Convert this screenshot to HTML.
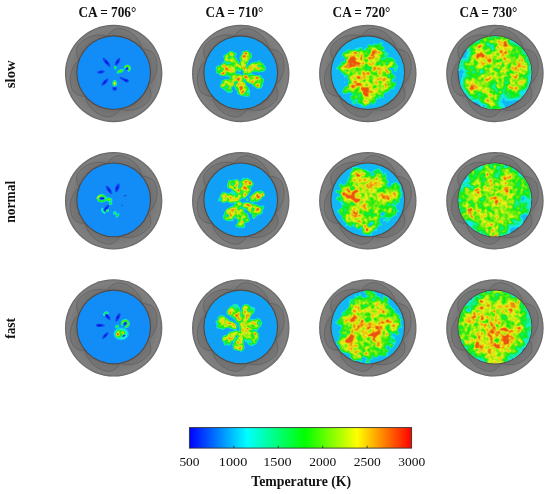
<!DOCTYPE html>
<html lang="en"><head><meta charset="utf-8"><title>Temperature contours</title>
<style>html,body{margin:0;padding:0;background:#fff}svg{display:block}text{font-family:"Liberation Serif","DejaVu Serif",serif;fill:#111}</style></head><body>
<svg width="550" height="494" viewBox="0 0 550 494">
<defs>
<radialGradient id="rg" gradientUnits="objectBoundingBox" cx="0.5" cy="0.5" r="0.5"><stop offset="0.76" stop-color="#747474"/><stop offset="0.86" stop-color="#7b7b7b"/><stop offset="0.955" stop-color="#808080"/><stop offset="0.985" stop-color="#6e6e6e"/><stop offset="1" stop-color="#5e5e5e"/></radialGradient>
<linearGradient id="cb" x1="0" x2="1" y1="0" y2="0"><stop offset="0" stop-color="#0000ff"/><stop offset="0.26" stop-color="#00ffff"/><stop offset="0.52" stop-color="#00ff00"/><stop offset="0.755" stop-color="#ffff00"/><stop offset="1" stop-color="#ff0000"/></linearGradient>
<filter id="soft" x="-5%" y="-5%" width="110%" height="110%" color-interpolation-filters="sRGB"><feGaussianBlur stdDeviation="0.45"/></filter>
<clipPath id="c00"><circle cx="113.65" cy="72.7" r="36.6"/></clipPath>
<clipPath id="c01"><circle cx="240.75" cy="72.7" r="36.6"/></clipPath>
<clipPath id="c02"><circle cx="367.8" cy="72.7" r="36.6"/></clipPath>
<clipPath id="c03"><circle cx="494.9" cy="72.7" r="36.6"/></clipPath>
<clipPath id="c10"><circle cx="113.65" cy="199.9" r="36.6"/></clipPath>
<clipPath id="c11"><circle cx="240.75" cy="199.9" r="36.6"/></clipPath>
<clipPath id="c12"><circle cx="367.8" cy="199.9" r="36.6"/></clipPath>
<clipPath id="c13"><circle cx="494.9" cy="199.9" r="36.6"/></clipPath>
<clipPath id="c20"><circle cx="113.65" cy="327" r="36.6"/></clipPath>
<clipPath id="c21"><circle cx="240.75" cy="327" r="36.6"/></clipPath>
<clipPath id="c22"><circle cx="367.8" cy="327" r="36.6"/></clipPath>
<clipPath id="c23"><circle cx="494.9" cy="327" r="36.6"/></clipPath>
</defs>
<rect width="550" height="494" fill="#ffffff"/>
<text x="78.5" y="17.1" font-size="14" font-weight="bold" textLength="57.8" lengthAdjust="spacingAndGlyphs">CA = 706°</text>
<text x="205.6" y="17.1" font-size="14" font-weight="bold" textLength="57.8" lengthAdjust="spacingAndGlyphs">CA = 710°</text>
<text x="332.6" y="17.1" font-size="14" font-weight="bold" textLength="57.8" lengthAdjust="spacingAndGlyphs">CA = 720°</text>
<text x="459.6" y="17.1" font-size="14" font-weight="bold" textLength="57.8" lengthAdjust="spacingAndGlyphs">CA = 730°</text>
<text transform="translate(15.4 88.2) rotate(-90)" font-size="15" font-weight="bold" textLength="27.9" lengthAdjust="spacingAndGlyphs">slow</text>
<text transform="translate(15.4 222.7) rotate(-90)" font-size="15" font-weight="bold" textLength="41.9" lengthAdjust="spacingAndGlyphs">normal</text>
<text transform="translate(15.4 338.8) rotate(-90)" font-size="15" font-weight="bold" textLength="20.8" lengthAdjust="spacingAndGlyphs">fast</text>
<g>
<circle cx="113.65" cy="73.5" r="48.7" fill="url(#rg)"/>
<path d="M107.2 36.4L108.3 34.8L109.5 33.3L110.8 32.0L112.2 30.8L113.7 29.8L115.2 29.1L116.7 28.6L118.3 28.4L119.9 28.4L121.5 28.7L123.1 29.1L124.6 29.6L126.2 30.1L127.7 30.8L129.1 31.6L130.5 32.4L131.8 33.4L133.1 34.4L134.3 35.4L135.4 36.6L136.5 37.8L137.5 39.0L138.4 40.3L139.2 41.7L139.9 43.1L140.6 44.5L141.2 46.0L141.6 47.4L141.9 49.0Z" fill="#646464" fill-opacity="0.24" stroke="#464646" stroke-opacity="0.55" stroke-width="0.7" stroke-linejoin="round"/>
<path d="M141.9 49.0L143.8 49.1L145.7 49.4L147.5 49.9L149.2 50.5L150.8 51.3L152.2 52.2L153.4 53.3L154.4 54.6L155.1 56.0L155.7 57.5L156.1 59.1L156.5 60.7L156.8 62.3L156.9 63.9L157.0 65.5L157.0 67.2L156.8 68.8L156.6 70.4L156.3 72.0L155.8 73.5L155.3 75.0L154.7 76.5L154.0 77.9L153.3 79.3L152.5 80.7L151.5 81.9L150.6 83.1L149.5 84.3L148.3 85.3Z" fill="#646464" fill-opacity="0.24" stroke="#464646" stroke-opacity="0.55" stroke-width="0.7" stroke-linejoin="round"/>
<path d="M148.3 85.3L149.1 87.0L149.8 88.8L150.3 90.6L150.7 92.4L150.8 94.1L150.7 95.8L150.3 97.4L149.7 98.9L148.9 100.2L147.8 101.5L146.7 102.7L145.5 103.8L144.2 104.8L142.9 105.8L141.5 106.6L140.1 107.4L138.6 108.1L137.1 108.7L135.6 109.2L134.0 109.6L132.5 110.0L130.9 110.2L129.3 110.3L127.7 110.3L126.2 110.3L124.6 110.1L123.1 109.9L121.6 109.6L120.1 109.0Z" fill="#646464" fill-opacity="0.24" stroke="#464646" stroke-opacity="0.55" stroke-width="0.7" stroke-linejoin="round"/>
<path d="M120.1 109.0L119.0 110.6L117.8 112.1L116.5 113.4L115.1 114.6L113.7 115.6L112.1 116.3L110.6 116.8L109.0 117.0L107.4 117.0L105.8 116.7L104.2 116.3L102.7 115.8L101.1 115.3L99.6 114.6L98.2 113.8L96.8 113.0L95.5 112.0L94.2 111.0L93.0 110.0L91.9 108.8L90.8 107.6L89.8 106.4L88.9 105.1L88.1 103.7L87.4 102.3L86.7 100.9L86.1 99.4L85.7 98.0L85.4 96.4Z" fill="#646464" fill-opacity="0.24" stroke="#464646" stroke-opacity="0.55" stroke-width="0.7" stroke-linejoin="round"/>
<path d="M85.4 96.4L83.5 96.3L81.6 96.0L79.8 95.5L78.1 94.9L76.5 94.1L75.1 93.2L73.9 92.1L72.9 90.8L72.2 89.4L71.6 87.9L71.2 86.3L70.8 84.7L70.5 83.1L70.4 81.5L70.3 79.9L70.3 78.2L70.5 76.6L70.7 75.0L71.0 73.4L71.5 71.9L72.0 70.4L72.6 68.9L73.3 67.5L74.0 66.1L74.8 64.7L75.8 63.5L76.7 62.3L77.8 61.1L79.0 60.1Z" fill="#646464" fill-opacity="0.24" stroke="#464646" stroke-opacity="0.55" stroke-width="0.7" stroke-linejoin="round"/>
<path d="M79.0 60.1L78.2 58.4L77.5 56.6L77.0 54.8L76.6 53.0L76.5 51.3L76.6 49.6L77.0 48.0L77.6 46.5L78.4 45.2L79.5 43.9L80.6 42.7L81.8 41.6L83.1 40.6L84.4 39.6L85.8 38.8L87.2 38.0L88.7 37.3L90.2 36.7L91.7 36.2L93.3 35.8L94.8 35.4L96.4 35.2L98.0 35.1L99.6 35.1L101.1 35.1L102.7 35.3L104.2 35.5L105.7 35.8L107.2 36.4Z" fill="#646464" fill-opacity="0.24" stroke="#464646" stroke-opacity="0.55" stroke-width="0.7" stroke-linejoin="round"/>
<circle cx="113.65" cy="72.7" r="37.4" fill="#544840"/>
<circle cx="113.65" cy="72.7" r="36.3" fill="#128cf6"/>
<g clip-path="url(#c00)"><g filter="url(#soft)">
<g transform="translate(114 72.9) scale(0.1)"><path fill="#13b8ef" d="M128 -83l4-1 6 1 10 2 4 3 0 1 6 3 9 12 2 4 2 6 0 14-2 6-2 4-4 6-1 0-4 6-6 3 0 1-4 2-6 0-4-2 0-1-5-5 0-4 1-6 4-3 0-1 5-6 1-4 0-6-2-4-4-4-7-2-9 5 0 1-4 4 0 1-10 7-6-1-5-7-2-4 0-6 3-4 2-6 8-7 4-3 6-3 7-1zM8 -71l4-1 6 1 3 3 1 3 3 3 2 10-2 10-7 9-8 1-2-1-5-5-1 0-3-4-1-6 0-10 1-4 4-6zM68 -40l10-2 10 0 10 2 2 2 2 6 0 4-2 6-2 3-2 1-4 4-4 5-6 3-6 4-8 4-3 0-7 4-6 1-4 0-6 1-6 0-4-1-4-2-3-3-2-4 1-6 4-5 4-6 11-9 15-8 6-2zM-2 71l4-2 6-1 4 1 6 4 4 5 4 4 1 6 1 0 2 4 1 6 0 14-1 6-2 4-1 0-2 6-7 7-9 3-5 0-6-2-6-3 0-1-4-4 0-2-3-4-2-10 0-14 2-10 5-10 2-3 4-3z"/>
<path fill="#15f0f0" d="M118 -78l4-2 6-1 10 0 9 3 5 3 3 3 3 1 4 7 2 2 2 4 2 10 0 7-2 9-2 4-2 2-2 4-8 7-4 1-6 0-5-4-2-4 2-6 7-10 2-4-2-10-6-6-6-1-6 1-4 3-4 6-3 1-3 3-4 1-6-2-3-6 0-6 1-4 4-6 5-4 3-4 5-2zM8 -69l4-1 6 3 4 5 0 2 2 2 0 10-2 3 0 3-4 4-6 3-6-3-4-5-2-5 0-10 2-4 1 0 3-5zM78 -38l10 0 4 2 4 4 1 4-2 6-3 2-4 6-2 2-7 4-1 2-6 2-4 3-10 3-10 2-10 0-6-3-2-3 0-6 2-5 4-5 6-5 10-7 7-2 3-3 14-3zM-2 77l4-3 6-1 4 2 4 3 2 0 3 4 5 10 1 6 0 14-1 6-2 4-2 2-1 4-3 3-6 3-4 1-6 0-10-8-3-5-1-6-2-4 0-14 2-4 1-6 3-6 5-4z"/>
<path fill="#13efb8" d="M122 -78l10-2 11 2 5 2 4 4 5 4 1 0 4 6 2 4 2 6 0 14-2 6-2 4-4 6-10 7-6-1-2-2-2-4 0-6 4-4 0-2 3-4 2-4 0-6-2-4-5-6-2-1-6-1-8 2-6 7-6 4-4 1-6-3-2-9 2-4 1 0 3-6 2-1 3-4 10-4zM12 -68l6 3 4 7 0 10-2 6-2 2-6 2-4-1-3-3-3-6 0-10 2-4 4-4 4-2zM68 -34l10-2 4 0 6 1 3 3 2 4-1 1-1 5-3 5-6 4 0 1-4 3-6 3-4 3-5 2-15 3-6 0-8-4-1-6 2-4 4-6 3-3 3-1 3-3 5-3 9-4 2 0zM2 77l6 0 4 1 6 4 4 9 1 1 2 6 0 14-2 6-5 9-6 4-4 1-6 0-6-4-4-5-2-5-2-10 0-6 2-10 5-10 7-4z"/>
<path fill="#12ed80" d="M128 -78l10 0 4 2 6 2 8 6 2 2 4 8 1 1 2 9 0 6-2 10-1 0-4 8-6 5-4 1-6-1-2-3 0-6 2-4 1 0 5-9 0-8-6-9-4-2-6-1-10 3-5 6-5 3-4 0-5-3-1-2 0-5 6-8 0-1 4-4 2 0 4-3 4-2 4-1zM8 -64l4-2 6 3 2 5 1 6-3 10-6 3-6-3-3-10 1-6 2-5zM72 -33l6-1 10 3 2 3-1 6-7 7-2 3-8 4-4 3-10 4-6 1-4 0-9-2-3-6 2-4 4-6 5-5 15-8 7-1zM2 80l6-1 7 3 3 3 3 7 1 5 1 1 0 14-1 1-1 5-3 6-4 4-6 2-6 0-4-3-6-8-2-7 0-14 2-7 6-8 0-1z"/>
<path fill="#10ec47" d="M118 -73l4-2 10-2 10 2 6 2 4 4 2 1 4 4 3 6 3 10 0 6-3 10-3 6-4 4-6 3-6-3-1-6 3-4 3-6 1 0 1-4 0-6-1-4-1 0-3-6-6-3-6-1-10 3-2 1-5 6-3 1-4 0-2-1-2-6 1-4 7-8 4-2zM12 -64l6 4 1 2 1 6-2 7-3 3-3 1-4-3-3-4 0-10 3-4zM62 -29l10-3 6 0 4 1 4 3 0 6-4 5-5 5-5 3-4 2-6 2-4 2-6 1-7 0-3-2-3-4 1-4 4-6 4-2 4-4 7-4zM2 82l6-1 4 2 5 5 1 0 2 4 2 10 0 6-2 10-2 4-1 0-5 5-4 1-6 0-6-6-3-4-2-10 0-6 1-7 1-3 5-6 4-4z"/>
<path fill="#0fea0f" d="M122 -74l6-1 10 0 4 1 6 3 5 3 4 6 1 0 2 4 2 10 1 0-3 16-2 4-1 0-4 6-5 1-3-1-2-6 5-7 2-7 0-6-2-6-3-4-7-4-6-1-10 2-4 5-5 4-5-1-3-5 6-10 7-4 1 0zM8 -59l4-3 6 4 0 10-1 0-5 4-4-2-2-6 1-5zM62 -28l10-2 6 0 5 2 1 6-2 1-4 6-3 3-3 1-4 3-2 0-3 2-11 2-10-3 1-5 3-6 2 0 4-4 0-1 6-2 4-3zM2 84l6-1 4 2 6 7 2 6 0 14-2 6-6 6-4 2-6 0-4-4-3-4-2-6 0-14 2-6 3-4z"/>
<path fill="#47ec10" d="M122 -73l6-1 10 0 12 6 8 9 3 11 0 6-3 9 0 2-6 6-4 2-3-5 3-5 3-9 0-6-1-4-3-6-7-4-2-2-6-1-4 1-4 2-2 0-4 4-6 3-5-2 2-5 3-5 10-5zM12 -59l2 1 1 6-1 4-3 0-3-4 2-6zM72 -28l6 0 2 6-2 5-6 4 0 1-4 2-10 3-6 1-5-2-1-4 3-6 13-7 6-2 0-1zM2 86l6 0 4 2 4 4 2 3 1 7 0 6-1 7-2 3-4 4-4 2-6-1-5-5-3-10 0-6 3-10 4-4z"/>
<path fill="#80ed12" d="M118 -68l4-2 6-2 4 0 10 2 6 2 8 10 2 3 1 7 0 6-1 6-3 4-3 5-4 0 4-11 0-4 1 0 0-6-1 0 0-4-4-7-10-7-10 0-6 2-1 2-3 1-6 4-1-1 0-4 1-2 5-4zM62 -23l10-2 4 3-2 4-6 6-6 1-4 2-6-1-2-2 2-6 8-4zM2 89l6-1 6 4 2 6 2 4 0 6-2 4-2 6-6 4-6-1-3-3-3-6 0-14 3-6z"/>
<path fill="#b8ef13" d="M2 92l6-1 3 1 5 10 0 6-5 10-3 1-6-1-4-9-1-1 0-6 5-10z"/>
<path fill="#f0f015" d="M2 96l6-2 4 4 1 4 0 6-1 4-4 4-6-2 0-2-2-4 0-6 2-4z"/>
<path fill="#1047ec" d="M-108 -151l6 1 4 2 2 0 8 6 6 4 6 6 5 4 5 6 4 4 4 6 4 4 4 6 2 4 1 0 5 9 3 7 1 4 1 0 1 6 0 4-3 6-3 1-6-1-10-5 0-1-4-3-3-1-7-7-6-5-4-5-4-3-6-9-2-1-3-6-1 0-3-4-1-4-2-2-4-7-3-7-2-10 1-6zM48 -148l4-1 6 0 4 7 0 10-2 10-3 5-1 5-4 6-1 4-3 4-1 0-3 6-2 1-4 6-6 6-2 1-2 3-6 1-4-2-6-1-2-1-2-4 0-6 2-10 4-10 4-6 1-4 3-4 1 0 3-6 2-1 4-6 6-6 2-1 2-3 5-3zM127 -54l5-1 6 1 4 6 1 0 0 6-3 4-2 4-6 5-3 1-1 3-6-2 0-1-4-4-1 0-2-6 7-12 3-2zM-138 -24l6-1 4 0 6-1 4 0 6 1 4 0 6 2 7 5 1 6-4 5-4 4-10 5-2 0-4 2-14 3-20 0-6-1-7-4-3-4 1-6 4-5 10-6 5-2 7-1zM58 41l4-1 6 0 8 2 12 4 4 2 6 2 4 2 0 1 6 2 6 3 4 0 14 3 6 3 8 8 2 5 1 5-1 5-6 6-4 2-10 0-6-1-4-2-6-2-4-2 0-1-6-3-1-2-3-1-6-4-4-2-4-3-2 0-4-3-6-3-4-4-6-5-7-9 0-6zM-68 56l6 0 5 6 0 6-3 10-2 4-1 0-3 6-7 10-5 4-4 6-6 4-4 5-9 5-7 4-6 2-6 0-5-6 0-4 1-6 2-4 2-6 3-4 3-6 2-1 6-9 5-4 3-4 9-6 1-2 6-3 0-1 4-2 6-2zM-8 142l6-1 4 1 10 0 6-1 5 1 4 6 1 0 2 4 0 6-2 8-1 2-4 4 0 1-9 5-6 1-9-1-7-4-6-6-3-10 2-10 5-6z"/>
<path fill="#0f0fea" d="M42 -128l2 0 3 6 0 4-2 6-3 4-4 8-10 8-2 0-3-6 0-4 2-6 3-4 4-8 10-8zM-88 -126l6 2 1 2 6 4 9 10 4 5 4 10 1 1 0 4-1 1-5 1-2-2-3-1-4-3 0-1-5-5-1 0-4-4 0-2-6-7-3-7-1-4zM127 -49l5-2 6 3 1 6-1 3-6 4-4-1-2-2-2-4 2-6zM-138 -14l10-2 10 2 2 2-2 4-4 3-10 3-8 0-2-1-4-5 5-4zM92 60l6 2 2 0 2 2 10 3 16 3 4 2 3 6-2 6-5 1-6 0-12-7-2-3-6-3-4-3-3-1-7-6zM-82 76l5 0 1 2 0 4-2 4 0 2-4 6-4 4-5 4-1 2-8 4-4 0-2-6 4-7 1-3 3-4 1 0 5-5 0-1 4-3 3-1zM-2 152l4-3 6-1 8 4 1 6-2 4-3 3-4 2-6-1-4-4-2-4 1-6z"/></g>
</g></g>
</g>
<g>
<circle cx="240.75" cy="73.5" r="48.7" fill="url(#rg)"/>
<path d="M234.3 36.4L235.4 34.8L236.6 33.3L237.9 32.0L239.3 30.8L240.8 29.8L242.3 29.1L243.8 28.6L245.4 28.4L247.0 28.4L248.6 28.7L250.2 29.1L251.7 29.6L253.3 30.1L254.8 30.8L256.2 31.6L257.6 32.4L258.9 33.4L260.2 34.4L261.4 35.4L262.5 36.6L263.6 37.8L264.6 39.0L265.5 40.3L266.3 41.7L267.0 43.1L267.7 44.5L268.3 46.0L268.7 47.4L269.0 49.0Z" fill="#646464" fill-opacity="0.24" stroke="#464646" stroke-opacity="0.55" stroke-width="0.7" stroke-linejoin="round"/>
<path d="M269.0 49.0L270.9 49.1L272.8 49.4L274.6 49.9L276.3 50.5L277.9 51.3L279.3 52.2L280.5 53.3L281.5 54.6L282.2 56.0L282.8 57.5L283.2 59.1L283.6 60.7L283.9 62.3L284.0 63.9L284.1 65.5L284.1 67.2L283.9 68.8L283.7 70.4L283.4 72.0L282.9 73.5L282.4 75.0L281.8 76.5L281.1 77.9L280.4 79.3L279.6 80.7L278.6 81.9L277.7 83.1L276.6 84.3L275.4 85.3Z" fill="#646464" fill-opacity="0.24" stroke="#464646" stroke-opacity="0.55" stroke-width="0.7" stroke-linejoin="round"/>
<path d="M275.4 85.3L276.2 87.0L276.9 88.8L277.4 90.6L277.8 92.4L277.9 94.1L277.8 95.8L277.4 97.4L276.8 98.9L276.0 100.2L274.9 101.5L273.8 102.7L272.6 103.8L271.3 104.8L270.0 105.8L268.6 106.6L267.2 107.4L265.7 108.1L264.2 108.7L262.7 109.2L261.1 109.6L259.6 110.0L258.0 110.2L256.4 110.3L254.8 110.3L253.3 110.3L251.7 110.1L250.2 109.9L248.7 109.6L247.2 109.0Z" fill="#646464" fill-opacity="0.24" stroke="#464646" stroke-opacity="0.55" stroke-width="0.7" stroke-linejoin="round"/>
<path d="M247.2 109.0L246.1 110.6L244.9 112.1L243.6 113.4L242.2 114.6L240.8 115.6L239.2 116.3L237.7 116.8L236.1 117.0L234.5 117.0L232.9 116.7L231.3 116.3L229.8 115.8L228.2 115.3L226.7 114.6L225.3 113.8L223.9 113.0L222.6 112.0L221.3 111.0L220.1 110.0L219.0 108.8L217.9 107.6L216.9 106.4L216.0 105.1L215.2 103.7L214.5 102.3L213.8 100.9L213.2 99.4L212.8 98.0L212.5 96.4Z" fill="#646464" fill-opacity="0.24" stroke="#464646" stroke-opacity="0.55" stroke-width="0.7" stroke-linejoin="round"/>
<path d="M212.5 96.4L210.6 96.3L208.7 96.0L206.9 95.5L205.2 94.9L203.6 94.1L202.2 93.2L201.0 92.1L200.0 90.8L199.3 89.4L198.7 87.9L198.3 86.3L197.9 84.7L197.6 83.1L197.5 81.5L197.4 79.9L197.4 78.2L197.6 76.6L197.8 75.0L198.1 73.4L198.6 71.9L199.1 70.4L199.7 68.9L200.4 67.5L201.1 66.1L201.9 64.7L202.9 63.5L203.8 62.3L204.9 61.1L206.1 60.1Z" fill="#646464" fill-opacity="0.24" stroke="#464646" stroke-opacity="0.55" stroke-width="0.7" stroke-linejoin="round"/>
<path d="M206.1 60.1L205.3 58.4L204.6 56.6L204.1 54.8L203.7 53.0L203.6 51.3L203.7 49.6L204.1 48.0L204.7 46.5L205.5 45.2L206.6 43.9L207.7 42.7L208.9 41.6L210.2 40.6L211.5 39.6L212.9 38.8L214.3 38.0L215.8 37.3L217.3 36.7L218.8 36.2L220.4 35.8L221.9 35.4L223.5 35.2L225.1 35.1L226.7 35.1L228.2 35.1L229.8 35.3L231.3 35.5L232.8 35.8L234.3 36.4Z" fill="#646464" fill-opacity="0.24" stroke="#464646" stroke-opacity="0.55" stroke-width="0.7" stroke-linejoin="round"/>
<circle cx="240.75" cy="72.7" r="37.4" fill="#544840"/>
<circle cx="240.75" cy="72.7" r="36.3" fill="#10a0f6"/>
<g clip-path="url(#c01)"><g filter="url(#soft)">
<g transform="translate(241 72.9) scale(0.1)"><path fill="#14d4ef" d="M48 -225l4-1 10 0 6 1 10 8 4 5 6 5 4 2 3 3 3 1 4 3 0 1 4 5 1 4 0 6 3 14 1 6-1 4-3 6-4 5-1 0-1 5-9 9 0 1-4 4-1 0-5 5-5 11-3 10-3 4-1 6-3 4-2 6-3 2 0 2-2 6-3 4 1 1 5-2 5-3 4-4 6-4 6-8 7-4 1-2 6-3 0-1 4-3 6-1 4-4 10-2 6-3 4-1 9 0 1-1 6-1 4 0 6 1 4-1 6-3 0-1 4-4 1 0 5-4 4-1 6 1 7 8 1 6 6 6 6 2 1 2 9 1 4 5 4 4 3 4 3 9 2 1 3 6 1 0 3 4 1 3 3 3 4 10 2 4 0 10-3 6-6 8-4 5-2 1-4 4-4 1-16 0-4 2-6 2-4 0-8 1-2 2-10 3-6 0-10-3-4-2-9 0-1 1-6 2-4-1-3-2-7-1-6 0-5 1-3 6-2 1-2 3-2 5-6 0 0 2 6-1 4 0 6 1 10 4 6 5 4 0 4 1 10 4 16 0 4-3 6-1 4 0 6 1 4 2 0 1 6 3 2 2 2 4 1 0 3 6 2 6 3 4 9 4 7 6 1 0 3 4 1 6 0 10-5 10-2 10-3 4 0 10-2 10-2 6-2 4-2 6-2 2 0 2-2 6-2 3-6 4-4 2-16 0-10 2-10 0-4-2-6-4 0-1-4-4 0-1-9-5-7 0-7-4-5-6-2-4 0-2-3-4-7-5-6-2-2-3-8-1-14-4-6-1-3-4-7-3-7-7-5-4-8-10-3-6-7-2-1 2 1 3 5 5 3 2 2 6 0 2 3 2 2 6 3 4 2 6 0 2 3 2 1 6 3 4 3 6 4 4 4 6 2 5 7 9 3 11 8 9 1 6 0 14-1 6-2 5-1 5 0 14-1 6-8 8-10 4-6 1-10 0-9-3-5-2-6-1-14 0-10-2-2-1-4 0-4-1-6-4-4-5-6-2-4-3-10 0-5-5-1 0-2-4 0-6 4-14-1-6-1 0-4-4 0-1-6-3-1-2-6-4-7-10 0-2-2-4-2-10 0-4-1-6 0-4-7 4-8 8-6 5-1 3-3 4-1 0 0 6 1 0 3 4 1 4 2 2 2 4 1 6 0 4-2 6-3 2-4 6-6 4-4 2-5 0-1 1-10-2-4 0-6-1-10-4-4-5-10-7-2-2-4 0-4-4-1 0-4-6-11-6-4-5-6-4-10-3-9-6-4-6-1-4 0-16 6-10 5-4 4-6 1-4-1-6 1-4 0-6 4-4 4-5 6-3 10-2 4-4 6-1 0-1 4-2 6-1 4 1 6 3 10 0 5-2 5-3 5-6 5-4 2-6-2-2-6 1-4 0-6-1-4-2-6-1-10 0-4-1-6 0-10-2-14 0-6-2-4 0-16-3-4-3-8-8-2-4-2-2-4-1-4-2-10-3-5-4-1 0-3-4-1-6 0-4 1-6 0-10-1-6-2-4-1-4 0-6 3-6 0-4 4-5 6-5 4-4 1 0 5-4 4-1 16 0 4-3 6-2 4-5 2-1 4-4 2-6 2-3 2-1 4-5 0-1 4-3 8-1 2-1 2-5-1-4 0-6-1 0-3-4-1-6 0-16-3-4-2-4 0-6 1-4 3-6 1 0 4-4 4 0 2-2 10-5 5-3 9-9 5-1 12-10 3-5 6-4 4-1 10 0 10 2 10 5 3 3 3 1 4 3 0 1 6 1 7 4 3 0 7 4 3 6 1 4-2 6-2 4-4 6-3 2-5 2 0 6 5 2 7 8 7 14 0 3 3 3 7 12 3 2 4 10 2 6 3 0 4-5 0-5 2-6 2-4-2-6-2-4-1 0-3-6-1-4 2-10 3-6 1-4 4-6 2-4 3-4 0-2 5-10 1-4 0-6 2-10 5-10 1-1 6-1 4 1 6 0 4-2 6-1 7 0zM-136 -102l8 0 6 1 4 0 4-1-4-1-14 0zM177 -72l0 4 1 1 4 0 0-2-4-3 0-1zM10 -32l-4 4-8 10-1 0-1 6-4 4-4 2-6-2-4-4-1 0-5-5 0-1-4-1-8 1-4 6-4 3 0 12 6 2 4 2 10-3 6 0 4 1 6 4 4 4 6 1 7 4 16 0 3-6-5-4-1-6 0-21-4-3-1-6 0-4-1-5zM-48 88l-4 4-1 0-2 6-2 4-1 6 6-2 10-8 0-6-6-5zM-148 142l-1 6 1 1 6 0 1-1 0-6-7 0z"/>
<path fill="#14efd4" d="M58 -223l4 0 2 1 4 0 10 7 4 6 6 4 2 3 8 4 0 1 5 5 2 4 1 6 0 10 1 4 0 10-3 6-2 1-1 3-7 10-6 6-6 5-2 5-3 4-2 6-3 6-1 4-3 4-1 0-3 6 0 4-2 2-2 8-5 10 3 4 7-4 3-1 4-3 0-1 6-3 4-5 2-1 4-5 0-1 10-7 4-4 11-3 5-3 10-2 4-2 10-2 20 0 5-1 5-7 6-4 4-1 6 2 3 4 5 10 2 2 4 2 2 2 8 2 6 3 6 5 7 14 3 6 4 4 4 9 2 1 3 10 0 10-2 6-3 2-5 8-5 4-4 3-10 0-6 1-4 0-6 1 0 1-19 4-5 2-6 0-5-2-9-2-6 0-4 1-10 0-6-1-4-2-4 0-6 1-6 5-2 4-2 2-4 2-2 2-4 2-7 6 1 2 6 0 10-3 4 0 7 1 3 2 6 2 4 3 6 1 4 2 0 1 6 1 24 0 6-1 4 0 10 2 8 7 2 11 4 5 16 8 6 6 2 6 0 4-1 6-3 4-1 6-3 5-1 5 0 4-3 17-2 3-2 6-2 4-1 6-2 4-2 6-9 6-10 2-26 0-4-1-8-7-2-3-6-4-10-2-3-1-1-2-4-4-2-1-2-3-2-6-4-4-6-3-4-3-2 0-4-2-9-2-1-1-10-2-14-7-6-7-6-4-4-5 0-1-4-3-3-6-3-3-10-3-1 2 1 4 4 7 6 5 2 4 2 6 3 4 5 10 2 7 4 7 2 2 4 7 2 1 2 6 2 1 4 7 2 2 4 8 0 2 4 9 3 5 2 6 0 14-2 10 0 20-2 6-1 0-4 4-10 5-10 2-6-1-4-2-6-2-4-2-6-1-4 1-6 0-4-1-10 0-6-1-4-3-6-3-4-4-4-2-2-2-4-2-6-1-4-1-4-4 0-10 2-10-1-6-7-7-6-4-3-3-1-3-3-3-3-5-3-9-1-6-2-4-1-6 0-4-3-4-4 5-6 4-5 5-5 4-1 0-4 6-1 4 0 6 4 10 2 4 1 0 1 6 0 4-3 6-3 4-1 0-7 6-2 1-8-1-2-2-6-1-4 1-6 0-4-1-6-3-4-4-1 0-6-6-3-2-6-2-5-6-6-4-7-6-2 0-5-5-11-5-4-1-4-3 0-1-6-6-2-3 0-10 1-6 3-4 3-6 1 0 4-4 3-6 1-4 0-10 2-4 0-2 4-6 10-5 9-3 7-4 4-1 6 0 10 2 10 0 4-1 9-6 1-2 4-4 2-1 4-7 2-2 1-4-3-2-4 0-6 1-10 0-4-2-6-2-4-3-6 2-14 0-6-1-20 0-10-2-4-2-6-2-4-4-4-3-3-6-3-3-16-5-4-2-6-5-1-5 0-4 1-7 1-3-3-16-1-4 0-6 3-10 6-7 2-3 8-4 4-3 16 0 10-5 3-2 1-2 4-4 2-1 4-7 6-6 4-5 10-3 6-1 2-1-5-10-1-6-2-4-2-6 0-14-1-6-3-4-1-6 3-6 4-4 6-2 4-2 0-1 6-3 4-4 6-3 4-4 10-5 0-1 6-4 0-1 4-4 0-1 6-4 0-1 4-2 6 0 11 2 9 3 4 4 6 3 8 6 6 1 8 3 5 6 0 4-1 6-2 1-4 6-6 2 0 1-4 4 1 6 9 7 4 6 2 1 2 6 6 12 6 6 4 8 3 4 1 4 3 6 3 5 4 5 3 0-1-6 0-4 1-6 2-4 3-10 0-6-3-4-3-6-1-4 3-16 2-5 6-9 2-6 4-4 1-6 3-6 0-4 2-10 2-4 1 0 5-4 4 0 6-1 4 0 6-3 10-2 6 0zM-113 -158l0 6 5 0-4-6zM-144 -102l6 2 10 0 6 2 4 1 6-1 1-4-1-2-6-1-10 0-4 1-10 0zM176 -72l-1 4 3 4 4-1 3-3-1-4-6-2zM11 -38l-7 10-7 6-2 4-1 6-6 3-8-3-2-4-6-5-4-1-6 1-6 3-4 5-2 11-2 4 4 4 6 3 10 0 4-2 6-1 4 2 10 7 6 2 14 3 6 0 4-2 2 0 4-5 4-1-4 0-6-5-2-5 0-20-2-4-1 0-3-10-1-6-1-1zM52 12l0 1 6 0 0-1-6 0zM-50 88l-5 4-3 4-1 6 0 6 1 5 7-5 9-8 1-2 0-6-1-3-6-4zM-152 142l-1 6 1 0 4 4 0 1 6 0 0-1 4-4 0-6-4-3-6 0zM66 188l2 1 3-1-3-1z"/>
<path fill="#13ee9c" d="M38 -218l10-2 4 0 6-1 4 0 6 1 4 3 5 5 1 0 4 4 0 1 5 5 5 3 3 1 7 8 1 2 1 6 0 4 1 6 0 10-1 4-6 12-13 14-3 2-4 8-3 4-1 6-3 4-3 7-6 2-1 1-1 6 1 4-3 11-3 5-1 4-3 6 1 2 9-2 7-4 0-2 10-6 4-5 6-5 4-5 10-7 2-2 4-1 4-2 5-1 1-1 14-3 4-2 6-1 20 0 6-1 2-2 2-4 2-2 4-2 4-1 6 2 1 1 2 6 3 4 4 4 4 2 6 2 4 2 2 0 8 7 2 3 2 6 5 10 4 4 4 6 2 4 3 10 1 6-1 4-2 4 0 2-4 6-4 4-6 4-10 2-10 0-6 1-6 3-4 0-10 2-4 2-6 0-4-2-10-2-6 0-4 1-10 0-6-1-4-2-6-1-6 3-5 4-3 6-10 6-5 4-1 0-4 4 4 5 5 0 11-2 4-2 6 1 8 4 2 0 4 3 5 1 5 2 6 1 4 0 6 1 10 0 4-1 10 0 6 1 4 2 4 4 2 3 0 2 4 10 6 5 4 2 6 2 7 6 3 6 0 5-4 9-1 6-2 4-3 16-3 10-5 10-1 4 0 6-5 10-6 4-2 0-4 2-10 0-4 1-10 0-6-1-4-2-6-5-5-5-4-3-5-1-4 0-6-4-6-6-2-6-2-3-6-4-5-3-13-4-6-3-6-1-4 0-2-2-4-1-6-3-8-8-6-5-4-6-2-1-2-6-6-5-6-2-4-2-3 5 1 4 3 6 5 4 4 5 4 10 6 9 0 2 2 4 2 6 6 8 0 2 3 4 3 6 4 4 6 10 2 6 2 4 1 6 2 4 0 6-3 1-6-1-4 3-3 1-6 6 0 4 3 2 6 1 4-1 10-4 1 2 0 30-3 6-2 2-5 3-5 2-6 1-4 0-10-2-10-5-10 0-6 1-4 0-6-1-4 0-6-1-9-6-1 0-4-4-1 0-7-6-2-1-6-1-4-2-2-6 2-10 0-7-1-3-5-6-10-8-4-8-2-2-2-6-3-4-1-6-2-4-1-6 0-4 2-10-1-3-2 3-4 4-5 6-6 4-3 4-6 4-6 8-2 4 0 6 1 4 5 10 2 6-3 10-7 5-4 2-6-1-4-5-6 1-10 4-10-4-7-8-7-4 0-1-6-3-4-5-3-1-3-3-12-7-2-3-6-1-4-3-6-2-4-4-6-8 0-11 1-4 9-13 2-1 4-7 1-3-1-6 2-10 2-3 10-5 2-2 4-1 7-3 3-2 4-1 10 0 10 2 6 0 4-1 10-7 2-1 4-4 4-6 0-1 4-5 1-4-5-4-4 0-6 1-4 0-6-1-4-2-5-4 0-6-5-2-6 6-1 2-8 2-25 0-10-2-3 0-3-2-10-3 0-1-4-4-1 0-3-6-6-6-13-4-3 0-6-4-3-10 3-10-2-10-2-4 0-15 1-1 2-6 4-4 4-6 9-4 6-1 10 0 4-2 10-7 1 0 5-5 0-1 4-4 0-1 4-5 5-4 1-2 6-2 4-2 6-1 4 1 0 1 6 2 4 4 6 4 4 1 6-2 10 2 4 2 6 0 3-4 0-4-3-3-6-1-30 0 0-2-10-3-4-9-2-2-2-10-3-6 0-20-2-4-1-5 2-5 2-3 4-3 2 0 8-4 7-6 7-4 2-2 6-3 0-1 7-4 7-8 6-5 4-2 10 0 6 1 9 4 5 3 3 1 7 6 14 4 2 1 3 5 1 4-2 6-2 3-6 3-7 8 1 6 4 4 2 3 6 4 5 8 2 5 3 6 4 6 4 4 2 1 6 13 2 6 2 1 1 3 5 6 4 4 2-4-1-6 3-14 1 0 3-10 0-6-1-4-4-6-1-4 0-6 2-10 3-4 2-6 3-4 3-6 3-4 2-6 2-4 1-6 0-4 1-5 6-6 4-2 6 0 9-3zM-115 -158l0 6 3 2 4 0 3-2-1-6-6-2zM-9 -82l3 0-2-4zM174 -72l-2 5 5 5 6 0 4-6-1-5-4-2-4-1zM9 -38l-1 3-6 7-8 6 0 4-5 6-4 0-3-2-4-6-6-5-4 0-6 1-1 2-3 1-4 3-5 10-1 6-3 4 7 7 6 2 4 0 10-2 6 0 4 1 6 5 5 3 9 2 6 0 10 2 4-3 3-1 3-3 9-3-9-2-3-2-3-4-1-6 0-6 1-4-1-6-3-7-2-3-2-10-2-3zM-199 -18l1 3 6-1 0-3-6-2zM39 12l9 2 10 0 4-2-10-2-10 2zM-53 88l-5 5-2 5 0 4-1 6 1 4 2 3 3-3 3-1 4-4 6-4 3-5 0-6-3-5-6-3-4 3zM-149 138l-6 4 0 6 3 5 4 2 6 0 6-7 0-6-6-6-6 1z"/>
<path fill="#11ec63" d="M42 -218l6 0 4-1 10 0 6 1 6 6 5 4 3 5 1 0 7 5 2 2 6 3 3 5 1 6 0 5 1 5 0 10-1 4-4 8-2 2-3 6-1 0-4 4 0 1-5 5-1 0-3 4-3 6-3 4-1 6-3 4-1 3-6 3-6 4 2 10 0 5-4 11-2 4-2 6 2 4 6-1 4 0 6-4 4-5 6-4 1 0 5-6 4-3 0-1 5-6 9-6 5-4 5-1 10-3 16-3 4-1 20 0 6-1 0-1 4-4 1 0 5-5 0-1 7 0 3 3 1 3 3 5 6 4 0 1 4 3 7 1 9 5 4 5 1 0 2 10 3 5 4 5 0 1 6 8 3 11 1 6-3 10-4 4-5 6-8 3-4 1-10 0 0 1-6 0-14 4-2 1-4 0-4 1-6 0-6-1-4-2-4-1-6 0-4 2-10 0-10-3-6 0-4 1-6 3-4 5 0 1-4 4-2 0-4 4-6 3-4 5-4 2-2 2-10 2-3 2 9 4 10 0 4-1 6 0 4-2 5-1 0-1 5-1 10 2 6 3 4 1 0 1 6 1 4 2 6 0 4 1 26 0 0 1 4 0 6 2 3 2 2 5 3 5 2 2 4 7 6 4 7 3 3 0 4 4 1 0 2 6 0 4-1 6-2 4-3 10-1 7-2 3-2 10-2 4 0 2-4 4 0 2-2 4 0 4-2 10-3 6-13 4-6 1-14 0-6-1-6-4-8-8-6-2-4-2-6-2-7-6-3-6-4-5-7-5-9-4-14-4-6-1-4-1-9-4-7-5 0-1-4-4-1 0-5-6-4-4 0-2-2-4-4-5-4-2-6-2-4-2-3 1-2 6 3 10 5 4 7 10 4 9 4 7 2 2 0 2 2 6 2 4 1 0 3 6 3 4 3 6 6 8 4 6 2 10 0 6-9 10-7 6-3 4-2 4 3 6 16 0 6 2 1 2 2 10 0 6-3 9-6 3-4 3-6 0-4 1-6-1-4-3-4-2-1-6 2-10-3-3-6 3-2 6-2 4-4 4-6 1-4 1-4 0-2-1-4 0-6-2-10-5-3-2-1-2-4-4-6-4 0-1-6-4-2-11 0-4-2-9-5-6-7-5-4-5 0-5-2-6-8-8 0-2-2-4-1-6 0-4 1-6 2-5 5-5 7-4 4-3 4-7 0-6-4-7-6-3-4 4-6 4-4 8 0 12-6 10-7 8-7 6-4 4-2 0-4 4 0 1-4 5-2 4 0 8 1 2 1 6 3 4 1 6 0 5-4 5-6 2-3-2-4-6-3-1-6 2-5 5-5 2-8-2-2-1-4-5 0-1-4-3-2-3-11-7-3-3-6-3-4-3-6-3-6-4-4-1-4-2-4-1-6-6-3-4-1-6 0-4 1-6 7-9 0-1 5-4 5-10-1-6 0-4 1-5 6-5 10-5 0-1 4-1 10-4 6-1 8 2 2 0 4 2 6 0 5-2 5-3 4-4 6-4 4-5 6-9 4-10 0-1-4-2-10 2-6 1-4 0-6-2-4-3 0-12-6-3-4 2-7 7-3 4-6 2-30 0-4-2-6-1-5-3-5-2-2-2-3-6-5-6-4-4-10-2-7-2-4-6-1-4 1-6 1 0 0-11-2-9 0-10 2-5 1-5 3-4 1 0 4-6 5-2 10 0 6-1 4-2 6-4 0-1 7-4 6-6 1-2 3-2 5-6 8-4 4-2 6-1 4 1 6 3 3 3 1 5 4 5 2 1 4-2 6-4 4-1 5 1 5 3 6 2 4-4 1 0 5-5 0-1-6-6-4-3-6-1-20 0-4-1-6 0-6-3-4-3-1-3-3-4-1-6-2-4-2-6 0-10 1-4-1-6-1 0-1-4 0-6 1-5 6-2 10-6 4-4 6-3 4-3 6-3 4-4 6-4 5-6 5-4 4-2 10 0 10 2 6 2 10 7 0 1 4 2 7 2 9 5 0 8-2 3-4 2-4 4-3 4-2 4 0 6 5 6 4 4 6 5 4 9 2 6 4 4 5 6 5 5 4 9 1 6 5 5 4 5 6 6 2 4 2 2 3-2-1-6-2-4-1-6 0-4 1-6 1 0 2-4 3-8 1-8-1-5-5-9 0-6 2-10 3-6 1-4 3-4 0-2 3-4 3-5 4-9 2-10 2-6 6-4 0-1 16-3 4-2zM-114 -162l-4 4 0 5 6 5 4 0 5-5-1-5-4-4-4-1zM172 -72l-1 4 1 4 2 2 4 2 8-2 3-6-1-5-6-4-4 0-6 3zM-29 -38l-2 6-11 8-6 6-3 6-1 4-1 0-1 6-3 4 5 5 0 1 4 4 2 0 4 2 8-2 6-1 6 0 4 1 0 1 5 5 21 4 4 0 0 1 6 2 1-3 3-1 5-4 5-2 6-1 4 0 10 2 10 0 5-4-9-3-6-1-4 0-10 2-11-2-5-9 0-8 1-3 0-6-1 0-2-4-2-6-2-4-1-6-3-4-4 4 0 1-6 7-4 2 0 1-6 0-4 9-2 0-4-4 0-6 2-4-6-6-6 0zM-200 -22l-2 4 4 5 6-1 2-4-2-5-6-1zM-153 138l-5 5 0 7 6 6 5 1 5 0 5-5 3-4 0-6-2-4-6-5-6 1-4 3z"/>
<path fill="#10eb2b" d="M32 -213l10-3 6-1 10 0 10 2 4 4 6 5 4 7 10 7 5 4 3 16 1 4-1 6-2 4 0 2-5 9-1 0-4 6-6 5-2 4-4 4-5 10-3 9-6 4-5 3-4 4 0 6 2 4 0 6-1 4-2 4 0 2-2 4-2 6-1 4 1 2 4 0 6 1 4 2 6-2 4-9 4-4 6-4 1 0 5-5 0-1 4-4 0-1 5-5 1 0 4-4 12-6 4 0 4-2 6 0 10-2 4 1 16 0 6-1 4-2 10-8 4-1 6 4 0 1 4 5 10 5 0 1 10 3 2 2 4 2 2 2 2 10 0 7 6 5 4 6 2 2 3 10 1 2 0 9-3 5-4 4-3 4-4 2-6 1-16 0-14 4-10 2-6 0-10-2 0-1-4 0-10 2-10 0-6-1-4-1-11 0-5 3-4 5-6 5-2 3-8 4-4 5-10 5-10-2-6-2-4-1-6 0-4-1-6 0-10 2-4-3-4-7 0-6 1-4 0-6-3-2-4-11-1-1-1-6-4-7-4 4-7 9-3 2-6-1-7-7-5-4-2-3-6-3-4 0-6-1-5-3-5-1-4 2-2 3 3 6 3 3 3 1 3 3 1 3-7 9-3 5-2 6-2 4-1 6-6 7-6 5-4 2 4 2 6-4 4-1 10 7 6 1 4 0 10-3 6 0 5 4 9 3 6 0 7 1 7 3 6 2 3-5 9-4 2-2 6-1 10 2 4 0 2 1 4 0 13 4 1 3 6 6 4 3 7-6 3-2 6-1 10-4 4-2 6 0 4 2 6 2 4 2 11 2 5 1 10 0 4 1 10 0 9 3 1 2 9 8 1 2 4 4 5 4 1 3 6 4 10 3 4 6 0 4-1 6-2 4-1 7-2 3-3 10-5 10 0 1-5 5-1 0-2 10 0 4 1 6-1 4-2 4-2 2-8 2-10 2-6 0-10-2-4-3-5-5-1 0-4-4-6-3-4-1-6-3-4-3 0-2-2-4-4-5-5-3-1-2-4-1-10-4-4-2-8-3-8-1-10-3-7-6-6-4-4-6-3-2-4-10-6-6-4-2-6-1-4-3-3 0-2-6-1 0 0 10-1 6 0 4 1 5 10 12 6 7 0 2 4 4 0 2 4 8 2 3 0 3 3 4 2 6 3 4 2 4 0 2 3 4 1 3 6 7 1 6-1 6-2 4-4 5-2 5-8 7-4 7 0 3-2 3-4 4-11 10-3 8-6 4-4 1-6 0-10-2-10-5-5-6-5-5-4-5-3-4-2-6 0-4-1-1 0-5-4-9-6-5-2-6 2-10-4-4-6-1-6-5-4-4-1-6 0-4 1-6 10-11 6-4 4-5 0-2 2-2 0-6-2-4-5-6-5-2-4 4-5 4-1 0-4 4 0 3-2 3 0 10-1 4-3 6-4 4 0 1-5 5-1 0-4 4 0 1-6 4 0 1-4 3-3 1-5 10 0 10-2 11-6 2-4 0-6 2 0 1-10 7-4 0-6-4-2-3-2-6-4-4 0-6 4 0 8-10 2-4 1-6 0-4-4-6-7-2-6 1-4 3-6 3 0 1-4 4 0 2-2 4 1 4-5 3-4-1-3-2-3 0-4-2-6-1-4-3-6-3 0-1-4-4 0-2-2-4 0-4 1-6 1 0 4-8 6-5 2-1 2-4 2-2 2-4-1-6 0-4 2-6 11-6 5-4 9-3 6-1 10 2 4 2 6 0 4-1 13-9 3-1 7-9 4-4 4-10 3-6 5-4 1-3 6-1 1-2-1-3-8 3-2 2-13 4-7 0-6 1-4 0-3-1-2-6 1-4-1-6-1 0-4-4-5 0-5 2-6 5-1 3-3 3-6 3-10 2-4 0-6 1-4 0-10-2-6-2 0-1-4-1-6-4-3-5-5-10-2-2-4-2 0-1-10-2-6-2-1-5 1-7 1-3-3-16 0-4 2-10 1 0 2-6 7-9 6-1 10 0 10-6 3-4 1 0 5-5 1 0 5-5 7-4 2-2 10-3 1-1 5-1 4 0 2 1 4 5 4 9 6 3 4-2 6-4 0-1 4-1 6 1 4 3 6 2 4-1 6-5 4-1 6 5 4 5 6 3 3-5-1-6-2-2-7-2-8-6-1 0-4-4 0-1-6-3-1-2-9-2-4 0-6-1-14 0-8-1-8-7-2-3-2-6-3-10 0-4 1-6 0-10-2-4 0-6 8-7 5-3 5-4 6-3 5-3 9-4 1 0 4-6 1 0 4-4 0-1 5-5 5-3 16 0 4 2 6 2 5 5 5 3 3 1 1 2 9 4 2 4-4 6-2 1-5 7 0 2-2 4-1 6 3 6 4 4 6 4 0 1 6 7 3 8 1 4 1 0 5 5 0 1 6 4 3 6 1 0 4 14 1 0 5 4 1 2 5 4 4 4 0 2 4 3 6 3 0-4-3-8-2-10 0-4 1-6 4-6 1-4 2-4 1-6-4-14-1-6 0-4 2-10 3-7 5-9 3-4 3-6 3-4 2-10 2-6 2-2 6-2zM-115 -168l-3 1-1 5-2 4 1 6 2 4 6 3 4-1 4-2 3-4 0-6-1-2-10-8zM174 -78l-2 1-3 5 0 4 2 6 1 1 6 2 4 0 8-3 2-6-4-8-6-3-4 0zM-204 -22l-1 4 3 6 4 1 6 0 4-6-1-5-3-4-6-1-4 2zM-80 18l5 0-3-2zM62 202l10 0 0 1 6 6 1 3 0 6-1 5-5 5-5 2-6 1-4 0-8-3-2-6 2-10 2-4 1 0 5-5 2-1z"/>
<path fill="#2beb10" d="M38 -213l10-2 4 0 6 1 4 0 6 2 4 4 1 0 7 10 2 4 9 6 2 5 1 5 3 10-2 11-7 11-4 4-2 1-4 7-5 6-2 6-2 4-2 6-9 7-6 3-4 4 1 6 2 4 1 6 0 4-2 6-2 4 0 2-2 4-1 4 3 4 7 2 3 0 4 4 6 0 4-9 3-5 5-6 6-4 2-2 2-4 8-7 4-5 10-5 16-3 8 0 6 2 16 0 4-2 6-2 4-4 6-3 4 0 6 3 1 2 3 2 6 3 4 3 6 2 7 4 3 7-5 9-1 0-2 4 2 6 6 2 4 0 6 2 3 6 1 4 1 0 1 6 0 4-3 6-5 4-4 2-4 1-6 0-10-4-4-2-6 2-5 7-9 3-6 0-10-3-5 0-9 2-16 0-4-1-6 0-10 3-5 6-5 4-6 6-7 4-1 2-7 4-9 0-4-2-6-1-30 0-4-4-2-3 0-16-4-4-2-6-2-4-1-6-5-9-4 1-2 4-4 5-4 3-6-1-4-5-3-2-4-6-3-2-6-2-4-2-6-2-4-2-6 1-4 2-6 1 0 3 2 3 2 6 3 4 2 6 0 4-3 9-1 1-2 6-3 6-1 4-3 4-6 3-4 3-6 2-4 2 0 1-6 1-4 4-6 2-4 2-10 0-5-4-1-6-4-6-6-2-4-2-6-2-4 2-3 6-3 2-5 8-5 3-4 1 0 1-6 0-10 2-4 0-10-2-1-1-5-1-6-3-4-4 0-2-3-4-1-8-2-2-4-7-4-2-5-1-5-10 0-2-2-4-2-10 0-4 1-6 3-5 2-5 2-3 6-2 4 0 6 2 2-1 3-6 5-4 6-6 6-4 7-6 11-4 7 0 3-1 4 1 4 4 3 6 3 3 6 1 4-1 6-4 4-2 6 1 4 3 6 2 4 0 9-3 7 1 9 9 6 3 2-9 3-4 1-6-1-4-6-3-10-2-4-1-6-4-4-4-10-5-9-1-1-1-20 0-6-1-4-2-6-6-2-6-2-4 0-4-1-2 0-4 2-10 0-6-1-4 1-6 9-7 2-3 8-5 4-2 6-1 4 0 6-7 4-6 6-6 5-3 5-1 4 0 7 1 9 5 0 1 4 4 2 0 8 6 3 4-2 6-1 0-3 10-3 4-1 6 6 10 7 6 7 8 2 6 1 0 3 10 1 1 8 3 7 10 0 6 1 0 1 4 3 4 6 3 4 3 0 1 5 5 1 0 4 4 0 1 6 4 2-5-2-4-1-6-2-4 0-10 4-10 3-7 2-3 1-6-2-10-2-4-1-6 0-4 2-10 0-2 4-8 3-6 3-5 6-7 1-2 0-6 3-9 10-5 2 0zM-120 -172l-2 4-2 10 0 6 6 8 6 1 4 0 6-3 3-6 0-6-3-6-4-4-6-4 0-1-6-2zM170 -78l-3 6 0 4 2 6 3 3 5 1 1 1 4 0 6-1 6-4 1-6-1-4-6-7-6-2-4 0-6 2zM7 -58l0 4 1-4zM-207 -28l-1 2 0 4-2 4 3 6 9 3 6-1 4-2 0-2 3-4-1-4-4-6-2-2-10-2zM-68 15l6-2 4 0 5 5 5 2 6 1 14-3 6 3 4 1 14 0 6 2 6 1 6 3 4 3 1-3 3-5 10-5 6-1 4 0 16 3 7 2 3 2 4 6 6 7 0 1 4 3 6-2 4-7 6-3 4-1 0-1 6-2 4-2 6 0 10 3 4 2 6 0 4 1 6 0 4 1 10 0 10 2 3 0 3 2 14 14 6 5 4 7 6 4 4 1 6 4 0 7-3 6-1 6-2 4-4 5-6 1-3 4-1 5-1 1 0 10-2 10 2 10-1 4-4 4-4 2-10 2-6 0-9-2-11-9-4-3-7-4-3-1-6-4-4-11-7-4-12-4-1-1-6-2-6-3-8-2-10-2 0-1-6-2-10-7-5-6-4-4-2-6-3-7-4-3-2 0-4-2-6-1-2-1-8-10-3 4 0 10-1 6 0 5 1 5 3 7 10 7 0 1 6 7 6 12 2 6 2 3 0 2 3 5 1 4 1 0 2 10 7 10 0 6-2 10-2 4 0 2-2 4-5 4-9 13-1 3-5 4-4 4-4 6-3 6-7 4-10 0-6-1-6-3-4-3-6-7-3-6-1 0-3-4-2-6-2-4 0-6-3-14 0-6-2-4-2-7-6-6-4-2-6-1-4-2-2-2-3-6 0-4 2-6 3-4 6-6 4-2 2-2 2-4 2-2 2-4 0-6-2-4-2-2-2-4-8-4-4 4-1 0-5 4-4 5-2 1-3 10 1 6-1 5-5 8-2 1-4 4 0 2-10 7-4 4-6 4-3 5-1 5 0 4-4 11-2 0-4 2-7 2-8 6-6 0-3-10 0-6 4-6 1-4 2-4 1-7 2-3-1-6-1 0-4-4-2 0-8-4-6 3 0 1-10 5-4 4-7 5-3 4-6 2-10-2-4-2-2-2-4-2-4-8 0-4 1-6 3-5 5-5 1 0 4-4 2 0 4-4 3-6 0-10 3-6 8-6 6-3 0-1 4-1 10 0 5 1 5 2 6 1 4-1 2-2 4-1 4-3 0-1 6-2 4-3 6-3 2-7 4-10 4-6 2-4 8-6 5-5 6-3zM151 88l-3 4-1 0-1 6 3 0 9-5 2-5-2-2-6 0zM62 206l6-1 4 1 2 2 2 4 0 6-1 4-3 3-4 2-9 1-6-6 0-4 2-6 4-4z"/>
<path fill="#63ec11" d="M42 -213l10 0 10 2 8 3 4 6 4 8 0 2 4 4 0 2 3 4 1 4 2 4 0 2 3 4 0 6-3 10-6 5-4 7-2 2-6 10-2 7-2 3-2 6-6 4-2 0-4 2-4 3-3 1-3 5 2 5 4 3 2 7 0 4-2 7-2 3-2 10 1 6 13 4 0 1 4 3 6 1 4-5 2-4 1-6 8-10 6-4 4-6 5-4 5-6 9-5 10-2 6 0 14 4 10 0 9-1 7-5 0-1 10-5 4 0 10 5 0 1 7 5 3 4 2 0 4 5-2 5-4 5-4-1-3-4-3-1-4-3-4 0-2-1-4 0-2 1-4 0-4 4-1 0-2 6 0 4 2 6 5 4 0 1 6 2 4 0 6-1 10-5 4 0 6 4 5 5 9 2 4 2 3 6 0 4-4 6-7 3-8-3-2-2-6-2-4 0-6 1-4 5-6 5-4 2-6 0-14-4-6 0-4 1-10 0-16 3-4 0-1 1-5 1-4 4-4 5-2 1-4 5-6 3 0 1-4 3-6 3-4 1-6-2-4-3-9 2-1 1-20 0-6-2-2-3-2-6 0-11-6-6 0-3-2-4-2-6-2-4-2-6-4-4-2-9-3 3 1 6 0 4-2 6-2 2-4 2-6-2-7-8-7-5-9-5-7-3-4-1-6 0-4 3-5 1-6 0 1 1 1 5 2 4 2 6 2 4 2 10-1 6-4 9-4 11-6 4-4 0-6-2-4 0-6 2-4 4-6 3-4 1-6-2-4-6-6-2-4-2-4 0-11-6-6 0-5 10-2 6-2 4-1 0-5 5 0 1-4 2-10 2-6 1-4 0-10-2-9-3-1-2-4-4-2-4-1-6 0-4 1-4 6-1 4 0 6-1 6-4 3-6 0-4-2-6-5-4-2-4-2-1 2-3 6 2 4 2 4 1 6-2 0-7-7-4-9 0-4-1-6-4-3-5-2-10 1 0 4-6 4-4 2 0 4-4 2 0 4-3 4-2 6-1 11 0 3 2 8 8 2 3 6 1 7-4 7-3 6 1 4 2 0 1 6 2 4 0 6-1 5-2 5 2 14 11 5 1 2-4 0-4 3-8 3-2 3-6 0-6-4-4-6-3-5-1-15 0 0-1-6-2-2-3-8-4-4-2-10-2-6 0-4 1-10 0-6-1-7-6-3-4 0-2-2-4-1-6 0-4 1-6 2-4 0-13 2-3 10-10 8-4 6 0 7 4 0 10-1 6-2 4 0 7 2 3 4 4 1 2 3 2 6 1 9-3 0-1 5-5 2-4 1-6-7-10-6-5-5-5-5-4-2-6 2-7 2-3 8-7 6-1 4 0 6 1 5 3 5 4 5 6 5 4 0 10-1 0-2 6-3 5-2 5 2 5 6 7 7 8 3 1 3 3 3 6 2 10 3 4 3 2 6 1 6 7 0 10 5 6 9 4 6 6 6 4 2 3 6 4 4 7 2-4-2-4-1 0 0-6-3-14-1 0 0-10 2-6 3-7 3-3 3-7 0-8-3-9-2-10 1-6 0-4 2-6 6-12 6-5 4-7 0-9 4-7 2 0 4-2 6-2 3 0zM-222 -58l4 1 6 3 4 4 4 2 0 6-4 2 0 2-4 9-6 8-4 0-6-4-1-3-3-4 0-4-1-2 2-10 3-4 0-2 5-4zM-68 17l6-1 4 2 6 5 10 2 4 0 6 4 5-1 5-3 4 0 6-1 4 0 16 3 7 5 2 6 0 10-1 4 0 10-1 6 0 4-1 6 1 4 3 4 0 2 9 4 11 11 4 9 2 6 4 9 1 5-1 8-2 2 2 1 4 6 3 3 1 6 0 4-2 10-2 4 0 2-4 4-1 0-3 6-7 10-5 4-4 5 0 2-6 6-2 3-2 1-6 0-4 1-9-2-7-5-3-5-3-6-4-5-4-9-1-6 0-10 1 0 0-10-6-9-4-9-2-2-8-2-6-1-2-1-4-6 0-4 1-6 1 0 4-4 0-1 6-4 0-1 4-4 0-1 4-5 2-4 0-7-6-8 0-1-4-3-3-1-3-4-2 4-8 6-4 4-5 4-3 6 0 4 1 6-3 10-6 6-2 4-8 5-13 9-2 6-2 4-1 6-2 4-4 3-10 3-2 0-4-2-1-4 0-4 1-5 3-5 2-6 1 0 3-4 0-5-3-4-6-3-10-8-4-6-6-1-2 1-2 6 0 4-1 0-3 6-6 4-6 3-4 4-6 4-4 1-6-1-9-5-3-6 0-4 1-6 1-2 10-9 6-2 6-7 4-9 0-5 2-6 2-3 10-5 6-1 10 2 8 3 4 0 8-3 4-3 6-2 8 2 2 3 4 1 3-4 5-4 2-6-5-10-1-4 1-6 1 0 1-4 3-6 6-4 6-6 8-4zM-38 32l0 2 2-2-2-1zM28 22l4-3 6-1 14 3 7 1 8 6 1 0 3 4 3 6 5 4 3 4 6 4 2-2 2-7 2-3 6-6 2 0 6-2 5-2 5-1 14 3 6 1 20 0 4 1 6 0 10 5 0 1 4 4 1 0 5 5 0 1 6 4 3 6 1 0 1 4 0 6-1 4-1 0-3 6-1 4 2 6 0 4-2 11 0 15-1 0 0 17 1 3-1 4-4 3-6 2-4 1-10 0 0-1-6-2-4-4-6-4-4-4-10-5 0-2-2-4 2-4 5-6 5-4 4-5 10-5 1 0 5-5 2-5 1-6-3-3-6-1-13 4-1 2-4 4-2 1-4 9-6 8-1 2-3 2-6 0-8-2-6-3-6-2-4-2-11-3-15-5-10-7-4-6-2-2-2-6-2-4-4-6-6-3-6-1-4-2-8-8-2-4-3-2-1-4 1-6 3-6 4-4zM103 52l-1 1-1 5 1 1 6 1 6-2 4-5 0-1-6-2-4 1zM173 78l5 0 0-1zM62 209l6-1 5 4 1 6-3 4-3 2-6 0-4-2-1-4 2-6z"/>
<path fill="#9cee13" d="M32 -209l16-3 18 4 5 6 1 4 1 0 1 6 4 9 3 15-3 3-2-3-4-1-4-2-6 1-1 2-1 6 2 4 0 2 10 3 4 5-1 6-3 5-2 5-2 3-2 1-3 10-5 7-10 3-6-1-4-5-6-3-4 5 4 9 3 5 3 3 1 3 5 4 3 6 0 4-1 6-2 4-2 10 0 11 9-1 7 5 0 1 4 4 5 0 1 0 4-4 1 0 2-6 2-4 1-6 4-6 5-4 1 0 4-4 0-1 4-5 5-4 1-2 4-4 6-3 6-1 4 0 6 1 4 2 5 1 1 1 10 0 4-1 10 0 6-3 0-1 4-5 6-2 4 0 6 2 5 5 2 4-3 3-4 0-6-1-4 0-6 1-5 3-3 4-1 6 0 5 1 5 8 7 10 2 6 0 10-3 4 2 2 2 2 4-3 6-5 2-6 1-7 7-7 5-6 1-4-2-6-2-4-2-2 0-4-3-1-3-3-5-6-4-4 0-6 3-3 6 0 6-1 3-16 5-1 2-6 4-7 8-9 8-7 3-4-1-4-2-5-6-1-4-6-1 0 5-2 6-2 1-6 1-10 0-4-2-2 0-1-6-3-5-1-5-3-4-1 0-4-6-1 0-2-10-2-4-1 0-2-6-3-5-1-5-3-4 0-2-6-12-1-6 0-6-2-10 0-4 3-8 6-7 3-5 1-6 0-4-3-10-1-5-2-5 0-6 2-8 0-2 5-10 5-4 1 0 5-6 1-4 0-10 5-6zM-102 -204l4 0 6 1 0 1 6 4 3 6 1 0 4 4 0 2 2 4 0 4-3 6-3 4-1 0-5 4-4 1-6-4 0-1-6-4-4-5 0-1-4-4-1 0-3-6 3-10 1 0 4-4 2 0zM-138 -179l6 1 4 6 0 4-2 6-2 3-2 1-3 6 1 4 5 10 3 9 4 1 2 2 4-3 2-3 4-2 5-4 5-1 4-3 0-2 4-4 6-8 6 3 4 5 2 6 2 4 2 2 4 0 6 2 1 1 1 5 0 6-1 4 0 6-1 1-6-1-4 0-9 4-1 1-6 1-10-3-5-3-5-4-4-2-10-3-16 3-4 0-6-1-5-3-4-9-1-1-1-6 1-4 0-4 3-6 1-6 0-4 2-3 0-3 4-4 0-1 7-5zM-52 -108l4-2 6 1 1 1-1 5 0 5 4 6 6 2 10 4 3 4 1 0 6 5 4 4 7 5 3 8 2 2 0 10-2 4-5 2-5-3-4-5-6-3-7-5-3-1-5-3-5-4-4-2-6 1-6 5-4 1-6-1-3-6 0-4 4-6 6-4 2-6 3-6 1-4-1-4-1 0-2-6zM-178 -84l6 0 4-1 6 1 4 2 10 10 6 2 6-2 4-2 4-3 6 2 10 5 4 1 6-1 4-2 6 1 5 3 7 6 2 1 6 1 4 2 0 1 6 6 3 13 1 8 1 2 0 6-2 4-3 11-6 3-9-2-5 1-10 4-6 2-10-3-4-2-10-3-2-1-4 0-10-5-4-1-6 4-1 2-1 6-2 4 0 3-6 8-4 4-6 1-4 2-6 1-10 0-4-2-6-1-6-6-2-4-1-6 2-4 3-2 10-2 4-2 4-4 3-6 3-10 6-2 2-2 3-6 0-4-2-6-3-2-6-2-10-2-10-8-1-6 3-4 4-4 1-2 3-2 7-2zM-120 -58l0 6 2 2 6-1 2-1 3-6-1 0-4-4-6 2zM-222 -51l4 1 4 2 2 6-2 4-2 6-2 2-4 2-6-4-1-6 0-4 1-4 2-2zM-72 22l4-2 6 0 3 2 1 3 6 4 4 1 3 2-2 6-3 4-2 6 0 2-2 2 1 6 1 1 4-2 2-5 3-5 1 0 4-6 6-5 4-5 10-3 0-1 16 0 4 2 9 3 3 10 0 6-1 4 0 6-3 10-2 4 0 5-1 1 0 4 3 6 2 2 6 3 10 3 1 2 6 4 3 4 0 2 2 4 2 9 1 1 1 6-2 5-10 7-2 2-2 10 4 4 6-2 4-2 6 1 3 9 0 6-3 10-6 6-1 4-3 4-1 0-3 6-2 1-4 6-10 10-6 2-10 0-7-5-4-4-3-9-6-8-2-9 0-4 1-6 0-10-3-7-7-12-3-4-5-1-5-2-6-1-2-3-1-4 3-6 6-5 2-5 4-4 4-5 3-5 0-6-3-6-3-4-3-1-4-3 0-1-6-8-4 9-6 4-4 4-9 6-3 6 0 4 2 3 0 8-2 5-4 4-5 6-7 4-2 2-6 2-4 2-4 4-1 6 0 5-1 0-4 5-5 1-3-1-1-6 3-7 8-7-2-6-14-10-2 0-4-4 0-2-6-8-4-3-6 0-4 1-3 2-2 4-2 10-4 6-5 2-4 4-5 4-5 3-6-1-5-2-4-6-1 0 0-7 1-3 5-5 4-3 12-6 4-4 4-6 3-16 7-5 6-1 4 0 4 2 2 0 4 2 10 2 5-1 5-3 5 4-3 10 2 6 2 0 4 2 6 0 4-2 0-1 6-4 2-5 0-6 2-7 6-11 0-7-4-5-2-1-1-3 0-6 1-5 3-5 8-6 4-4zM32 21l6-1 4 0 6 2 10 2 4 2 6 5 3 7 4 4 7 10 0 1 6 6 10 6 4 1 6-1 14-7 1 0 4-6-5-6-5-3-5 0-4 1-6 0-2-2 2-5 6-1 4-2 6-1 44 0 6 1 10 6 2 2 2 4 2 2 4 2 6 8 1 4-4 6-3 2-6 0-4-1-6 0-4 2-6 1-4 3-6 2-10 5-4 9-1 1-2 6-4 4-3 4-6 1-4 0-6-2-6-3-4-1-4-2-6-2-4-3-10-2-6-2-5-2-5-5 0-1-4-4 0-2-2-4-1-4-3-5-4-4-16-5-4-5-2-1-2-6-3-4 0-6 1-4 1 0 6-6zM183 97l0 1 5 3 1 7 0 24 1 6-2 4-6 3-4 1-6 0-4-1-6-3-5-4-1 0-3-4-10-6-1-1-1-5 2-4 5-5 0-1 10-7 4-2 6 0 10-3 4-2zM68 212l2 6-2 2-6-1-1-1 1-3 4-3z"/>
<path fill="#d4ef14" d="M38 -209l4-1 6 0 10 2 4 1 6 4 4 21-4 5-6 1-5 4-1 4 0 6 4 10 2 2 6 3 1 5-1 6-3 4-6 5-4 5 0 4-3 3-4-1-6-6-1 0-3-4-6-2-10 0-4-4-2-6-4-6 0-4-2-4-1-6 0-4 1-6 2-5 4-5 6-4 1 0 5-4 0-10-1-2 1-4 4-5 2-1zM-108 -199l6-2 4 0 6 1 2 2 3 6 4 4 2 6 0 4-1 4-6 3-4 1-6-1-11-11-3-6 0-4 3-6zM-143 -173l5-2 5 3 1 5-5 5-5 1-3-1-1-6 3-4zM-148 -155l2 3 4 3 4 10 1 1 3 10-1 6-3 1-4 0-7-1-4-6-2-4-1-6 0-4 4-9 3-1zM-88 -143l3 5 1 6 2 4 2 6-2 7-3 3-3 1-4 0-6-3-5-4-5-5 0-6 2-3 7-6 1 0 6-4 2 0zM18 -118l3 10 4 6 4 4 4 6 6 4 5 6 1 4-5 16 1 4 0 10 1 5 6-1 4 3 2 3 1 6-1 4-2 4 0 2-4 2-6 2-4 0-6-5-4-2-3-3-3-5-1-5-2-4-2-6-5-9-4-10-2-5-2-10 0-6-2-5 0-11 2-4 4-4 4-5 4-1zM178 -93l4 0 2 1-2 1-6-1zM-42 -89l4 1 0 1 10 2 6 2 0 1 10 7 4 4 6 4 3 9 1 6-4 4-1 1-8-5-1-2-10-6-6-3-4-4-6-4-3-1-1-2-6-5-1-3 1-4 2-2zM112 -89l10 0 4 1 7 6 7 0 2-1 6-1 10 0 2 2 1 4-1 6 0 4 1 6 4 4 11 6 12 2 4 0 6 2 0 1-6 4 0 1-6 4-4 4-1 2-3 2-6 1-4-2-6-2-6-5-4-4-2-6-2-4 0-2-6-2-8 4-7 0-4-6-1 0-4-4-2 4-1 6 0 4 5 10 0 6-8 5-5 5-6 4-4 6-5 4-9 6-5-3-3-3-1-4 0-10-1-6 0-4 1-6 4-9 1-5 3-8 6-5 4-5 6-5 6-7 6-6zM-182 -79l4-2 16 0 5 3 4 6 1 0 4 4 0 1 6 2 4-1 10-4 4 2-2 10 0 6 2 4 2 2 4 2 6-1 5-3 5-4 1 0 3-4 6-3 4 0 6 1 5 0 5 2 5 4 2 4 2 6-1 4 1 6 2 4 1 6-2 6-2 4-4 3-4 0-6-1-9 2-11 4-10-2-4-3-6-2-4 0-5-1-10-6-5-1-6 3-3 4-1 5-6 14 0 1-4 4 0 1-6 2-5 3-5 1-10 0-5-1-5-2-4-4-2-4 0-6 4-4 2-1 6-1 4-2 7-6 4-6 5-4 7-10 2-10-1-6-4-4-4-2-6-1-10-4-5-3-3-6 4-5 5-5zM-222 -43l1 5-1 2-1-2 0-4zM38 22l6 0 4 1 4 2 6 1 7 6 3 4 0 2 4 4 0 1 7 9 1 6 4 10-2 4-3 10-1 2-6 2-4-2-6-5-2-7-4-10-6-4-2-2-10-2-6-3-4-5-4-8-1-6 2-4 9-6zM-72 25l4-2 6 3 0 2 2 4 1 6 0 4-2 6-7 4-4 0-6 0-4-2-2-2-2-6 1-4 3-6 4-4 2 0zM-28 36l6-3 20 0 4 2 6 4 3 9-2 10-1 3-3 1-7 6-1 4 0 6 1 0 2 10 2 4 10 5 5 0 11 2 4 3 0 1 4 5 1 4 1 0 2 10 0 6-2 3-4 1-7 6-2 4-1 6 0 10 4 4 4 0 10-3 3 3 1 6-3 10-1 0-4 9-6 8-1 3-5 4-4 5 0 1-4 3-6 2-4 2-6-1-4-2-4-4-6-15-4-5-1-6 0-4 2-10-1-6-5-10-1-4-1 0-2-6-3-5-4-2-10-4-3-3 8-16 5-6 4-7 2-1 1-6-7-10-6-3-1-2-3-2-4-7-1-6 2-4 2-6 4-4 1-2 4-4 5-4zM-10 118l-2 4 4 3 6-1 2-2 2-4-4-4-6 0zM132 37l10-2 20 0 6 1 4 2 6 5 4 6 6 5 2 4-2 6-6 1-4 0-10 2-6 1-4 3-5 1-5 3-6 2 0 1-4 4-1 0-3 10-2 4 0 2-4 5-6 2-4 0-6-2-4-2-8-3-2-2-7-4-3-4 4-6 6-5 4-5 6-2 5-3 5-2 4-3 6-1 6-3 2-6-4-6-4-4 2-4zM-72 60l4-2 6 0 7 4 3 3 1 3 0 4-3 6-8 5-9 5-7 2-3-2-2-6 2-10 3-7 3-3zM-158 81l6-2 10 3 2 0 2 2 6 2 3 2 3 4 1 6 3 1 5 3 9 4 10-2 6-3 4-1 6 1 5 7 1 4-1 7-8 9-3 1-4 3-5 0-5 0-10-6-6-2-1-2-3-1-6-5-2-8-1-6-7-2-10 0-4-1-6 0-2-1-1-6 0-4 1-6zM-168 107l3 1 2 4 0 6-2 4-7 8-4 2-6 5-6 1-7-6-1-4 1-6 7-6 6-2 10-4 4-2zM158 110l4-2 6 0 4 1 6 0 4 1 2 2 2 10 0 16-4 4-4 2-6 0-5-2-7-4-7-6-1 0-4-4-1 0-2-6 3-5 5-5z"/>
<path fill="#efd414" d="M42 -208l10 0 0 1 6 1 5 4 3 4 1 6-1 4-3 6-10 4-1 8 1 2 0 6 2 10 7 10 0 4-4 5-6 3-4 0-3-2-7-14-3-2-7 0-6 3-4-3-6-8-1-6 1-7 2-3 6-6 10-4 4-6-2-2 0-3-2-5 2-6 7-4zM-102 -198l4-1 3 1 5 6 2 4 0 2 2 4-2 5-4 2-6-1-4-4-3-2-3-6 0-6 4-4zM-148 -145l6 5 3 8 0 4-3 3-6-1-2-2-2-4-1 0 0-6 1-4zM-98 -130l6 0 1 2 1 6-2 2-6-1-1-1-1-6zM32 -84l6 0 3 6-3 10 0 6 1 4 0 10 1 6 2 4 0 2 4 4-1 4-3 4-4 1-6-3-5-1-2-5-1-6-2-2 0-2-4-9-1-1-2-6-3-4-1-6-3-4-1-5 1-2 4 0 2 1 3 6 1 0 4 4 6 0 3-4 0-10zM112 -85l6-1 5 4-2 4-3 3-6 3-2 10 0 4-1 6 0 4 1 6 2 4 0 6-4 4-1 0-9 9-2 1-4 5 0 1-4 3-6 2-2-5 3-6 4-4-2-6-5-4-1-6 3-15 3-5 3-4 6-6 15-14zM-178 -78l14 0 6 4 6 6 0 1 5 5 15 3 2 7 2 4 0 2 3 4 7 3 6-1 4-3 10-5 1 0 4 6-1 4 0 6 1 4 5 3 6 1 5-4 5-3 5 3 3 6-4 7-4 1-6-1-4 1-2 2-8 2-6 1-10-3-2 0-2-2-6-2-4 0-6-1-10-5-4 0-6 1-5 4-3 5-2 7 0 3-2 4-2 6-10 7-11 3-9-2-6-2-4-6 1-6 3-3 7-1 3-1 5-5 1 0 4-4 6-3 4-3 3-4 2-6 3-14 0-6-2-5-6-3-5-2-5-1-4-2-5-1-5-6 4-6 6-2 4-2zM-32 -82l4 1 7 3 3 4 6 3 4 3 2 0 4 5 0 9-6-1-4-3-9-4-1-2-6-3 0-1-4-4-1 0-4-6zM142 -79l10-2 5 3 0 6-1 4 0 6 2 1 4 5 6 2 4 3 6 1 4 2 2 0 2 6-8 8-6 1-4-1-7-4-5-4-3-10 1-6-6-4-6-1-10 3-3-2 0-6 3-5 6-2 2-3zM-72 -49l1 1-1 4-4-4zM32 26l6-2 4 0 6 1 10 4 5 3 5 9 0 1 7 10 0 6-7 6-6-1 0-1-4-3-10-5-6-1 0-1-10-3-4-7-2-4 0-6 2-4zM-78 31l6-3 4 1 2 3 0 6-2 5-4 4-6 0-5-5 1-4 3-6zM148 37l4-1 5 0 9 2 2 0 6 4 4 5 3 5 3 6-6 3-6 1-4 2-10 2-4 2-2 0-4 2-9 2-6 6-1 0-2 4 1 6 0 4-3 7-6 3-4 0-6-1-7-3-8-6-1-4 4-6 2-2 4-2 2-2 7-4 3-1 4-3 0-1 6-1 4 0 6-1 4-7 0-6-2-4-1-6 3-3 3-1zM-22 41l4 2 6 1 4 0 6-1 4 0 4 5 0 4-3 6-5 1-4 3-2 3-1 7 1 6 0 6 2 8 4 5 0 1 4 4 5 0 1 1 4 0 1-1 13 0 2 1 5 5 2 10 0 4-3 5-5 1-5-2-4-4-6-4-4-5-1 0-5-5-4-3-6 2 0 1-4 4-1 0-2 6-3 5-4 9-6-1-7-3-2-6 3-10 6-8 6-4 2-2 1-6-3-4-1 0-5-5 0-1-8-4-6-6-3-4 0-6 5-10 2-2 4-2 1-2 7-4zM-72 67l4-3 6 0 4 1 3 3 1 4-3 6-11 4-4 1-4-5 0-6 3-4zM-152 86l4 0 6 1 1 5-1 1-6 0-6-5zM-88 107l6 2 2 3 0 6-2 4-1 0-7 6-2 1-7-1-3-4-4-2-2 0-4-2-7-2-4-6 5-3 6 1 4 2 6 0 4-2 6-2zM-182 117l11 0 0 5-1 2-4 4-2 1-3 4-7 1-4-3-2-3 1-6 5-3 3-1zM152 116l10-3 10 0 6 2 3 3 2 5 0 5 1 4-2 6-4 3-6 0-4-1-6-3-5-5-6-4-3-6 3-4zM2 127l6-1 2 2 2 0 7 4 2 6 0 10-1 4 0 6 2 8 6 1 0 1 4 0 5 4 1 0 0 6-1 4-5 9-4 7-6 5-5 5-9 3-6 0-5-3-2-6 0-4-3-6-4-4 0-2-2-4 0-4 1-6 0-10-5-9-2-5 0-10 2-4 4-2 2 0 4-2 6-2 2 0z"/>
<path fill="#ee9c13" d="M38 -204l4-2 6 0 10 3 0 1 4 4 0 4 0 2-2 4-2 2-14 4 3 10 1 0 1 4 0 10-1 4-6 1-4-2-10 0-6 1-4-2-3-6 0-6 3-5 4-3 4-2 6-1 6-2 4-2-2-5-4-4-3-6 2-4zM-102 -193l4-1 5 6-1 6-5 0-4-6 0-4zM-178 -73l6 0 4-1 6 1 5 5 2 6 3 5 4 0 10 2 6 7 2 6 2 3 3 1 7 6 2 4-4 6-9 0-3-2-6-2-4 0-10 2-6-1 0-11 2-6 1-6 0-4-5-6-2 0-6-2-4-2-3 0-9-6 3-4zM148 -74l4 2-4 2-3-2zM98 -65l4-2 3 5-1 4-6 7-6 2-1 1 2 6 9 3 1 1 1 6-6 3-4-3-4-6-3-4 0-10 3-6 4-4zM22 -58l10-3 4 3 2 4 0 12-2 4-1 6-3 3-5-3 0-6-2-4-2-6-1 0-1-4 1-6zM162 -52l6 2 4 2 4 0 2 1 2 5-2 5-6 1-5-1-7-5-2-6zM-98 -19l5 1-5 2-2-2zM-178 -9l6-1 4 0 4 2 1 6-1 4-3 6-1 0-4 4-10 3-6 0-4-1-6-3-1-3 1-6 10-2 4-2 5-6zM38 27l10 0 4 2 6 2 5 7 5 9 2 5-2 4-6 0-4-2-6-1-10-3-5-1-5-5 0-2-2-4-1-6 3-3 4-1zM-78 36l6-2 1 4-1 2-6 0 0-2zM148 41l4-2 10 0 8 3 7 10-1 6-8 2-10 2-6-1-3-3-3-10 0-6zM-32 50l4-2 6 0 4 1 6 3 3 0-1 6-2 4-2 10-2 6-6 2-6-1-10-5-4-6-1 0 0-6 1 0 4-8 2-2zM-68 70l6-1 4 3-4 5-6 1-1-6zM112 82l10 2 4 4 1 4-3 6-2 1-4 0-7-1-3-3-5-3-1-5 8-5zM-22 106l4 2 1 4-1 1-1 5-3 4-6 2-2-2-2-4 1-6 3-4 1 0zM22 107l6 2 1 3 0 6-1 1-5-1-6-6 1 0 3-4zM-92 115l4-1 3 4-2 5-5 0-2-1-1-4zM158 117l4-1 6 0 10 4 1 2 1 6 0 4-2 5-7 1-9-5-7-5-3-4 1-3 4-3zM-188 122l6-1 2 1-2 6-6 2-2-2 1-6zM-2 131l4-1 9 2 6 6 1 4 0 11-2 5 0 4-1 6-6 4-1 2-9 8-1 2-6-1-2-5 0-6 1-4-1-6-3-5-4-9 1-6 4-5 7-5zM18 176l4-2 6 0 3 4 1 4-1 6-3 4 0 2-4 4-2 1-4 4-10 5-6-1-2-5 0-4 2-7 10-10 4-3z"/>
<path fill="#ec6311" d="M42 -203l6-1 4 2 5 4-1 6-4 2-4 1-6-2-4-7 2-4zM22 -173l10-2 6 0 5 7 0 6-5 2-16 0-3-2-1-6 4-4zM32 -55l2 3 1 4-2 10-1 3-4-13 0-4zM-148 -50l6-1 4 3 3 6 3 4 1 6-1 1-6 0-4 1-6 0-4-1-1-2 0-9 3-6zM168 -43l4 0 0 1-5 0zM-172 -5l3 3 0 4-2 6-1 1-6 1-4 2 0 1-6 0-7-5 3-2 4-1 6-3 4-4 1 0zM38 32l4-2 6 1 4 0 3 1 3 3 2 7-1 6-1 1-6 1-10-2-6-6-1-4 2-6zM158 42l6 0 4 2 4 8-4 5-8 1-2-1-6-6 1-6 2-3zM-28 52l6 0 5 4 1 6-1 6-5 7-6 0-5-1-5-4-1-2 0-6 1-4 1 0 8-6zM112 91l6-1 4 2-4 3-6-2 0-1zM162 121l6 0 5 1 3 6-4 5-4-1-6-4-1 0-3-6zM-2 135l4-1 6 1 5 3 2 4 0 6-2 10-5 9-10 5-3-4-2-6-1 0-1-4-4-6 0-5 1-5 4-4 1 0zM22 181l3 1 3 4 0 2-10 11-6 0-2-1 1-6 3-4 6-6z"/></g>
</g></g>
</g>
<g>
<circle cx="367.8" cy="73.5" r="48.7" fill="url(#rg)"/>
<path d="M361.4 36.4L362.5 34.8L363.7 33.3L365.0 32.0L366.3 30.8L367.8 29.8L369.3 29.1L370.9 28.6L372.5 28.4L374.0 28.4L375.6 28.7L377.2 29.1L378.8 29.6L380.3 30.1L381.8 30.8L383.3 31.6L384.6 32.4L386.0 33.4L387.3 34.4L388.5 35.4L389.6 36.6L390.7 37.8L391.6 39.0L392.5 40.3L393.4 41.7L394.1 43.1L394.7 44.5L395.3 46.0L395.8 47.4L396.1 49.0Z" fill="#646464" fill-opacity="0.24" stroke="#464646" stroke-opacity="0.55" stroke-width="0.7" stroke-linejoin="round"/>
<path d="M396.1 49.0L397.9 49.1L399.8 49.4L401.6 49.9L403.3 50.5L404.9 51.3L406.3 52.2L407.6 53.3L408.5 54.6L409.2 56.0L409.8 57.5L410.3 59.1L410.6 60.7L410.9 62.3L411.1 63.9L411.1 65.5L411.1 67.2L411.0 68.8L410.7 70.4L410.4 72.0L410.0 73.5L409.5 75.0L408.9 76.5L408.2 77.9L407.4 79.3L406.6 80.7L405.7 81.9L404.7 83.1L403.7 84.3L402.5 85.3Z" fill="#646464" fill-opacity="0.24" stroke="#464646" stroke-opacity="0.55" stroke-width="0.7" stroke-linejoin="round"/>
<path d="M402.5 85.3L403.3 87.0L403.9 88.8L404.5 90.6L404.8 92.4L404.9 94.1L404.8 95.8L404.5 97.4L403.9 98.9L403.0 100.2L402.0 101.5L400.8 102.7L399.7 103.8L398.4 104.8L397.1 105.8L395.7 106.6L394.3 107.4L392.8 108.1L391.3 108.7L389.7 109.2L388.2 109.6L386.6 110.0L385.0 110.2L383.5 110.3L381.9 110.3L380.3 110.3L378.7 110.1L377.2 109.9L375.7 109.6L374.2 109.0Z" fill="#646464" fill-opacity="0.24" stroke="#464646" stroke-opacity="0.55" stroke-width="0.7" stroke-linejoin="round"/>
<path d="M374.2 109.0L373.1 110.6L371.9 112.1L370.6 113.4L369.3 114.6L367.8 115.6L366.3 116.3L364.7 116.8L363.1 117.0L361.6 117.0L360.0 116.7L358.4 116.3L356.8 115.8L355.3 115.3L353.8 114.6L352.3 113.8L351.0 113.0L349.6 112.0L348.3 111.0L347.1 110.0L346.0 108.8L344.9 107.6L344.0 106.4L343.1 105.1L342.2 103.7L341.5 102.3L340.9 100.9L340.3 99.4L339.8 98.0L339.5 96.4Z" fill="#646464" fill-opacity="0.24" stroke="#464646" stroke-opacity="0.55" stroke-width="0.7" stroke-linejoin="round"/>
<path d="M339.5 96.4L337.7 96.3L335.8 96.0L334.0 95.5L332.3 94.9L330.7 94.1L329.3 93.2L328.0 92.1L327.1 90.8L326.4 89.4L325.8 87.9L325.3 86.3L325.0 84.7L324.7 83.1L324.5 81.5L324.5 79.9L324.5 78.2L324.6 76.6L324.9 75.0L325.2 73.4L325.6 71.9L326.1 70.4L326.7 68.9L327.4 67.5L328.2 66.1L329.0 64.7L329.9 63.5L330.9 62.3L331.9 61.1L333.1 60.1Z" fill="#646464" fill-opacity="0.24" stroke="#464646" stroke-opacity="0.55" stroke-width="0.7" stroke-linejoin="round"/>
<path d="M333.1 60.1L332.3 58.4L331.7 56.6L331.1 54.8L330.8 53.0L330.7 51.3L330.8 49.6L331.1 48.0L331.7 46.5L332.6 45.2L333.6 43.9L334.8 42.7L335.9 41.6L337.2 40.6L338.5 39.6L339.9 38.8L341.3 38.0L342.8 37.3L344.3 36.7L345.9 36.2L347.4 35.8L349.0 35.4L350.6 35.2L352.1 35.1L353.7 35.1L355.3 35.1L356.9 35.3L358.4 35.5L359.9 35.8L361.4 36.4Z" fill="#646464" fill-opacity="0.24" stroke="#464646" stroke-opacity="0.55" stroke-width="0.7" stroke-linejoin="round"/>
<circle cx="367.8" cy="72.7" r="37.4" fill="#544840"/>
<circle cx="367.8" cy="72.7" r="36.3" fill="#12b8f6"/>
<g clip-path="url(#c02)"><g filter="url(#soft)">
<g transform="translate(368.6 72.9) scale(0.1)"><path fill="#15e5f0" d="M112 -304l10-3 6 0 10 3 8 6 1 6-5 4-4 4-6 3-2 3-1 6 9 2 4 3 6 2 4 5 4 2 1 6 0 20-1 4 2 6 10 2 8 8 7 10 5 0 10 3 4 7 0 4-2 6-8 8 0 2-2 4-1 6 3 5 6 1 4 0 6-4 4-2 6 0 4 1 6 4 4 4 10 3 4 2 6 6 0 1 6 5 4 4 7 4 2 6 0 4-3 10 2 6 3 4 5 3 5 7 3 6 5 4 4 6 2 4 0 6-2 10-5 4-3 6-1 4 0 6-2 4-2 2-1 4-5 4-4 5 0 1-4 4-6 0-2-4-2-6-4-4-2-4 0-2-2-4 1-6 3-4-2-5-4 1-6 0-4-2-21 0-5 4-1 6 1 4 3 2 7 0 6 1 5 3 3 6-3 10-1 0 0 7 10 13 0 1 4 3 3 6 11 4 5 6 2 4 0 4 2 2 2 10-3 10-6 6-4 2-6-1-4-2-6 0-2 5 0 4 2 10 1 0 5 5 0 1 10 0 4 1 6 5 4 8 0 2 3 4 1 4 0 6-2 4-2 2-2 4-3 4-2 6-3 2-1 8-4 10-5 6-4 3-6 0-9-5-9 0-2 1-5 5-5 4-2 6-8 7-4 5-6 3-4 4-6 1-4 2-6 1-4 0-4 1-6 7-5 9-1 5 3 5 0 4-1 6-2 1-1 3-4 6-5 3-4 1-4 0-12 0-8 6-6 3-6 1-4 3-6 1-4-1-6 0-3 8-2 5 0 4-1 6-4 5-1 5-4 4-3 6-2 1-4 6-10 4-6-2-3-5-1-4-1 0-4-6-5-1-7 1-4 6-5 4-4 5-6 4-3 1-1 2-6 3-10 3-4 2-2 0-4 4-4 2-6 2-4 0-6-1-4-2-6-2-7-3-3 0-5-4-3-6-2 0-4-4 0-1-10-2-10 0-6-1-4-6 1-6-1-6-5-4-2 0-4 6-3 10-2 1-4 5-6 3-10 0-4-2-3-3-3-1-4-3 0-1-6-3-1-2 1-4 6-3 5-7-1-6-4-4 0-1-6-1-9-4-1 0-4-4 0-6 1-4-1-8-2-2-2-10-3-10 1-2 6 0 4-2 6-1 0-1 6-4 0-6-6-5-5-5-1 0-4-4-10-3-6 1-2 2-2 9-2 1-4 0-14 4-6 0-4-1-6-3-10-2-4 1-6 0-4-7-2-2-3-10 0-6 1-4 4-5 0-1 4-4 1 0 4-6 1 0 2-10 2-4 1 0 2-6 7-4 2 0 4-4 4-2 6-4 6 0 4-2 2-4 3-4 0-30 1-6 4-7 0-4-3-3-2-6-1 0-4-4 0-1-7-9 2-10 0-6-1-3-4-2-6 3-1 2-1 6-2 5-4 5-6 4-2 0-4 2-2-6 1-6 2-4 1-6 0-4-1-6-4-4-1-2-6-4-7-4-7-7-4-3-4-6-2-5-4-5-2-5-4-5-6-2-4-3-10-2-10 0-7-7-1-6 2-6 10-3 6-3 2-2 3-6 9-11 6-3 3 0 1-2 4-4 3-14 5-6 4-3 6-1 4-3 10-2 4 0 6 1 4-2-4-4 2-6 3-4 0-6-5-10-6-5-4-5 0-1-6-5-4-4-5-4 0-6-1-4 0-5 2-5 4-5 0-1 4-4 2 0 4-4 4-5 5-1 5-3 6-1 10 0 0-2 3-4 2-6 9-9 10 0 6 1 3 4 7 0 14 3 6 0 15-3 5-5 0-1 4-4 1 0 5-4 5-2 9-2 10-5 6-1 10 2 10-2 4-3 6-2 4 1 3 2 1 6 0 10 2 7 2 3 8 0 4-4 7-6 3-6 6-3 4 0 9-1 8-6 3-4-1-6-2-4 1-6 2-3 6-4 10-2 4 0 7-1 3 2 4 4 2 4 4 2 6-1 3-5 1-6 4-4 6-3 6-1 4 1 6 3 14 4 6 0 4-2 6-1 2-1 5-6 6-4zM-119 -232l1 1 6 2 6-3-2-3-4-1-6 1zM142 -148l-1 6 7 1 4 0 6-1 4-6-4-4-6 1-4 2-6 1zM-118 262l-6 6-1 4 3 4 4-2 6-5 0-5-3-2-3 0zM-268 -158l1 0 2 6 0 4-2 6-2 0-3-2-3-4-1-4 4-5 0-1zM-248 92l6-3 4 1 3 2 2 6-1 4-4 3-4-3-4-4-2-6z"/>
<path fill="#14efc3" d="M118 -303l4-1 6 0 10 5 1 1 1 6-4 4-4 3-4 6-2 1 0 6 2 2 5 2 5 1 4 2 4 3 2 0 4 4 3 6 1 4 0 10-1 6-3 10 6 2 4 2 2 0 4 2 5 4 3 4 1 6 5 4 8 0 2 1 5 5 0 4-2 6-3 4-6 10-1 6 3 4 9 6 5 0 0-1 6-3 4-3 6-1 4 2 0 1 8 4 2 2 8 3 2 2 6 3 0 1 4 4 0 2 4 4 6 4 2 0 3 6 0 4-1 6 0 10 2 1 4 6 8 7 2 7 6 6 4 7 1 0 0 6-1 0-3 10-4 4-2 6 0 4-1 2 0 4-5 10-5 4-4 5-6-1-4-8-1 0-3-6 0-4 2-6 4-4 2-4 2-2 1-4-3-2-10 3-4 2-16 0-4-1-6 0-8 2-2 2-4 8 4 7 6 0 10 2 2 1 2 6 0 4-1 6 0 10 1 2 6 5 4 7 0 1 4 5 6 4 2 0 4 2 7 8 2 10 0 6-3 10-6 3-6 0-10-2-4 5-2 8 2 10 4 6 10 3 6-1 5 2 4 6 1 0 2 4 2 7 2 3 0 6-7 10-2 4-4 6-3 10-2 4-2 6-6 5-6 1-4-3-10-2-6 1-4 4-3 4-3 2-5 8-5 4-6 6-6 4-2 3-10 2-6 0-4 2-6 2-6 7-4 4-1 6 0 10 1 4-1 6-3 5-5 5-5 2-6 0-10-2-10 7-4 4-10 3-10 0-6-2-4 2-1 2 0 4-1 4 0 6-2 10-12 17-1 3-9 7-4 1-6-2-4-9-6-5-4-1-6 1-4 2-3 6-5 4-2 3-6 3-10 7-10 2-4 3-6 2-4 4-6 1-4 0-6-2-5-3-5-2-3-2-2-6-3-4-2-1-5 1-5-1-4-3-4-2-6-1-10 0-5-3 0-6-1 0-1-4-3-6-5-4-3-6 2-5 6-4 2-5 0-6-2-1-6 0-4 1 0 1-4 5-5 4-1 5 4 7 4 4-1 4 0 6-3 5-2 5-2 2-6 3-4 1-7-2-7-4-3-6 5-9 2-6-2-5-8-7-10-5-5-2-1-6 0-4-1-6-2-4 0-6-1-4 0-6 10-7 5-3 5-4 0-6-10-8-2-2-7-4-1-2-6-2-2-2-8 0-10 10-9 6-5 2-6 0-6-2-8-4-6-1-4 0-6-1-3-4-2-4 0-2-2-4 0-6 1-4 2-2 2-4 8-7 4-10 2-3 2-5 2-2 1-3 8-5 9-5 1-1 11-2 2-1 3-6 2-10 0-10-1-4 1-6 0-4 2-6 1 0 2-10-2-4 0-2-3-4-5-4-2-4-2-2-2-4 2-10 0-6-2-4-2-2-4-2-6 2-4 6-2 6-4 5-4 4-3-5 1-4 0-10-2-10-6-6-6-2-8-8-6-4 0-1-4-5-2-1-2-3-3-6-7-10-2-2-10-5-6-3-4-1-6 0-6-3-1-6 7-5 6-2 4-6 2-1 2-6 6-8 10-5 5-1 3-6 0-10 2-5 6-4 0-1 4-2 6-1 4-2 6-1 4 0 4 2 8 0 1-6-3-5 3-15-1-4-6-7-4-3-6-10 0-1-6-4 0-1-4-4-1 0-3-10 1-6 6-10 12-10 5-3 4-1 6 0 4 1 6 0 5-7 3-10 5-4 1-2 6-2 10 3 0 1 10 2 4 2 10 2 6 0 10-3 4-2 4-1 6-6 6-4 4-1 4 1 0 4-1 6 7 6 10 0 6-2 2-4 0-6-2-4 0-2-6-1-2-3 2-1 6-1 4 2 6-1 4-2 6-2 4-3 6-1 5 5 0 4 3 16 6 2 10-2 0-1 10-5 3-4 8-6 5-1 7-3 6-6 3-4 0-6-1-4 0-6 5-4 4-2 10-2 6 0 4 4 6 7 4 2 6 0 7-5 1-4 0-6 6-4 10 0 6 2 4 2 2 0 4 2 10 0 10-3 6-3 4-4 1-2 7-4zM-35 -232l3 1 2-1-2-4zM163 -188l-1 1-1 5 1 2 6 0 1-2 0-6-1-1zM149 -152l-7 2-4 2-2 0-1 6 7 5 6 0 10-3 5-2 3-6-2-4-2-2-10 0zM185 -92l3 2 1-2-1-3zM-93 222l-1 6 0 4 2 3 6-7 0-6-2-1-4 1zM109 238l3 3 4-3-4-5zM-238 96l0 3-2-1z"/>
<path fill="#12ed8b" d="M112 -298l10-3 6 1 5 2 2 6-7 10-4 4-1 6 5 4 4 2 10 2 2 2 4 2 2 2 3 6 1 4 0 10-1 6-5 4-10-2-4 2 2 6 6 3 10 0 6 1 4 2 6 2 5 6 1 6-2 4-4 4-6 3-3 3-2 6 1 0 4 7 6 0 6-7 2-6 2-3 4-2 6-1 4 3 1 3-1 6-3 4-1 3-3 3-2 4-1 7 2 4 8 4 6 3 4 1 10-8 6 0 9 5 5 3 10 5 6 5 4 7 6 4 6 6 1 4-1 6 0 4 1 6 8 10 4 4 2 6 3 6 4 4 2 1 1 3 0 5-1 4-2 1-4 5-3 5 0 6 1 4-2 10-1 0-4 7-4 3-1 2-6-1-5-11-1-4 3-6 5-4 6-6 2-4-4-8-6-1-4 5-6 2-4 3-30 0-6 3-4 6-2 4 1 5 5 3 6 1 4 0 6 2 2 5 0 10-1 4 0 6 3 4 1 0 5 5 3 5 1 3 6 6 4 3 7 4 3 5 3 9 0 6-1 4-6 7-6 0-4-2-6-1-6 6-2 10 0 6 3 10 1 0 4 4 2 0 4 2 4-1 6 0 4 2 7 7 1 6 2 4 0 6-4 7-3 3-3 5-4 9-8 16-2 2-6 0-4-2-4 0-2-1-4 0-2 1-4 0-5 4-4 6-1 0-3 4-1 3-8 7-2 3-6 4-4 4-10 2-6 0-4 1-2 2-4 1-4 3 0 1-4 5-2 1-2 3-1 6 0 4 1 6 0 4-1 6-7 7-5 3-5 0-4-2-6-2-2-2 0-4-2-4-2-2-4-1-6 1-1 6 5 4 2 3 5 3-4 4 0 1-8 5-7 2-6 0-7-2-4-6-3-3-4 3 0 6 1 4 0 10-1 6 0 4-2 4 0 2-3 4-1 3-7 7-2 6-7 5-4 1-6-3-1-3-4-6-5-3-4-1-6 0-6 4-3 6-1 0-4 4 0 1-6 3-1 2-3 2-10 5-6 0-4 3-6 2-4 4-6 1-4 0-6-2-7-5-3-4 0-2-4-7-6-2-4 1-6 0-2-2-2 0-10-3-6 0-4-1-3-6-1-4-2-2-4-7-2-1-2-6 1-4 5-6 2-4 0-5 0-1-4-3-6 0-7 3-4 6-3 3-3 1-2 6 3 4 2 1 3 5 1 4 0 6-4 9-6 3-4 1-8-3-3-6 4-14-1-6-13-10-9-4-1 0-3-10 0-6-2-4-1-6 0-4 1-6 14-10 2 0 4-4-1-6-13-10-6-4-1 0-3-4-6-3-4-1-6 0-4 2 0 1-6 4 0 1-4 4 0 1-9 5-9 0-2-2-6-2-4-2-6-1-4 0-6-3-3-6-1-4-1 0 0-6 5-9 6-5 4-8 2-2 2-6 2-4 5-6 7-4 2-2 6-2 5-2 5-1 5-3 3-10 0-26 2-4 2-6 2-4 0-6-4-8-6-6-4-8-2-2 1-6 1-4 0-7-2-3-4-4-4-2-6 1-4 5-4 4-2 4-2-4-2-10-1-4-3-6-2 0-4-3-6-2-5-5-6-4-4-4-5-6-4-8-6-7-4-4-6-4-10-6-4-1-5 0-1-1-1-5 7-4 8-10 3-6 3-5 7-5 13-3 3-1 0-6-3-2 0-9 6-6 4-2 0-1 6-1 4-2 6-1 10 2 4 0 6-2 0-5-3-5 0-6 2-10-1-4-4-4-6-7-3-5-1 0-4-7-8-7-3-6-1-4 1-6 2-4 5-6 8-7 4-3 2 0 4-2 6 0 10 2 5-4 3-10 2-4 0-2 4-4 2 0 4-2 4 0 10 5 6 1 4 2 6 1 14 0 6-2 4-2 6-2 4-4 6-2 4 5 6 6 10 2 4 0 6-1 3-3 2-4 2-10 7-7 9-3 1-1 6-1 3 6 1 8 3 8 7 4 10-2 6-2 6 4 4 2 4-2 2-4 0-6-1-4 5-5 0-1 4-1 6-4 5-5 2-4 0-16 7-4 6-2 10 0 1 2 4 4 4 6 5 1 6 0 4-1 0-1 6-2 2-3 0-10 2-1 6-1 4 0 7 2 3 2 10 2 6 0 10-2 10-7 4-5zM143 -152l-5 1-6 4-1 5 1 4 6 3 14 0 6-2 0-1 7-4 4-6 0-4-1-2-10-3-10 3zM186 -98l-4 4 0 4 6 3 4-5 1 0 0-6-5-1zM202 22l-3 6 1 4 2 3 7-7 0-6-1-1-6 1zM-88 218l-4 1-3 3-2 6 0 4 3 6 3 0 5-6 2-4 1-6-5-5z"/>
<path fill="#11ec52" d="M118 -298l7 0 3 2 1 4-1 5-7 9-1 6 4 4 4 3 10 2 10 5 2 6 2 4 1 0 0 10-5 7-6-1-4 0-6 0-3 4 4 6 5 4 2 0 2 2 6 1 4 0 14 3 2 0 1 4 0 6-1 2-6 4-7 8-1 6 1 4 7 7 6 1 4-2 0-1 5-5 1 0 4-9 6 0 0 5-1 0-5 7-3 3-1 4 0 5-6 6-4-2-6-2-9 3-5 2-10 2-6 3-3 3-1 6 1 4 3 6 6 1 10-2 4 0 6-1 4-4 7-4 3-7 4-3 2-3 9 2 5 4 5 1 5 4 4-4 5-4 1-2 6 0 5 2 5 3 3 1 1 2 10 6 6 6 0 2 5 5 6 5 2 4 0 10 2 6 2 4 4 6 4 4 3 10 3 6 5 4-1 6-5 2-6-5-1-3-3-2-6 0-2 2-2 7-6 5-9 4-13 0-2-1-6 0 0 1-4 0-6 2-7 8-1 4 1 6 7 4 10 0 0 1 6 3 0 21 1 5 6 6 3 2 5 7 0 1 5 4 4 5 6 3 5 8 0 10-5 7-6 0-10-2-4 2-4 7-3 16 0 4 1 7 10 8 6 0 4-1 6 0 5 2 5 6 0 4 2 10-2 5-6 6-2 3-2 7-4 3-1 6-1 0-4 6-6 1-10-2-10 2-4 3-4 4-4 6-2 5-5 5-1 0-4 4 0 1-6 4 0 1-10 5-4 0-6 1-4 0-13 8-5 6-2 4 0 22-2 4-4 4-4 2-6 0-5-2-5-4-2-6-2-2-6-1-4 0-7 3-1 6 8 7 2 3-2 5-6 3-2 2-10 0-4-6-4-7-4 0-5 3-3 4 0 6 2 4 1 0 0 16-1 4-3 6-1 4-1 0-4 6-1 0-3 4-1 3-6 5-4 1-6-3-2-6-2-2-4-2-2-2-4-1-6 1-8 6-3 6-5 4-4 2-4 4-6 2-4 3-6 1-7 4-3 1-4 3-6 1-4 0-9-5-5-10-2-2-2-4-2-1-6-1-10 0-9-2-11-4-4-4-5-8-1 0-3-4-3-6 2-5 4-7 2-2 2-6-4-4-4-2-6 1 0 1-4 1-6 4-4 5-6 2-3 3-1 3-2 2-4 1-4-3-7-3-3-4-6-1-5-6 0-4-3-16 0-4 2-6 6-4 0-1 6-2 9-7-1-6-4-2-4-4-6-3 0-1-4-3-6-3-5-4-5-3-4-1-10 2-4 2-6 7-6 4-4 2-6 1-9-4-5-3-6-1-5 0-5-4 0-2-2-4 0-6 2-4 0-2 4-4 5-4 1-5 4-5 2-6 3-4 1-3 3-3 3-1 4-3 0-1 16-3 7-6 2-6 0-4 1-6-1-4 0-6 2-10 2-4 2-6 2-4 0-6-3-4-4-7-6-6-3-7 2-10 0-6-3-5-5-5-5-2-6 0-4 3-6 3 0-4-1-4-3-6-6-4-10-5-4-4-3-1-13-13-1-3-3-4-1 0-2-6-6-4-1-2-7-4-3-3-4-1-5-6 3-5 7-9 3-5 0-2 6-5 13-4 7-1 4-3 0-6-4-2-2-2-1-6 3-4 4-2 5-4 5 0 6-1 4 0 6 1 10 0 2-4 0-6-3-5 0-9 1-1 1-5-2-5-5-4 0-1-4-4-1 0-2-6-8-10-5-4-3-10 1-6 2-5 4-5 6-4 0-1 6-2 4-2 6 0 4 2 6 0 5-3 3-4 1-6 1-4 4-7 6-3 4 0 6 3 6 1 8 4 20 0 6-1 4-3 6-1 4-3 6 0 4 4 1 0 5 4 10 3 4 0 7-1 5-6 2-4 1-6 5-7 4-3 2 0 4-2 6 0 1 8 4 8 0 2 5 4 4 2 6-2 11 0 3 3 6 2 4-1 4-4 1-5 0-9 5-6 6-2 4-4 3-4 2-4 0-6-1-4 1-6 11-4 4-1 6 2 4 7 2 2 4 2 4 1 6 0 10-2 2-1 4-6 0-4 2-6 7 0 5 3 10 2 4 1 4 0 2-1 4 0 6-1 7-4 3-1 4-5 5-4zM101 -98l1 2 6 1 2-3-2-2-6 1zM183 -98l-4 6 1 4 2 3 6 1 7-8 1-6-4-4-4 0zM-14 -48l-1 6 7 2 11 2 6 6 3 2 4-2 0-6-6-4-6-6-6-3-6 0-4 2zM198 22l0 2-2 4 0 4 2 6 4 2 4-2 2-2 4-8 1-6-5-4-6 1zM-94 218l-4 5-2 5 0 4 1 6 1 2 6 2 4-4 0-1 6-7 1-2 1-6-2-6-6-2-4 2zM268 -40l4-2 3 5 0 5-1 4-2 2-2 4-2 2-6-2-2-6 0-4 3-6zM-142 283l9 5 1 0 1 5 0 5-2 5-5 4-4 0-6-4 0-8 3-7z"/>
<path fill="#0feb1a" d="M108 -283l4-1 4 2 0 10 2 2 0 2 4 4 4 2 12 2 4 2 0 1 4 5 2 7 0 3-6 3-4 1-6 0-4 2-5 4 0 4 4 6 1 0 4 4 6 3 4 3 6 3 4 1 3 6-1 4-2 4 0 2-2 4 0 6 5 14-3 6-4 2-6 2-4 0-6-1-4 4-3 7-2 10 0 6 2 4 3 3 4 2 10-2 10-3 6-1 7-3 3-2 10-10 4-3 6 0 6 5 3 4 1 0 4 8 2 2 0 6-1 4 5 2 4-1 6 0 0-1 6-4 1-6-7-6-3-4-2-4 2-6 3-1 4 1 0 1 6 4 4 5 2 0 8 10 0 1 6 4 0 1 4 4 1 0 3 6 2 5 1 5 3 7 5 7-1 6-8 4-1 0-5 8 0 8-4 4-6 2-4 0-6 1-4-1-10 2-4 2-2 0-4 4-1 0-5 8 0 6 1 2 4 4 5 2 6 1 5 3 3 4-3 16 0 4 7 6 6 4 2 2 4 8 1 0 5 5 0 1 6 4 4 5 1 5-2 6-5 2-10-2-4 1-4 3-2 3 0 3-2 4-2 10 0 4-2 6 0 6 2 5 4 5 10 7 6-1 4-3 6-1 4 2 5 10 0 6-2 4-7 9-2 1-4 4-4 1-6-3-4 0-2 4-4 4-5 6-9 4-1 0-5 5-3 5-2 6-4 4-1 2-4 4-6 4-8 6-12 2-4 0-6 2-5 3-8 7-1 3-3 3-2 10 1 4 0 6-2 6-3 4-8 0-7-6-6-5-6-1-4 0-6 1-4 0-6-3-4-3-3 1-2 6-1 4-4 7-6 4-5 5-1 4 1 6 2 10 0 10-1 6-3 4-6 4-6 11-5 2-3-3-3-1-4-6-6-2-10 0-4 2-2 3-4 4-4 6-10 7-10 5-7 2-9 5-5 2-5 1-7-2-5-6-2-4 0-2-6-7-4-3-16-3-14-3-6-3-4-5-6-6-1-4 0-4 3-6 4-5 4-9 0-2 4-4 2 0 4-6 2-4 4-5 3-5 1-3 2-1 1-6-3-10-4-4 0-1-6 0-4 2-4 3-4 6-2 5-1 5 0 14-2 6-7 4 0 1-6 1-10 5-5 3-15 5-7 1-3-1-10-7-1-2-2-10 0-10 4-6 5-2 5 0 5 4 4 2 3-4 3-2 5-8 5-4 8-10 1-6 0-4-1-6-4-3-4 4-6 3-1 2-7 4-2 2-4 1-6-2-4-2-8-3-2-2-6-3 0-1-4-3-5-1-5-2-10 0-6 3-5 3-4 6-1 0-4 4-6 0-4-1-6-3-4-3-6-2 0-1-6-4-1-6 7-12 6-7 3-5 1-6 6-7 2-3 8-3 4-1 6 0 4-2 3-4 2-5 1 0 2-9 0-10 2-11 6-4 0-1 4-4 0-6-2-4-1-6-3-4-3-6-1 0-7-10-1-4 0-16-2-2 0-3-4-5-9-4-1-1-6-1-4-2-10-9-16-8-4-4-6-3-10-10-4-8-6-6-5-3-5-5-3-6-1-4 4-7 4-3 2-3 4-3 13-4 7-4 7-6 1-6-2-4-1 0-3-6 4-4 4-2 6-2 4 0 6 1 4 2 6-1 4-4 1-4-1-6-2-4-1-6 2-4 3-10-6-6-7-4-3-5-1 0-2-5-3-6-4-4 0-1-5-5 0-10 9-11 10-3 6 0 4 1 10 0 4-1 2-2 2-4 0-4 2-11 3-5 7-1 5 1 5 3 6 2 10 0 4 1 8 0 3-1 5 0 4-2 10-3 6 1 4 2 4 3 2 0 4 2 6 2 5 0 5 1 9-5 3-6 2-10 6-5 4-1 3 2 3 4 1 6 3 5 6 3 4 1 6-1 4 0 6 4 4 5 6 0 2-3 8-6 3-4 1-4 0-8 5-8 7-4 3-6 1 0 1-4 0-10 4-6 5-1 4 0 3 1 3 3 1 3 3 3 10 3 6 0 4-1 10 0 6-2 4-3 0-3 3-3 3-1 4 1 0 1 10 6 6-5 1-2 18-4zM101 -242l1 5 6 1 4-2-2-4-2-2-6 0zM7 -212l-6 4-4 6 0 4 1 2 4 1 6-7 1-6-1-5zM197 -112l-5 2-10 7 0 1-4 4-1 6 0 4 3 6 2 1 6 0 10-10 2-7 0-4 1-6 0-4-3-1zM95 -102l-3 2-4 8-1 4 5 2 10-3 10-2 6 0 4-1-4-6 0-1-6-5-4-2-6 0-4 1zM122 -88l0 1 4 5 2 1 4 0 0-3-4-5-6 0zM-30 -78l-1 6 3 3 8 1 3 0 3-4-2-6-2 0-4-2-6 1zM-11 -58l-6 6-5 4-1 0-4 6 1 4 4 3 4 0 6-1 4 0 6 1 9 7 5 3 6-1 4-6 0-6-2-4-2-2-6-3-4-4-3-1-3-3-5-3-5-1zM209 12l-1 1-6 2-4 4-4 3-2 6 0 7 2 7 4 3 4 1 6-1 4-3 6-9 2-5 0-6-2-9-2-1-4 0zM21 78l-3 4 2 6 2 2 6 1 2-3-2-10-6-1zM-75 258l-1 4 3 6 2 0 3-2 3-4 0-4-3-3-4 1z"/>
<path fill="#3ceb10" d="M8 -274l5 2 5 6 4 2 10 2 6 0 4-1 10 0 1 1 9 0 6 1 10 6 9 7 2 6 3 4 1 0 7 6 2 0 14 4 2 1 4 5 6 4 4 4 9 6 1 2 4 4 1 4-3 16-1 4 1 6 0 4-2 2-5-6-5-3-4 3-2 4-3 10-1 1 0 5-4 14-1 6 1 4 4 8 6 3 4 1 6-1 10 0 10 2 4-1 10 0 6-1 3-5 0-11 2-5 6 0 4 6 1 4-2 6-4 4-2 0-4 3-1 3-6 10-2 4 0 6 2 10 4 4 3 2 6-1 0-1 6-4 4-4 4-6 0-2 7-14 3-2 6-2 8-6 6-4 6 0 8 4 5 6 2 4 2 6 3 7 0 9-6 3 0 1-5 4-1 6 1 4-1 6-4 1-4 2-6 0-4 1-10 0 0 1-6 2-4 4-6 4-3 5 0 4 1 6 2 5 6 3 10 3 3 3 1 6-4 14-1 0-7 6-8 4-8 6-2 1-2 3-2 6 0 6-1 4 0 4 3 6 2 1 10 2 16-3 4-1 2 1 4 4-3 16-2 10-1 0-1 4 0 6 1 6 3 4 5 4 2 3 4 3 2 4 4 0 6-1 4-3 6-1 4 5 1 0 1 6-2 1-4 6-6 3-7-6-3-6-4-2-6 6-1 8-3 10-5 4 0 1-5 3-6 2-4 4-1 0-5 9-4 7-6 3-4 1-4 0-6 4-6 3-10 6-4 3-7 4-5 6-4 4-3 6-1 4-1 0 1 6 0 10-6 1-4-1 0-1-6-2-4-2-16 0-9-5-4-6-7-1-2 1-3 6 0 4 1 6-5 10-7 4-5 6-1 4 3 6 1 4 0 10-2 6-4 2-10 0-6 3-4 4-5 0-1 1-10 0-7 4-3 3 0 3-3 4-1 3-3 3-3 1-10 6-5 3-5 1-7 3-7 4-6 0-4-2-6-6-2-6-2-3-2-1-8-8-4-2-1-6 2-4 1-6 0-4 1-6 1 0 3-10 0-4-1-6-2-3-6-2-4 1-7 0 0-6 1-3 2-1 4-4 3-6-3-17-6-8 0-1-10-2-6 2-4 4-4 5-4 1-2 2-4-2-3-4-1-6 0-4 1-6 3-4 2-6 2-4 2-10 0-10-2-2-4 2-6 4-4 4-6 3-4 3 0 4-1 2 0 4-3 6-6 5-6 3-4 1-6 0-10-3-14-10-6-2-16 0-4 1-10 8-2 1-2 3-6 2-9-5-1 0-4-4 0-1-4-5 3-10 1 0 3-4 1-3 3-3 3-7 0-3 4-6 10-3 10 0 0-1 6-3 2-11 2-6 0-4 1 0 0-6 2-10 7-4 0-1 6-3 1-2 0-4-1-6-3-5-7-15-4-4-3-6-1-4 0-6-2-11-5-9-1 0-4-4-11-5-5-3-4-5-4-3-2 0-4-3-5-1-7-6-9-4-11-10-3-6-1 0-4-6-6-6-3-2-3-6-1-4 6-6 9-4 2-2 6-4 4-4 1 0 9-8 3-2 2-6-2-10 7-3 10 2 6 0 5-3 3-10-3-16 2-4 7-10 1 0 3-6-4-3-4 1-11-2-5-4 0-2-3-4-1-6-6-6-3-4-1-4 1-6 3-5 6-3 4-1 6 0 4 1 10 0 6-1 7-5 1-6-1-4 0-6 3-5 4-2 6 1 4 3 6 1 24 0 11-2 9-3 6 1 2 2 2 0 9 4 1 1 10 3 6 1 4 0 6-3 4-5 2-1 4-7 4-2 2 3 4 2 4 4 10 3 5 1 7 6 9 4 5 0 6-4 4-4 4-6 1 0 4-6 1-5-1-5 1-4 5-6 5-4 3-6 2-10 3-4zM5 -228l-3 2-4 4-2 4-2 6-2 4-3 10 1 6 2 4 0 3 6 1 10-8 4-8 2-2 3-10 0-6 2-10-1-4-6 0-4 3zM-37 -178l-3 6 2 6 6 2 10 0 4-1 6-5 1-2 1-6-2-2-6 0-4 1-10 0zM-34 -128l2 6 4 3 6 0 5-3 0-6-5-3-6 0-4 1zM91 -108l-5 6-4 4-2 6 0 4 1 6 7 4 4-1 7-3 3-3 6-1 4 0 6 2 4 5 2 1 4 4 5 2 5-4 2-6-1-6-7-5-5-5-5-4-5-6-9-3-10 0-6 2zM-31 -82l-1 0-3 4-3 8 0 4 4 4 2 0 8 4-4 5 0 1-8 4-1 5 4 10 5 5 0 1 6 0 10-4 4 0 6 1 3 2 1 2 6 3 0 1 4 2 6 0 3-2 5-11 1-5 0-4-1-6-4-5-4 0-6-1-5-4-7-4-5-6-3-5-2-5-8-6-4-1-6 0zM-120 -42l-1 4 1 6 8 6 6-2 4-6 1-4-3-4-4-3-4-2-6 2zM27 -2l4 4 1 2 6 0 1-2-1-5-5-4-5 0zM-178 2l-6 6-1 4 0 6 3 4 4 1 1-1 5-1 4-3 0-2 2-4-2-4-4-6-6 0zM57 2l-8 6 3 6 9 4 18 0 1-6-2-9-6-4-4 0-6 1-4 2zM166 8l-4 6-1 4 0 4 1 1 6 1 5-2 1-4-1-6-1 0-4-4 0-1zM22 68l-6 4-3 6-1 5 2 5 4 4 4 3 6 2 4-1 2-4 1-4-1-6-5-10-1-3-5-1-1-1zM63 132l-11 8-1 2 1 4 6 2 5 0 7-6 2-4 0-2-2-4-2 0zM102 -274l6 1 0 1 4 4 0 1 4 5 6 4 4 0 11 6 0 4-9 5-6 0-4-1-6-7-4-1 0-1-6 0-4-2-3-3 2-10 1 0 1-4zM228 13l4 2 6 6 4 10 2 1 4 5 0 1-6 1-4 0-4-1-2-2-4-8 0-2-2-4-1-4zM-128 222l6-3 4-1 6 0 4 14 1 6-5 9-10 5-2 0-8 4-6 1-5-5 0-4 1-1 1-5 2-4 1-5 6-7 4-4zM-162 240l5 2 3 10-4 4-5-4-1-4 0-6zM-92 262l4 0 0 1 6 8 1 7 0 10-1 3-6 3-6-2-4-2-6-8 0-4 6-11 0-1 5-4z"/>
<path fill="#74ed12" d="M22 -258l6-1 4 1 6 0 4-1 6 0 4 1 6 0 0 1 10 3 10 7 10 10 4 5 6 2 4 2 2 0 4 2 4 1 4 3 2 0 4 4 1 0 5 4 4 5 3 1 2 4 2 2 2 4-3 9-6 3-5 4-6 4-2 10 0 10-1 9-1 1-2 6-2 4 0 2-2 4 0 4 1 6-4 5-6 0-10 2-10 7-4 8-2 2-2 10 1 6 3 4 4 4 6 1 4 0 10-7 6-3 4 0 6 3 2 2 2 4 2 1 4 4 4 1 6-2 3-2 1-3 3-2 2-5 0-6-2-4-7-6-6-4-1-6 7-1 5 1 5 5 0 1 4 2 6-1 4 0 6 4 3 15 2 4 5 5 6 1 4-1 5-5 5-4 8-10 2-6 3-4 1-3 6-3 4-3 6-3 4-3 6 0 4 2 6 5 3 8 1 4 0 6-4 4-1 0-5 4 0 2-2 5 0 5 1 4-3 4-6 2-9 0-5 1-6 2-4 4-10 7-2 6 0 4 1 6 2 4 3 4 10 5 4 1 2 5-1 5-2 6-3 5-4 2-4 3-2 0-4 4-2 0-8 7-6 0-4-9-2-2-2-6-5-4-1-2-6-2-15 0-3 4 3 10 1 0 0 6-2 4 0 4 3 6 9 3 4-1 6 0 4-1 6 0 3 3 2 10 2 6 3 3 4 2 10 2 16 0 3 3 0 10-3 10-2 10 2 6 0 11-3 3-9 0-8-4-6-1 0 5-1 4 0 6 1 4 1 0 5 4 4 0 6-3 0-1 4-3 4-1 2-3 4 3 2 4 0 10-4 6-8 3-4 1 0 1-6 2-6 7-3 6-1 0-4 4-10 5-10 5-1 0-5 4-1 2-9 6-4 4-6 5-4 5-6 4-1 0-3 10 0 2-3 4-3 1-4-1-10 2-9-2-4-6-7-6-6 0-4 2-5 4-1 2 0 7 1 1 0 6-1 4-5 6-5 3-5 1-5 4-1 2 0 4 3 6 4 4 0 7-6 1-3-2-1-3-3-3-3-1-4 0-2 1-3 6 1 4-2 4 0 2-4 3-7 1-9 4 0 2-2 4-1 6-3 4-4 4-1 2-3 2-7 2-3 2-6 2-10 5-4 1 0 1-6 0 0-1-6-4-2-6-6-8-7-6-2-6 1-4 0-6 2-10 2-4 2-6 0-4-3-16-1 0-4-14-2-6-4-9-1-5-2-6-2-3-9-3-6-1-4 0-6 1-5 2-2-6 2-10 4-14 3-16 0-4-2-2-4-1-6 2 0 1-10 6-4 5-6 3-9 6-1 0-1 4 0 10-4 6-9 3-6 0-7-3-9-6-8-4-6-1-4 0-6-1-4 0-6-1-4 0-4 3-2 5-4 4-6 2-5-1-3-10 6-6 8 0 4-4-1-6-2-4-1-6 4-1 6 0 4 1 6-2 2-2 2-6 1-4 0-10 2-10 3-10 5-6 5-1 5-3 2-6-3-10-2-4-2-6-5-10-1 0-4-9-2-5 0-10 1-6 15-3 6-3 10-8 4-6-2-4-2-6-5-10-3-4-2-5-6 4-3 5-2 6-5 7-4 13 0 2-6 2-10-5-6-5-4-1-4-3 0-1-5-5-1 0-4-4 0-1-6-2-14-7 0-1-6-2-5-3-5-4-4-6-4-4-6-9-2-1-2-6 0-4 4-3 10-6 5-7 5-4 4-4 9-6 1-3 6-6 4-1 0-1 6-1 4-2 1-2 4-4 1-2 0-4 1-4-1-6 0-4-1 0 0-6 2-4 5-6 6-4 2-4 2-2 0-4-1-6-5-1-7 1-3 2-6 1-5-3-3-4-1-6-1 0-1-4-5-6-1-4 1-6 6-3 6-1 21 0 9-3 4-5 3-2 0-6-2-4 5-4 4 2 6 0 14-3 6 0 14-3 10-2 6 1 4 2 6 2 4 2 6 2 0 1 14 4 6-1 4-5 4-4 6-3 6 1 5 2 9 6 6 5 5 5 3 4 1 6 0 4-2 10 0 6-1 4 3 6 5 2 16 0 8-2 2-1 4-5 0-1 4-3 3-6 5-4 4-4 0-2 4-4 0-1 7-9 3-16 4-14-1-6-6-4-1-2-5-4 0-4 5-5 0-1zM-43 -132l2 4 2 6 10 10 7 1 5-1 5-5 3-5 1-6-4-6-10-3-16 0-4 3zM-31 -88l-5 6-2 1-4 11-3 2-7 9-2 1-2 6-5 10-1 4 0 1 4 5 8 0 2-1 6 1 5 4 5 7 4 3 6-2 4-2 0-1 6-3 4-1 6 2 4 4 7 3 3 2 6 2 2 6 2 10 1 0 4 6 5 3 10 5 6 3 4 3 4 0 2 1 14 0 6 3 4 5 3 1 3 3 4-3 0-4-2-6-2-4 0-2-2-4-3-10-2-4-3-8-10 2 0 1-6 2-7 3-7 0 0-1-6-4 0-1-10-7-5-3 0-4 3-16 2-4 0-5 1-1 0-4-5-9-6-2-4 0-2 1-5 0-3-1-6-4 0-1-4-4-1 0-3-6-4-4-2-4-6-3-10 0zM-122 -48l0 1-4 5-2 4 1 6 2 4 2 6 5 3 5 1 11 5 4-2 1-3 4-4 1-2 4-2 6-1 4-2 4-3-4-4 0-2-10-3-4-3-7-4-13-4-6 2zM-220 -28l-2 6 0 4 4 3 6 0 4-1 2-2 2-4-2-6-2-2-4-2-6 2zM-98 -2l-1 4 1 7 6 0 2-1 1-6-3-5-6-3zM13 32l-1 2 0 28-6 16 0 4 3 6 3 4 1 0 6 6 9 4 2 0 2 2 6 2 2-4-2-10 0-7-2-7-2-10 0-6-2-10 0-5 1-5-1-4-4-6-6-3-4 0zM-54 72l-2 6 4 5 4 2 6 1 4-2 6-7 0-5-10-2-6 0-4 1zM107 82l-4 6 8 10 1 2 4 2 2 2 5-2 4-4 0-6-5-5-7-5-3-1-4 1zM187 92l1 2 4 4 1 0 0-6-1-2-4 1zM-22 122l4 3 2-3-2-3zM61 128l-9 4-4 3-4 7 1 6 7 5 6 0 4-1 8-4 8-8 1-2-1-6-6-4-4-2-6 1zM111 182l-5 6 2 5 5 5 9 2 4-2 1-6-1-4-6-6-8-1zM-2 -246l4-1 4 5-2 4-6 6-1 0-4-6 1-4zM-23 -203l5 5 1 6-1 4-4 3-6-1-3-2-1-3-2-1 2-6 4-3 5-1zM252 115l6 0 1 3-1 1-6 0-1-1zM-122 227l4 1 4 4 1 6-4 6-5 3-10 3-3-2 0-6 1-4 3-6 3-3 5-1zM-92 276l0 7-3-5z"/>
<path fill="#adee13" d="M33 -253l5 0 4-1 10 0 6 1 10 5 4 2 5 4 1 0 4 4 0 1 5 5 1 0 4 4 2 0 4 2 10 3 10 5 6 6 5 4 3 6 0 4-4 6-10 7-6 2-10 0 0 6 5 5 6 4 2 6 0 10-1 4-3 6-3 5-6 6-4 7-12 6-4 3-6 7-4 7-4 17-1 2-5 4 0 1 6 1 4 2 2 2 4 1 4 3 5 0 5 0 7-4 3-4 6-3 4 0 3 1 5 6 2 4 1 0 5 5 4 0 6-2 4-4 7-3 8-10 1-2 4-3 2 5 4 5 4 6 7 3 3 2 3-2 3 0 4-5 5-5 1 0 4-4 1 0 5-7 4-9 0-1 11-9 9-4 6 0 6 4 2 6 0 4-4 5 0 1-4 4-3 6-1 4 0 6-2 4-4 2-6 0-10 3 0 1-10 7-5 3-5 1-2 3 2 11 7 15 3 2 7 2 5 6-3 10-3 4-2 0-8 7-6 3-2 0-2 2-6-3-2-3-2-6-4-4-6-7-6-3-4-1-10 0-6 1-4 4-1 6 0 4 1 6-3 14 1 6 12 7 4 1 6 0 10-2 4 1 6 4 2 9 3 4 9 5 16 3 4 2 2 5 0 5-2 10 0 6-1 4-3 4-6-3-4-10-6-3-8 2-2 2-2 4 0 4 2 6 3 4 2 10 0 6 2 4 3 9 2 1 1 6-1 4-2 3 0 3-3 4-3 6-8 4 0 1-6 1-4 2-6 0-4 2-6 5-4 6-10 5-6-3-4-3 0-1-6-3-3-6 0-10 4-10 2-10 0-6-4-14 1-6 6-7 4-6 2-1 1-6-12-10-5-3-6-2-10 3-2 2-2 6 4 7 6 6 2 7-2 6-5 4-1 0-3 4 0 6 3 9 3 5 3 11-2 5-4 5-2 5-3 4-2 6-4 4 3 6 4 3 0 1 4 6 6 4 4 4 3 2-2 5-5 2-6-1-4-6-1 0-4-6-5-2-11 2-5 2-4 3-3 1-5 4 5 6 3 2 1 8-2 4-5 4-7 2-3 0-4 3-3 1-7 8-6 5-1 3-5 4-6 6-8 1-4 1-2 2-2 6 0 4 2 6 0 10-4 5-4 4-10 3-6 1-4 3-6 3 0 1-4 1-6 0-5-7-2-4-4-6-5-4-2-6 0-10 3-10 2-4 1-6 0-10-2-10 0-5-2-5-4-6-1-4-3-4 0-2-2-4-3-14-3-6-2-1-10 0-10-2-2-1-2-6 3-10 2-4 1-6 0-10 1-4 0-6-1-4-2-1-6 0 0 1-4 1-7 3-7 6-6 4 0 1-6 4 0 1-4 2-7 2-6 6-1 4 0 6-2 4-4 2-10-5-6-1-4-4-6-5-3-1-1-3-4 3-6 1-6 0-3-1-2-6 1 0 4-4 0-1 5-5 0-4-1-6 0-4 1-5 0-11 1 0 2-10 2-3 6-3 5 2 5 1 5-1 3-6-1-4-3-6-3-4-2-6-2-4-2-6-1 0-1-4-3-6-3-4-2-6-1 0 0-10 4-4 9-6 3-1 4-4 6-3 4-3 6-2 4-2 6-2 5-3 5-6 1-4 3-4 1 0 5-5 0-1 4-2 6 1 2 1 3 6 1 4 0 10 4 4 4 2 16 0 4-9 1-1 2-6 3-4 1-6-1-4 0-6 4-4 2 0 4-2 10-2 4 0 6 2 5 6 5 4 4 1 6-1 5-4 9-3 6 1 4 3 6 3 4 4 3 2 2 6 5 10 6 8 4 4 6 2 4 4 4 2 6 1 6 0 10-2 0 1 4 1 6 5 1 4 2 4 1 4 6-1 10-5 2-2 1-6-3-7-6-8-1-5-2-4-1-5-2-5 0-16-4-5-4 1-6 4-4 5-10 5-6 1-9-5-6-6-6-4 1-9 1-1 1-6 2-4 1-6 0-4-2-6-3-5-4-4-6-2-4 0-6 1-4-1-6-3 0-1-4-5-4-4-6-9-4-1-2-2-10 0-4 2-6 5-4 9 0 1-6 6-4 3-6-1-4-3 0-1-6-4-4 0-3 5 1 4 3 5 4 5 0 6-5 2-10 0-6 1-10-3-14-4-6 1-5 3-5 4-1 0-3 4-6 0-4-4-6-2-4 0-6 1-4 7 0 2-6 3-4 0-6 2-4 2 0 1-4 4-5 6-1 4 3 10 0 6-4 10-4 4-1 2-4 0-4-2-2 0-4-3-3-1-5-6 0-4 2-4 3-2 3 0 4-2 7-2 3-6 0-3 2-1-2-1-1-5-13-10-16 3-4 1-6 3-4 7-2 2-4 1-4 0-8-1-10-10-2-4-6-7-1-5 1-3 6-4 7-7 3-6 4-4 1 0 9-7 8-3 2-3 6-3 5-4 5-5 2-5 1-6 0-10-1-4 0-6 3-4 9-9 3-1 3-4 1-6 0-6-1-5-6-4-4 2-6 2-4 2-6 0-2-1-3-6-3-10 1-4 3-3 7-3 17 0 6-1 4-3 2 0 8-4 6 0 4-2 2-4 0-6 5-4 9-2 4 0 10-3 0-1 10-2 6 1 4 3 6 2 4 2 6 2 5 2 7 6 2 4 2 0 4 3 4-10 6-8 4-2 6 0 10 7 2 6 2 4 1 0 3 6 2 2 0 2 2 6 0 10-1 4 0 6 1 4 2 4 6 0 4-1 16 0 4-1 6-3 4-3 0-1 5-5 1 0 4-4 0-1 6-7 5-8 7-10 2-4 1 0 3-16 1-5 3-5 2-5 0-4-1-5-4-6 1-3 3-1zM-104 -182l-4 4-1 6 0 4 1 3 4 3 3 0 3-2 2-4 0-10-2-9-4 3zM72 -148l-1 6 1 1 10 3 0 1 6 1 2-2-2-5-5-5-5-2-6 2zM-51 -142l-1 4 1 6 3 5 6 7 4 8 10 8 6 1 4 0 6-3 0-2 3-4 5-10 0-6-1-4-7-8-6-2-14 0-2-1-4 0-4-2-6-2zM16 22l-4 2-7 8-3 7 4 13 0 6-3 10-1 0-2 4-1 6 3 9 6 5 5 6 7 4 7 6 1 0 4 4 0 1 10 3 6-2 1-6-1-6-4-4-2-4-2-12 0-4 2-10 1 0 1-6 0-4-1-6 1-4 0-6-5-10-14-10-7 0zM-140 58l0 4 2 3 6 1 2-4-2-5-6-3zM-54 68l-4 2-2 2-2 6 1 4 7 6 2 0 4 2 6 2 4-1 6-5 4-7 2-1 3-6-1-4-4-4-4 0-10 2-6 0-4 1zM-78 88l0 5 6 0 0-6-6 0zM-23 112l-5 7-1 3 0 6 1 4 6 2 6-2 4-2 2-2 2-6-3-10-1-1-6-2-4 3zM57 122l-5 1-4 2-2 3-4 3-2 7 0 10 2 7 6 5 4 0 6-3 4-1 10-6 4-2 6-6 3-4-1-6-6-7-8-3-12 0zM140 128l-2 3-2 1 1 6 1 0 4 5 6 1 5-6 1-6-2-4-4-3-6 1zM31 218l4 4 3 2 4 1 6-1 4-6 0-1-4-3-10 0-6 2zM-22 253l-1 5 7 0 1-6-3 0zM-158 -32l6 1 4 2 5 1 0 6-5 4-4 4-6-2 0-2-2-4-1-6z"/>
<path fill="#e5f015" d="M48 -248l4-1 6 1 10 5 9 5 5 6 6 6 4 2 6 1 0 1 10 2 5 2 5 4 1 2 5 4 2 6-1 4-5 6-8 3-4 0-6-1-7 2-2 6 2 4 2 6 1 0 4 4 1 0 5 4 4 6-2 10-2 4-6 0-4-2-2-2-7-4-1-2-6-3 0-1-4-2-6 0-5 8-3 4-2 4-1 6 0 6 1 5 7 5 3 4 1 6-1 0-2 4-2 7-2 3-2 6-4 4-2 3-6 5-1 2 1 6 5 3 6 1 4 0 1 1 4 0 10 5 6 1 6-1 4-2 7-8 3-2 4 0 7 6 3 9 6 4 5-3 9-4 0-1 6-1 4 2 6 1 4-4 6-1 4 1 6 4 2 3 2 11 3 5 3 3 0 2 4 9 3 6 6 4 1 2 6 3 1 6-2 5-6 4-3 3-6 3-4 1-3-1-3-3-1-3-3-5-4-5-5-4-1-2-5-4-5-3-6-1-10 2-4 2-2 0-3 6-1 0 0 20-1 4-3 7-6 3-4 5-3 1-2 4 9 4 3 2 7 0 10 2 6 2 4 0 16-3 5 3 5 9 0 1 6 6 4 1 4 2 5 1 8 6 2 4-3 6-2 0-4-2-6-1-4 0-6 2-4 3-4 2-3 6 2 4 7 10 2 6 2 4 0 6 3 14 1 2 0 9-4 9-6 6-6 2-4 0-9-2-1-2-5-4 2-4 2-6 1-4 0-9-3-7-3-4-4-1-1 1-5 1-4 2-6 0-2-3-1-6 3-4 0-2 5-4 5-3 7-1 3-6-10-3-4-3-10-6-6-3-4-3-6-1-10 3-4 4-4 2-1 6 1 4 7 10-1 6-8 4-4 6-6 2-4 0-5-2-4 0-1-1-6-2-5-7-3-6-2-1-1-3-5-6-2-4 0-6 1-4 3-4 9-6-1-6-2-4-1-6-1 0 0-5 6-4 4-7 6-1 2 3-2 5-5 5 2 10 3 6 4 2 6-3 0-1 5-4 5-5 0-1 4-3 4-1 12-10 4-5-4-6-6-4 0-1-4-4-5-10-2-10 0-6 1-4 0-6-1-4-4-6-5-1-6 1-4 3-4 5-10 8-7 0-8-6-1 0-5-4-1-6 2-7 0-3 2-4 1-6 0-4-1-6-2-4-1 0-3-6-6-4-6-2-4 1-6 0-4-1-6-3 0-1-4-4 0-1-6-7-1-2 0-6 2-4 3-10 5-10 0-6-3-7-2-3-5-4-4-5 1-1 0-4 4-6 6-5 5-5 5-4 4-9 4-7 2-1 4-7 5-6 1-6 0-4 1-6 3-7 6-8 4-9 0-1 4-5zM27 -128l-5 2-5 4-2 4-1 5 1 5 3 4 4 1 6-2 2-3 7-4 4-6 0-4-3-3-10-3zM-148 -214l10-3 6 1 8 4 2 0 9 4 7 6 2 4 0 6-4 5-4 7-2 2-3 10 1 6 4 4 4 3 6 1 4 0 6-3 3-5 1-6-1-4 0-10 1-4 5-6 3-6 0-4 2-6 4 0 2 2 1 4 3 5 5 5 1 0 3 4 3 6 1 4 0 6-2 10 0 4 1 6 0 4-1 6 0 4 1 6 2 4 2 2 4 7 2 1 4 7 4 13-1 6-2 4-2 6-5 6-4 2-6-1-4-4-6-3-4-1-6 2-2 3 0 6 1 4 0 6-3 5-6 2-4 0-10-2-10-3-6 0-5 2-7 6-2 1-6 1-10-4-4-1-6 1-4 2-6 4-4 4-4 2-2 0-4 3-3 1-7 6-6-1-6-5-8-4-19 0-1-1-6-1-4 0-6 2-3 10-7 2-4-2 0-1-5-5-1 0-3-4-1-5-1-1 9-4 2-4 1-6 3-6 6-5 4-2 11-4 5-3 6-6 4-3 4-10 1-1 1-6 0-4-1-6 0-4 1-6 4-5 5-5 6-4 3-6 1-4 0-16-5-10 1-4 9-5 0-1 15 0 9 2 6-1 1-5-1-5-3-5 1-6 2 0 4-2 6-2zM-223 -183l5 0 6 1 4 4-3 6-1 0-6 4-4 2-6-3-3-9 3-3 3-1zM222 -103l6-3 4-1 6 1 2 4-2 6-6 8-4 9-6 6-4 1-7 4-5 6-4 3-4 1-7-4 1-6 5-5 1 0 4-4 6-3 2-2 2-7 2-3 2-6 5-4zM-58 -20l6-1 9 3 5 6 6 4 4 0 6-2 5-3 9-3 6 1 5 3 5 2 2 2 3 6 3 4 3 10-1 3-3 3-3 1-4 3 0 1-10 6-6 0-10 2-2 1-3 6 0 4 2 6 3 2 4-2 2-2 4-1 6 2 3 5 0 6-3 9-3 5-1 6 0 4 3 6 1 0 4 4 0 1 5 5 1 0 4 4 0 1 6 6 4 6 8 7 5 6 0 10-3 15 2 5 4 4 4 6 4 4 2 4 2 2 3 0 3-6 2-2 0-2 2-6 8-5 7-5 3-1 5-3 5-4 4-1 6 2 2 7-1 6-3 4-3 6-1 0-4 6-5 4-1 0-2 4-1 6 0 4-1 2-5 4-11 2-4 2 0 1-9 5-7 1-10 0-4-1-6 0-8 4 0 5 4 7 4 3 6 1 9 4 1 0 0 6-6 4-7 10-4 6-3 2-10 0-4-2 1-6 0-4-3-2-14 0-6-1-4 0-6 1-2 2-2 4 0 2-4 4 4 1 4 5 6 2 4 0 10-2 6 2 0 16 2 6 2 4 0 4 0 2-4 5-6 2-4 0-6-1-4-3-3 1-2 6-1 0-4 5-6-2-1-3-4-6-5-3-4-7-1-4 1-2 0-4 2-4 2-7 3-3 2-6 1 0 3-4-3-3-5-17-2-6-3-4 0-2-3-4-2-4-1 0-3-6-1-4 0-4-1-2 0-10-5-6-10-6-2-2-2-10 0-2-2-4 0-14 2-6 0-5-4-5-10 0-6 3-6 2 0 1-4 2-3 3-3 1-4 4-7 4-3 3-6 2 0 1-4 2-6 2-4 4-6 0-4 1-6-1-4-7-2-1-4-5 0-1-8-4-3-6-1-5 0-5 2-10 0-2 6-6 4 1 6 0 4-1 6-3 3-3 3-6 0-4-2-6-4-4 0-1-6-6 0-3-2-6-2-5-4-5-2-1-2-3-2-5-1 0 0-5 1-6 4-3 6-3 3-4 1 0 6-4 4-2 10-2 4-2 2 0 4-2 6-2 4-4 3-2 4-10 3-3 5 3-1 6-2 4 0 6 4 3 4 1 0 1 16 0 14 3 6-1 2-3 0-14 2-7 2-3 2-10 3-6zM-139 42l-3 2-4 4-2 1-2 3-2 6 0 4 4 6 6 2 4 2 6 1 4 0 10-2 6 2 4 0 5-1 0-4-15-5 0-1-6-4-2-6-2-4-4-6-6 0zM-43 62l-5 1-4 0-6 2-4 3-3 4-2 6-11 0-7 4-3 6 2 4 6 6 2 1 6 1 5-2 3-6 2-1 7 1 8 6 4 4 1 3 1-3 3 0 6-6 4-8 0-1 4-5 5-4 2-6 0-4-1-1-1-5-3-4-6 0-4 2-10 2zM-23 102l-5 4-4 6-1 0-3 6 0 4-1 6 1 4 4 4 1 2 3 1 6-1 4 0 0-1 6-2 10-6 1-1 1-6-2-5-6-9-5-6-5-1-4 1zM-208 -3l6-1 3 2 1 4-4 5-6-1-3-4 2-4zM132 154l6-1 4 2 4 3-4 9 0 1-4 3-6-1-3-2-1-6 2-4z"/>
<path fill="#efc314" d="M58 -239l4 0 7 1 8 6 1 0 3 4 1 4 2 2 8 4 11 0 9 4 7 6 2 6-3 5-6 3-4 0-6-1-4-2-6 0-5 5-5 7-10-2-4 0-6 4 0 7 4 8 0 6-1 4-3 6-3 4-3 6-4 4-4 3-6 0-4 1-6 0-8 2-2 0-9 4 0 1-5 0-6-7-4-7-2-1-3-6 0-4 4-6 1 0 4-4 6-2 5-4 2-10 3-5 2-5 5-4 3-4 0-2 2-4 2-10 0-5 6-9 4-4 6-2 4-5 2-1zM-142 -213l4-1 6 0 4 3 9 3 8 6 3 4-1 6-3 5-5 5-1 0-3 4-1 5-6 6-3 5 1 4 2 4 3 2 7 1 10 3 0 1 7 5-3 4-7 6-7 2-2 2-2 6 4 5 10 3 16 3 10 6 4 5 4 2 2 3 4-1 1-2 5-4 2-6 0-4-3-6-5-1-4 0-8-3-8-10-3-10 1-6 3-4 5-10 0-7-2-9 2-4 4-5 6-1 5 0 5 5 2 5 0 10-1 6 0 10 1 4-1 6 0 10 2 10 1 2 6 5 1 3 3 4 1 0 3 10 1 6-2 4-2 6-5 4-6-2-3-2-1-2-6-6-5-1-9 9-3 4 0 6 1 4-1 6-3 2-4 1-6 0-4-2-5-1-5-3-6 0-4 1-2 2-7 4-1 2-6 1-4-1-4-2-13 0-3 2-6 2-4 3-6 2-4 4-4 3-2 0-4 3-6 1-4-3-10-5-10 0-10-3-17-3-3-2-4-4 0-4 2-6 6-3 16-5 1-2 6-4 7-10 3-6 2-10 0-4-1-6 2-7 0-3 4-4 0-1 7-5 5-4 3-10 1-1 0-5 3-14 1-3 4-3 6-1 6 0 10 2 4 0 6-4 0-7-3-10 0-4 3-6 4-3 3-1zM-222 -178l3 0-3 2-1-2zM88 -173l0 1 4 4 1 0 5 5 0 1 4 4-4 2-9-6-3-6 0-4zM48 -109l4-1 6 1 2 1 3 6-1 0-4 9-9 5-4 6-2 4 0 6-1 4-4-4-1 0-7-5-2-2-6 0-4 1-6 0-4-1-6-3-4-8-2-2 5-10 1-4 6 3 0 1 4 4 10 3 6-2 4-3 6-3 7-5zM222 -98l7 0-1 6-5 4-3 0 0-4 2-6zM48 -66l10 2 4 0 6 1 9 5 2 0 3 3 6 1 4 0 6-2 8-6 2-3 4 0 2 3 3 10 1 0 4 7 6 1 10-3 3 5 1 4-1 6-3 3-5 1-5 4-3 6 0 6 2 10 0 4-1 6-4 5-7 5-3 1-6-1-4-3-1-3-3-4-1-6 0-4 3-16-2-5-3-5-3-1-4-3-2 0-4-3-5 3-5 2-3 2-1 2-4 4-6 4-6 1-9-5-3-6 2-9 2-5 1-6 0-14zM168 -59l5 1 2 6 3 5 1 5 3 4 1 0 3 6 2 1 3 9 10 10 3 4-1 6-11 6-4 1-6-6 0-1-4-6-6-6-4-8-1 0-3-10-5-10 0-6 3-6 4-4zM-58 -13l6-3 4 1 6 4 3 3 1 3 6 5 5-2 5-3 4-4 10-3 6 1 6 3 4 3 1 3 3 4 0 2 2 4-2 5-4 5-6 3-4 1 0 1-6 0-10-2-4 0-6-1-1 2 0 6 1 4 0 16-2 4-9 6-9 1-10 0-7 3-8 11-15-3-4-3-9-5-11-2-6-3-3-5-1-4-1 0-2-10-3-4-4-2-6 0 0-4 1-1 5-1 5 1 5 2 10 0 4-1 5 0 1-1 4 0 10 2 8 3 2 2 6 2 10 0 5-4-1 0 0-4-2-6-2-4 0-2-2-4 0-4 2-10 2-6 2-4zM-158 31l6 0 4-1 10 2-4 2-5 5-4 3-1 2-4 4-5 4-1 2-6 3-4-1-4-4-1-4 2-6 3-1 4-3 0-1 6-3 2-2zM108 47l4-3 6-1 10 2 10 4 4 3 6-1 10-5 4-1 6 1 9 12 1 0 4 4 2 0 5 6-7 2-4 2-2 0-4 2-14 11-10 0-6-2 0-1-9-4-8-6-7-3-6-1-4 1-6 3-9 6-7 4 0 6 5 10 0 4-3 6-6 4-4 2-6-1 0-1-4-2-2-2-3-6-1 0-3-4-3-6-4-2-2-2 0-6 2-1 6 1 4 4 6 0 10-6 1-2 0-6 3-6 3-4 5-4 2-3 14-7zM-8 51l2 1 2 6-1 4-3 5-4-3-2-6 3-6zM-148 76l10 0 6 1 5 0 1 1 4 0 8 4 3 10 3 2 6 1 4 0 6 1 4 2 6 2 4 2 0 1 6 2 6 3 4 4 2 6 2 4 1 0 2 10 7 5 6 1 4 2 6 2 4 0 6 0 10-2 4-2 5 0 1-1 4 0 6-2 4-3 6-1 5 1 3 6 1 4-2 6-4 4-4 6-2 4-1 6 4 4 4 0 6-1 5 1 4 6 1 0 3 4 1 3 7 7 1 6-2 4-10 3-14-3-8 0-4 1-6 5-2 4 0 6 2 10-1 4-4 6-3 2-6 1-14 0-6-1-4 0-6 1-9-13-5-8-2-2-3-6-1 0-2-10 0-10-2-7-8-7-7-10-3-10 0-6 2-9 0-4-1-7-3-2-6-2-4 0-6 2-4 2-4 0-6 4-6 3-4 3-2 0-8 7-6 3-9 6-6 1-9 0-6-3-4-5-6-5-4-4-3-4 0-6 1-4 2-4 4-3 6-1 4-2 2 0 4-2 5-4 5-2 3-2 1-6-4-14-1 0-1-6 2-4zM-2 97l7 5-2 6-1 0-4-5-1 0-1-5zM162 101l6-3 7 4 3 3 3 7 1 6 0 24-1 6-3 5-6 2-4-1-4-2-2-2 0-7 2-5-1-6-1 0-3-14 0-10 3-6zM88 152l4 6-5 10-7 4-2 3-5 3-5 1-1-1-2-6 2-10 5-3 10-5 5-2zM-38 272l6-1 6 1 4 3 7 3 8 10 2 4 0 6-2 1-3-1-3-6-1-4-4-5-4 1-6 4-4 4 0 1-6 4-4-1-6-6 0-6 6-9 4-3z"/>
<path fill="#ed8b12" d="M62 -231l6-1 6 4 3 10 1 1 1 5 2 4 1 6-4 7-10 2-1 1-5 1-3 3-3 10 2 6 2 4 1 6-3 9-6 6-4 2-10 2-1 1-5 1-4 2-16 3-5-1 0-1-6-4-3-6 0-4 5-6 5-1 4 1 5 0 1 1 4 0 6 1 4 0 6-3 0-5-9-4-7-2-2-2 0-6 2-4 0-2 4-4 5-4 3-10 0-6 3-10 4-4 1-2 6-1 4 0 6-2 0-1zM102 -213l1 1 5 1 5 3 1 6-2 2-4 1-6-2-4-6 0-2 3-3zM-142 -210l4-1 6 0 4 3 3 0 8 6 3 4-1 6-7 4 0 1-6 1 0-2-4-4-6-1-4 0-6-4-1-5 3-6zM-72 -180l4 0 2 2 1 6 0 20 1 4-1 6 0 4-1 6-3 4-3 2-6-2-3-4-1-5-1-1 0-4 2-10 3-6 0-2 2-2 0-16zM-162 -168l5-1 9 0 6 2 6 10 2 5 5 4 1 2 4 4 1 4-5 9 0 7 6 7 2 3 8 3 4 0 9 1 1 1 6 2 5 3 5 4 1 6-2 4-5 5-3 5 1 6 0 4-2 4-6-1-7-3-7-4-6 0-4 1-6 3-5 6-5 2-10-2-10 0-13 4-1 1-6 2-5 3-5 2-3 2-1 2-6 1-10-5-4-1-10 0-5-1-5-3-10-2-6-2-2-3 2-4 3-2 7 0 6-1 4-3 2 0 4-5 0-1 4-4 0-2 6-8 3-10 0-10-1-6 2-8 2-2 7-4 1-2 4-4 5-10 1-4 1 0 2-6 7-6 6 0 4-1 5-3zM-205 -72l-2 4 5 2 0-8zM-52 -99l4 7-4 8-6-2-1-2 0-4 1-4 2-2zM8 -91l9 3-5 3-4 0-4-3zM52 -58l6-2 4 0 7 2 5 6 2 4-2 6-2 1-3 8-2 2-9 6-6 1-7-4 4-10 1-4 0-10 2-6zM102 -48l6 0 1 6-1 5-5 5-6 0-5-5-1-5 1-2 8-4zM178 -33l0 1 5 4 3 6 2 1 4 7 5 6-1 6-4 2-6-2-4-5-3-5-5-10 0-6 3-4zM-52 -9l4 0 2 1 4 5 5 14-1 3 0 4-2 4-2 7-6-2-4-6-3-3-2-6-1 0-1-4 1-9 4-7zM-18 -3l6-3 4-1 6 1 4 2 6 6 1 6-2 4-9 5-6-1-10-8-2-6 2-4zM112 -3l3 1 1 4-4 6-5 0-1-6 2-3 3-1zM-102 32l10 0 7 6 3 4 0 9-1 1-2 6-3 3-4 0-16-3-8-6-3-4 0-6 2-4 11-6zM-38 35l4 7-1 6-2 2-5 1-4-3 2-6 3-4zM122 52l1 0 3 6-4 3-10-2-2-1 2-2 6-3 4-1zM162 52l2 0 4 2 2 4 1 4-4 6-5 5-4 6-6 1-9-2-4-6 1-4 2-2 6-3 0-1 10-7 3-3zM92 61l10-3 6 2 0 3-6 3-1 2-3 2-6 2-4-4 3-6zM-142 82l4-2 6 0 5 2 5 5 2 11 2 2 26 0 8 2 12 8 2 2 3 10-2 6-3 1-6-2-4-2-6 0-10 2-14 3-10 2-6 0-4 3-1 3-5 6-2 4-2 2-6 3-4 1-6 0-5-2-6-4-4-6-4-4-1-6 3-4 8-6 9-4 6-1 9 5 5 6 6 3 2-3 1-6-1-4 0-6-2-3-2-1-4-5 0-1-4-4-3-6-1-4 2-6zM72 96l6-3 5 5-1 4-4 3-6-3 0-4zM168 106l5 2 5 5 1 5 0 4-1 7-6 7-2-4-2-1-2-3-3-10 1-6 2-4zM-68 138l6 2 5 2 9 2 6 0 4 1 6 0 4 1 6 0 10-2 4 0 6 2 2 2 2 4 1 0 1 6 0 10 1 4 3 6 4 2 6 1 10 0 4 1 0 1 5 5 1 0 3 4 0 6-3 1-6 0-7-1-7-2-6 1-10 3-2 2-2 6 0 10 2 10-2 5-6 3-4 1-6 0-10-2-6-3-4-1-4-3 0-1-4-5-2-1-6-9-2-4-1-6 0-10 1-4-3-6-6-4-5-6-2-4-1 0-3-10 0-6 5-10z"/>
<path fill="#ec5211" d="M42 -218l6-1 6 1 4 2 4 4 2 4 0 6-5 4-1 2-4 4-5 4-1 6 0 4-6 3-10 0-4-3 4-6 6-2 2-6-2-10 0-6 1-4 3-6zM-138 -207l6 1 6 4-2 2-10 0-3-2zM-152 -163l4 1 6 3 3 7 4 4 3 5 2 5-2 6 0 2-2 2 1 6 5 7 8 7 2 3 10 2 6 0 10 3 3 2 1 5-4 7-6 2-10-2-4 0-6-1-14 3-6 1 0 10-4 6-6 1-10 0-10 2-2 2-8 1-10 2-5-3 0-10 1-1 0-5 1-4 7-10-4-3-4-5-3-2-3-4 0-2-2-4 0-6 2-3 2-1 4-4 0-2 2-4 2-10 1 0 3-6 2-2 4-2 0-1 10-2 6-2 0-1 8-4zM-170 -92l6 4 6 5 2 1 8 0 3-6-3-2-4-5-6-2-4 0-6 1zM-72 -156l2 4 1 4 0 6-3 6-6-3 0-7 3-6zM8 -152l14 4 0 1-4 2-6 1-4-1-3-3zM58 -53l4-1 3 2 1 4-3 6-2 0-3-2-2-4 1-5zM-8 1l6 0 2 1 1 6-3 1-4-1-2-2-1-4zM-48 5l2 3-2 4-3-4zM-102 36l4 0 4 2 2 0 3 4 1 6-4 7-6 1-10-2-6-6 1-6 1 0 4-4 1 0zM-138 87l6-1 2 2 0 4-2 4-5-4-1-4zM-112 106l10-2 10 0 10 3 4 4 2 1 1 6-3 2-14 3-10 2-6 0-4-1-5-6-1-6 3-4zM172 114l2 4 0 4-2 3-2-3-1-4zM-162 126l4-2 6 0 4 6 2 2 0 6-2 4-4 5-7 1-6-6-3-4 0-6 3-4zM-68 149l6-1 14 3 10-2 26 0 5 3 5 10 0 22-3 4-6 4-2 6 2 4 3 10 2 10 0 6-6 5-6 0-10-3-4-2 0-1-10-6-6-5-2-4-4-4 0-16 2-4 2-6-2-3-6-2-4-2-6-5-3-8-1-4 2-6z"/></g>
</g></g>
</g>
<g>
<circle cx="494.9" cy="73.5" r="48.7" fill="url(#rg)"/>
<path d="M488.5 36.4L489.6 34.8L490.8 33.3L492.1 32.0L493.4 30.8L494.9 29.8L496.4 29.1L498.0 28.6L499.6 28.4L501.1 28.4L502.7 28.7L504.3 29.1L505.9 29.6L507.4 30.1L508.9 30.8L510.4 31.6L511.7 32.4L513.1 33.4L514.4 34.4L515.6 35.4L516.7 36.6L517.8 37.8L518.7 39.0L519.6 40.3L520.5 41.7L521.2 43.1L521.8 44.5L522.4 46.0L522.9 47.4L523.2 49.0Z" fill="#646464" fill-opacity="0.24" stroke="#464646" stroke-opacity="0.55" stroke-width="0.7" stroke-linejoin="round"/>
<path d="M523.2 49.0L525.0 49.1L526.9 49.4L528.7 49.9L530.4 50.5L532.0 51.3L533.4 52.2L534.7 53.3L535.6 54.6L536.3 56.0L536.9 57.5L537.4 59.1L537.7 60.7L538.0 62.3L538.2 63.9L538.2 65.5L538.2 67.2L538.1 68.8L537.8 70.4L537.5 72.0L537.1 73.5L536.6 75.0L536.0 76.5L535.3 77.9L534.5 79.3L533.7 80.7L532.8 81.9L531.8 83.1L530.8 84.3L529.6 85.3Z" fill="#646464" fill-opacity="0.24" stroke="#464646" stroke-opacity="0.55" stroke-width="0.7" stroke-linejoin="round"/>
<path d="M529.6 85.3L530.4 87.0L531.0 88.8L531.6 90.6L531.9 92.4L532.0 94.1L531.9 95.8L531.6 97.4L531.0 98.9L530.1 100.2L529.1 101.5L527.9 102.7L526.8 103.8L525.5 104.8L524.2 105.8L522.8 106.6L521.4 107.4L519.9 108.1L518.4 108.7L516.8 109.2L515.3 109.6L513.7 110.0L512.1 110.2L510.6 110.3L509.0 110.3L507.4 110.3L505.8 110.1L504.3 109.9L502.8 109.6L501.3 109.0Z" fill="#646464" fill-opacity="0.24" stroke="#464646" stroke-opacity="0.55" stroke-width="0.7" stroke-linejoin="round"/>
<path d="M501.3 109.0L500.2 110.6L499.0 112.1L497.7 113.4L496.4 114.6L494.9 115.6L493.4 116.3L491.8 116.8L490.2 117.0L488.7 117.0L487.1 116.7L485.5 116.3L483.9 115.8L482.4 115.3L480.9 114.6L479.4 113.8L478.1 113.0L476.7 112.0L475.4 111.0L474.2 110.0L473.1 108.8L472.0 107.6L471.1 106.4L470.2 105.1L469.3 103.7L468.6 102.3L468.0 100.9L467.4 99.4L466.9 98.0L466.6 96.4Z" fill="#646464" fill-opacity="0.24" stroke="#464646" stroke-opacity="0.55" stroke-width="0.7" stroke-linejoin="round"/>
<path d="M466.6 96.4L464.8 96.3L462.9 96.0L461.1 95.5L459.4 94.9L457.8 94.1L456.4 93.2L455.1 92.1L454.2 90.8L453.5 89.4L452.9 87.9L452.4 86.3L452.1 84.7L451.8 83.1L451.6 81.5L451.6 79.9L451.6 78.2L451.7 76.6L452.0 75.0L452.3 73.4L452.7 71.9L453.2 70.4L453.8 68.9L454.5 67.5L455.3 66.1L456.1 64.7L457.0 63.5L458.0 62.3L459.0 61.1L460.2 60.1Z" fill="#646464" fill-opacity="0.24" stroke="#464646" stroke-opacity="0.55" stroke-width="0.7" stroke-linejoin="round"/>
<path d="M460.2 60.1L459.4 58.4L458.8 56.6L458.2 54.8L457.9 53.0L457.8 51.3L457.9 49.6L458.2 48.0L458.8 46.5L459.7 45.2L460.7 43.9L461.9 42.7L463.0 41.6L464.3 40.6L465.6 39.6L467.0 38.8L468.4 38.0L469.9 37.3L471.4 36.7L473.0 36.2L474.5 35.8L476.1 35.4L477.7 35.2L479.2 35.1L480.8 35.1L482.4 35.1L484.0 35.3L485.5 35.5L487.0 35.8L488.5 36.4Z" fill="#646464" fill-opacity="0.24" stroke="#464646" stroke-opacity="0.55" stroke-width="0.7" stroke-linejoin="round"/>
<circle cx="494.9" cy="72.7" r="37.4" fill="#544840"/>
<circle cx="494.9" cy="72.7" r="36.3" fill="#12b8f6"/>
<g clip-path="url(#c03)"><g filter="url(#soft)">
<g transform="translate(495 72.9) scale(0.1)"><path fill="#15e5f0" d="M-162 -388l159 0 0 10 6 6 5 2 4 3 6 2 5-3 2-10 3-4 1-6 154 0 0 6 3 10 5 10 1 4 1 0 5 10 2 10 2 6 0 2 2 2 1 6-2 4 5 5 4-2 6 2 0 1 4 4 0 1 10 5 16 0 10 2 5 2 11 6 4 1 3 3 2 6 2 4 4 10 4 6 5 5 4 6 6 4 4 5 4 4 3 6 3 5 6 4 9 5 4 6 1 4 0 13 2 3 4 2 10 11 3 7 1 4 0 4 2 6 1 6 0 20 3 10 4 6 6 3 0 1 10 2 0 166-6 0-8 2-2 0-9 4-1 9 1 1 2 6 3 6 1 4 2 4 0 6-3 4 0 2-2 4-3 10-5 9-2 5 3 16 0 4 1 6 0 4-1 6 0 10 1 4-2 6-6 1-24 0-6 3-2 6 2 8 5 6-1 6-8 4-6 2-8 4-2 0-4 3-3 1-7 7-6 5-4 8-2 6-8 11-6 4-4 2-6 1-4 0-10-2-6 1-14 0-6-1-4-3-6-1-10 3-4 2-10 3-10 2-6 2-9 2-6-1-9-2-6 0-4 1-4 0-2 1-4 0-10-2-8-3-5-6-2-4 0-10-1-2-4-4-1 0-5 5-3 5-2 2-1 4-4 5-2 5-3 4-2 6 0 4 2 6 10 4 7 6 4 5 4 9 5 10 1 0 3 6 1 4 1 0 3 10 1 6-2 10-2 5-3 5-5 4-3 4 0 2-119 0-2-6-3-4 0-2-6-6-5 2-1 6 0 10-49 0 0-10-2-6-3-1-4-3-10-2-6-2-4-3-6-3-6-6-5-4-3-6-2-10-2-4-2-2-2-4-4-4-4-5-4-7-6-3-4-3-4-2-5-6-11-3-6 0-11 3-3 2-16 3-10 2-6-1-4-2-10-8 0-1-5-5-5-4-3-6-1-5-2-4-1-5 0-6-1-4 0-6-6-12-6-7 0-1-4-4 0-1-5-5-1 0-4-4-1 0-5-4-1-2-3-2-6-2 0-1-10-3-12-6-5-10-1-6 0-4-1-6 0-4-1-7 1-3 0-10-1-2 0-4-2-4-2-10 0-6 2-10 4-10 2-4 1-6 1 0 0-20 3-10 7-6 4-9 1-5-1-4 0-13 1-3 5-6 5-4 4-4 0-6-3-10-4-4-2-3-10-7 0-2-6-8-3 4-3 10-4 5 0 1-4 2-6 2-7 0-7 2-10-3-6-1 0-101 5-1 11-8 4-2 0-1 6-3 5-2 5-1 4 0 6-1 4 0 10-2 3 0 11-6 2 0 4-2 10 2 0 1 6 0 2-5 2-10 0-9 1-1 0-6 3-10 2-2 0-2 2-6 2-4 1-6 0-4-1-6-4-6-4-4-2-1-2-3-3-6-2-10 1-4 0-6-2-4-1-6-2-4 0-16 5-10 6-4 1 0 5-4 4-6 0-2 4-8 3-6 5-4 4-8 1-8 3-6 6-3 0-1 10-2 20 0 10-2 5 0 19-4 6-2 4-2 6-2 6-6 2-4 1-6zM-33 -258l0 6 3 4 2 5 3-5 0-4-3-5-4-1zM264 182l0 6 4 3 10-3 4-6-4-4-6 0-4 2zM-114 318l-7 4-3 6 0 4 5 6 7 1 4-3 3-4 3-5 1-5-1-2-6-3-4 0z"/>
<path fill="#14efc3" d="M-148 -388l140 0-3 10 3 6 6 1 7 3 10 6 8 0 3-6 2-5 3-15 143 0-1 6-1 0-4 6-8 4-3 4 5 2 6-1 4 1 5 4 1 0 2 4 2 10 0 16-4 3-10-3-6 3-2 7 0 10 2 2 6 1 4-2 4-1 6-5 6 3 0 2 4 4 1 0 9 8 10 5 10 3 6 1 4 3 3 10 5 6 8 0 4-2 6 0 7 2 3 0 8 4 5 6 1 0 6 5 4 6 4 3 6 9 2 1 3 6 1 0 2 4 2 7 9 9 1 0 6 5 1 5 0 4 1 6 2 4 0 2 4 4 2 0 10 7 1 3 3 4 0 2 2 4 1 4 0 16 1 4 0 6 2 4 1 6 2 4 1 6 0 5 5 5 10 4 5 5 6 2 0 89-3 4 0 6 1 4 0 6-5 4-3 4-10 5-6 1-4-1-6 0-5 1-4 6 2 10-4 14 0 6-1 4 1 6 1 2 6 4 4 4 3 4 1 6-1 4-4 6-7 4-2 2-2 8 2 10 0 4 2 6-1 6-1 1-14 0-6 3-2 6-2 4 0 4-4 6-7 6-5 2-4 0-10-5-6-1-10 0-10 3 0 1-4 4-1 0-1 6 1 4-2 6-3 4-1 6 3 4 8 6 6 4 0 8-1 2-1 6 0 4-2 11-2 1-2 4-2 2-6 1-4 0-6-1-4-2-10-2-6-2-4 0-6-1-5 0-5 1-10 5-10 6-10 2-4-1-16 0-4 1-6 0-4 1-6 0-4 1-10 0-6-1-4-4-3-6-2-10-2-6-5-4-4-7-2-9-2-5-6-2-5 3-5 2-2 2-3 6 0 4 1 1 0 4 1 5-1 7-6 8-3 5-1 5-2 5-2 10 0 6-2 7 0 7-2 10 0 6 2 1 6 1 10 0 5 2 4 6 1 0 4 14 1 0 2 6 3 4 1 6-1 6-9 4-7 1-4 11-2 2-3 6-85 0-5-10-5-10 0-1-6-4-5-1-5 4-2 12-1 4 0 6-21 0-3-16-4-10-3-2-6-2-4 0 0-1-6 0-10-2-6-3 2-5 4-3 1-2 5-5 4-9 0-2 2-4 0-4-6-4-6-1-5 0-9 4-10 5-7-4-4-6-2-4-1-6-2-2 0-2-4-6-6-5-6-10-4-4 0-1-6 0-8 4-6 0-4-1-10 0-6 2-4 3-6 3-4 1-6 0-4 1-10-2-6-2-7-9-3-4-2-6 0-10 2-4 0-6-4-8-7-6-4-6-5-5-4-6-6-4-4-5 0-1-4-3-6-9-6-3-8-8-1-6-1 0-1-4-3-6-4-4-2-10 0-6-4-8-2-2-4-9-1-6 0-4 1-5 5-10 1-6 0-4 3-16 0-10 2-4 5-6 4-4 3-6 0-10 1-4 2-4 0-2 4-4 1 0 5-5 2-5-1-6 0-4-1-6 0-4-1 0 0-6-1-4-7-6-1 0-6-4-4-9-1-1-2-6-4-4-9-2-4 2-6 4-3 6-1 4-1 0-3 5-6 4-6 1-6-4-8-9-5-1-1-1 0-20 3-5 0-4-3-3 0-36 6 1 10 0 6-2 4-5 4-11 6-2 4-2 10-2 6 0 4-1 6 0 4-1 10 0 16 3 10-2 4-4 2-3 1-6 0-10 1-4 0-6 1-4 0-6 1 0 0-4 3-16 0-14-2-10-2-6-5-9-2-11 0-10-1-4 0-16 2-10 4-4 2-6 4-9 1-5 1 0 3-6 4-4 8-10 4-7 6-2 10 2 4 0 8-3 6-6 2 0 4-3 5-1 1-1 4 0 6-1 4 1 5 0 5 1 7 0 9-2 10 0 4-1 6-3 2-4-2-9-4-7-2-10zM-38 -262l-1 4 1 8 2 2 2 6 4 4 2 3 6 0 3-7 1-6-3-10-1-2-6-5-4-1-6 3zM-329 -92l-5 4 1 6 5 1 2-1 2-6-2-4-2-1zM355 -68l-3 3 0 8 6-4 0-8zM-139 -22l-3 1-3 3 0 6 3 5 4 3 6-1 2-3 1-4 0-6-3-4-6-1z"/>
<path fill="#12ed8b" d="M-138 -388l78 0 2 5 10 5 6-2 1-2 0-6 27 0-4 7-1 3 0 6 1 1 10 3 6 0 9 4 11 6 4 0 6-4 3-16 1-5 2-5 113 0-3 10 0 6 4 8 0 2 4 4 1 0 9 7 5 3-5 3-1 3-3 4-2 10 0 6-2 4-1 6 1 4 8 4 6 0 14-3 6 2 10 8 5 5 5 3 10 2 4 2 6 4 3 9 7 4 4 1 10 0 10 2 6 2 9 5 2 0 6 6 3 2 5 8 5 6 4 8 3 10-1 6-2 4 0 7 6 4 10 3 3 6 3 10 4 5 4 0 1 1 5 1 5 3 3 6 1 4 0 10 3 16 2 4 2 10 0 6-2 6 0 7 8 7 2 1 6 1 4 2 6 1 4 2 6 1 0 74-6 0-5 2-2 10-2 6-5 3-6 0-4-2-6-1-4 2-2 2-2 6-6 8-7 6 0 6 5 10 0 10-1 4 0 6-2 10 2 10 3 4 3 6-4 4-3 6-1 4 0 10-2 10-3 6-6 4-8 10-2 4 0 2-4 8-10 5-6-1-14 0-6 1-4 0-6 2-7 5-4 4-3 15-3 5-1 6 2 4 6 6 6 5 2 9-2 10 0 2-2 4-4 3-4 0-6-1-5-2-15-3-4 1-6 0-6 2-4 0-4 2-6 2-9 6-5 2-6 0-10-2-10 0-10 2-10 0-10-2-2 0-6-6-2-4-2-6-3-4-5-5-3-5-1-7-2-3-2-6-6-4 0-1-6-1-1 2-3 1-16 11-1 2-1 6 0 4 1 6 0 4-3 8-4 2-6 6-3 4 0 6 2 10 0 10-5 9 0 1-4 4-1 6 0 14 1 6 4 4 0 1 6 1 5 4 7 4 2 2 6 2 5 6-5 3-2 3-4 3-2 7 0 4-1 6-2 4-2 6-74 0-3-9-2-1-2-6-5-10-1-1-10-3-6 0-6 4-2 6-2 4-4 0-2-4-2-6-2-1-1-3-7-6-2 0-4-2-11-2-5-5 1-5 2-6 7-10 0-4-4-4-4-2-2 0-4-2-6 0-4-1-10 2-6 0-5-3-3-6-2-1-4-7-2-2-4-2-10-11-3-11-1-8-6-3-4 2-9 9-7 1-4-1-4 0-6-2-10 0-6 2-4 4-2 0-4 2-10 0-4-2-6-4-2-6 2-8 6-3 4 1 6 0 4-1 2-3-3-6-3-2-10 0-6-1-11-11-5-6-4-4-4-8-6-4-4-5-4-3-2-6 0-10-2-4-2-6-6-5-4-1-6 0-5-8-1-6 1-4-1-6-4-5-9-9-1-7 2-3 4-4 1-2 5-4 2-6 0-4-6-10-2-6 0-10 2-10 2-3 6-3 3-4 2-4 1-6 0-4 4-7 4-2 6 0 10 2 2-3-2-6-4-4-3-6-3-4 0-2-2-4-1-4 0-10 3-8 0-5-1-3-6-4-7-6-2-1-2-3-2-11-5-5-1 0-4-4-6-3-4 1-3 2-3 0-8 4-6 6 0 1-4 3-2 4-4 4-4-2-2-2-1-4-3-4-1 0-4-6 0-4 2-10 3-6 9-4 5-3 10-3 1 0 4 6 1 0 4 6 5 4 5 1 2-1 4-4 0-2 2-4 2-6 1-4 0-6 1-4 4-6 0-9-6-5-4 6-2 4-1 4-3 6-9 4-5 4-6-1-1-7 0-11 1-6 2-3 6-6 8-1 7 1 7 5 6-2 4-2 20 0 2-1 4 0 8-4 2-2 1-4 2-4 2-10 2-6 3-4 4-4 7-6-1-9-1-1-1-6 2-5 5-5 2-4-2-6-5-3-6 2-2-9 0-4 2-4 4-2 2 0 2-4-2-6-7 0-3 3-3-3-3-1-4-13 0-6 1-4 0-6 1-4 0-6 2-8 3-6 2-10 2-6 3-6 4-4 5-4 1-2 5-4 11-2 4 0 7-2 3-2 4-4 6-4 0-1 10-3 6 0 8 4 6 8 4-4 2 0 4-2 6-2 10-2 8-4 2 0 4-4 2 0 3-6 0-4-2-6-3-6-2-8-1-6zM-185 -328l-3 4-1 6 0 6 7 4 8 0 2 1 4 0 6-4 0-3-4-4-6-4-1 0-4-6-1-3-4-1zM-79 -292l0 4 1 3 10 8 10 3 6-3-1-5-3-6-6-4 0-1-6-2-4-2-6 1zM-37 -272l-1 0-4 4-1 0-1 6 0 4 2 6 2 4 2 6 7 10 3 2 6 0 4-2 3-10 1-6-3-10-3-4-3-6-5-6-4 0zM353 -78l-7 10-4 7-3 9 0 10 3 14 2 0 4 3 4-1 2-2 0-4 2-10 3-10 4-10 1-6 0-4-1-6-5-2zM-233 -58l-2 6 3 3 4-1 3-2-5-6-2 0zM-139 -28l-9 5-2 5 0 6 2 8 1 2 5 4 4 0 6-1 7-3 2-6 0-10 1-7-2-3-4-1-4 1-6 0zM-220 -12l-2 4 0 1 4 4 6-1 3-4 0-4-3-4-6 1zM101 98l1 1 3-1-3-2zM-7 118l-1 0-4 4-1 0-3 10-2 4 0 2-2 4-1 6 3 1 6-1 2-10 4-6 4-2 3-8 0-4-3-2zM5 162l2 10 5 7 2-1 1-6 0-4-2-6-5-4zM-387 -102l4 4-3 6-2 0 0-11z"/>
<path fill="#11ec52" d="M-132 -388l66 0 1 6 7 4 0 1 6 2 14 7 2 0 4 2 10 2 10 0 4-1 6 0 6 3 4 1 10 6 4 2 6-2 3-7 0-6 1-7 3-7 2-6 92 0 1 6 2 5 4 5 2 1 1 3 7 10 5 6 1 4 1 0 0 10-1 6 0 4-1 6-3 5-6 2-2 3-1 4 3 4 10 3 6 1 4 2 3 0 3 2 4-2 10-3 8 3 5 6 6 10 7 1 4 0 6 1 5 2 3 6 2 1 4 5 10 3 1 1 5 0 14 3 6 1 0 1 4 2 6 2 0 1 4 4 1 0 3 6 3 4 2 6 4 4 2 6 0 4-2 6-4 4-3 6 0 4 1 6 0 4 13 4 6 1 5 4 3 11 1 6 1 0 0 6-3 4-3 1-4 3-3 6-1 4 1 6 3 7 0 3 4 6 5 4 5 2 6 5 4 7 1 0 3 6 5 4 2 6 0 4-2 10-3 7-2 3-2 10 1 6 0 4 3 16 2 4-1 6 1 4 0 6-2 4 0 2-2 4-3 10-1 0-4 6-10 6-5 2 5 4 1 2 3 1 6 5 2 4 1 4 0 10-3 15-1 5 0 6-1 4 0 6 1 4-1 6 1 4 0 6-3 10-3 4-3 6-6 8-4 6-3 6-7 6-6 1-4 0-10 2-6 0 0 1-4 0-6 2-4 2-2 0-13 10-1 6 0 4-3 10-1 5 4 9 7 6 2 6 0 4-4 6-5 1-24 0-6 1-4 2-4 0-6 3-6 2 0 1-9 4-5 2-6 1-14-4-6-1-9 2-5 0-7-4 1-6 14-4 2-2 1-4-1-3-11-5-3 4-2 1-1 3-3 5-6 0-4-1-5-4-1 0-5-5-4-9-5-10-1 0-5-5 0-1-4-3-5-1 2-6 3-5 1-5 2-4 1-6-4-2-6-1-10 0-9 3 5 3 1 3 5 4 2 6 4 4 2 6-6 4-4 4-4 5-6 3-4 4-3 4-1 6 1 4 0 6-1 4-4 6-8 3-4 0-3 1-2 6 2 4 2 6 2 4 1 6 0 4-3 6-5 1-6-1-8-4-6 1-1 3 1 5 5 3 2 2 3 1 6 5 2 4 2 10 0 14 1 0 4 6 11 4 6 6 2 4 0 6-3 10-3 14-1 6-26 0-38 0-2-6-1 0-2-4-3-10-3-6-6-4-6-2-4-2-6-1-4 0-6 1-10-4-4-3-9-5-1 0-6-4 0-6 5-4 3-6-2-6-5-4-5-2-10-2 0-1-16-3-10-4-7-8-3-1-10-6-6-7-3-10 0-10-1-1-1-5-3-4-6 1-5 3-5 4-4 5-5 1-1 1-4 0-1-1-9-2-6-2-7-6-3-5-2-5-2-3-6-4-4-2-10 0-6-1-4-4 0-1-6-6-2-3-2-6 0-2-6-6-1-2-3-1-6-4-3-5 0-10-1-4-1 0-2-6-3-2-4-6-2-2-4-1-4-3-3-6-2-10-1-4-4-7-4-3-2-6 2-4 2-6 2-1 3-9 0-4-3-10-1 0-2-6 0-4 1-6 2-1 10-13 2-10 3-6 5-3 20 0 2-1 1-6-6-10-4-4-3-7-3-3-3-6-1-4 0-6 1-4 6-3 10 0 4-1 2-2 0-4-2-2-5-3 0-1-5 0-10-3-4-3-6-3 0-1-4-4-1 0-1-6 0-4-3-6-1 0-5-5-3-5-1-4 0-6 2-4 2-10 1-1 1-5 3-7 8-13 8-2 4 0 6 2 9 6 2 0 3-2 3-4 1-4-1-6 0-10 2-10 1 0 1-4 3-6 7-4 6-6 2-4 1-6 0-4 1-6 2-4 1-5 1-1 0-4-1-1-1-5-3-4 0-2-3-4 0-4 1-6 2-4 0-7-6-6-4-3-6-1-4-3-1-6 1-4 4-7 6-1 5-2 3-6-2-4-7-6-2-5 0-5 3-10 4-4 0-1 5-5 5-3 7-1 3-1 6 0 4 2 2 3 2 6 6 4 6 2 4 5 6 3 4 0 10-3 6-1 7 0 3-1 4-3 2-6-1-6-3-4-2-6 4-4 0-1 12-5 4-1 6-3 4-3 1-3 3-4 1 0 0-6-3-10-4-10-2-10zM-38 -358l-4 7-1 3 1 3 4 0 6-2 1-5-1-6-6-1zM-84 -302l-3 4 0 6 1 4 4 7 4 5 6 2 4 2 6 2 4 2 0 1 6 3 0 2 4 6 2 4 4 6 1 4 3 4 0 2 2 4 4 4 4 2 6 0 6-2 4-3 1-7 0-4 1-6-2-10-3-4-3-11 2-5 0-4-3-6-7 0-2 1-4 4-6 2-4 0-6-3-2-4-8-6-4-4-11-4-5-2-4 0zM171 -282l7 0 0-1-6-3zM272 -232l-6 4 0 6 3 4 1 6 0 4-1 6 0 4 3 8 6 3 4 0 4-1 0-4 1-6-1-4-4-2-4-8 0-6 2-4 2-6-4-5-6 0zM-234 -62l-4 1-2 3-1 6 3 6 10 3 6 0 4-5 0-4-4-7-10-4zM-133 -32l-9 2-6 2-5 6-1 4 1 6 0 10-1 4 0 6 2 3 11-3 3-2 10-2 6-2 2-4 1-6 0-4 1-6 2-4 1-6-3-4-4-2-6 0-4 1zM10 -32l2 3 6 3 4 3 6-3 0-2-4-4-6-2-6-1zM-219 -22l-5 4-4 5-2 5 2 6 6 3 4 1 5 0 5-1 8-3 2-6-3-10-1-2-6-5-4-2-6 3zM126 2l1 6 5 1 2-1 1-6-3-2-4 1zM102 88l-4 2-2 2-1 6 1 4 2 3 4 2 6-1 8-4 5-4-5-6-4-1-4-3-5 0-1-1zM2 102l-4 6-10 7-6 2 0 1-4 4-1 0-3 6-2 5-2 9-2 5 0 5 4 6 10 0 1-1 5-1 5 1 5 5 4 14 6 11 0 1 4 3 6 2 4 2 2-3 0-10-1-4 0-6-1 0-2-10-2-4-1 0-4-6-9-4-2-2-2-4 0-4 2-6 2-4 3-16 1-6-4-4-2 0zM100 142l-3 6 5 9 3-5 1-4-2-6-2 0zM124 198l-2 1-1 3 1 7 6 5 4 0 3-6 1-6-1-4-3-2-4 0zM-169 208l-2 4 0 6 3 4 0 2 7 8 3 5 6-1 4-4 2-4 0-6-3-10-3-5-6-2-4 0-6 2zM-32 -388l11 0-1 2-4 4-2 1-5 0-2-7zM-202 -334l3 2-3 4-6 1 3-5zM328 -145l4-1 4 4 2 0 7 14 2 6 1 1 0 5-2 4-4 3-4 0-8-3-8-10-1-6 1-5 4-9zM-338 -119l6 1 0 2-3 4-3 0 0-6zM372 -79l6-1 4 0 6 1 0 63-6-2-6-4-4-2-5-4-5-5-1-5 0-4 1-6 2-4 2-10 5-16z"/>
<path fill="#0feb1a" d="M-128 -388l52 0-2 2-4-1-6 3 0 2-4 4-1 0-4 6-1 0-1 4 1 3 6 2 4-1 6 0 4-2 6-5 5-3 5 0 10 3 4 3 3 6-1 4-2 4 0 2-3 4-1 5-3 5 3 2 4 1 10-2 2-1 14 0 4-4-1-6 0-4 3-6 4-1 4-2 6-1 4 1 6 3 4 4 10 5 6 1 4-4 1 0 1-6 0-14 2-6 6-8 10-2 68 0 1 6 3 4 6 10 3 6 7 4 5 6 3 6 0 14-1 4-5 5 0 1-7 4-2 5 0 5 3 6 6 3 5 1 5 3 3 3 3 5 2 5 2 2 4 2 6 5 6 1 8 0 2-1 4 0 10 2 6-1 4-2 6 1 0 1 4 2 10 9 7 3 3 4 5 2-5 1-4 3-2 6 6 7 5 2 5 0 4 1 0 4 1 6 4 14 0 6 1 7 1 3 3 4 3 6 3 2 10 3 6 1 10 0 4 1 6 3 2 4 0 6-1 5-5 5-2 1-4 4-1 5 1 0 2 10 2 4 0 4 2 6 4 4 1 2 9 5 4 5 5 4 5 10 5 10 0 6-3 10-2 4-1 6 0 10 1 4 0 9 1 1 0 10-1 6 0 10-4 12-6 6-1 2-13 5-6 2-10 4-3 3 1 6 3 4 5 5 5 0 9-3 6 0 4 2 2 2 2 4 1 6-1 4 0 6-2 4-1 6-3 14 0 10-2 10 0 6-1 0-2 10-4 10-10 10-3 2-6 2-8 6-6 5-16 3-4 2-6 2-4 3-6 3-6 6-2 10 0 6-2 4-1 6 0 4 3 6 3 4-1 6-8 2-6 1-4 0-10 3-6 1-4 3-8 4-2 2-6 3 0 1-4 1-6 0-6-1-4-3-4-7 0-6 2-10 2-3 2-1 4-4 2-6-2-3-6 1-1 6-2 6-7 1-5-2-4-5 0-4 2-6 3-4 2-6 2-4 1 0 5-9 0-3-3-4-5 0-3 6 0 4-1 6-8 2-10 0-9 2-5 10 0 6-2 7-1-3-3-1-6-6-1-3-5-4-1-6 1-4 5-6 7-3 1-1 2-6 0-10 1-7 1-3 0-10-1-4-4-5-2-1-5 0-8 6-1 0-2 4 0 6 1 4-1 6-2 3-10 3-6 0-4-1-6 0-10 3-1 2 1 5 9 5 1 0 6 4 3 6 1 4 1 0 0 5-5 8-3 3-3 1-5 3-5 4-3 6 0 16-1 2-6 3-4 0-6 1-4 4-1 4 1 2 0 4 1 4 0 6 1 4 0 6-18 0-6 4-2 6 1 4 3 6 4 3 6 2 5 5 3 4 1 6 0 4-2 10 0 6 3 1 4 3 6 1 9 5 1 0 2 4 0 6-2 8-3 6-2 10-1 1-1 5-5 0-1-6-4-4-3-2-6-2-4-2-10 0-6-2-3-8-7-6-4-1-6 0-4 2-6-1-4-2-6-1-4-3-7-2-3-2-10-3-9-5 0-6 3-1 5-3-5-3-1-3-9-7-2-3-12-5-6-1-4-2-6-1-10-5-5-6-7-4-2-2-6-1-10-5-2-2-3-6-1-4 0-6 2-7 1-7 3-6 6-8 0-2 2-4 2-10 2-10-1-6-5-5-6-1-4 1-16 0-4 1-5 4-3 10 2 7 6 7 4 6 0 4-1 6-5 6-4 2-4 4-6 3-4 0-6-1-4-2-2-2-4-2-2-2-3-6-9-11-10-3-12 0-4-2-5-8-3-10-1-6-1 0-4-4 0-1-6-1-4-2-2-2-1-4 0-6-1-4-3-6-3-4-1 0-5-5 0-1-4-3-3-1-3-3-3-7-1-7-3-9-3-6-2-8 2-11 2-5 0-10-2-7 0-6 1-1 2-6 3-4 4-9 6-10 5-3 5-1 14 4 7-1 3-6 3-4 7-4 6-6 0-2-2-4-3-4-5 2-6 5-4 2-6-2-4-6-2-1-4-7-3-9 0-4 3-4 6-1 4-2 6-2 5-7 0-4-5-7-10-5-16-3-9-5-1-1 0-9 1 0 1-6-2-3-4-3-6-2-3-6-1-6 4-18 6-9 1-3 3-3 6-1 4 0 6 2 4 3 6 1 6-2 4-2 4-8 0-2 2-2 1-6-1-4-2-3-1-7 1-6 6-8 8-6 2-2 4-8 0-4 3-6 3-8 1-8-1-5-2-5-4-6-2-8 2-7 3-3 2-6-9-11-6-4-3-5 3-5 6-4 0-1 4-4 1 0 4-6 1 0 4-4-5-4-1-2-7-4-3-6 0-4 4-6 2-2 6-2 4 1 7 3 3 3 7 2 9 6 4 5 6 2 7-2 7-4 6-2 4 0 6-1 7-3 3-6 1-4 0-10 4-6 5-1 4 1 5 0 1 0 4-4 1-2 0-4 5-9 2-5 0-6-2-4-1 0-5-9-3-11-1-6zM-88 -308l-4 6-1 4 0 6 3 14 1 6-3 9-7 11-2 4 1 6 2 1 6 1 6-2 4-4 0-2 2-4 0-10 2-5 2-1 6 0 8 4 1 2 6 4 3 3 1 3 4 4 3 6 3 4 3 10 1 0 5 5 4 1 4 0 2-1 5 0 5-1 4-2 2-2 0-4-1-6 0-10 1-4-1-6-2-4-2-6 0-4 1-6 0-4-2-7-6-4-4-1-6 1 0 1-4 2-6 2-4 0-6-3-1-2-6-5-3-1-4-3-2 0-4-2-5-3-5-4-4 0-6 3zM187 -232l-4 4 1 6 4 2 7-2 0-6-3-4-4-1zM205 -192l-3 0-4 4 0 2-2 4 4 4 2 1 6 1 4 2 5 1 4-9-2-6-7-5-4 0zM171 -182l-3 1-3 3-1 6 4 2 6-2 2-6-4-5zM24 -118l4 2 6-2-6-2zM-195 -98l-2 6 5 5 0-1 4-4-2-6-2-2zM147 -82l-5 2-4 8-1 4 2 6 3 1 4-1 2-2 2-4 1-4 0-6-3-5zM-68 -68l-1 6 1 2 6-2 0-6-6-1zM-243 -62l-2 4 0 6 3 6 3 4 7 2 4 2 2 0 4 4 1 2-1 4-1 0-2 6-5 4-2 4-2 2-2 4 0 6 4 4 4 2 16 3 10 0 0 1 4 1 10 4 6-1 4-4-2-6-6-4-2-2-4-8 0-2-4-8-3-6-3-5-6-7-3-8-1-4-1 0-2-6-7-6-10-3-6 1-4 3zM7 -42l-5 1-4 3 2 6 8 6 4 4 6 2 4 2 0 1 10 2 3-3 1-4-1-6-3-4-4-4-3-2-3 0-4-2-6-2-4 0 0-1zM-127 -38l-5 2-10 2-4 2-2 0-4 4-1 0-3 6-1 4 0 10-1 2 0 4-3 4-2 6 0 4 2 6 3 2 6 0 5-2 5-4 1-2 13-4 4 0 6-4 2-2 1-4 0-6 3-10 2-4 1-6-3-6-5-4-5 0zM156 -12l3 4 3 2 6 1 4-3-4-7-6-1-4 1zM124 -2l-3 4 1 6 6 5 4 1 4-2 2 0 2-4 1-6-3-5-6-2-4 0zM-193 42l-3 6 4 3 4 0 5-3-2-6-3-1-4 1zM113 48l-5 2-9 2-2 6 1 0 4 6 6 1 4 0 2 3 4 4 1 6-1 4-6 1-4-1-6 0-4 2-6 7-1 7 0 4 3 6 4 3 4 1 6 0 4-1 9 1 1 1 6 0 0-1 10-5 3-5 1-4-1-6-2-4-1-9-1-1-2-10-3-10-2-10-2-4-6-1-4 2zM-42 92l0 1-6 3-1 6 1 3 3 3 3 1 4 0 2-1 3-6 0-4-4-6-1 0zM-7 92l2 6-1 4-3 6-3 2-6 2-10 3-4 5-4 2-7 6-1 4 5 10 0 6 1 6 2 4 8 4 0 1 6 0 4-1 7 0 3 2 3 4 3 7 2 13 2 4 10 5 8 5 2 4 2 2 4 2 4 0 3-2 0-6-1-4 0-6-2-4-3-16-2-4-2-6-3-4-4-7-6-5-4-4-2-4 0-6 2-4 3-16 1-4 1 0 0-6-5-10-6-3-4-1zM305 112l-2 6 5 4 3-4-2-6-1 0zM-103 228l-3 4-2 6 0 2 6 0 4-2 2 0 4-5 0-1-6-3-4-1 0-1zM-119 248l-6 4 2 6 5 2 3-2 3-4 1-6-1-3-6 1zM252 -253l6-1 7 2 3 0 4 4 2 0 1 6-3 1-4 3-4 0-2 1-4 4-1-5-5-5-4-9zM378 -75l4-1 6 1 0 53-10-5-9-5-3-6-1-4 2-10 1-2 0-4 4-13 2-1zM-18 365l6 3 4 3 3 1 2 6 0 4-2 6-4 0-3-3-3-7-3-6-1-4z"/>
<path fill="#3ceb10" d="M-128 -388l35 0-2 6-5 4-2 4-6 5-2 1-2 3-6-1-6-6-2-6-2-4 0-6zM58 -385l1-3 52 0-3 14-2 6-4 5-4 7-6 2-4 5-2 1 1 6 5 3 6-1 4-2 0-1 6-1 4-2 6 0 7-2 3 0 4-2 6 0 3 2 2 6 0 4-2 6-3 4-2 0-4 3-2 7-1 6 2 10 11 8 4 2 3 4 3 6 14 10 6 4 3 0 3 2 10 0 10 3 0 1 4 3 6-3 4-3 6-1 10 8 2 6-2 10 4 8 6 6 1 0 3 4 6 4 1 2 1 6 4 10 3 10 5 10 6 6 5 4 9 2 6 0 10 2 2 0 2 6-4 4-6 2-5 4 1 0 0 4 4 8 2 2 2 6 2 3 2 11 3 6 7 4 7 6 1 0 4 4 0 2 3 4 3 5 1 5 3 4 1 6-2 10-2 4-1 6 0 10 1 4 0 6 1 4 0 6-2 4 0 4-1 2 0 4-1 6-2 4-7 6-5 2-6 8-8 4-6 1-10 0-10-2-4-2-6 0-7 3-7 4-2 6 1 6 5 2 6-2 4-4 6-1 4 0 6 1 8 8 3 6 3 3 6 3 14-4 6 0 2 2 2 6 0 4-2 10-3 10-1 6 0 4-2 6-3 4-3 2-6 2-5 6 0 6 1 4 3 6 1 4 0 6-4 5-10 3-6 0-4-2-6-1-1 5 0 4-1 6-12 5-6 3-4 3-7 3-7 6-2 1-2 3-2 10 0 4-3 6-4 6-3 3-6 1-4-1-7-3-6-6-3-5-4-3-10 0-10-2-4-4 0-10-2-6-4-3-5-1-5 0-6 4-2 6-2 5-6 2-14 0-2-3 1-4 0-16 2-10 0-4-1-6 0-10 1-4 5-6 4-2 4-4 6-3 0-1 6-4 4-5 0-6-6-13-2-12-2-11-1-3 0-6 1-4 4-5 6 1 4-2 1-4-2-6-3-3-5-1-5 1-5 9-11 0-4 2-9 2-1 1-6 1-4 2-6 5 0 8 5 9 1 0 2 4-1 6-1 0-4 4-5 10-1 6 0 4 1 6 3 5 4 5 1 4-2 6-3 1-4 6-3 3-1 4 0 6 1 4-3 6-10 2-4-1-10 0-6 1-4 2-3 0-3 2-4 1-6-1 0-2-5-4-4-6-1 0-4-6-6-6-1-2-1-6 0-4 2-10 1 0 2-6 2-4 1-6-5-10-1 0-4-6-5-4-5-1-11-3-5-2-6 2-8 5-6 2-10 5-3 2-4 6 0 4 2 10 0 6-5 6-2 4-1 4 5 6 7 4 5 10 3 6 3 4 10 5 10 0 6 1 4 4 1 6 0 10-5 4 0 1-6 4 0 10 6 5 7-4 7-8 6 0 4 2 0 1 5 5 1 0 4 6 9 4 7 0 4 4 1 6-1 4-4 4-6 1 0 1-4 1-4 3-1 6 1 4 0 10-1 6-5 4 0 1-10 3-6 2-4 4 0 6 2 4 2 7 11 9 6 4 2 6-3 7-4 3-2 0-4 2-6 2-10 0-10 5-5 11-5 3-4 0-9-3-1-2-6-5-2-3-2-6 0-2-2-2-3-6-15-8-2-2-4-1-4-3 0-1-10-3-6-1 0-1-10-3-4-3-6-8-2-6 2-6 3-4 3-2 4-11 1-1 2-6 5-4 2-3 8-3 2 0 7-4 1-6-2-3-10-7-7-4-3-4-4-2-7 0-3 10 0 6-5 10-7 4-4 3-6-1 0-5 1-1 2-6 3-6 1-4 2-4 2-6 0-4-1-1-1-5-3-4-1 0-5-5 0-1-4-2-10 2-6 0-10-2-10 0-10 2-4-1-6-4-4 0 4 7 6 1 3 7 0 6-3 7-4 3-2 0-8 4-2 2-4 2-6 0-4-2-6-1-4-1-4 0-6 0-6-4-3-10-1-6-2-4-4-5 0-1-4-2-6-2-2-10-2-7-9-9-7-3-7-7-3-7-1-7 0-5-1-5-5-10 0-10 3-8 0-22 4-11 6-7 4-6 3-2 8 0 13 6 2 0 4 4 0 2 4 4 6 2 4-2 2-2 1-4 0-14 4-6 9-3 20 0 2 3 2 6 2 1 4 6 6 2 5 0 5-2 6-7 2-6-1-4-7-4-6-1-14 4-5-5-1 0-4-7-6-4-4-1-6 0-3-2 2-6 7-1 4 0 5 1 11 4 4 2 6 2 4 2 6 0 10-5 0 1 4 4 0 1 4 5 2 1 4 0 6-2 5-5 6-4 3-3 6-3 4-1 6 0 4-2 4-1 5-10 0-6 1-6 8-8-1-6-7-7-1-3-3-3-5-1-5 0-6 1-4 2-8 1-8 3-5 3-5 4-2 6 0 10-2 7-6 5-4-2-2 0-4-2-5-4-5-7 0-3-2-4-1-6 0-4-2-6-5-5-4-6-3-3-3-6-4-6-6-2-2-2-2 0-6-2-10 0-5 2-5 4-3 6 1 6 2 5 3 5 3 3 4 1 0 1 6 1 3 4 1 4-4 7-6 5-4 4 0 1-4 3-2 6-5 4-3 6-2 6-2 4-2 1-6-1-5-10 0-6 5-3 5-1 5-2 4-4 2-1 2-3 0-6-2-7-2-3-8-7-11-6-15 0-2-1-3-6 1 0 4-8 6-3 7 1 3 0 5-4-4-6-17 0-4-2-6-1-4-3-3-4-1-4 1-6 0-4 2-6 5-7 6-2 4 0 9 5 7 1 4 0 6-3 4-4 2-4 2-6 5-10 1-4-2-6-3-4 1-2 0-4 4-6 5-4 1 0 3-4 5-10 2-6 4-6 10-7 6-1 4-2 4-4-4-2-4 2-6 0-4-1-6-7 0-2-4-4 0-2-2-4 0-4 6-5 10 0 6 1 2-2 0-4-7-6-1 0-4-4 0-1-5-5-9-4-5-6 9-9 0-1 4-3 6-2 4-4 2-1 3-4 0-6-3-4 4-1 4 1 6 4 4 5 7 1 3-1 6-4 0-1 4-3 10-3 6-1 10-5 2-2 2-6 5-10 5-1 6 3 4 6 6 5 4 1 4-4 2-5-1-5-5-7-3-7 0-6 3-7 6-5 4-2 5 0 11-4 4 0 6-1 7-5 7-7 6-1 8 2 2 2 2 4 0 4-2 6-6 6-4 1-6 0-4-1-6 2-1 6 1 6 6 4 4 0 6-1 7 1 3 1 4-1 6-3 4-1 0-1 6-1 6 2 4 0 4 1 6-1 2-6 0-4-2-6 1-4 3-5 2-1 9 0 9 8 4 2 2 2 7 4 7 0 10 3 6 1 6-4 2-6-4-4-4-1-6 0-4-5-1-4 0-10 2-6 3-2 6-2 5 0zM-82 -318l0 1-6 3-4 5-2 1-4 8 0 20 1 2 0 10-5 9-5 1-9 6 1 4 3 3 1 3 5 4 4 2 4 1 6 0 10-5 3-2 5-10 3-6 3-1 6 3 4 4 6 4 5 6 2 4 3 8 0 7-6 5-4 6-1 4 3 6 9 0 13-16 6-1 14 0 6-2 1-1 2-6-2-4-1-5-1-1 0-10 1 0 2-10 8-6 8-8 2-4 0-8-6-2-4 1-4 3-6 1-2-1-2-6-2-1-4-6-7-3-8 0-5 3-10 2-6-3-1-2-7-4-2-2-13-8-1-3-3-3-3-1zM196 -242l-4 0-9 4-6 10-1 6 2 5 4 3 6 1 4 0 6-1 4-4 2-10 0-4-1-6-5-4 0-1zM-79 -198l1 4 2 2 4 1 6-1 1-6-7-3-6 2zM202 -198l-6 6-5 4-3 4-6 0-4-4-6-2-7 2-8 10 0 6 1 0 4 7 6 2 4 0 6-3 4-6 6-3 4 1 3 2 3 0 4 2 6 2 3 10 1 7 6 2 6-3 4-5 1-5 0-6-1-4 0-6 1-4 0-6-2-4-11-6-8-2-6 2zM-12 -132l4 4 1 0 0-4-1-1zM49 -132l-7 3-14 3-6 0-10 3-2 1 2 6 6 4 10 2 9-2 5-4 6-1 0-1 10-3 5-7-1-4-4-3-6 1zM-201 -122l-1 0-3 4-1 6 2 10 0 20 2 3 4 1 6-2 4-2 0-1 6-6 2-9-2-4 0-2-3-4-3-2-4-8-6-5zM149 -92l-1 0-6 5-7 9-3 6-1 4 0 16 7 4 5-1 5-6 1-3 3-4 1 0 3-16 0-14-4-2zM75 -88l-2 10-1 1 0 5 1 4 5 3 4-1 6-5 0-8-5-9-6-3zM-68 -78l-4 2-4 4-2 4 1 6 2 4 2 6 5 2 6-2 8-10 1-6-2-4-7-5-6-1zM-8 -42l-3 4 2 6 1 0 10 8 6 3 10 6 6 3 4 1 4 3 0 1 5 4 4-5 2-10 0-4-1-6-4-5-6-4 0-1-4-2-7-2-3-2-10-2-6 0-10 3zM151 -22l-3 4-1 0-2 10-3 2-4-2-6-1-4 0-6 2-3 5-1 4 0 6 4 5 10 6 6 1 6-12 2-6 0-4 2-3 4 1 3 2 13 2 4 0 6-1 1-1 0-6-7-9-4-3-10-3-6-1zM47 22l1 2 4 1 3-3-3-1-4 1zM-126 63l1 5 3 2 5-2-1-6-5-3zM46 68l2 5 4 5 1 0 3-6-1-4-3-3-4 0zM-44 182l-4 3 0 9 4 4 8 0 4-2 2-4 0-4-2-4-6-3-4 0zM-21 262l1 6 2 5 6 3 3-4-2-4-1-5-6-4zM378 -70l4-2 6 0 0 42-11-2-5-3-3-7 0-6 3-15 3-5zM-18 97l5 5-5 3-4-3 4-4zM43 177l5 0 10 3 5 2 4 6 1 0 1 4 0 6-7 7-5 3-9 4-6-3-1-7-2-4 0-6-1-4 1-6 3-4zM108 191l0 3-3-2zM178 222l2 0 5 6 2 4-1 6-8 5-6 0-6-5-1-6 7-9 4-1zM-188 225l6 0 4 3 3 4 1 6-2 4-5 6-7 2-4 0-7-2-4-6 2-4 6-6 5-4zM-142 252l4 1 8 9 3 6 1 4-2 2-2 4-2 0-6 2-7-2-3-3-2-7 0-6 2-4 1 0 4-6zM28 349l4-1 6 1 6 3 1 6-1 4-3 6-3 3-6-1-4-2-2 0-4-3-2-3 0-4 4-6z"/>
<path fill="#74ed12" d="M-122 -388l24 0-2 6-8 7-4 2-6 0-4-5-2-4 0-6zM68 -388l15 0 5 4 4 5 2 1 2 6 0 4-1 6-3 3-3 1-1 2-6 3-2 5 1 6 3 4 4 3 4 1 6-1 6-3 4-1 14 0 6-1 4-2 4 4-4 5 0 1-6 4-1 6 1 4 0 6 2 8 0 2 4 6 5 4 1 0 5 5 2 5 4 4 9 5 9 5 5 5 10 5 1 0 4 6-1 4-4 4 0 2-4 4-1 0-5 9-4 15-2 6-3 6-1 0-4 8-6 7-4 9-1 0-2 6 3 4 9 6 1 0 4 4 10 3 6-2 4-4 6-4 4-1 6 2 3 2 2 4 0 6 3 10 2 2 4 1 6-2 4-3 4-4 2-1 5-9 1-4 0-16 2-4 6-7 6-1 4 4 7 8 4 6 5 4 8 6 2 4 2 6 2 5 4 5 2 1 5 8 2 11 0 4 2 6 11 6 4 4 6 5 3 5 1 7 3 7 3 6 0 9-2 5-1 6 0 10 1 4 0 6 1 4-1 6-4 8 0 2-3 4-1 3-10 0-2 3 0 4-1 6-3 5-4 5-6 1-4 0-7-1-3-2-6-2-4-2-10-2-6-2-4-1-2 1-3 4 0 6-1 0-2 10 2 10 0 10-1 4-3 6 0 4 0 1 4 0 7-5 2-6 4-4 3-2 4-4 6-2 4 0 6 3 4 6 6 5 4 4 6 1 7-1 7-2 3 2 2 4-1 6-2 4-1 6-1 0 0 10-3 10-7 4-7 6-3 7 1 7 3 10-3 6-5 1-4-1-6-7-6-3-4 0-7 4-3 9-1 1-2 6 2 10-5 2-10 7 0 1-8 4-6 6-2 4-3 11-5 6-6 1-5-2-5-4-4-5-6-3-4-1-6 1-4 0-6-1-3-7-1-5-6-5-4-2-6-1-4 0-6 1-3 2-5 10-6 2-5-2 0-6 5-9 1-1-1-5-4-9-1-6 0-4 1-6 3-4 0-2 5-5 5-3 0-1 11-7 2-2 2-6 0-4-2-6-2-4-1 0-2-6 0-4-2-10-1-1 0-12 3-3 7-2 5-2 2-6-1-6-2-4-4-4-4-6-2-4 0-6 2-4 4-6 8 0 2 1 16 3 4-1 2-3 1-4-1-6-2-1-1-3-4-6-9-6-10-5-9-3-1-2-4-4 4-6 1-4 7-14 2-6 0-4 3-16 1-4 1 0 1-6-2-5-10 2-5 3-5 5 0 1-4 4-1 0-4 6-1 0-3 4-1 5-2 5-3 16 1 4 4 4 1 2 9 4 4 5 0 5-2 10-2 5-10 0-1 1-5 1-4 3-3 6-1 4 0 6 2 4 6 6 6 4 1 0 0 6-1 3-10 5-16 3-6 3-4 3-4 7-1 0 0 6 1 0 1 4 3 7 2 3-1 6-1 0-2 4-2 7-2 3-2 10 1 6 3 5 2 9-3 6-5 4-1 0-5 6-1 4 2 6-1 4-4 2-4 0-6-1-4 0-6 1-8 4-10 0-2-1-9-9-3-6-4-4-3-10 1-6 4-8 0-2 4-4 0-6-4-9-10-14-3-1-7-6-6-9-10 3-1 2-13 4 0 1-6 4 0 1-14 10-7 4-2 6 0 10-1 5-3 5-3 4-4 8-2 2-1 6 3 3 4 2 6 0 9 5 1 0 4 9 6 6 4 5 6 3 4 1 7 0 3 1 4 5 1 4-5 4-4-2-6-5-2-1-2-3-6 0-4 1-6 3-3 3-2 6 0 4 3 6 2 2 6 2 4 1 6-1 4 2 6 7 0 1 4 6 6 2 5-2 5-4 4-5 6-1 7 4 7 9 3 1 4 6-2 4-5 3-3 7 0 6 2 10 0 4-3 6-6 3-4 1-5 0-5-2-3-2-2-6-1 0-2-4-2-6-6-3-4 0-9 3-3 6 2 4 8 10 2 2 2 4 8 7 5 7 3 6 7 10 4 4 1 6-4 4-6 3-6 2-4 2-8 3-8 10-4 4-6-1-6-7-6-10-2-6-6-6-4-3-6-1-10-5-4-3-4-2-2 0-4-2-11-2-5-4-4-6 0-6 4-9 3-5 1-6 5-10 7-4 10-2 5-4 3-4 0-6-1-4-6-6-7-3-7-7-3-1-4-3 0-1-10-3-6 0-4-2-6-4-4-6-10-8-6 1-4 2-10 0-6-2-10-4-4-2-20 0-6 1-3 2 0 6 3 7 2 3 4 4 1 6-4 4-7 5-6 1-10-2-14 0-3-4-3-6 0-4-2-4-2-6-6-6-5-3-2-5-1-6-3-4-3-6-9-4-1-1-6-2-3-3-2-4-1-6 2-6 4-3 6 0 10-3 3-2-3-6-6-4-4 0-6 3-4 1-6-3-3-11 3-16 0-14 1 0 1-6 4-5 4-6 6-3 4 0 6 2 5 2 4 6 1 0 4 6 6 2 4 0 6-2 4-6 1 0 2-6 3-6 1-4 3-5 10-3 6 1 10 12 0 1 4 3 6 2 9 5 1 0 2 4 2 2 10 2 3 2 3 0 4 4 1 0 4 5 5 2 6-3 4-8 1 0 5-4 7 4 3 1 4 0 2-1 3-5 1-8-3-7-5-6-8 0-4 8-2 2-3 6-5 0-10 2-6 2-4-1-10-7-4-2 3-10 1 0 4-8 6-5 10-5 4-5 2-1 4-4 0-2 4-3 6-3 10-2 4 0 4-2 2 0 4-3 3-1 3-3 10-2 1-5 3-6 4-4 4-6 2-2 6 2 4 3 6 0 2-3-2-7-6-5-4-1-5 3-1 2-4 1-6-2-10-5 0-1-9-9-1-7 1-3 19-10 6 3 4 9 2 2 3 6 5-1 6-4 0-1 6-4 8-8 6-3 5-5-1-4-4-3-6-2-10-3-4-2-10 0-8 4-5 6-3 2-4 0-6-2-4 0-6 2-4 11-1 1-2 6-7 5-6 3-5 2-5 0-13 4-7 5-4 1-1-1-5 0-4-2-4-3-2 0-9-4-6-6-5-7-1-3 0-4 1-6 4-4 2-1 4-4 7-5 3-7 2-3 2-6 0-4-3-6-1 0-4-4 0-1-4-5-2-1-4-7-6-5-4-1-6 8 0 2-2 4-1 6 0 4 3 10 0 6-3 10-1 5-1 0-5 4-4 0-10-2-6 0-5 3-9 4-6 0-4-3-6-3-4-1-10 0-6-1-10-5-1-1-1-6 0-4 1-6 2-1 4-4 1 1 4 0 8 4 2 2 6 1 4-1 4-2 2 0 4-2 2-2 4-7 0-3 2-6 2-4 1 0 6-10 0-6-2-4-1-6 2-2 0-2 7-10 7-14 2-2 8-4 0-1 16-8 3-1 3-6-2-5-4-5-14-4 4-2 4-4 1 0 4-4 3-10-2-4-2-2-4-1-4-3 0-1-6-7-4-8 1-4 4-6 7-4 2-3 6 0 4 3 6 2 4 2 6-3 2-7 2-4 1 0 5-5 0-1 4-2 10-2 0-1 6-1 8-8 3-6 3-2 4 2 3 6 3 4 2 0 4 2 4 0 4-2 2 0 4-2 2 2 2 6 0 14 1 6-2 4-7 4-2 2-4 1-3 3-2 6 0 4 5 8 10 9 6 1 4 0 6-1 4-2 6-2 4-4 6-4 4-4 6 0 4 1 5 4 1 0 3 4 1 5 1 1 0 4-5 7-6 4-4 5-10 3-6 1-4 2-5 4-1 0-1 4 3 6 8 4 0 1 6 2 4 0 6-1 1-2 9-5 10-2 10-8 2-5 2-3 6-3 4-1 10 0 6-1 4-2 5-4 0-6-1-4-4-8 0-9 5-9 1 0 4-6 8-8 3-6 1-4-2-4 0-2-4-3-6-1-4 0-6 2-5-2-5-5 0-1-4-2-6-2-10 0-4 2-6 2-4 0-7-4-3-4-6-5-3-1-3-6 2-2 10 0 5-2 7-6 2-1 6-1 9 2 5 3 6 0 6-3 3-4 0-6-2-10 1-4 2-1 4 0 7 5 4 6 5 4 4 1 10 0 16 3 4-1 6-4 2-3 3-6 9-11 2-3 0-6-2-6-4-4-2-4 1-6zM137 -218l-4 6 2 4 3 2 4 0 1-2 0-4-5-6zM18 -192l0 4 4 8 6 1 7-3 3-6-3-4-3-2-4-1-6 0zM-4 -162l-2 4 4 5 4-2 3-3-3-4-4-1zM-14 -142l-4 1-2 3-1 6 2 4 1 5 6 6 3 5-6 10 0 4 1 6 6 4 7-4 3-10 1 0 5-4 4-1 6 0 4 1 6 0 5-2 5-1 4-3 3 0 3-2 14-3 7-5 1-6-2-10-6-4-4 0-8 4-2 2-7 4-9 2-20 0-7-2-3-2-4-4 0-1-5-3-1-2-4 1zM191 -112l-3 10 0 4 1 6 3 5 6 2 4-1 2-2-3-10-2-4-1-6 0-9-5 0zM73 -98l-1 1-1 5-2 4-1 9-1 1-1 6-4 9 0 1-6 4-4 5-2 11-2 5-6 1-4-2-6-2-4-2 0-1-6-2-7-3-3 0-4-2-6 0-10 2-4 1-6 3-1 2 0 4 1 5 10 7 6 3 0 1 9 4 5 4 4 2 2 0 4 3 3 1 5 6 2 4 1 6 0 14 1 6 8 5 6 1 7-2 3 0 6-4 2-6-1-4-3-4-10-5-1-1-3-10 0-5-1-1 0-4 2-10 4-6 7-4 2-6 3-4 1-6 2-4 5-6 5-1 7-3 3-2 3-4 2-4 0-6-5-10-5-10-5-2zM-20 -2l-2 0-5 4-2 6 1 4 6 3 4 0 6-3 2-10-2-3-6-2zM40 58l-3 4 0 6 1 0 1 4 3 7 3 3 3 6 4 4 0 2 3 4 3 6 0-2 5-4 0-10 1-6 0-14-2-6-4-4-10-3-6 1zM-189 92l-3 3-1 3 1 2 4 1 3-3-2-6-1 0zM207 92l-1 6 0 4 1 6 1 0 4 4 2 0 4-2 1-2 0-10-1-5-6-4-4 2zM46 118l-1 4 3 5 5 1 1-6 0-4-2-5-4 2zM-116 122l-2 2-2 4 0 4 3 6 5 4 4 0 2-4 1-6 0-4-2-6-5-1zM48 -378l4 0 6-1 4 0 5 1-3 6-2 2 0 2-4 7-10 3-6-1-2-9 2-7 5-3zM-68 -363l6-3 7 4 0 4-3 6-4 2-6-1-2-1-1-6 3-4zM-112 -343l4-2 6-1 10 0 4 4 3 10 2 4-1 6-8 7-6 4-4 2-3-3-5-10-4-6-2-4 0-6 3-4zM218 -253l0 7-1-2 0-4zM218 -241l0 3 10 10 2 10 2 4 5 6-5 4-4 2-6 0-4-1-6-3-2-2-2-4 3-16 1-5 4-5zM182 -208l11 0 4 6-5 7-4 3-7 0-5-6-1-4 7-6zM382 -68l6 0 0 29-8 1-3 1-4-5-1-6 2-10 4-7 3-3zM-258 -51l3 3 1 6-4 1-4-7zM-242 -30l4 0 2 2-2 3-4 0-2-3zM-178 -27l6 0 4 3 4 6 0 6-4 4-4 0-6-2-2-2-2-6 0-4zM52 182l6 1 4 3 4 6-2 6-6 6-6 1-4-1-2-2-2-4-1-6 1-4 4-5 0-1zM-142 264l4 1 2 3-1 5-5 0-3-5zM32 357l6 0 0 1-6 1 0-1z"/>
<path fill="#adee13" d="M-118 -388l16 0 0 2-3 4-7 4-6-2-1-2-1-6zM52 -373l1 1 0 4-5 4-3-4 3-4 1 0zM88 -371l1 3-1 3-4-3zM68 -344l4-1 2 3 4 4 2 6 2 3 6 0 14-3 6-1 4 1 6 5 4 9 3 16 3 6 4 6 4 2 3 6 3 4 1 0 7 6 11 4 1 2 5 4 1 0 4 4 0 1 5 5 1 6-5 9-1 0-4 9-1 0-4 6-1 0-4 4-6 0-8-10-6-4-6 1-2 9-2 4-1 0 0 6 1 4 4 8 4 2 5 6 1 4-4 6-8 4-2 4-2 2-2 4-1 6-1 0-1 4 0 6 1 2 6 3 4-1 9 0 1 1 6 1 4 4 6 5 2 5 0 14-1 6-3 4-8 6-6 4-5 6-5 4-4 5-2 1-4 4-3 10-1 9-1 1-2 6-5 10 2 4 6 1 4 0 6 2 6 7 0 6-2 4-4 1-6 0-4 2-3 3-3 5-1 5-2 4-1 7-6 3-4 0-6-2-3-2-2-6-2-4-2-6-5-2-6 3-4 6-6 3-4-1-4-3-2-4 0-12 14-14 2-4 0-2 2-4 2-7 13-9 3-1 4-3 0-1 6-7 1-2 0-6-3-4-4-7-3-13-1-3-6-4-2-3-2-6-2-4-3-16-1 0-4-7-6-2-4 0-6 3-4 4-6 3-4 3-10 0-6-1-4 0-10-2-4-5 3-6 1 0 4-4 0-1 4-5 2-5-6-3-6-2-4 0-4-1-6 0-2 1-4 6-2 10-5 4-4 6-1 4 0 6 1 4 0 20 3 16 2 10 2 4 10 5 6-1 4-8 2-6 4-7 1-3 3-3 6-1 12 0 8-3 4-3 6-2 4-2 10 0 6 1 4 3-2 6-2 4-1 0-2 10-2 6-3 4-2 5-6 2 0-1-7-6-7-3-6 0-7 3-2 6 0 4 5 4 4 1 6 0 4 1 4 4 0 6-3 10-8 0-7-4-6-1 0-1-4-3-9-1-1-2-10 0-11 2-5 0-4 1-3 3-1 6 2 10 2 1 4 5 6 3 0 1 4 2 7 2 9 5 4 3 6 2 6 6 2 4-2 6-2 1-2 3-3 6-1 4 1 6 1 0 4 4 0 1 6 2 5 3 9 3 6 0 4-2 10-4 6-3 4-6 5-4 5-3 6 0 9 3 5 3 6-7 4 0 6 2 2 2 1 6-3 3-9 1-2 1-5 0-6 5-7 4-1 2-4 4-2 5 2 9 4 5 1 5 0 6-2 4-2 6-3 7-2 3-1 4 1 6 2 4 1 6 0 4-5 6-6 2-4 0-6-2 0-11 2-5 4-4 4-6 0-4-2-10 0-10 2-10 0-6-4-5-10-7-6-2-4 0-6 0-7 4-3 3-2 7 1 6 3 4 2 6 2 4 2 10 2 6-4 3-6-4-4-2-6-2 0-1-4-4-1 0-2-6-2-4-1 0-2-6-2-4-1-5-5-8-4-4-6 0-5 1-5 4-4 5-6 3-6 4-7 4-1 2-4 4-6 4 0 1-6 2-10 5-2 2-1 6 0 4-1 3-6 1-4-2-6-1-4-2-6-2-3 3 0 6-7 4-10 3-4 4-6 3-4 3-5-3 3-10 2-4 0-6-4-4 2-6 2-2 4-2 6 1 4 0 6-4 2-7 1-6 0-10-3-11-6-4-4-1-6 0-4 2-4 4-2 4 0 2-4 3-11 4-5 1-5-4-4-4 1-6 4-5 4-4 10-5 1 0 3-6 7-10 9-4 4 0 2-1 10 0 4-1 6 0 10 5 14 0 6 2 4 3 6 2 4 0 0-1 6-1 6-4 4-2 4-1 10 2 6 0 4-1 6 0 3-2 3-6 1-4 0-6-1-4-6-6-9 0-7 4-4 6-2 0-4 2-4 1-10 0-6-1-2-2 0-4 7-10 1-6 0-4-1 0-3-6-4-4-3-6 1 0 1-4 3-4 6-4 4-2 0-1 10-3 6-1 4-2 2-3 1-6 0-4-3-6-4-3-7-1-3-1-10 0-10-3-6-1-4 0-6 1-4 4-6 4-4 2-10 0-6 1-4 6-2 1-2 6-4 4-3 6-7 4-2 2-6 1-4 0-6 1-4 2-6 2-4-2 0-1-6-2-4 0-11-2 0-1-6-4-2-6 0-4 2-6 7-5 6-9 4-7 3-3 1-3 3-3 0-4-3-3-1-3-9-6-10-11-1-3-3-4-1 0-3-6-6-5-6-2-4 0-5 3 5 6 1 4 0 5-2 5-3 4-2 6 4 14 0 6-4 9 0 1-4 3-6 0-4-3-2 0-4-4-4 0-2 4-8 6-6-1-4-2-10-3-16 0-6-6-1-4 3-4 4 0 10 8 6 0 14-4 10-2 2-4 0-4-1-6 0-4 2-6 8-10 4-4 0-1 4-5-1-4-4-6 0-4 2-4 0-2 2-4 2-6 10-10 10-6 10-5 6-4 2-5 0-4-4-6-5-4-1-6 2-4 1 0 3-10-2-6-6-4 0-1-6-4-2-5 0-6 2-3 6-1 14 3 6-2 5-7 2-4 2-6 1 0 4-6 7-4 3 0 14-4 6-5 6 2 4 3 10 3 5 1 1 1 1 5-1 7-1 3-4 5-1 0-4 6-3 3-3 6-1 4 3 6 4 4 4 6 6 9 2 1 2 4 2-4 4-1 4-2 6-1 4-2 6-2 3-2 1-2 7-4 9-2 5 2 4 6-2 4-6 6-9 4-2 2-6 1-6 3-4 0-4 2-6 2-4-1-3-3-2-5-5 0-2 5 2 5 7 5 3 1 4 6 3 3 3 1 5 3 5 2 6 4 8 2 6-1 4-3 8-4 8-1 7-3 5-6 2-4 1 0 4-6 11-2 4 0 6-2 4-1 9-5 5-4 1-6-1-4-3-6-1 0-3-4-1-6 3-10 4-4 7-10 1 0 5-5 1-5-1-6-12-10-4-4-1 0-3-10 1-6 3-4 1 0 4-6 5-3 6-2 10 0 0 1 4 0 6 1 4 0 5-1 5-6 5-4zM14 -198l-2 4 1 6 2 6 7 12 7-2 3-2 6-2 4-6 1 0 1-6-2-4-5-6-9-3-6 0-4 1zM115 -118l-3 6 7 0 4-6-5-1zM-103 32l-2 6 0 4 3 2 4 1 6-1 2-2 1-4-3-8-6-1-4 3zM-108 -339l6 0 4 2 6 4 3 5-2 6-7 4-7-4-3-4 0-2-3-4 2-6zM-38 -325l6-1 10 3 0 1 4 2 6 2 2 0 7 6-5 5-14 0-10 2-6 2-4-1-6-5-1-3 3-6 6-4zM248 -178l4 3 2 3 4 2 8 8 5 4 6 10 1 0 4 6 6 6 2 4 1 4 0 6-1 4 0 6 2 2 10 5 6 3 4 4 1 0 2 6 0 10 3 5 4 9 1 0 0 10-1 1 0 5-1 4 1 9 1 1 0 5 1 5-2 6-4 4 0 1-6 2-10-6-3-1-1-2-6 0-4 1-6 0-4-2-6-1-1 4 1 6 3 4 3 1 10 0 6 3 4 5 2 5 0 6-2 5-6 2-4 0-6-1-4-4-6-2-4-2-10-2-4-2-2 0-4-2-6-2-4 0-4 4 3 16-1 4 0 6 1 4 0 6 1 0 0 5-1 5-5 7-1 3-3 4 0 4-1 2-5 4-4-1-7-4-19 0-10-2-4 0-1 3-3 4-1 6 0 4 3 6 6 1 7-1 3-3 6-1 2 4 1 4 0 16 1 7 1 3 5 3 14 3 5 4 1 0 2 4 2 11 6 9 6 6-2 1-4 6-3 3-3 1-4 3 0 1-6 6-4 9 0 1-6 2-6-3-4-3-2-3-8-3-4-1-6 1-5-1-3-6-2 0-4-4 0-1-6-2-4-2-6-1-4 0-6-2-4-3-5-5-1 0-3-4-1-5-1-1 0-4 1-1 1-5 3-6 4-4 1 0 5-4 2 0 4-2 8-8 0-6-3-10-2-4-3-10-1-6 0-10 5-4 0-1 6-1 5-4 1-4 0-6-2-4-2-6-2-3-2-1-3-6-1 0-2-4 2-9 6-3 4 0 6 1 4 2 9 3 1 1 6-1 3-4 1-4 6-5 10 2 9-3 3-6-8-6-4 0-4 2-2 0-4 4 0 1-6 2-1-3-9-7-1-3-9-7-4-3-9-4-1-2-4-4-1-4 1-6 4-9 4-21 1-4 3-6 6-3 6-1 3 4 3 6 6 4 2 2 10 3 6 0 4-2 3-3 2-4-1-6-4-3 0-1-4-6-2-4 0-6 3-10 3-7 10-13 6-4 5-6 4-9 2-5 3-14 4-2zM241 -128l-1 6 2 5 6 4 4-2 2-3 1-4-1-6-6-4-6 1zM251 -38l1 3 4 3 9 0-2-6-5-3-6 1zM169 118l-3 4 1 6 11 4 4 0 1 0 3-4-1-6-4-4-3-2-6 1zM388 -63l0 12-6 2-2-3 2-9 3-1zM-92 -53l4 0 6 4 2 7 2 4-4 4-6 1-9-5-1 0-3-4 0-6 3-4 2 0zM-222 50l4-1 6 3 4 6 4 4 5 6 1 2 3 2 2 6-1 4-4 7-1 3 0 10 1 3 3 3 3 1 4 0 6-1 5-6 2-4-3-11 6-3 10 3 4 5 1 0 1 6 0 4 3 6 1 0 7 10 2 4 1 0 1 6 5 4 4 1 5 5 5 3 0 1 4 6 6 7 4 0 6-4 3-3 1-3 3-3 3-9 2 5 4 4 4 2 5 4 15 3 3 1 5 10 7 10-7 6-2 4-1 6 0 4 2 6 4 4 3 2 6 2 4 0 6 2 4 4 1 0 5 9 5 6 5 0 4-2 9-7 1-2 6-1 5 3 4 4 2 6-1 4-1 0-2 6-2 4 1 6 4 9-1 5-5 5 0 1-4 1-7-1-4-6-2-4-2-10-3-6-2-2-6-1-4 2-6 2-4 2-10 2-2 1-4 4 0 7 3 3 2 6 6 3 5 1 0 1 6 5 4 4 4 9 6 6 0 1 4 4 1 0 5 7 1 3 0 6-1 0-10 7-6 2 0 1-9 4-5 4-6 1-5-5-5-7-1-3-3-4 0-2-4-4-6-3-6-1-10-5 0-1-9-4-5-2-6-1-5-3-3-4 0-6 2-4 1-6 1 0 2-10 2-4 0-2 5-4 11-2 4 0 4-2 2-2 2-4 2-10-4-9-7-5-5-6-8-6-6-2-4-2-10-3-6 0-4-2-5-5-1 0-3-4-5-10-1-4-5 0-4 4-2 0-4 3-6 1-4-1-6-3-5-5 0-1-5-2-4 0-10 2 0 1-6 1-10 0-4 2-5 6 2 10 3 5 1 5-1 5-6 3-4-1-6 0-4 1-6 0-5-2-1-6-2-4-1-6-1 0-4-8-7-6-9-18-4-5-11-2-5-5 0-5 10-5 5 0 1-1 10 0 4-1 4-4-1-4-7-7-6-4-4-5-6-5-4 0-10 2-2-1-1-6 1-4 0-16 4-10 2-3 6-4 4-1 6 2 4 6 1 0 3 6 6 3 10 0 6-2 7-7 3-4 2-6 2-4 0-2 3-4zM258 65l4 0 10 2 6-2 4-2 6 0 4 2 6 1 4 0 4 2 0 4 1 6 0 4 1 6-1 4-5 5 0 1-4 3-6 3-4 8 0 10-1 0-5 4-7-4-10 0-7 3-10 2-6-2-4-3-7-4-5-10 0-6-1-4 0-6-3-6-1-4 1-5 1 1 5 0 4 1 6-1 5-6 9-4 1 0zM28 109l6 3 4 8 0 2 2 6 2 3 2 1 4 5 3 5 0 6-9 5-4 1-4-2-2 0-4-4 0-1-8-9-3-6 0-10 2-4 5-6zM52 186l6 1 0 1 4 4-4 7-6 1-3-2-2-6 3-4z"/>
<path fill="#e5f015" d="M-112 -388l5 0-1 2-4 1-3-3zM28 -329l4-1 10 2 4 0 6 2 6-1 4-1 6 0 0 6 4 7 6 2 4-2 8-7 2-3 10-3 6 1 4 2 2 3 4 3 3 11 1 8 4 8 4 4 2 4 6 7 3 5 9 4 2 2 6 2 4 4 6 4 5 8-2 6-3 4 0 2-3 4-7 4-6-2-2-2-2-4-2-2-3-10-11-2-4 0-3 2-2 10-1 1 0 5 2 10-1 5 0 5 3 10 2 4 2 6-2 6-4 4-6 4-6 0-4-2-6-1-5 3-5 9 0 3 4 4 6 1 6 0 4 3 3 6 1 4 6 9 6 0 4-2 6 0 9 3 5 6 2 5 1 5 0 4-1 6-2 1-4 5-5 4-1 0-4 4-1 0-6 6-3 2-6 2-10 3-4 5-6-6-4-6 1-6 3-1 6 1 10-6 4-5 4-3 3-6 1-4-2-6-6-2-10 7 0 1-4 4-2 0-4 4-4 2-6-1-5-5-5-6-1-4-2-4-1-5-5-11-5-3-6-1-4 0-8 4-5 6-3 1-4 3-6 1-10-2-4-2-4-1 2-6 5-4 1-2 5-4 1 0 4-4 0-1 7-5 9-4 3-6 1-4-1-6-3-5-4-5-6-4 0-1-6-4 0-1-4-2-6 0-6 2-4 3-4 6-2 1-1 6 3 4 3 10-3 5-6 0-4-2-6-2 0-7 4-8-4-5 0-1-4-4 9-6 11-2 4 0 10-5 6-1 10-7 2-5 8-7 14-10 6-1 1-2 6-4-3-4-4-1-6 1-10 8-4-2-6 2-4 4-6 3-4 1-6 0-4-2 0-1-4-5-1-4 2-6 7-9 0-1 6-4 7-6 1-4-2-6-6-8-7-6-3-10 1-6 3-6 3-4zM-38 -319l6-2 6 3-1 6-5 2-6 0-3-2 2-6zM-138 -288l7 0 8 6 1 0 2 4 0 6-2 5-8 9-5 6-2 4 2 6 3 1 3 3 5 10 0 16 2 5 4 6 6 5 4 4 9 4 1 1 10 3 10 5 5 1 5 2 6-1 4-2 10-3 6 1 4-2 6 3 4 0 6 2 2 6-2 7-6 0-4-5-6 1-3 7-1 4 0 6 4 4 0 1 6 6 3 13 0 6-2 4-1 8-1 2 0 6 1 0 0 7-1 3-9 3-6 1-4 0-14-4-2-1-4-5-5-10-1 0-4-4-2 0-4-4-2-12-2-7-4-3-6-1-10 0-6-1-4 0-6 1-4 0-3 1 3 2 2 4 8 4 8 6 5 4 1 2 5 4 11 5 4 6 3 3 2 6-2 4-5 6-2 1-6 1-4 0-6 1-2 1-8 10-4 6-4 4-6 7-6 1-4 0-6-1-4 1-6-1-4-3-6-1-4 0-6-1-2-2 2-5 5-9 1-6 4-8 6-3 5-3 2-6-2-8-5-5-10-5-2-2-4-2-7-8-3-4-4-9-2-1-3-6-1 0-4-4-2 0-8-4-6-2-4-4 2-6 8-8 1-2 13-7 6-2 0-1 4-5 3-5 1-4-3-6-1 0-4-4-2-6 2-4 4-6 0-1 5-3-3-6-2 0-3-4-1-3-3-3 7-5 6-2 1-3 5-4 6-10 3-6 5-4 4-2 16-3 3-1zM-175 -238l-7 6 4 2 10 8 6 2 6-2 4-5 2-5-2-6-6-2-4 0-10 2zM-159 -132l1 5 6 1 3-6-3-5-6 0zM-149 -78l1 5 1 1 5 1 1-1 1-6-2-2-6-1zM248 -165l4-1 6 3 0 1 7 4 3 3 1 3 9 9 0 1 4 4 1 0 5 9 0 7-2 4-2 6-5 4-7 14 0 10 1 2 5 2 4 0 6-1 4 0 7 3 6 6 3 1 4 3 0 1 6 7 0 18 2 10-2 7-6 2-4-2-6-4-3-3-1-3-6-2-4 0-1-1-5-1-6-3-4-3-5-3-5-1-10 0-5 2-4 5 3 10 4 4 2 3 6 3 4 4 1 0 2 6 3 4 3 6-9 2-9-2-8-6-7 0-10-2-6-3-4-3-4-2-6-1-6 2-4 2-6 1-4-2-2-2-4-2-7-8-3-1-10-6-4-7 0-6 4-14 1-6 2-4 1-6 2-3 4 1 6 5 4 5 6 3 10 2 4 0 6-2 10-5 3-6 1-4 0-6-4-6-4-4-2-4 0-7 2-3 1-6 7-10 6-5 4 0 2 5 1 6 3 4 2 6 2 2 6 2 4-1 5-3 3-10-1-6-1-2-6-5-5-3-5-1-4-3 0-6 2-4 2-7 3-3zM-222 -129l1 1 0 6-1 2-3 2-3 6-4 2-6 0-1-2 1-6 10-8 3-2zM52 -108l6-1 4 1 2 6-2 7 0 3-4 8-3 2-8 0-9-4-6-1-10 3-4 3-6-1 0-9 6-5 4-1 6 0 10-3 4-4 7-4zM298 -103l4 3 5 2-1 6-4 3-4 2-1-1-5-1-2-3 0-6 2-3 3-1zM102 -66l5 4 0 4-2 6-4 4-5 6 2 5 4 5 6 2 4 2 3 0-2 6-1 0-3 4-3 10-1 6-3 3-4 0-6-5-1-4-3-4-6-3-4-1-6 2-4 6-3 0-3 2-4-4-1-2 1-6 4-3 3-1 5-6 2-4 1-6 5-9 0-1 4-3 6-2 5-5 6-4zM-92 -48l4 3 2 3-2 2-6-2 1-6zM-42 -48l4 0 0 1 4 5 2 1 2 9 3 4 5 5 0 1 4 4 2 0-6 6-6 2-4 3-6 1-4 0-2-2-1-4 0-6-1-4-2-3 0-3-3-4-3-6 2-5 7-5zM2 -9l4 1 2 2 2 4 3 4 0 6-4 14 1 6 2 4 1 0 5 5 3 5-1 6-2 2-6-1-4-4-6-3-4-3-3-1-5-6-1-4 3-3 6-3 2-4 1-6 0-4 1-6 0-4-1-6zM288 -3l0 1 4 2 2 2 0 6-2 2-4 1-6-3-5-6 5-3 5-1zM212 6l10-3 6 2 1 3 3 4 0 4 1 2 0 14 1 6-2 7 0 3-4 4 0 2-4 4-6 4-26 0-8-4-6-6-6-4-4-6-4-10-2-1-2-3-5-10 1-6 2-2 4-1 6 1 4 2 0 1 6 4 0 1 4 4 0 1 6 2 5-3 1-4 3-6 5-3 6-1zM-128 21l6 0 4 1 4 0 2 2 2 4-2 8-1 2-5 3-4 0-10-2-2-1-3-6 1-4 6-6zM82 27l6 0 5 5-5 6-6 4-4 5 0 1-6 1-4-1 0-1-6-4 0-1 6-2 4-4 3-4 3-1 4-3zM-58 32l6-1 4-2 6-1 4 0 6 1 4 3 3 6 1 4 0 6-1 4-3 4 0 2-7 4-2 2-6 4-5 5-4 5-6 2-4 2-7 0-9 8-4 2-6 0-13-4-3-6-1-4 0-6-1-4 0-10 2-6 12-2 7-2 4-6 4-7 5-1 4 1 9-3zM-158 50l6-2 6 4-2 2-2 4-2 1-6 0-1-1 0-6zM-222 57l4-1 6 4 1 2 1 6-2 6-6 3 0 6 6 1 4 0 2 4 1 4 0 6 3 10 4 4 10 3 6 0 4 1 2 2-1 4 1 6 4 6 10 10 4-3 6-1 4 0 6 1 4 0 5 1 7 6 1 4-2 6-5 3-6 0-5 1-5 2-4 4 0 1-6 2-4-9-6-2-4 2-16 3-7 3-13 2-4 2-2 0-6 6-2 4 0 6 2 10-2 3-5 1-1 1-10 0-3-5-1-5-1 0-2-5-3-4 0-2-4-4-1 0-5-5-3-5-1-5-4-11-2-2-4-2-6 0 0-1 6 0 4-3 6 0 10-4 3-8 0-4-3-6-8-4-8-9-4-9-10-5-4-3 0-4 4-7 4-2 6 4 4 4 7 1 3-1 6 0 10-2 4-4 6-4 3-5 1-5 5-9zM22 65l2 3 4 4 3 10-3 4-6 0-3-4-2-4 0-6 2-4zM158 65l4 0 5 3 1 4 0 6-1 4 0 6 3 4 8 3 4 0 6-1 4 1 3 3 1 4-1 6-3 6-10-4-4 0-10 2-6-2-1-2 0-6 1-4-1-6-3-1-3-3-3-6 0-13 1-1zM252 77l10-2 6 1 9 0 5-2 6-1 4 0 6 3 4 6 1 6-2 4-3 4-6 3-4 3-5 11-5 3-26 0-10-2-8-6-3-6 0-4 1-6 10-8 6-3 3-3zM-158 117l3 5-2 6-1 0-2-6 0-4zM72 114l2 4-3 0zM22 121l6-3 5 4 2 6 3 5 4 9-3 6-3 0-4-2-2-4-4-4-3-6-1 0-1-4 1-6zM148 121l4-1 6 2 2 6 2 4 6 2 8 4 2 0 4 3 6 3 5-2 5-4 4-7 10-3 6 1 4 3 5 10 1 6 3 4 1 5 2 5-5 6-1 0-6 4-4 4-6 4-6-2-4-2-5-4-9-2-6 0-10-4-7-4-13-2-6-2-11-10-3-6 0-8 4-6 7-6zM-92 152l4-1 7 1 3 3 5 3-1 4-4 3-2 3-6 4-1 6 5 7 10-7 4-2 6 1 1 5-1 6 0 4 1 6 3 5 6 3 2 2 8 1 9 3 4 6 2 4 1 6-2 5-4 5-6 1-10 0-6 3-4 7-1 3 1 6 2 4 2 6 2 1 2 3 2 10 0 8 1 2 5 4 10-2 4 5 6 4 10 3 4 6-1 6-13 7-6 2-4 1-6 0-4-3-2-3-4-4-2-6-2-4-1 0-5-4-4 0-6-1-10-5-4-4-6-3-10-3-2-6 2-10 0-4 1 0 1-6 4-5 4-2 6 0 10-2 4-2 4-3 1-6 0-10-1-4-4-5 0-1-4-4 0-2-3-4-1-4 2-6-1-4-3-5-5-1-7 6-8 1-5-1-9-3-6-1-6-6-1-6 3-4 4-4 6-3 4-5 6-3 0-1 4-4 0-1 5-5zM2 225l6-1 2 4 0 4-2 4-2 2-4 2-2-2-2-6 2-4zM2 249l6 0 3 3 2 6-2 4-3 3-6-1-2-6 0-6z"/>
<path fill="#efc314" d="M28 -324l4-2 6 0 14 7 6 1 4 2 4 4 6 4 0 1 6 1 1-2 3-1 6-4 4-5 6-4 4-1 6 0 0 1 6 4 3 6 1 0 0 4 1 6 0 4 2 6 4 4 7 10 0 2 7 8 5 6 0 5-2-1-4 0-6-2-4-2-6 0-4 3-3 1-2 6 1 4 0 6 3 14 1 2 0 4 2 4 0 6 2 10 0 10-4 5-6 2-10-2-4 2-7 7-3 6-3 4-2 6 0 4 5 2 4-1 6 0 10 3 4 9 2 2 2 5-1 6-4 4-3 4-10 3-6-1-10-14-2-12-2-6-6-2-12-6 0-6 2-4 0-2 3-4 2-4 1-6-6-1-4-3 0-1-6-3-4-4-6-5-3-7 3-8 3-2 7-8 6-2 14-3 6 1 2 12 2 11 6 3 6-4 4-5 1-5 0-6-1-6-4-8 0-6-2-5-4-3-1-2-5-3-4-2-6-2-7-3-7-1-11-3-3-6-3-10-3-7-2-3-4-3-6-7-2-4 0-6 3-4zM70 -298l-3 6 1 0 4 8 6 0 2-4-2-8-6-4zM-158 -279l16-3 10 0 5 4 1 6-1 5-3 5-2 2-4 2-6 7-6 4-4 2-6 0-4 1-10 0-6-1-2-3 2-6 2-4 4-5 4-7 8-8zM32 -268l4 0 2 2 2 4 0 4-3 6-5 4-4 2-6 0-4-6 1-6 3-5 7-5zM158 -254l5 2 5 4-3 6-3 3-4 1-1 0-1-4 0-6-2-4zM-148 -213l6-4 10 0 1 5 3 4 0 2 7 8 5 6 8 7 6 2 10 2 4 2 5 1 5 5 2 1 1 4 0 6 3 5 4 4 4-5 1-4 0-6 1 0 4-5 6-1 5 2 0 4-2 10 0 6 3 4 4 4 1 2 5 4 3 10 0 6-5 9-4 11 0 2-6 5-4 0-6-1-8-6-2-2-2-4-8-7-4-7-1 0-1-6 0-4-3-6-1 0-4-4-6-3-10-2-22 0-8-3-10-2-8 4-6 5-2 1-3 4-2 10-3 4-6-3 0-1-4-4-1 0-3-6-3-4-3-9-7-7-3-1-5-3-3-6 2-7 3-3 7-3 6-1 4-4 1-2 4-4 5-7 6-1 4 0 6 1 7-3 7-10zM252 -159l5 1 7 6 3 4 1 0 5 6 5 4 5 6 1 4-1 6-3 4-2 4-6 3-3 3-2 6-2 4-1 6 0 10 4 5 4 4 2 1 9 0 5-1 10 3 11 12 2 10 1 1 2 9-2 5-4-5-2-10-4-2-4 0-10 2-6 0-4-4-2 0-4-4-4-1-6 0-14 3-6 1-4 0-5 5 1 6 4 5 4 9 1 0 2 6 0 4-7 3-6 1-8-4-2 0-4-4-6-3-4 1-2 2-4 0-4 2-6 1-6-3-4-3-4-6-6-2-6-5-4-4 0-9 1-1 1-6 2-4 1-6 1-1 5 1 5 4 1 2 3 2 6 2 4 0 10-2 7-2 3-2 6-2 5-6 3-10 1-6-1-4-4-5-3-5-1-6 2-4 1-6 1-1 6-2 5 3 2 6 4 4 3 4 6 1 4 0 6-2 4-4 2-3 0-10-1-6-2-4-5-6-7-4-4-6 0-4 4-6zM33 -154l9-3 6 3 0 2-4 5-6 4 0 1-6 1-4-1-3-6 5-4zM137 -133l5 0 6 4 2 7 0 4-1 6-7 5-4 4-6 4-4 2-6 0 0-6 4-5 5-4 5-10-1-6 2-4zM-138 -125l6 1 4 6 1 0 0 6 1 4 4 2 4 0 10 2 6 0 4 2 6 5 2 5-2 5-10 3-6 1-4 2-6 5-3 4-1 3-5 1-1 0-3-4-1-7-6-7-4-6 0-2-2-4 1-4-3-10 1-6 3-4zM52 -103l5 1 1 5-2 5-4 3-4 1-7-4 1-5 6-5 1 0zM82 -40l6 4 4 5 6 3 1 6-1 2-6 2-4-2-6-2-4-6 2-4 1-6zM212 12l6-3 4 0 6 5 1 4 0 20-1 6-2 4-8 8-6 1 0 1-4 0-6 1-4-1-4 0-6-4-6-6-5-6-5-2-4-8-6-8-2-6 2-4 6 0 4 4 6 9 0 1 4 4 2 0 4 2 4-2 6-2 3-2 5-10 6-6zM-122 28l0 5-2-1zM-52 36l10-2 5 2 3 6 1 6-1 4-4 5 0 1-6 4-4 4-4 6-1 0-5 4-4 0-6 1-5 2-9 7-6 0-10-5-2-3-2-6 0-8 0-2 2-4 2-2 6-1 4 0 10-2 6 0 0-1 4-1 6-3 2-6 5-4zM292 82l1 0 3 6-4 5-4 1-4 4-2 1-2 3-3 6-5 1-4 0-3-1-7-8-6 2-4 2-6 0-2-2-1-4 4-6 9-2 6-4 4-1 6 0 4 1 4 2 7 0 6-6zM-262 97l4-3 6-1 4 2 2 3 2 10 6 3 6-1 2-2 0-6 2-8 2 4 8 4 0 1 6 4 0 1 5 4 9 6 6 1 6 3 3 6 1 0 4 8 5 6 0 6-1 4-4 5 0 1-14 3-7 1-9 3-4 3-7 4-7 6-2 3-3 1 0 6-1 3-3-3-3-6-10-6-3-4-1 0-6-5-2-9 0-6 8-6 5-8 2-6 0-4-1-6-6-6-6-3 0-1-4-4 0-2-2-4 1-4zM142 127l6-1 5 2 5 7 4 3 14 4 2 1 4 4 10 3 6-3 4-7 6-5 4-2 6 2 4 7 5 16 0 4-5 5 0 1-4 2-6 1-10-3-4-3-6-2-10 0-14-3-10-2-5 0-11-8-2-2-3-6-1-4 1-6 1 0 4-4zM-108 181l6-3 4 0 3 4 2 6-5 5-4 0-10-5 3-6zM-62 211l4-1 6 2 5 0 5 1 4 2 6 6 0 7-1 0-5 4-4 0-6 0-10-3 0-1-5-6-1-4 0-6zM-88 260l6-1 10 0 4 1 4 2 2 2 1 4 3 7 2 3 2 10-2 4-6 5-6 0-4-1-4-4-5-4-1-3-8-7-3-10 1-1 1-5zM-22 312l2 0 0 6-8 1-6-1 2-2 8-4z"/>
<path fill="#ed8b12" d="M32 -319l6-1 2 2 2 6-4 1-5-1-1-1-1-5zM102 -319l7 1 5 6 1 4 0 6 2 10 3 4 2 4 2 2 4 8 0 3-6 4-4 2-10 3-12 0-4-2-10-8 2-6 2-4 1-6-2-10 0-4 3-4 0-2 4-4 1 0 5-5 0-1zM-158 -274l6-1 4-2 10 0 6 3 0 7-4 5-6 4 0 1-6 3-4 3-10 3-6 0-5-4 1-6 3-4 1-3 9-7zM28 -261l4 3-3 6-4 0-2-6zM52 -223l6-3 4-1 6 0 4 3 3 6 1 6 0 4-3 6-5 2-6 1-4 0-6-2-6-7-2-4 3-6 1 0 4-4zM108 -220l6 2 4 14 0 4-4 8-6 1-6-1-10 3-4 7-4 4-5 6-1 2-4-2 2-10 2-6 4-4 6-2 9-14 4-4 1-3 4-3zM-142 -206l4-1 6 1 4 7 2 1 4 5 0 1 4 4 1 0 5 5 0 1 4 3 5 1 1 2 5 4-3 10-4 4-8 4-6 1-4 0-2 1-4 0-10-5 0-1-4-3-6-1-10 6-2 4-2 2-4 2-6 6-6 4-4-4-1 0-2-6-3-6-2-8 2-6 2-4 2-10 2-6 4-4 0-1 6-2 4 0 6 1 4 0 6-2 4-5 2-1zM-198 -173l3 1-3 4-2-4zM-87 -158l5 5 3 5-3 4-6-3-4-5 0-3 3-3zM98 -153l0 1 4 1 4 3 2 3 0 3 2 4-1 6-7 4-4 0-6-3-4-10-1-1 1-6 9-5zM258 -148l0 2-2-2zM-78 -144l1 1-1 5-1-4zM-52 -143l0 1 4 1 6 3 5 6 1 4-1 6-1 0-1 4-4 6-9 7-6 0-10-6-8-11-1-6 0-10 5-1 4 1 5-1 5-3 4 0zM268 -139l4 2 6 4 2 5-2 6-6 2-4-8-3-10zM233 -104l-1 4-1-2zM237 -98l2 0 3 3 8 3-1 4 1 6 2 5 5 5 1 0 3 4-7 6-12 2-9-2-5-6 0-4 1-6 2-4 1-5 3-5 0-6zM-128 -96l6-1 4 0 10 3 6 0 0 2-6 1-5 3-7 6-2 1-6-2-3-9zM282 -64l6-3 6 5-1 5-5 2-6-2-1-5zM212 -59l6 0 4 1 1 6 0 5-5 6-6 3-9 6-5 1-2-1 0-6-1-4 1-6 6-6 6-2 2-2zM168 -55l4 1 2 2 2 4 0 6-4 3-5-3-1-6 1-4zM228 -32l4 1 3 3-1 6-4 0-2-2-2-4zM218 16l4 0 2 2 1 4-1 6-2 4-2 6 0 4-2 7-6 4-10 2-4-1-4-2-3-4-1-6 2-2 6-3 7-5 3-1 2-3 2-6 4-4zM-52 45l4-1 4 4-1 4-3 4 0 2-7 10-3 2-4-1-6 1-11 8-3 1-6 0-4-2-4-5-2-5 2-5 4-1 4 0 6 1 4 0 6-1 10 0 4-3 5-11zM-238 121l6-1 4 2 2 0 4 2 4 1 5-3 1-3 10 3 2 6 2 4-4 3-2 3-4 3-1 7 0 4 1 5-2 5-7 6-5 3-6 1-4 0-6-1-4 0-6-2-6-7 0-4 2-4 0-2 4-6 2-4 3-4 5-16zM-188 136l2 2 4 1 2 3 1 6-3 5-6 1-4 0-6-1 3-5 2-6 1 0 1-4zM142 137l6-3 4 6 6 3 4 1 6 0 10 5 5 3-1 2-4 3-7 1-9-2-9-4-5-4 0-1-6-8 0-1zM208 142l4-2 4 2 2 2 2 8 0 6-2 3-6 2-4 0-3-1-4-4 1-5 3-5 2-6zM-78 266l6 0 4 3 2 3 2 6 2 5-2 5-4 1-5-1-5-7-4-9 0-4z"/>
<path fill="#ec5211" d="M102 -314l6 1 3 5 0 6-1 4 1 6 7 9 3 5 0 6-3 2-6 2-4 1-6 0-4-2-4-3-2-5 0-26 3-5 5-4zM-152 -269l4-1 6 0 2 2-5 6-3 1-10 6-4 2-4-5 4-5 6-5zM58 -219l4-1 6 1 1 1 1 6-2 5-6 2-4 0-6-2-2-5 2-4 2-2zM102 -208l6-3 4 3 1 6-1 0-4 5-6 0-2-5 2-6zM-138 -199l6 0 5 7 5 5 4 5 5 4 2 6 0 4-3 6-4 2-4 1-6 0-6-3-4-5 0-1-4-3-6 0-5 3-5 5 0 1-4 4-1 0-5 6-4 2-6 1-3-3-1-6 3-14 0-10 1-5 6-3 4-1 10 2 6 0 4-3 0-1 6-4 0-1zM-58 -133l6-3 4 1 6 3 2 4-1 6-3 4-6 6-2 1-6 0-4-2-5-5-2-4 2-6 5-2 3-2zM238 -79l2 1 4 6-2 2-4 1-3-3 1-6zM202 41l6 0 0 7-6 1-2-1 1-6zM-232 129l4 1 6 3 5 9 2 10-1 6-2 4-4 4-10 0-6-1-6-3-3-4 1-6 4-8 0-2 4-9 1-1z"/></g>
</g></g>
</g>
<g>
<circle cx="113.65" cy="200.8" r="48.7" fill="url(#rg)"/>
<path d="M107.2 163.6L108.3 162.0L109.5 160.5L110.8 159.2L112.2 158.0L113.7 157.0L115.2 156.3L116.7 155.8L118.3 155.6L119.9 155.6L121.5 155.9L123.1 156.3L124.6 156.8L126.2 157.3L127.7 158.0L129.1 158.8L130.5 159.6L131.8 160.6L133.1 161.6L134.3 162.6L135.4 163.8L136.5 165.0L137.5 166.2L138.4 167.5L139.2 168.9L139.9 170.3L140.6 171.7L141.2 173.2L141.6 174.6L141.9 176.2Z" fill="#646464" fill-opacity="0.24" stroke="#464646" stroke-opacity="0.55" stroke-width="0.7" stroke-linejoin="round"/>
<path d="M141.9 176.2L143.8 176.3L145.7 176.6L147.5 177.1L149.2 177.7L150.8 178.5L152.2 179.4L153.4 180.5L154.4 181.8L155.1 183.2L155.7 184.7L156.1 186.3L156.5 187.9L156.8 189.5L156.9 191.1L157.0 192.7L157.0 194.4L156.8 196.0L156.6 197.6L156.3 199.2L155.8 200.7L155.3 202.2L154.7 203.7L154.0 205.1L153.3 206.5L152.5 207.9L151.5 209.1L150.6 210.3L149.5 211.5L148.3 212.5Z" fill="#646464" fill-opacity="0.24" stroke="#464646" stroke-opacity="0.55" stroke-width="0.7" stroke-linejoin="round"/>
<path d="M148.3 212.5L149.1 214.2L149.8 216.0L150.3 217.8L150.7 219.6L150.8 221.3L150.7 223.0L150.3 224.6L149.7 226.1L148.9 227.4L147.8 228.7L146.7 229.9L145.5 231.0L144.2 232.0L142.9 233.0L141.5 233.8L140.1 234.6L138.6 235.3L137.1 235.9L135.6 236.4L134.0 236.8L132.5 237.2L130.9 237.4L129.3 237.5L127.7 237.5L126.2 237.5L124.6 237.3L123.1 237.1L121.6 236.8L120.1 236.2Z" fill="#646464" fill-opacity="0.24" stroke="#464646" stroke-opacity="0.55" stroke-width="0.7" stroke-linejoin="round"/>
<path d="M120.1 236.2L119.0 237.8L117.8 239.3L116.5 240.6L115.1 241.8L113.7 242.8L112.1 243.5L110.6 244.0L109.0 244.2L107.4 244.2L105.8 243.9L104.2 243.5L102.7 243.0L101.1 242.5L99.6 241.8L98.2 241.0L96.8 240.2L95.5 239.2L94.2 238.2L93.0 237.2L91.9 236.0L90.8 234.8L89.8 233.6L88.9 232.3L88.1 230.9L87.4 229.5L86.7 228.1L86.1 226.6L85.7 225.2L85.4 223.6Z" fill="#646464" fill-opacity="0.24" stroke="#464646" stroke-opacity="0.55" stroke-width="0.7" stroke-linejoin="round"/>
<path d="M85.4 223.6L83.5 223.5L81.6 223.2L79.8 222.7L78.1 222.1L76.5 221.3L75.1 220.4L73.9 219.3L72.9 218.0L72.2 216.6L71.6 215.1L71.2 213.5L70.8 211.9L70.5 210.3L70.4 208.7L70.3 207.1L70.3 205.4L70.5 203.8L70.7 202.2L71.0 200.6L71.5 199.1L72.0 197.6L72.6 196.1L73.3 194.7L74.0 193.3L74.8 191.9L75.8 190.7L76.7 189.5L77.8 188.3L79.0 187.3Z" fill="#646464" fill-opacity="0.24" stroke="#464646" stroke-opacity="0.55" stroke-width="0.7" stroke-linejoin="round"/>
<path d="M79.0 187.3L78.2 185.6L77.5 183.8L77.0 182.0L76.6 180.2L76.5 178.5L76.6 176.8L77.0 175.2L77.6 173.7L78.4 172.4L79.5 171.1L80.6 169.9L81.8 168.8L83.1 167.8L84.4 166.8L85.8 166.0L87.2 165.2L88.7 164.5L90.2 163.9L91.7 163.4L93.3 163.0L94.8 162.6L96.4 162.4L98.0 162.3L99.6 162.3L101.1 162.3L102.7 162.5L104.2 162.7L105.7 163.0L107.2 163.6Z" fill="#646464" fill-opacity="0.24" stroke="#464646" stroke-opacity="0.55" stroke-width="0.7" stroke-linejoin="round"/>
<circle cx="113.65" cy="199.9" r="37.4" fill="#544840"/>
<circle cx="113.65" cy="199.9" r="36.3" fill="#128cf6"/>
<g clip-path="url(#c10)"><g filter="url(#soft)">
<g transform="translate(114 200.7) scale(0.1)"><path fill="#13b8ef" d="M-138 -65l6-1 20 0 7 4 7 1 6 4 4 2 8 7 2 4 2 2 4 8 4 0 6-1 14 0 6 1 2 2 2 0 6 2 4 2 0 1 6 3 4 5 2 1 3 10 0 6-8 10 1 4 5 10 1 6-1 4-3 3-1 3-3 3-10 5-6-1-10-8-3-5-1-4 0-6 1-4-1-6-6 0-4-2-6-2-4-2-5-4-10 6-1 0-4 4-3 0-7 4-6 1-4 2-6 1-10 0-8-2-2-1-4 0-6-2-4-3-7-4-6-6-3-2-4-8 0-2-2-2-2-6 0-14 3-6 1 0 1-4 4-6 5-4 4-4 10-6 6 0zM-130 -38l-8 3-5 3-5 5 0 5 1 4 5 5 0 1 14 4 0 1 10 0 1-1 5-1 4-2 5-1 6-6 5-4-3-6-3-1-4-3 0-1-6-2-5-2-5-1-10 0zM-122 70l4-2 6 1 4 3 3 6 0 4-2 10 1 6 6 10 8 3 4 1 0 1 6 4 2 5-3 6-5 4-10 0-10-5-5-5-6-4-3-6-4-4-1-6-1 0-2-10 0-4 2-10 1 0 2-6zM-72 86l4-2 6-1 4 1 5 4 1 0 3 4 1 6 0 4-2 6-2 3-6 4-4 2-6 0-4-1-5-4-1 0-3-4 0-10 2-6 5-4zM-2 107l4-3 6-1 4 0 6 2 4 3 4 4 2 4 1 6 0 6 3 1 6-2 4-3 6 0 4 1 4 7 0 6-1 4-3 3 0 3-7 10-8 6-9 6-6 1-5-3-3-6 0-4 1-6 3-4 1-6-8 0-3 1-1-1-5 0-7-4-4-6-2-4 0-10 3-6 5-4z"/>
<path fill="#15f0f0" d="M-128 -63l5-1 8 2 7 1 9 3 1 1 6 2 2 3 6 4 5 6 1 4 1 0 2 10 7-1 6-2 14 0 6 1 10 4 4 4 6 4 3 6 1 4-1 6-10 10 7 7 4 7 0 6-1 4-4 6-5 3-4 1-6-1-6-3-3-6-1 0-2-4 2-10 1 0 2-6-3-2-9-2-11-4-4-3-6-3-10 7-4 4-9 3-1 1-10 3-6 0-4 1-6-1-4 0-10-2-2-2-4 0-4-3-6-3-4-5-4-3-5-10-1-7-1-3 0-5 2-11 3-4 1 0 3-6 6-4 0-1 9-5 1-1 10-3 6 0zM-137 -38l-12 10-1 6 2 7 3 3 3 1 5 3 5 2 4 0 6 1 4-1 6 0 10-5 4-4 4-2 2-3 3-2-4-6-7-4-2-3-6-3-4-1-6 0-4-1-6 1-4 0zM-122 75l4-2 6 1 3 4 0 14 1 8 2 2 3 6 5 3 6 2 4 4 2 1 1 4-4 6-3 1-6 0-4-3-6-2-1-2-6-4-7-10-3-6-1-4 0-16 2-5zM-68 85l6 0 5 3 4 4 2 6 0 4-3 6-4 3-3 1-1 2-6 0-4-2-6-5-2-5 2-8 1-2 5-4zM8 107l10 3 3 2 3 6 1 4-1 6-2 4-4 4-6 3-4 0-5-1-7-6-2-4-1-6 1-4 3-6 5-3 5-1zM38 130l4-2 6 0 4 4 0 6-3 10-3 4-4 4-4 5-10 5-6 0-3-4-1-4 2-10 2-4 6-6 4-5 2-1z"/>
<path fill="#13efb8" d="M-142 -59l4-2 6 0 4-1 10 0 6 1 4 2 5 1 10 6 7 4 4 4 3 6 0 6-3 6-6 0-1-2-3-1-6-4-4-4-6-2-4-2-16 0-10 2-4 3-4 4-2 1-2 3-1 6 3 9 8 5 2 2 16 3 14-3 2-2 4-1 4-4 6-4 0-1 4-3 10 0 6-2 4-3 4-2 6-1 6 0 4 1 4 0 6 2 6 3 0 1 6 4 4 8 0 4-1 4-5 4-4 4-6 1-10 0-14-3-6-3-4-3 0-1-6-2-4 4-13 9-12 5-11 2-10 0-10-2-4-2-6-1-4-3-6-3-4-5-2-1-3-6-1 0-2-4-2-10 0-6 3-10 7-9 0-1 4-3 3-1 2-3 7-3zM-38 9l6 2 10 8 2 9-2 5-6 5-4 2-6-1-4-3-3-4-2-4 0-6 2-4 6-6zM-118 76l4 2 2 0 1 4 0 10 2 10 3 6 4 3 3 1 1 2 6 2 2 2 0 4-2 3-6 1-4-2-2-2-7-4-1-2-4-4-2-1-2-3-3-10-1-6 0-10 5-4zM-68 87l6 0 7 5 2 6-3 10-6 3-6 1-7-4-3-6 0-5 3-5 7-4zM2 112l6-2 8 2 2 2 4 8-1 6-3 5-10 3-6-2-4-6-1 0-1-6 2-5 4-5zM38 132l4-1 6 1 2 6-2 8-1 2-4 4-5 7-6 3-4 1-6-1-2-4 2-10 1 0 3-6 4-4 2-3 5-3z"/>
<path fill="#12ed80" d="M-138 -59l10-2 6 0 15 3 9 4 2 2 4 1 4 3 0 1 6 6 1 3 0 6-1 1-6 2-4-1-6-4-4-4-6-3-4-1-4 0-2-1-10 0 0 1-10 2-4 2 0 1-6 4-3 5-1 6 3 10 7 5 4 2 8 3 14 0 4-1 9-5 5-4 1 0 5-4 4-2 10 0 6-2 4-4 10-3 6 0 10 2 10 5 3 2 3 6 1 4-2 6-1 0-4 4-6 3-14 0-10-4-7-3-3-4-6-2-6 6-6 4-2 3-6 2 0 1-4 2-10 2-6 1-10 0-14-3-6-2-8-6-2 0-4-4 0-1-6-8-3-11 0-6 3-10 6-7 4-5 6-3 4-3 6-1 0-1zM-38 14l6 0 4 2 5 6 1 6-2 4-4 3-4 2-6 0-5-5-2-4 0-6 3-4zM-118 80l4 2 1 6-1 4 2 4 1 6 3 8 6 5 6 3 0 4-2 0-4-3-4-1-12-12-2-8-1-6 0-4 1-6zM-72 91l4-2 6 0 5 3 2 6 0 4-4 6-3 2-6 0-5-2-3-6 0-4 2-6zM2 116l6-2 4 0 6 5 1 3-1 6-6 4-4 1-6-3-1-2-1-6 1-4zM33 137l5-3 4-1 6 4-1 5-2 6-4 4-5 6-4 2-4 1-5-3 0-6 5-9 0-1 4-4z"/>
<path fill="#10ec47" d="M-138 -58l6-1 4 0 6-1 11 2 3 2 6 2 10 5 7 7 3 5-2 5-4 1-6-1-8-8-7-2-3-2-16 0-5 2-5 1-4 3-2 0-4 4-4 6-1 6 0 4 5 9 3 1 3 3 6 3 8 2 10 0 6-1 10-5 1-2 9-6 4-2 6 1 4 3-2 4-6 6-6 4 0 1-9 5-17 3-10 0-4-1-5 0-5-2-3 0-7-4-2-2-4-2-9-12-2-5 0-5-1-6 3-10 5-5 4-5 6-4 4-2 6-2 3-2zM-62 -24l4-1 10 0 6 1 4 3 6 3 0 1 4 5 0 4-2 6-2 2-10 3-10 0-6-2-7-3-3-2-3-4-1-4-3 0 3-2 1-4 5-4zM-38 17l6-1 7 6 0 6-3 5-4 2-6-1-5-7 0-5 1 0 4-4zM-68 90l6 0 3 2 3 6-2 6-3 4-7 1-4-3-2-4-1-4 3-6zM8 120l5 2-1 2-4 2-2-4zM38 136l4 0 3 2 0 4-2 6-4 4-1 2-5 4-7 0-1-6 1-4 2-2 2-4 2-2 4-2z"/>
<path fill="#0fea0f" d="M-132 -58l17 0 7 4 6 2 9 4 6 6 2 4-3 5-4-1-6-3 0-1-4-4-2 0-4-2-4-1-16 0-4 1-4 2-2 0-7 4-5 6-2 4-1 0-1 6 0 4 1 4 5 6 1 0 7 6 8 3 4 1 10 0 6-1 10-5 3-4 1 0 6-5 4-1 5 2 0 4-5 5 0 1-4 3-10 5-6 2-4 0-6 1-10 0-4-1-7 0-3-2-6-2-4-2-6-4-5-6-2-4-2-6-2-10 1-5 6-9 5-6 5-2 4-3 6-2 4-2 5-1zM-58 -23l11 0 12 5 4 6 0 4-1 4-2 2-4 2-4 1-10 0-10-3 0-1-6-4-2-5 2-6 6-4 2 0zM-38 20l6 0 4 2 1 6-1 0-4 4-6-1-2-3 1-6zM-68 92l6 0 4 6-1 4-3 4-6 1-5-5 0-4 4-6zM32 142l6-3 5 3-5 10-6 3-5-2 5-11z"/>
<path fill="#47ec10" d="M-142 -54l14-3 6 0 14 4 6 4 5 1 7 6 3 4-5 2-6-5-2-1-2-4-26 0-10 3-9 5-5 8-2 2-1 6 0 4 2 6 3 4 2 4 4 2 2 3 5 1-1 1-4 0-6-2-7-3-9-10-1-6-2-4-1-6 1-4 6-10 3-4 6-3 4-3 2 0zM-62 -19l4-2 10 0 9 3 1 2 4 4 0 4-4 5 0 1-4 1-10 0-6-1-5-4-3-6 2-6zM-92 -10l4-1 2 3-6 7-9 3-1 1-6 0 0-1 6-2 0-2 4-3 2-3zM-68 95l6 1 1 2-2 5-5 1-2-6z"/>
<path fill="#80ed12" d="M-142 -53l4-1 6 0 4-1 6 0 10 2 0 1-6 4-4 1-6 0-10 2-10 7-4 6-3 4-2 10 1 6-2 4-6-9-2-5 0-6 4-11 4-5 5-4 10-4zM-58 -18l6-1 7 1 3 2 4 4 0 4-4 4-6 1-10-3-2-2-2-4 3-6z"/>
<path fill="#b8ef13" d="M-132 -53l10 0 3 1-3 1-6 0-5 3-5 1-6 5-4 2-2 2-3 6-3 4-1 6-5 3-2-3-1-6 3-10 5-5 5-3 4-3 6-1 5-2z"/>
<path fill="#f0f015" d="M-152 -44l4-1 0 3-7 10-3 6-4 2-1-4 0-4 5-9 3-1z"/>
<path fill="#efb813" d="M-158 -38l3 0-3 8-2-2 2-5z"/>
<path fill="#1047ec" d="M37 -168l5-3 6 0 4 3 5 10 0 16-3 14-2 4 0 2-2 4-2 7-6 8-4 7-4 4-6 4 0 1-6 2-4-1-6-4-1-2-2-10 0-10 3-17 3-9 3-4 2-6 2-4 1 0 3-6 5-4 1-3 4-3zM-78 -149l6-1 4 2 2 0 7 6 1 0 6 5 4 5 5 4 5 8 2 2 3 6 1 0 3 4 2 6 3 4 2 6 2 4 2 10 0 6-4 6-6 0-9-5-3-1-6-6-5-4-1-2-8-8-2-4-5-6-5-10-5-10-3-6-2-10 0-4 2-6zM112 -58l11 0 3 6-6 4-2 2-10 2-6-1-4-3 4-6 10-3zM-128 -33l6 0 4-1 6 1 5 0 9 5 3 6-7 6-6 3-4 0-6 1-4 0 0-1-10 0-6-2-5-3-3-4 4-7 4-2 6-1zM-62 40l4-2 6 2 4 8-2 10-4 10-4 5-2 5-10 4-7 6-1 0-3 4-2 6-2 4-2 6-7 0-4-2-5-8 0-6 3-10 2-5 3-5 3-2 5-8 5-5 4-5 1 0 5-4 4-5 2-1zM72 40l6 0 5 2 4 6-1 4-4 1-9-5-3-6z"/>
<path fill="#0f0fea" d="M32 -144l6-3 4 2 2 7-2 10-2 6-2 5-4 5-6 3-5-3-1-2 0-9 1-5 2-4 2-6 1 0 3-4zM-62 -127l4 1 6 3 0 1 4 4 0 1 4 5 2 1 4 9 2 4 0 6-2 2-4 0-4-2-12-13-5-13-1-4zM-128 -28l6-1 14 0 5 1 5 6-4 3-5 1-1 1-14 0-6-1-9-4 7-6zM-72 62l4-2 3 2-2 10-5 7-6 4-4 5 0 1-4 3-2 3-4-1-1-2 3-10 2-4 1 0 3-6 5-4 1-2 4-4z"/>
<path fill="#0f0fea" d="M-118 -23l6 0 0 1-9 0z"/></g>
</g></g>
</g>
<g>
<circle cx="240.75" cy="200.8" r="48.7" fill="url(#rg)"/>
<path d="M234.3 163.6L235.4 162.0L236.6 160.5L237.9 159.2L239.3 158.0L240.8 157.0L242.3 156.3L243.8 155.8L245.4 155.6L247.0 155.6L248.6 155.9L250.2 156.3L251.7 156.8L253.3 157.3L254.8 158.0L256.2 158.8L257.6 159.6L258.9 160.6L260.2 161.6L261.4 162.6L262.5 163.8L263.6 165.0L264.6 166.2L265.5 167.5L266.3 168.9L267.0 170.3L267.7 171.7L268.3 173.2L268.7 174.6L269.0 176.2Z" fill="#646464" fill-opacity="0.24" stroke="#464646" stroke-opacity="0.55" stroke-width="0.7" stroke-linejoin="round"/>
<path d="M269.0 176.2L270.9 176.3L272.8 176.6L274.6 177.1L276.3 177.7L277.9 178.5L279.3 179.4L280.5 180.5L281.5 181.8L282.2 183.2L282.8 184.7L283.2 186.3L283.6 187.9L283.9 189.5L284.0 191.1L284.1 192.7L284.1 194.4L283.9 196.0L283.7 197.6L283.4 199.2L282.9 200.7L282.4 202.2L281.8 203.7L281.1 205.1L280.4 206.5L279.6 207.9L278.6 209.1L277.7 210.3L276.6 211.5L275.4 212.5Z" fill="#646464" fill-opacity="0.24" stroke="#464646" stroke-opacity="0.55" stroke-width="0.7" stroke-linejoin="round"/>
<path d="M275.4 212.5L276.2 214.2L276.9 216.0L277.4 217.8L277.8 219.6L277.9 221.3L277.8 223.0L277.4 224.6L276.8 226.1L276.0 227.4L274.9 228.7L273.8 229.9L272.6 231.0L271.3 232.0L270.0 233.0L268.6 233.8L267.2 234.6L265.7 235.3L264.2 235.9L262.7 236.4L261.1 236.8L259.6 237.2L258.0 237.4L256.4 237.5L254.8 237.5L253.3 237.5L251.7 237.3L250.2 237.1L248.7 236.8L247.2 236.2Z" fill="#646464" fill-opacity="0.24" stroke="#464646" stroke-opacity="0.55" stroke-width="0.7" stroke-linejoin="round"/>
<path d="M247.2 236.2L246.1 237.8L244.9 239.3L243.6 240.6L242.2 241.8L240.8 242.8L239.2 243.5L237.7 244.0L236.1 244.2L234.5 244.2L232.9 243.9L231.3 243.5L229.8 243.0L228.2 242.5L226.7 241.8L225.3 241.0L223.9 240.2L222.6 239.2L221.3 238.2L220.1 237.2L219.0 236.0L217.9 234.8L216.9 233.6L216.0 232.3L215.2 230.9L214.5 229.5L213.8 228.1L213.2 226.6L212.8 225.2L212.5 223.6Z" fill="#646464" fill-opacity="0.24" stroke="#464646" stroke-opacity="0.55" stroke-width="0.7" stroke-linejoin="round"/>
<path d="M212.5 223.6L210.6 223.5L208.7 223.2L206.9 222.7L205.2 222.1L203.6 221.3L202.2 220.4L201.0 219.3L200.0 218.0L199.3 216.6L198.7 215.1L198.3 213.5L197.9 211.9L197.6 210.3L197.5 208.7L197.4 207.1L197.4 205.4L197.6 203.8L197.8 202.2L198.1 200.6L198.6 199.1L199.1 197.6L199.7 196.1L200.4 194.7L201.1 193.3L201.9 191.9L202.9 190.7L203.8 189.5L204.9 188.3L206.1 187.3Z" fill="#646464" fill-opacity="0.24" stroke="#464646" stroke-opacity="0.55" stroke-width="0.7" stroke-linejoin="round"/>
<path d="M206.1 187.3L205.3 185.6L204.6 183.8L204.1 182.0L203.7 180.2L203.6 178.5L203.7 176.8L204.1 175.2L204.7 173.7L205.5 172.4L206.6 171.1L207.7 169.9L208.9 168.8L210.2 167.8L211.5 166.8L212.9 166.0L214.3 165.2L215.8 164.5L217.3 163.9L218.8 163.4L220.4 163.0L221.9 162.6L223.5 162.4L225.1 162.3L226.7 162.3L228.2 162.3L229.8 162.5L231.3 162.7L232.8 163.0L234.3 163.6Z" fill="#646464" fill-opacity="0.24" stroke="#464646" stroke-opacity="0.55" stroke-width="0.7" stroke-linejoin="round"/>
<circle cx="240.75" cy="199.9" r="37.4" fill="#544840"/>
<circle cx="240.75" cy="199.9" r="36.3" fill="#10a0f6"/>
<g clip-path="url(#c11)"><g filter="url(#soft)">
<g transform="translate(241 200.7) scale(0.1)"><path fill="#14d4ef" d="M18 -229l4-2 6-1 4 4 3 6 7 2 6-3 2-5 2-2 6-1 9 3 11 7 4 3 0 1 6 2 4 3 10 6 8 8 2 4 7 6 3 7 4 3 0 6 1 4-1 6-2 4-2 2-1 4-3 4-1 0-5 5 0 1-4 4-3 6-3 4 0 6-1 4 0 16-5 10-4 4-2 6-3 4-3 6-7 10-5 4-5 6-5 5-4 5-6 5-4 6-6 3-4 4-6 1-20 0 0 1-4 4-10 5-6 5-2 6-5 4 3 1 6 5 4 0 6 4 4 2 3 4 1 7 2-3 7-4 1-2 6-2 4 0 6 1 4 3 9 0 7-4 10 0 14 3 1 1 5 0 4 1 10 5 6 1 4 0 6-2 10 3 4 3 10 4 6 1 7 4 7 1 8 3 6 6 2 0 4 4 6 2 10 0 6-2 8-4 6-2 4 2 6 2 2 2 2 7 2 3 0 6-2 2 0 2-2 6-2 3-2 1-4 4 0 2-4 4-1 0 0 26-1 4-8 9-3 1-3 4 0 2-4 4 0 1-6 1-4-1-6 0-4 2-10 2-9 5-4 6-5 4-3 6-5 7-1 3-3 3-6 1-4 2-6 0-7-6-2-6 0-10-1 0-3-14 0-6-1-3-6-4-4-3-10-6-5-4-1 0-4-4 0-1-9-9-1-2-4-4-5-4-1-2-4-4-6-4-2 0-4-2-4-1-2 3 1 4 0 6-1 4 0 6 2 7 2 3 8 3 14 3 4 4 5 4 1 5 4 5 0 16 2 5 4 7 3 2 2 10 0 6-1 4 0 10-1 6-5 4-2 3-6 2-10 0 0 1-10 3-4 0-3 1-3 3-1 3-3 4-1 0 0 6 1 0 3 4 1 5 1 1-3 10-2 4-1 0-2 6-3 3-5 2-1-1-4 0-4-1-6 0-4-1-20 0-6 1-4 0-14-3-2-1-4 0-6-1-7-8-1-6 3-10 1 0 1-4 3-4 6-4 3-8 2-4 2-10 3-6 0-5-8-9-2-3-6-5-4 0-6 3 0-1-4-4 0-2-6 0-4 5-2 1-3 6-1 0 0 6 10 2 4 2-4 3-4 2-16 3-50 0-4-1-3-3-3 0-4-3-6-3-4-4-6-2-7-8-6-10 0-4-1-6 0-4 2-10 7-11 1 0 2-9 5-16 3-4 6-10 4-4 0-2 4-4 3-6 7-4 1 0 5-4 7-2 7-4 2 0 4-4 5-2 5-3 5-1 5-4 12-6 2-2 2-4 4-4 2-6 2-3 2-1-2-3-4 1-6 0-4 1-26 0-4-1-5-4-5-2-3-2-4-6-9-2-4 2-3 0-7 4-6 1-4 3-6 2-9 0-5 0-6-2-7-8-7-6-10 0-6 2-4 2-4-2-2-2-2-4-1-4 0-6 4-10 2-4 3-3 1-3 3-4 1 0 3-10 0-6 2-1 0-3 6-10 4-4 0-2 4-4 1 0 4-6 1 0 1-4 4-6 5-3 4-1 6 0 10 2 4 3 6 3 1 2 3 1 6 4 10 2 10-2 10-5 4-6 6-5 5-5 9-4 0-1-4-5-6-5-4-1-4-4-6 0-6-1-4-3-6-1-4-2-6-4-2-3-1-6 0-24 1-6 4-10 1-4 3-4 0-6 1-6 3-7 4-3 2 0 4-2 6 1 4 2 10 2 10-2 6-3 10-2 4 1 6 0 7-1 7-4 6-1 10 2 2 3 6 4 6 7 4 3 2 3 4 1 2-4 5-4 9-13 0-3 4-6 4-4zM-13 -162l0 4 1 0 0-5zM-18 -152l0 7 4-7-4-2zM-48 -58l0 6 6 2 0-5-3-3-3-1zM-205 -28l-2 6 5 6 4 0 2-6-1-6-5 0zM-65 22l3 2 2-2-2 0zM2 62l-5 6 1 3 10-2 2-1-2-6 0-4-6 4zM-8 72l0 1 4-1-4 0zM16 72l2 2 4-2-4 0zM22 78l6 1 0-2-6-4zM-138 142l-2 6 2 6 6 2 5-4 0-4-3-6-8 0zM188 -105l4-2 6 1 5 4 5 1 4 3 0 1 6 0 4 2 3 3 6 10 1 6 4 4 2 8 3 6 0 6-3 6-3 4-7 4-6 0-4 4-6 4-5 8-2 4-3 3 0 3-4 4-1 0-9 7-6 3-2 0-2 3-6 2 0 1-4 3-7 1-3 3-10 0-6-3-7 0-3 1-10 7-4 1-6-1-4-2 0-1-6 0-4-1-4-4-2-4-2-6 0-4-1-6 0-4-1-6 0-4-1 0-3-6-1-4 0-6 2-4 7-8 6-3 4-4 7-5 5-6 5-4 5-6 5-4 5-6 8-4 2 0 4-3 10-2 10 0 0-1 4-2 10-2 3 0zM52 -21l6-1 4 0 6 1 3 3 1 6 0 4-1 6-3 3-6 1-4 0-6-1-3-3-1-6 0-4 1-6z"/>
<path fill="#14efd4" d="M22 -225l6 0 4 5 6 3 4 0 6-3 4-5 6-2 10 2 4 4 6 3 8 6 2 0 10 6 4 4 6 5 4 6 4 3 4 6 2 4 0 2 2 4 0 4-1 6-5 10-4 4-5 6-1 2-4 2-5 10 0 6-1 4 0 13-4 13-2 1-7 13-4 6-3 6-3 4-5 4-2 4-7 6-5 6-5 4-5 6-4 3-4 2-10 3-6-1-4 0-4-3-2 0-4 7-7 3-9 8-4 6-6 5 0 2 6 2 4 4 6 1 3 2 1 2 6 3 3 5 0 6 1 2 6-6 4-5 5-1 1-1 4 0 2 1 4 0 4 1 10 0 7-1 3-1 6 1 4 0 6 1 4 0 6 1 4 2 2 0 8 4 3 2 10 0 3-2 5 2 5 1 5 3 15 5 0 1 10 2 4 2 2 0 4 2 5 4 7 4 2 2 9 4 12 0 5-3 4-3 6-2 4 0 6 5 2 3 1 4 0 6-1 4-2 4-6 6-5 6-2 4-1 6 0 4 1 6 0 4-1 6-2 4-4 4-6 4-2 2-3 6-5 2-4 0-6 1-4 0-6 2-4 2-6 1-4 4-3 2-4 6-5 4-3 6-3 4-2 4-6 3-4 1-6 0-6-8-2-10 0-4-1-6 0-4-1-6-4-7-6-4-7-3-8-6-5-2-6-8-4-4-4-6-6-5-4-5-10-8-10-3-10-7-2-2-8-2-4-2-2-2-2-4-2-8-5 4-1 0-7 10-5 4 2 2 6 0 4-1 10 0 5 5 5 3 6 3 4 6 2 2 0 10-1 6 1 4 3 6 1 0 4 4 2 0 4 2 4 0 6 1 10 8 4 9 0 4 1 2 0 4-1 7 5 9 1 0 3 4 3 6 1 4-1 6 0 14-2 4 0 2-6 4-4 2-10 2-4 0-6 1-4 2-6 2-4 7-1 0-2 4 0 6 1 4 2 4 0 7-4 10-2 2-1 3-3 2-6 0-8-2-2-1-4 0-6-1-4 0-6 1-14 0-6-1-4-2-6-1-4 0-2-1-4 0-3-4-1-6 0-4 2-6 3-4 5-4 4-6 1 0 3-16 3-4 1-6 0-4-2-6-6-5-4-5-6-6-3-4-1-3-2-1-3-6-2 0-3 4-6 4-2 2-2 4-6 6-4 6-6 4-4 4-6 4-4 2-16 0-4-1-6 1-4 0 0 1-6 0-4-2-6-1-4-4-6-2-1-2-7-4-9-10-2-6-2-4 0-10 1-6 2-4 4-5 3-5 1-5 2-5 0-6 1-4 3-4 0-2 4-8 5-6 5-9 2-1 4-5 0-1 4-3 6-2 4-2 6-2 4-3 10-5 6-2 0-1 4-3 6-1 4-3 6-2 6-5 4-5 5-11 5-5 10-7 1-2-1-2-6 1-4 3-9 2-1 1-6 1-10 0-4 1-16 0-4-3-6-1-4-5-4-4-6-4 0-1-6 0 0 1-4 2-9 2-1 2-10 2-2 2-4 2-4 1-6 0-9-3-5-6-5-4-1-2-6-4-14 0-4-1-3-3-2-6 2-10 4-4 3-5 2-1 4-4 2-10 0-6 1-5 7-10 2-5 8-7 4-6 2-1 4-4 4-2 11 0 9 3 3 3 3 1 10 6 4 3 12 0 4-2 4-1 5-3 5-4 1 0 4-6 1 0 4-4 2 0 4-2 7 6 1 6 0 10 2 4 4-2 10-2 6 0 0-2-2-4-4-3-3-7-4-4-2-4-6-7-5-3-1-2-9-6-4-4-10-2-6-2-4-2-6-1-4-4-4-3-1-6 0-14-1-9 1-1 0-6 2-4 2-7 2-3 3-16 6-7 4-1 6 0 10 2 2 2 8 0 4-3 6-2 4-2 16 0 10-2 3-1 1-2 10 0 6 3 4 3 0 1 5 5 1 0 4 4 0 1 6 7 4 0 6-7 0-1 4-4 0-2 4-4 5-4 3-6 4-4zM-89 -168l-2 6 3 3 6-2 1-1-1-6-6-1zM-14 -162l-4 4-2 10 1 6 0 10 1 5 3-5 0-6 1-4 5-10 1-5 1-1 0-4-5-5zM1 -88l1 3 3-3-3-3zM5 -82l3 1 1-1-1-3zM-50 -58l1 6 1 2 6 3 2-5-2-7-6-3zM-210 -28l2 10 1 0 5 4 4 0 4-4 2-5-3-5-3-2-4-1-6 1zM-140 142l-3 6 1 4 4 6 6 1 5-3 2-4 0-4-2-6-5-2-6 1zM25 188l3 2 1-2-1-2zM192 -104l6 1 4 3 6 3 10 2 4 4 4 3 2 4 0 2 3 4 1 6 3 4 1 6 2 4 1 6-3 4-4 4-1 2-3 2-6 1-4 3-6 3 0 1-4 4-1 0-2 6-3 4-4 7-5 4-8 5-9 4-8 7-10 3-6 0-4-1-6 0-4-1-6 0-4 2-2 0-4 3-4 2-16-3-4-2-3-4-2-10 0-6-5-18-2-2-1-4 0-6 4-4 4-6 7-4 2-3 4-3 2 0 4-6 5-4 1 0 4-4 0-1 5-5 1 0 4-4 0-1 6-3 1-2 3-2 6-2 2 0 2-2 6-1 4 0 14-3 2 0 4-2 6-1 2-1zM52 -18l6-3 4 0 6 3 3 6 0 4-3 6-6 3-4 0-6-3-3-6 0-4 3-6z"/>
<path fill="#13ee9c" d="M58 -224l4 0 4 2 2 0 4 3 3 1 7 6 6 2 4 2 0 1 6 3 4 4 6 5 1 3 5 4 4 5 2 5 2 10-1 6-3 7-2 3-10 10-6 4-2 5 0 2-2 3 0 20-2 10-2 4 0 2-7 10-3 5-4 9-1 0-4 6-1 0-4 6-4 4-5 4-1 2-4 4-5 4-1 2-4 4-9 4-3 2-10 0-10-4-2 2-2 4-2 2-8 4 0 1-6 4-4 7-4 4-5 4 3 3 6 2 0 1 4 2 6 2 8 6 3 4 1 6 2 5 6-6 3-5 11-3 10 2 6 0 14-3 6 1 4 0 17 3 3 2 6 2 4 2 10 3 6-1 4 0 6 2 4 2 10 3 1 1 5 1 4 2 6 1 4 2 6 2 17 12 7 2 6 1 10-2 4-4 5-3 1 1 4 0 5 5 1 0 1 4 0 6-5 10-5 4-4 6-3 5 0 12 1 3 0 4-1 6-4 4 0 1-6 2-7 7-5 6-8 1-4 0-9 3-1 1-6 1-4 2-10 12-6 6-4 8-1 0-5 4-4 1-6-1-5-8-1-6 0-4-1-6 0-4-1-6-2-4-4-6-9-4-7-4-10-7-4-5-6-6-4-6-6-5-5-7-5-5 0-1-10-2-5-2-5-3-4-3-6-2-4-2-2 0-4-4-2-6-1-6-1-2-6 5-6 7-3 6-1 0-4 5 4 2 16 0 4 1 6 4 4 4 6 3 3 5 1 6-1 4 0 6 1 5 3 5 6 4 1 2 6 2 4 0 6 1 7 5 3 4 0 2 2 4 0 20 4 6 5 4 3 10 0 20-4 7-10 5-6 0-4 1-6 0-6 3-4 1-3 3-5 10-2 6 3 10 0 4-1 6-6 8-6 2-4-2-6-1-4 0-6-1-10 0-4 1-10 0-6-1-4-3-6-1-4 0-6-1-1-1-1-6 0-4 2-6 6-6 6-8 2-6 0-4 5-10 1-6 0-4-2-6-8-7-6-7-4-4 0-2-3-4-1-5 0-7-3 2-3 0-10 7-1 3-3 4-1 0-3 6-2 1-4 6-3 3-3 1-4 3-2 0-7 6-7 1-20 0-4 1-6 0-9-2-5-4-6-3-4-3-2 0-4-4-5-6-3-10-1-6 0-4 2-6 3-4 4-8 2-2 2-10 0-6 2-4 2-6 2-5 3-5 4-4 2-6 7-7 2-3 10-4 2-2 6-1 4-4 8-3 2-2 6-2 4-3 10-3 0-1 6-1 4-2 5-6 5-11 4-4 2-3 3-2 1-2 6-2 0-2 4-4-4-4-6 1-4 3-10 3-6 1-4-1-6 0-10 2-10 0 0-1-10-3-5-5-1-2-6-4-2-3-6 0-4 2 0 1-6 2-4 2-3 0-3 2-4 1-6 3-10 2-6-2-4-3-4-5-3-2-7-8-6-1-4 1-9-2-3-6 0-4 2-6 4-6 6-1 0 3 4 7 6 4 4 0 2-1 4-5 1-5-2-6-5-3-3-1-1-2-6-5 0-10 2-3 2-6 7-10 5-4 4-6 6-5 4-2 6-1 10 2 12 6 2 2 7 3 3 3 10 0 9-2 1-1 6-2 10-8 4-5 6 0 3 6 0 14 1 6 6 2 4-4 7-4 10 0 3 2 3-2-3-6-1-4-5-4-4-4-4-6 0-1-10-11-4-4-6-4 0-1-6-3-1-2-13-4-16-5 0-1-4-4-1 0-2-6 0-24 2-10 0-2 4-8 1-9 1-1 2-6 3-4 4-2 10 0 6 3 4 1 6 0 4-3 6-2 4-2 16 0 0-1 14-3 6-1 4 0 8 4 5 6 5 4 4 6 4 8 4-1 1-3 9-13 2-1 8-8 6-5 4-5 6 0 4 4 6 2 4-1 6-3 4-4 2 0zM-8 -172l-4 1-2 3-2 6-3 4-2 6 0 4-1 6 3 14 1 3 4-3 3-10 3-7 5-8 1 0 5-5-1 0-2-4-5-6-3-5zM-92 -168l-2 6 6 5 6-2 3-3 0-6-3-3-6 0zM-63 -128l5 2 2-2-2-3-4 2zM-3 -92l1 0 4 9 6 4 4 2-1-5-4-6-5-5-4-2zM-55 -62l3 4 1 6 3 4 2 0 4 2 2-2 1-4-1-6-2-3-3-1-3-3-4-1zM-21 78l3 2 3-2-3-3zM115 78l-1 4 4 3 3-3-3-6zM-25 82l3 2 1-2-1-2zM-142 142l0 2-3 4 1 4 4 6 2 2 6 0 5-2 3-6 1-4-2-6-3-2-4-1-6 0zM22 188l0 1 6 4 4-5 0-1-4-4-6 4zM182 -98l10-3 6 0 4 3 2 0 4 3 10 2 0 1 6 4 2 6 2 1 4 11 2 2 3 16-5 7-4 3-6 2-5 2-5 3-6 7-6 10-2 4-6 5-4 3-7 4-3 1-13 9-7 2-10 0-10-2-6 0-10 3-4 2-10 0-6-2-5-3-3-16 0-4-2-4-1-6-4-10 1-6 4-6 4-4 6-4 1 0 5-4 4-5 2-1 4-4 1-2 6-4 7-8 4-2 6-6 14-4 6-2 6 0 10-2 3-2zM191 -82l1 5 6 0 0-7-6 0zM58 -19l4 0 4 1 2 2 1 4 0 4-1 3-3 3-3 1-4 0-3-1-3-3-1-3 0-4 3-6z"/>
<path fill="#11ec63" d="M52 -219l6-2 4 0 8 3 7 6 11 4 4 3 6 2 0 1 4 4 1 0 4 6 1 0 7 10 3 4 2 10-2 11-6 6-4 3 0 1-9 5-5 4-1 5 0 5 1 6 0 14-2 10-4 9-2 1-4 7-4 9-6 8-4 6-1 0-5 5 0 1-4 4 0 1-5 5-1 0-4 4 0 1-6 4 0 1-10 4-5 1-5-1-4-2-6-2-4 4-1 0-5 5 0 1-8 4-5 6-1 3-2 1-4 5 0 1-4 4 0 1 4 4 6 2 4 3 3 0 9 6 4 5 0 5 4 9 8-9 2-3 4-3 6-1 6 1 10 0 10-2 10 0 10 2 4 0 0 1 6 1 4 2 6 1 0 1 4 2 6 2 4 1 6 0 10 2 4 2 6 1 4 2 10 2 0 1 6 2 4 2 6 1 4 4 2 0 8 7 10 3 0 1 6 1 4 0 5-2 5-3 6-2 4 0 4 5 0 6-4 6-2 4-4 4-4 5-2 5-1 6 1 4 0 10-2 7-7 3-3 2-10 10-6 2-4 2-16 3-4 0-2 1-3 6-1 0-3 4-1 3-6 5-5 8-5 4-4 1-1-1-5-1-4-13-1-6 0-4-1-5 0-5-3-6-5-3-5-1-5-4-6-2-10-7-6-7-4-4-1-2-4-4-4-6-1 0-2-4-2-6-6-5-10 0-4-2-6-2 0-1-4-2-6-2-2 0-8-7-2-9-2-4-7 4-5 6-4 7-1 3-3 3-10 5-6 6 0 3 6 1 9-9 5-1 10 0 10 2 6 5 4 4 6 4 1 7 0 10 3 9 6 5 4 4 6 2 4 0 6 2 4 2 3 6 3 4 0 11-1 5 0 4 3 6 8 7 2 7 0 16-2 8-1 2-9 4-6 1-10 0-10 3-5 6-3 6-3 4-2 6 0 4 2 6 0 4-1 6-2 4-6 2-4-1-6 0-4-1-18 0-2 1-6 0-10-3-5-2-5-1-4 0-5-5 0-4 2-6 4-4 7-10 1-6 1-4 3-6 1-4 1 0 3-6 1-4-4-6-1 0-5-4-5-6-4-4-1 0-5-9-2-7 1-4-1-6-2-1-6 3-4 4-6 4-1 0-7 10-2 4 0 2-4 4-1 0-7 6-8 4-4 2-6 2-14 0-6 1-4 1-10 0 0-1-6-2-12-7-7-6-1 0-3-4-3-10 0-6 3-10 3-4 1 0 2-6 2-4 0-6 3-14 2-7 5-9 1 0 4-9 6-7 4-4 6-2 4-2 2 0 4-2 6-4 4-1 4-3 2 0 4-2 6-4 4-1 4-2 8-1 2-1 5-5 3-4 2-6 6-8 4-3 8-3 2-6 2-4 0-6-4 0-2 1-6 1-9 4-5 1-16 0-10 2-10 0-4-2-6-2-4-5-6-5-4-4-6 0-4 3-10 4-6 2-10 3-4 3-8 0-8-5-4-5-1 0-3-6-4-4-1-6 3 0 6-5 2-5 0-4-2-7-6-5-5-3-2-5 0-6 3-10 4-7 9-7 1-3 6-5 5-2 5-1 4 0 6 1 9 4 8 6 3 1 4 3 10 0 16-3 4-1 0-1 10-5 1 0 2 6 3 6 0 4 4 4 0 1 6 2 4-4 6-4 4-2 6 1 4 2 3 4 2 6 1 0 4 6 6 2 4-4 0-10-4-6-5-4-1 0-4-4-3-6-3-4-6-6-4-2-5-8-5-4-5-6-6-4-3-3-6-3-4-3-6-1-4-2-10-3-6-3-2-2-2-6 0-16-1-4 0-4 2-10 3-10 1 0 1-6 2-4 1-6 1 0 4-4 6 0 14 4 6 0 4-3 6-2 4-2 6 0 4 1 6-1 6-3 4 0 4-2 6 0 10 2 5 6 5 4 4 6 2 4 3 10 0 6-2 4-2 6-1 0-2 4-3 10 0 10 1 2 0 4 4 8 5 2 1 0 0-6 4-9 6-6 8-10 2-2 1-7-1-2-6-3 0-1-4-2-2-2-2-10 1-6 3-5 4-5 10-8 6-3 4-3 2 0 4-2 7 2 7-1 6-2 3-3zM-89 -172l-3 1-3 3-1 6 4 5 4 2 6-1 4-5 2-1 2-6-1-4-7-2-6 0zM-64 -132l-1 4 3 3 4 1 4-4-2-4-2-2-4 0zM-4 -98l0 6 5 10 7 5 4 4 3-5-3-4-2-6-2-3-2-1-6-6-2-1zM112 78l-1 4 1 4 4 2 3 0 5-6-2-4-4-3-6 2zM-135 138l-3 0-6 4-3 6 1 4 3 6 1 0 4 4 6 0 7-4 3-6 0-7-1-3-5-4-4-1zM23 182l-3 6 2 5 6 2 4-1 2-2 2-4-3-6-5-1zM188 -98l4-1 7 1 3 3 16 5 3 2 3 6 4 4 4 10 3 10 0 6-3 5-6 5-4 1-7 3-3 2-8 8-3 6-3 4 0 2-4 4-6 4-10 5-6 3-4 4-7 4-16 0-7-4-6 0-10 3-4 2-6 1-4 0-7-2-4-6-1-4 0-6-2-10-2-4-1-6-2-4 1-6 2-4 1 0 5-5 0-1 8-4 6-7 6-5 4-4 6-5 5-5 6-4 7-6 2 0 4-2 10-2 16-3 9-3zM189 -82l0 4 3 3 6 0 2-3 1-4-4-5-4 0zM-218 -19l6 0 0 1 4 6 0 1 5 3-5 3-4 1-6-1-2-3-1-4 2-6zM58 -18l5 0 5 5 0 6-5 5-6 0-5-5 0-6 5-5z"/>
<path fill="#10eb2b" d="M58 -218l10 3 4 3 9 4 1 1 6 2 6 3 4 1 7 9 4 4 7 10 1 6 1 0 0 9-6 9-4 4-6 2-7 0-3 1-5 5-2 4 2 6 1 0 4 14 0 10-1 6-2 4-1 4-6 7-4 9 0 3-6 8-4 6-6 6-4 6-2 1-4 4-4 5-3 1-7 6-10 3-6-1-4-2-2 0-5-5-2-11-2 0-1 6-2 4 1 6-1 4-7 6-6 4-7 10-5 6-1 2-6 2 0 1 6 3 4 3 6 3 2 0 2 2 6 2 7 6 2 6 0 10-1 4-3 6-7 4-3 6-1 0-1 4-3 6-6 4-4 2-5 4-1 0-2 4 0 6 2 2 6-1 4-3 3-4 7-4 10 0 6 1 5 3 5 4 1 2 6 4 2 6 0 4-1 6 4 10 10 10 8 3 5 1 5 2 4 6 2 2 0 6-2 6 0 9 2 5 8 7 6 9 0 14-2 4-4 5 0 1-4 2-6 1-10 0-10-2-4 5-4 8-3 6-3 4 0 2-2 4-1 4 1 6 0 4-2 5-2 2-4 1-6-1-24 0-6 1-4-2-2 0-8-4-6-1-5-5 2-6 3-4 1 0 3-6 2-2 0-2 4-14 1-2 5-5 3-5 1-4-4-7-6-3-7-6-5-4-3-6-3-4-1-6 0-4 1-6 0-4-2-4-4 2-2 2-7 4-2 2-5 3 0 1-6 4-8 16 0 1-13 9-7 3-6 1-16 0-4 1-4 2-10 0-6-2 0-1-10-5-5-5-5-4-3-10 1-6 2-4 1 0 4-6 1 0 2-10 0-10 2-10 3-10 1-5 2-1 1-4 3-7 2-3 8-8 4-2 2 0 4-2 7-2 9-5 10-5 12-6 8-1 10-2 1-1 3-9 4-7 2-2 4-2 6 0 4 1 5-1 1-1 0-9-1 0-1-6 2-8 0-2-6-2-10 2-4 2-16 3-4-1-6 0-7 2-7 1-6 0-10-5-4-5-2-1-3-4-5-3-6 0-4 3-6 2-4 2-16 5-4 2-6 1-10-6-2-2-5-10 1-6 2-1 4-13-2-6-2-4-1 0-5-4-4-6 0-5 0-5 2-6 2-4 1 0 4-6 1 0 4-4 2 0 6-6 2-1 10-2 6 1 5 2 9 6 8 4 2 2 6 2 4 0 16-3 4-1 7 0 5 6 4 4 5 6 6 0 7-6 6-3 6 0 4 3 5 10 5 4 6 1 0 1 5 0 1-6 0-10-5-10-7-6-5-8-5-5 0-1-7-4-7-8-6-5-2-3-8-5-5-4 0-1-9-4-6-2-4-2-6-1-9-5-2-6 0-4 1-6 0-4-2-6 0-4 2-11 6-17 4-8 6-1 4 0 5 1 5 2 6 0 10-4 4-2 13 0 7-3 6-1 4-2 9 0 1 1 6 2 4 5 6 5 1 3 3 4 3 16-4 10-3 4 0 3-2 3-1 4 0 10 2 6 5 10 4 4 2 3 2-3 0-4 1-6 7-9 0-1 4-4 1 0 5-5 4-11 1-4-3-6-8-4-1 0-4-6 0-4 1-6 4-7 6-5 4-2 0-1 10-2 6-2 0-1 19-4 5-4 5-2zM-86 -178l-6 4-6 6-1 6 2 4 5 4 4 1 6 0 6-5 4-4 4-6 3-4-1-6-6-2-6 0-4 1zM-68 -132l1 4 6 6 4 0 5-5-2-5-4-4-4 0-6 3zM-8 -108l0 6 3 4 0 6 3 6 1 4 3 4 1 0 5 4 1 2 3 2 5-2 0-5-2-5-7-14-6-3-4-3-5 0 0-6-1 0zM-142 138l-5 4-3 6 2 7 2 3 6 4 2 2 6 0 5-2 5-5 2-5 0-4-1-6-7-5-4-2-6 1zM20 182l-2 6 4 7 6 3 4 1 6-2 2-9-2-6-5-3-5-1-6 2zM178 -93l4-1 6 0 7 2-3 0-3 4-2 6 0 4 5 6 6-1 4-5 1-4-1-7 6-2 10 3 8 10 2 4 0 2 3 4 2 10 0 6-5 6-6 3 0 1-4 1-6 3-10 10-4 8-6 6-1 2-3 2-6 2-4 2-5 4-7 4-4 3-4 1-6 0-4-1-6-4-3-3-1-3-10 5-7 2-3 2-10 2-6-2-3-6-2-6 0-4-2-10-3-8 0-5 1-3 5-6 4-4 6-4 6-6 5-4 3-4 6-4 4-2 0-1 6-3 4-5 10-7 16-3 6-1zM58 -15l4 0 3 3 0 4-3 3-4 0-2-3-1-4zM58 21l10 0 10 2 4 2 6 1 4 2 6 2 5 2 9 5 1 1 5 1 10 0 14 3 2 0 8 4 6 2 4 2 6 1 9 7 5 3 10 5 5 1 1 1 10 0 4-2 6-1 2 3-2 5-3 5-3 2-3 8-2 5 0 9 1 1 0 6-1 3-4 6-5 2-6 4-4 6-5 2 0 1-5 2-10 2-6 0-4-2-6-2-3 5 1 4-1 6-3 4-4 4-4 6-1 0-5 4-4 1-6-4-3-15 0-10 1-6-2-2-6-3-10-3-12-6-7-6-1 0-4-4 0-1-5-5-1 0-3-4-1-3-3-3-2-4-1-6-3-4-1-3-6-3-6 0-4 1-10-3-10-4-4-2-5-6-1-2 0-10 1-4 2-4 7-10 6-3 4-1 16 0 5-2zM110 78l-1 4 1 6 2 3 6 1 7-4 2-6-2-4-3-3-4-2-6 1z"/>
<path fill="#2beb10" d="M52 -213l6-1 5 0 2 2 17 8 6 1 0 1 10 3 5 7 4 4 5 9 2 1 2 10-1 6-3 4-4 4-4 2-6 0-10 2-4 2-6 5-6 0 0 1-4 4 4 7 9 3 6 6 1 0 1 4 0 16-7 9 0 1-4 4-5 16-3 4-3 6-5 5-4 6-6 5-4 5-10 7-10 3-7-1-6-6-2-4 2-10 0-6 3-4 1-6 0-10-1-4-1 0-3-10-3-6-3-3-6-2-5-5-3-4-1-6 0-4 1-6 8-10 6-4 4-6 2-4 2-10 0-6-4-3-10-5-2-6 1-6 8-10 18-4 5-3 6-2 4-2 10-3zM-52 -204l4-2 6 0 5 1 5 3 4 4 0 1 6 7 3 8 2 10-3 10-3 4-2 6-2 4 0 6 2 10 3 5 2 5 5 4 2 6 1 0 3 4 0 6 2 4 2 10 3 8 0 2 6 6 4 2 2 2 3 6-1 0-1 4-3 6-1 0-2 4-2 6-2 4 1 6-4 6-6 4-4 4 0 1-7 9-4 6-5 3-3 1 3 4 6 3 5 3 14 6 1 0 4 4 1 0 3 10-2 10-6 6-6 4-1 0-3 11-4 5-6 2-6 3-3 5-1 4 0 4 0 2 4 4 6 1 7-5 4-6 9-2 10 2 4 4 9 6 3 6 0 4-2 6 1 4 3 6 2 0 3 4 1 3 6 6 2 1 2 3 6 2 7 5 1 6-1 4 3 14 1 6 7 6 2 0 5 3 2 7 0 10-3 5-4 4-6 2-4 0-6-1-5-6-2-4-3-16-4-4-6-2-4 0-4 2-2 0-4 4-2 6 2 5 4 5 9 4 3 6 0 4-1 6-1 0-1 4-3 7-3 3-3 6-1 4 0 6-1 4-2 3-26 0-4 1-6 0-8-4-2 0-4-3-5-1 0-6 5-6 1-4 2-4 1-7 5-9 5-4 0-1 5-5 2-4-1-6-5-3-5-1 0-1-6-2-10-7-4-9-1-1-1-6 0-4 1-6 0-4-2-6-3-2-5 2-5 4-1 2-13 9-6 5-3 10-4 6-7 5-10 5-16 0-10 2-4 2-4 0-6 0-6-2-4-2 0-1-6-3-4-5-2-1-2-6 0-4 3-6 1 0 4-4 6-1 0 1 6 4 8 4 6 1 4-2 6-4 3-9 1-5-1-5-3-4-1 0-5-4-4-1-10 2-10 7-3-4-1-6 0-4 2-6 2-4 1-6 0-4 3-9 4-7 6-6 6-2 4-2 6-1 10-6 14-7 6-3 10-2 4 1 6 0 3-2 3-4 1-6 3-5 4-3 6 0 4 2 6 0 4-4 0-10-3-10 2-10 1-3 2-1-2-1-4 0-1 1-5 0-19 4-1 1-4 0-6 1-4-1-6 0-14 4-6 0-4-2-4-3-2 0-4-6-6-6-4-2-6 0-6 4-8 4-6 1 0 1-13 4-1 1-6 1-4-2-6-5-3-5-1-4 1-6 2-4 2-6 0-4-1-6-4-6-6-6-1-2-1-6 0-4 2-7 10-10 7-3 3-3 10-3 10 2 6 3 0 1 8 4 7 6 5 2 4 0 16-3 4-1 6 1 0 1 4 2 6 6 4 5 6 0 4-3 2 0 4-4 4-2 4 0 2 1 4 5 2 4 4 5 0 1 10 2 4 0 3-2 0-6 2-10-3-10-2-1-4-6-7-7-4-6-7-4-6-6-2 0-4-5-5-5-1 0-4-4-2 0-4-3-2-3-8-4-4-2-10-3-1-1-5-1-5-3-3-6 2-10-3-14 0-6 2-4 3-8 0-2 2-6 2-4 6-3 4 0 6 1 4 2 6 1 6-1 8-4 6 0 4-2 6-1 5-3zM-75 -188l-7 3-4 3-2 0-6 4-4 4 0 2-3 4-1 6 1 4 3 4 3 2 3 0 4 2 10-2 0-1 6-4 0-1 4-4 0-1 4-5 2-1 2-9-2-4 0-2-6-5-4-1zM-66 -138l-2 1-2 5 0 4 2 4 2 2 4 1 4 0 4-1 2-2 1-4 0-4-1-2-6-3 0-1-4 0zM-18 152l0 6 4 4 6 7 3-1 3-4 0-3-6-5-8-4-2 0zM162 -88l16-3 4 1 3 2-1 6 1 4 3 6 4 2 6-1 2-1 4-6 1-4 3-5 4 0 6 2 6 7 4 7 4 13-1 6-3 4-6 3-4 3-6 2-3 2-1 2-4 4-2 1-2 3-3 6-10 10-9 4-2 0-4 2-3 4-1 0-6 4-4 1-6 0-4-5-1 0-1-6-4-7-4 1-2 2-4 2-4 5-4 3-2 0-4 2-10 2-6-3-3-11-1-9-1-1-2-10 1-6 4-4 2-3 6-4 3-4 2-1 4-4 1 0 4-5 6-3 10-7 5-5 9-7 9-3zM62 22l16 3 4 2 6 1 4 2 7 2 3 3 6 3 4 3 6 3 4 0 6-2 4 1 6 0 4 2 10 4 10 5 6 1 4 3 8 4 2 2 7 4 9 3 5 1 5 4 0 4-1 2-3 16 0 10-2 5-6 5-4 2-2 2-2 4-6 3-4 3-10 2-6-2-4-2-6-2-4 0-10 2-6-3-14-3-6 0-10-3-7-3-8-6-6-4-5-6-5-4-3-7-2-3-1-6-5-10-2-2-6-2-10 2-4 0-6-2-4-2-6-2-6-6-2-6 2-10 2-4 4-6 6-4 4-2 10 0 16-3 3-1zM111 72l-4 6-1 4 1 6 5 10 6 1 4-3 7-8 1-6-2-5-5-5-5-1-6 1zM128 135l4-2 6 1 5 4 3 4-1 6-8 10-5 3-4 1-4-4-1-6-1 0 0-10 3-4z"/>
<path fill="#63ec11" d="M48 -209l4-2 6-1 4 1 5 3 2 0 3 2 6 2 2 2 8 1 4 2 4 1 9 10 3 6 3 4 3 10-1 6-1 0-4 6-6 1-10 0-10 4-4 2-6 1-4 2-6 2 0 7 3 5 7 7 6 2 4 2 3 3 2 6 0 4-2 6-10 10-5 4-3 6 1 1 0 4 1 4-1 6-3 5-3 2-5 8-5 4-5 6-10 6-9 3-6-2-5-7-1-6 2-6 0-4 2-4 2-11-4-19-2-6-8-7-6-3-4-4-1 0-1-6 0-4 1-6 5-7 10-7 3-6 3-10 2-4 0-6-2-3-10-7-3-4 0-6 3-5 4-3 6-1 4 0 1-1 5-1 10-6 4-1 3-2zM-48 -204l6 0 10 5 4 6 1 0 5 8 2 7 1 6-3 10-3 4-2 6-2 4 0 6 1 7 3 7 3 3 1 3 3 4 1 0 3 6 4 4 0 6 2 4 2 10-1 6-5 6-6 5-1 3 1 1 6 2 4 0 6-3 5 0 5 5-1 5-2 6-3 6-1 4-3 4 0 4-3 2-1 4-2 1-4 6-3 3-3 6-4 6-4 4-9 4-3 2-14 3-2 1-4 0-14 3-6 0-4-1-6 0-8 2-6 3-6 0-10-6-8-11-1-6 4-4 1-6-10-5-2 1-1 4 1 6 0 4-4 2-4 5-11 5-9 2-4 2-2 0-4 2-6 1-6-3-4-5-1-5 1-7 2-3 1-6 0-4-1-6-10-14-2-4 0-7 2-5 8-8 6-2 14-7 6 0 4 1 6 3 5 3 9 9 6 4 4 0 8-3 8-1 4-1 6 1 2 1 5 6 6 4 1 2 6 1 10-8 4-2 6 1 4 6 0 3 6 8 4-1 10 0 4-4 1-6 4-14 1-6-4-4-1 0-5-4-4-5-2-1-4-4 0-2-4-4-6-3-10-7-6-6-4-2-4-4-5-4-5-3-10-5-6-1 0-1-10-3-4-7 0-4 2-6 0-4-2-6-2-4 1-6 3-10 2-4 0-2 3-4 3-2 4-1 9 3 3 6-2 1-7 13-1 6 1 4 5 6 8 3 4 1 6 0 4-1 6-3 4-6 6-6 5-8 1-6-4-10-2-4 2-6 8-4zM-72 -138l-1 6 1 4 4 7 6 2 4 0 6-2 1-1 2-6 0-4-5-6-8-2-6-1zM178 -88l1 0 3 11 3 5 7 4 6-1 5-3 2-6 2-5 5-2 6 2 0 1 4 4 3 6 3 4 2 10-1 6-11 8-4 2-2 0-4 4-2 0-4 4-7 12-5 4-2 3-6 2-4 2-6 1-8 8-2 0-4 2-6-3-3-15-1-2-6-5-10 10-4 5-4 2-2 2-4 2-6 1-4 0-5-5-1 0 0-4-1-6 0-4-3-10 1-6 5-4 4-4 4-5 3-1 5-6 8-5 4-3 6-3 4-3 0-1 5-5 1 0 4-4 0-1 16-3 6-2zM-32 9l4 0 6 4 4 2 16 5 3 2 3 10-1 6-2 4-3 3-6 2 0 1-4 3-4 1-2 9-4-1-2-2-2-6-2 0-2-4-2-6-2-4-2-10-2-6 0-5 2-5zM48 27l4-2 6-1 10 0 12 4 2 1 6 1 4 2 2 0 4 2 5 4 6 4 3 4 6 3 4 0 5-1 5-2 6 0 4 2 6 2 3 2 1 3 4 3 6 1 6 0 7 3 9 6 8 4 6 3 3 3 2 4 0 6-2 10 0 4-1 6-2 4-1 0-5 5 0 1-4 4-1 0-8 6-7 1-4 0-5-1-5-2-10-2-10 0-6-2-4-2-20 0-6-2-4-3-6-2 0-1-8-4-12-12-4-8 0-5-2-5-1-6-7-6-6-1-10 2-4 0-6-1-7-4-3-1-3-3-2-6 3-10 2-4 0-2 4-4 6-3 6-1 6 0zM108 72l-3 6-1 4 1 6 0 10 3 5 4 2 6 0 5-3 5-6 4-8 1 0 1-6-2-4-5-6-9-4-6 1zM-58 50l6 0 10 2 7 0 3 2 3 4-2 4-3 10 0 10-1 6 1 4 2 2 10 2 4-1 6-6 0-1 4-4 6-1 10 2 2 3 8 5 2 5 0 4-3 6-5 4-4 4-4 1-4 5 2 3 6 2 5-5 5-3 4 1 4 2 2 2 2 8 0 6 8 4 1 0 8 10 2 6 2 4 0 6-1 4-2 4-10-2-10 0-6 2-4 4-3 2-1 6 1 4 4 6 7 4 2 2 2 4 0 10-2 4 0 2-2 4-4 4-4 9-1 1-2 6-3 2-10 2-20 0-10-5-4-5 2-4 2-7 2-3 1-6 3-6 4-5 6-4 4-5 2-4 0-10-1-5-5 0-6 2-10-2 0-1-4-3-3-1-3-4 0-2-2-4-1-6 2-10-3-11-6-5-4 3-6 2-6 7-4 3-3 1-1 2-6 3-3 5-1 5-6 10 0 1-14 7-6 0-4-1-6 0-10 3 0 1-10 2-8-2-6-4-7-6-2-6 2-4 7-3 14 4 6 1 6-2 4-3 3-7 3-10-2-6-4-6-5-4-5-1-6 0-5 1-5 2-2-2-1-4 3-10 1 0 0-6-1 0 0-8 3-6 2-6 5-4 10-3 6-1 1-2 19-9 0-1 4-2 6-2 4-2 6 0 8 2 7 0 4-6 1 0 0-4 2-6zM-24 142l-4 5-1 5 1 5 6 5 10 10 4 6 0 4 1-4 5-4 0-2 3-4 2-6 0-4-5-5-6-3-8-8-2-1-4 1zM128 141l4-2 6 0 3 3 0 6-3 5-6 3-4-1-2-3 0-4 1-6zM52 180l11 2 5 2 3 4 1 4 0 6-4 6-6 2-4 0-6-3-2-5-2-10 2-6z"/>
<path fill="#9cee13" d="M53 -208l5-1 4 1 0 1 6 2 6 3 4 1 4 2 9 1 7 4 4 6 1 0 3 6 3 4 3 10-2 6-2 2-6 2-6 0-8 2-6 1-5 3-15 3-3 1-2 6 5 10 6 8 4 4 6 2 4 4 1 2 0 4-3 6-13 10-5 2-9-2-5-2-10 0-5-4-5 0-6-1-5-3-5-4-1-2-9-4-3-6-1-4 2-6 2-4 1 0 7-6 5-4 4-10 1-6 2-4 1 0 2-6-3-5-5-5-5-4-1-6 1-2 6-3 4 0 6-2 2-3 12-6 6-2 3-2zM-52 -200l4-2 10 2 6 5 4 7 1 0 5 9 1 7-1 7-6 9-1 4-2 4 0 10 1 6 7 10 1 0 10 14 1 6 2 4 0 10-3 6-6 3-4 1-6 0-4-1-6-3-6-6-3-4-2-6-9-2-4-2-2 0-4-3-2-3-8-5-4-4-10-5 0-1-6-2-5-3-9-4-2 0-4-4-1-2 1-7 4-7 2-5 5 4 0 1 5 1 4 3 6 1 4 2 6 1 4 2 3 14 3 6 4 3 5 1 1 1 4 0 6-2 4-3 0-3 2-3-2-5-3-5-7-3-4-1 0-1-6-3-1-2 4-10 3-2 4-6 6-7 1-5-3-4-2-6-2-5 2-5zM-112 -178l2 6-1 4 0 6-1 4-6-2-1-2 0-6 1-4 1 0 4-6zM28 -91l4-1 6 1 9 9 1 0 4 4 1 0 5 5 0 1 4 4 0 6-7 10-5 4-2 3-10 7-2 0-4 2-4 0-6-3-2-3 0-10 3-16 1-4 0-10 1-6zM172 -83l6 1 1 4 3 7 6 4 4 1 6-1 7-5 3-6 4-4 6 2 6 8 4 9 0 8-2 3-6 4-2 2-6 2-10 7-4 6-3 3-3 6-4 4-6 3-10 2-4 1-6 5-4-1-2-4-2-6-2-1-4-9-6-6-1 2-5 4-2 6-4 4-2 3-6 3-4 3-6 0-5-3 0-10-2-6-2-4 1-6 8-10 6-4 4-4 10-5 6-3 4-3 0-1 6-6 4-5 10-3 8 0zM-168 -71l6-1 10 3 7 7 5 4 3 6 5 3 11-3 3-2 10-2 6 1 4 4 6 5 4 4 6 1 4-3 4-4 6-4 6 3 2 7-1 4 0 5 3 6 6-1 4-5 6-2 10 0 1-3 0-4 1-6 2-4 0-3 6-4 4 0 6 1 5 0 5 1 3 5-2 10-1 2-6 5-7 3 3 5-2 5-4 4-2 6-3 4-5 4-1 2-9 4-14 3-6 0-10 2-4 1-8 0-2-1-6-1-10 4-4 2-6 1 0-1-8-4-2-2-4-8 2-6 3-4 0-6-1 0-4-6-7-4-9-2-5 2-1 6 2 1 3 9-1 4-4 6-8 4-16 3-5 3-6 0-3-2-3-4-1-4 3-16 0-5-1-5-2-4-2-2-4-7-2-1-1-6 0-4 2-6 5-4 10-2 6-3 0-1zM-167 -28l5 3 2-3-2-1zM-32 15l4-1 7 4 9 1 10 3 3 6 1 4-1 6-3 4-2 0-8 4-6 0-4-1-6-3-3-4-1-5-2-5 0-10zM52 27l6-2 10 0 4 1 4 2 2 0 4 3 5 1 5 3 6 2 7 5 5 6 2 4 6 3 4-1 4-2 6-1 6 0 5 1 5 4 0 2 4 4 6 1 4 0 6-1 4 2 6 2 4 4 6 3 7 5 3 4 1 6-1 4 0 5-4 11-2 4-4 6-6 5-10 2-7-3-7 0-6-1-10 0-9-3-2 0-3-4-3-2 1-4 3-6 3-4 0-2 6-7 1-7 0-4-1-2-6-3 0-1-9-4-5-3-6 1-7 6-3 6 0 14-1 6-3 7-6 3 0-1-10-3-4-5-2-1-3-6-1 0-2-10 0-10-2-4-6-3-4-3-6-1-5 1-9 3-10-4-6-4-1-5 1-6 2-4 1-5 3-2 2-3 2-1 6-1 4 0 6-1 2-1zM-52 57l4 0 6 2 2 3 0 6 2 10 1 4 0 6 1 4 4 4 4 2 6 2 6-2 4-4 4-6 6-1 4 0 1 1 5 1 5 3 3 6 0 4-4 4-1 2-9 5-4 3-4 2-2 4 0 2 2 4 6 4 3 6 0 4-1 2-4 1-6-2 0-1-4-4 0-1-6-3-4 1-6 4-4 4-6 0-4-10-4-5 0-10 1-6 3-4 0-2-6-2-2-2-8 0-2 6 2 7 8 7 0 6-2 5-6 3 0 2-5 4-5 5 0 1-9 4-6 6-2 4-1 6-2 4-5 6-9 4-6 0-4-2-6-1-4 1-6 3-4 3-6 1-4-1-6-3 0-1-4-4 2-6 15 0 3 1 4 0 6-3 4-8 2-4 1-6 0-4-2-9-6-7-9-3-9-1-2-6 0-4-2-10 0-6 1-4 4-6 2-2 6-2 4-1 6 0 4-2 3-3 3-1 4-3 2 0 8-6 10-3 6 0 14 3 6-2 3-2 1-4 5-6zM18 147l4-2 10 2 6 3 2 2 3 5 2 5-1 6-6 3-6 0-5 1-5 2-5 4-4 4-1 7 1 3 4 6 1 0 5 4 4 6 0 10-1 4-3 6-1 0-5 5-5 6-1 3-3 5-6 2-10 0-7-1-3-1-6-5-2-4 4-14 0-2 5-6 4-4 6-4 5-10 2-10 0-6 2-8 3-6 2-6 2-4 1-6 6-5zM132 146l3 2-3 1-1-2zM-32 161l4 3 6 3 0 1 4 4 1 6-5 2-9-2-4-6-2-4 2-6zM58 189l4-1 6 2 0 9-6 4-4-1-4-4 0-6z"/>
<path fill="#d4ef14" d="M48 -204l4-2 6 0 4 2 5 1 5 3 6 2 14 3 6 3 3 4 3 6 4 6 1 4 0 4-1 5-1 1-9 2-6 0-10 2-4 2-6 1-4 2-10 2-6 2-1 1 1 6 4 4 3 6 3 5 10 13 3 2 2 4-3 6-2 0-4 4-6 2-10-4-4-2-6-1-9-4-11 0-4-2-8-3-7-6-1 0-1-5 1-5 5-4 0-1 8-5 4-4 3-14 6-7 2-5 0-4-2-4-6-6 0-5 7-5 6-6 3-1 4-3 2 0zM61 -178l0 6 1 1 6 1 2-2-1-6-1-1-6 0zM-48 -199l6 0 3 1 1 2 6 6 4 8 3 4 2 6-3 10-3 4-3 6 0 2-2 2-2 10 0 6 4 2 4 6 2 2 4 2 4 6 5 6 1 2 0 4 2 10-2 5-6 4-4 1-6 0-11-6-3-4-1-6 0-4-5-5-10 2-4-1-4-2-2-2-4-2 0-2-10-6-10-5-6-2 0-1-4-2-7-2-6-6 1-4 5-6 4 0 7 3 6 1 10 5 1 1 1 6 2 4 0 2 2 4 4 4 4 3 6 1 4 0 6-1 4-4 4-3 1-6 0-4-5-5 0-1-4-3-5-1-7-6 0-4 3-6 3-4 1 0 5-5 0-1 4-4 1 0 1-6-2-1-1-3-4-6-1-4 3-6zM32 -82l6 0 10 5 4 5 5 4 2 6-2 4-4 6-1 0-4 4 0 1-7 5-9 3-4-1-3-2-1-6 0-4 1-6 0-4 3-16zM158 -78l8 0 6 2 5 4 1 0 4 6 10 3 6-1 5-4 4-4 3-6 2-2 6 2 7 10 1 6 0 4-3 6-1 0-4 4-2 0-8 4-2 2-4 2-10 13-4 6-6 3-4 0-1 1-5 0 0-1-10 0-7-4-2-4-2-2-2-4-1-5-6-5-4 4-1 0-4 11-1 0-4 7-6 2-4-2-6-7-3-5-1-6 4-6 4-4 6-4 2 0 8-4 6-1 0-1 5-4 9-13 5-2zM-162 -68l4-1 6 3 8 8 3 6 3 4 0 2 6 3 4-2 6-2 4-2 10-3 6 1 4 3 0 1 5 5 1 0 4 4 6 1 4-1 5-4 1-2 4-4 1 0 2 6-2 4 0 6 7 10 2 2 6-1 5-7 5-3 4-1 6 0 4 1 6 0 4 3 0 6-3 4-2 6-5 6-4 4-16 3-4 0-8 1-2 1-10 2-6-1-4 0-6-1-10 3-1 2-9 2-5-2-4-6 0-4 5-9 0-5-4-6-6-6-6-4-1 0-3-4-6 1-5 3-5 2-4 0-10-5-6 1-4 5-2 1 1 6 5 3 6 0 10-3 7 4 2 6-1 4-4 5 0 1-4 2-6 1-10 0-4 2-6 1-3-2-2-4 2-10 2-6 0-4-1-6-4-4-4-5-3-5-1-5 0-5 4-5 6 1 4 2 6 1 4-5 1-4 3-6zM-22 -52l14 0 5 4-1 6-4 4-4 2-6 1-4 0-6-1 0-11 1-1zM-28 21l10 0 6 1 4 0 0 1 6 2 2 7-2 7-10 3-6 0-4-1-6-4-2-5 0-4 1-6zM58 27l4-1 6 0 4 2 6 2 4 2 0 1 6 3 10 4 3 2 1 2 4 4 2 4 1 6 0 4-9 10-1 6 0 14-2 6-5 4-5 1 0-1-5-2-3-2-4-6-2-4 0-10 5-10 0-1-6-2-5-3-5-1-4-2-6-1-14 4-6-2-4-2-2-6 2-8 0-2 4-7 6-2 0-1 4 0 6-1 7-3zM133 57l5 0 0 1 4 4-1 6-7 0-11-6 5-4zM158 67l10-2 4 1 6 3 5 3 5 4 4 6 1 0 1 6-4 10-2 4-1 6-5 9-4 2-6-1-4-2-6 0-5 2-9 0 0-1-6 0-4-2-4-3-1-4 1-6 3-4 0-2 3-4 2-4 1 0 2-10 0-6 3-3 6-1zM-92 72l4-1 9 1 1 1 6 2 4 0 6-1 4-2 6-2 5 2 3 6 2 1 3 9 0 4-2 6-1 1-6 0-4-1-6 0-4 4-1 0-1 6 0 20-1 4 0 6-3 4-4 4-10 5-4 6-4 11-2 4-1 0-8 6-4 0-3-1-4-4-2-1-2-4 3-16 0-4-1-6-6-10-2-2-10-5-6-2-2-5-2-10-1 0 0-6 1-4 4-6 6-2 5 2 3 6 2 6 3 4 3 0 4-4 0-3-2-3-2-6 1-4 3-2 2-4 8-4 9-6zM-89 128l2 0-1-5zM-2 91l4 0 6 2 3 5-1 4-5 6-7 3-5 1-5 3-7 13-7 4-6 5-6-1-1-4-2-4-1-6 0-4 1-6 2-4 1-6 6-3 7 3 3 2 4 0 6-5 0-1 4-5 2-1zM22 150l6 0 5 2 5 4 0 2 2 4-3 6-15 3-9 7-1 0-4 4-2-4 1-6 1 0 3-10 7-9 0-1zM-28 171l2 1-3 0zM-138 177l2 1-2 4-1-4zM8 188l1 4 5 6 5 4 5 6 1 4-2 10-5 7-7 3-7 10-2 2-4 1-6 0-4-1-6-4-1-2 0-6 1-2 6-3 4-1 4-4 0-5 2-6 0-3 4-14 2-2z"/>
<path fill="#efd414" d="M52 -203l6 0 4 2 6 1 5 2 5 3 4 1 6 0 5 2 6 4 3 7 2 3 2 6 0 4-4 4-4 2-6 0-4 1-6 0-4 1-6 0-4 2 0 1-16 3-10 0-1 2 1 4 1 0 4 6 1 0 4 4 0 1 4 5 2 1 2 3 2 6 2 4 3 10-5 4-10-3-4 0-1-1-5 0-4-3-5-1-5-2-6-1-4 0-6-1-7-6 1-6 6-4 0-1 6-2 2-3 2-5 1-5 5-9 7-5 1-6 0-4-6-10 0-6 3-4 5-4 1-2 12-4zM61 -182l-6 4 0 6 5 4 2 3 6 1 4-2 2-6 0-6-6-6-6 0zM-48 -196l6 1 4 4 2 3 1 6 3 1 4 5 2 4 0 4-3 6-3 4 0 2-6 8-4 7-6 0-4-1 0-1-6-3-2-2 0-4 2-6 1 0 5-5 11-9 1-6-2-3-2-1-4-4-2-6zM-108 -143l10 0 1 1 5 1 5 3 3 6 0 4-4 2-4-2-6-2-4-2-2 0-4-4-1-2 1-4zM-32 -121l4 0 6 3 7 10 2 6 1 0 0 10-6 5-4 1-6-1-4-1-6-5-1-5 1-4 0-14 1-2zM32 -75l6-1 4 1 6 3 4 4 3 6-1 4-3 6-3 3-10 5-6 0-2-4 0-4-1-6 0-10 2-4zM158 -73l4-1 6 2 4 4 1 0 5 9 4 3 10-3 6-1 12-12 2-5 6 2 4 7 1 0 1 6 0 4-6 7-16 6-6 7-4 6-4 8-6 3-4 1-10-2-6-1-4-2-6-7-3-16 0-4-1-6 3-10 5-4zM-158 -65l6 2 0 1 4 4 1 0 2 6 3 5 0 7-2 2-4 2-4 0-6-1 0-1-4-2-6-1-4 5-6 3-4-2-2-3-4-4 0-6 6-2 4 2 4 0 2 1 4 0 3-5 4-10zM122 -48l6-1 6 1 1 6-3 6-1 4-3 4 0 2-6 1-4-3-4-4-1-6 2-4 6-6zM-118 -44l6-2 4 0 6 1 4 4 6 4 4 4 6 2 4 0 5 1 7 8 4 4 4 6 6-1 4-6 6-7 4-2 8 0 8 4 0 3-3 3-2 6-3 4-8 5-4 0-16-3-5 4-9 2-6 0-5-2 1-6 0-7-2-3-4-1-5 1-3 6 2 4 0 6-8 7-6 1-5-4 0-4 5-10-1-6-3-5-4-5-5-4-3-6 3-4zM-172 -13l4 0 6-1 4-2 6-1 4 3 1 2 0 4-5 6-14 0-2-1-4 0-5-5 4-4zM-22 25l10 0 4 1 3 2 3 5-5 5-5 1-6 0-4-2-4-5 0-4zM52 31l10-3 6 0 4 2 6 2 4 4 10 5 6 2 4 5 0 2 2 2 0 6-2 4-4 4-6 0-4-1-6-3-18-4-6-4-6-2-4 2-5 4-9 0-2-2-1-4 1-4 0-5 4-5 12-4 1-2zM158 70l10-2 10 3 4 5 3 2 3 4 0 6-5 10-1 0-4 6-8 4-2 0-6 2-5 3-10 0-5-2-2-3 0-6 2-5 6-9 2-10 3-6zM-92 76l4-1 6 0 5 3 5 1 4 0 5-1 5-2 6 1 0 1 4 2 2 2 3 6 1 0 0 5-6 1-10 0-7 4-2 4-2 10-3 9-6 1-10-7-4-1-4 4-2 4 0 4 4 6 6 5 3 1 2 4-5 9-2 7-2 5-5 5-5 2-6-2-3-6 0-20-2-4-4-6-1 0-3-4-1-3-10-5-3-2-3-4 0-2-2-4-1-6 3-7 6-1 3 4 1 4 1 0 1 6 2 4 2 2 4 0 4-2 2 0 4-4 2 0 1-6-3-5-2-5 2-6 4-4 6-4 2 0zM82 77l1 1 5 0 4 1 2 3 2 6-1 4-3 6-4 1-5-1-5-6-2-4 0-6 2-2 4-2zM-2 96l4 0 3 2 0 4-7 6-6 0-2-6 2-3 2-1zM-32 104l10 7 1 7-1 5-6 6-4 2-6-4-1-5 0-4 1-7 3-3zM22 155l6 0 5 3 2 4-3 3-5 3-5 0-4 2-3-2 1-6 3-4zM8 196l1 2 7 4 2 2 4 8-1 6-2 4-2 2-5 1-4 0-3-3-3-6 0-11 1-3 3-4z"/>
<path fill="#ee9c13" d="M48 -198l4-1 5 0 6 1 11 6 4 1 10 0 4 1 4 2 2 2 1 4 3 4 1 6-1 4-4 3-6 1-4 0-6-1-3-3-1-4 0-4-2-6-4-5 0-1-4-1-6 2-4 2-8 7-1 6 3 4 1 0 4 6-5 2-7-2 0-10-3-2-2-4-4-4-1-6 3-4 4-4 3-2zM-32 -172l1 4-1 4-6 7-4 7-6 4-6-2-2-4 4-5 0-1 9-4 6-6zM32 -149l6 4 2 3 8 4 6 6 4 5 2 9-3 6-5 1-4 0-5-1-11-7-4-2-6-1-7 0-2-6 5-1 3-3 5-10 3-6zM-98 -138l2 0-2 3-2-3zM-92 -134l0 2-2 0zM-28 -117l6 2 6 7 2 6 0 4-2 6-6 2-9-2-3-6 0-10 2-4zM212 -73l5 0 4 5 1 6-4 7-10 2-4-5 6-10 2-4zM38 -71l9 3 3 6 1 4-3 6-6 2-3-2-5-10 0-6zM158 -68l4-1 4 1 2 2 4 8 1 0 3 6 6 3 8 1 3 6-3 10-2 3-2 1-4 4-4 1-16-3-6-6-2-6 0-10-1-4 0-6 1-4 3-6zM-157 -58l5 0 5 10 0 6-5 2-6-2-3-6 2-4 1-6zM122 -44l6 0 1 2 0 4-1 5-6 2-2-1-3-6 1 0 2-4zM-112 -39l4 0 6 1 11 10-1 2-5 4-5 2-6-3-4-7-3-2 0-6zM-73 -19l1 1 2 6-2 2-1-2 0-6zM-38 -19l4 1 1 6-5 3-4-3 3-6zM-158 -11l6 0 0 4-6 1-2-2zM-18 31l6 0 3 1-3 2-6-1-1-1zM58 31l4-1 6 0 4 2 2 0 8 8 10 5 6 4 1 3-1 7-6 2-10-3-14-3-6-3-7-10-2-4 1-6zM162 72l6-1 4 0 6 3 3 4 2 4 0 6-5 9-6 4-4 1 0 1-6 1-4 2-6 1-5-5 1-4 3-6 3-14 6-6zM-98 82l6-2 4 0 6 1 4 3 6 1 4-1 3-2 7-1 5 1 3 6-2 1-10 2-6 0-3 1-1 6 1 4-1 7-6 5-4-2-6-4-5-6-6-4-4-6 0-4 5-6zM82 85l6-1 3 4 0 4-3 3-6-2-1-5zM-132 104l0 4-1 0zM-112 117l4-2 6 5 0 8 4 7 6 5 1 2 0 6-1 6-6 7-4 1-5-4-1-2 0-8-2-10-2-4-5-6-1-6 5-4zM8 204l4 0 4 4 2 4 0 2-4 4-2 0-5-5-1-5z"/>
<path fill="#ec6311" d="M48 -194l4 0 4 2-4 5-4 4-6-1-1-4 1-2 3-2zM88 -188l5 0 5 7 2 9-2 3-6 2-4 0-6-4-1-7 0-4 1-4 3-2zM32 -139l5 0 11 5 6 6 2 6 0 4-4 3-4 0-6-1-1-2-6-4-6-6-1-4 3-6zM-28 -111l6 0 4 5 2 4-2 6-4 1-6-1 0-2-2-4 1-6zM218 -68l0 7-6 0 0-3 4-4zM162 -63l6 4 4 9 4 2 2 2 7 4 2 4-1 6-5 4-3 1-6 0 0-1-10-2-2-2-2-6 0-12-1-2 0-6 3-4zM62 32l8 0 9 10 3 4 6 3 3 3-3 2-6-1-4 0-1-1-5 0-7-4-3-3-3-7 1-6zM162 75l6-1 4 1 6 3 1 4 0 6-3 4-4 4-4 2-8 0-3-6 0-10 2-4zM-102 139l5 3 1 6-2 5-4 1-2-6 0-6z"/></g>
</g></g>
</g>
<g>
<circle cx="367.8" cy="200.8" r="48.7" fill="url(#rg)"/>
<path d="M361.4 163.6L362.5 162.0L363.7 160.5L365.0 159.2L366.3 158.0L367.8 157.0L369.3 156.3L370.9 155.8L372.5 155.6L374.0 155.6L375.6 155.9L377.2 156.3L378.8 156.8L380.3 157.3L381.8 158.0L383.3 158.8L384.6 159.6L386.0 160.6L387.3 161.6L388.5 162.6L389.6 163.8L390.7 165.0L391.6 166.2L392.5 167.5L393.4 168.9L394.1 170.3L394.7 171.7L395.3 173.2L395.8 174.6L396.1 176.2Z" fill="#646464" fill-opacity="0.24" stroke="#464646" stroke-opacity="0.55" stroke-width="0.7" stroke-linejoin="round"/>
<path d="M396.1 176.2L397.9 176.3L399.8 176.6L401.6 177.1L403.3 177.7L404.9 178.5L406.3 179.4L407.6 180.5L408.5 181.8L409.2 183.2L409.8 184.7L410.3 186.3L410.6 187.9L410.9 189.5L411.1 191.1L411.1 192.7L411.1 194.4L411.0 196.0L410.7 197.6L410.4 199.2L410.0 200.7L409.5 202.2L408.9 203.7L408.2 205.1L407.4 206.5L406.6 207.9L405.7 209.1L404.7 210.3L403.7 211.5L402.5 212.5Z" fill="#646464" fill-opacity="0.24" stroke="#464646" stroke-opacity="0.55" stroke-width="0.7" stroke-linejoin="round"/>
<path d="M402.5 212.5L403.3 214.2L403.9 216.0L404.5 217.8L404.8 219.6L404.9 221.3L404.8 223.0L404.5 224.6L403.9 226.1L403.0 227.4L402.0 228.7L400.8 229.9L399.7 231.0L398.4 232.0L397.1 233.0L395.7 233.8L394.3 234.6L392.8 235.3L391.3 235.9L389.7 236.4L388.2 236.8L386.6 237.2L385.0 237.4L383.5 237.5L381.9 237.5L380.3 237.5L378.7 237.3L377.2 237.1L375.7 236.8L374.2 236.2Z" fill="#646464" fill-opacity="0.24" stroke="#464646" stroke-opacity="0.55" stroke-width="0.7" stroke-linejoin="round"/>
<path d="M374.2 236.2L373.1 237.8L371.9 239.3L370.6 240.6L369.3 241.8L367.8 242.8L366.3 243.5L364.7 244.0L363.1 244.2L361.6 244.2L360.0 243.9L358.4 243.5L356.8 243.0L355.3 242.5L353.8 241.8L352.3 241.0L351.0 240.2L349.6 239.2L348.3 238.2L347.1 237.2L346.0 236.0L344.9 234.8L344.0 233.6L343.1 232.3L342.2 230.9L341.5 229.5L340.9 228.1L340.3 226.6L339.8 225.2L339.5 223.6Z" fill="#646464" fill-opacity="0.24" stroke="#464646" stroke-opacity="0.55" stroke-width="0.7" stroke-linejoin="round"/>
<path d="M339.5 223.6L337.7 223.5L335.8 223.2L334.0 222.7L332.3 222.1L330.7 221.3L329.3 220.4L328.0 219.3L327.1 218.0L326.4 216.6L325.8 215.1L325.3 213.5L325.0 211.9L324.7 210.3L324.5 208.7L324.5 207.1L324.5 205.4L324.6 203.8L324.9 202.2L325.2 200.6L325.6 199.1L326.1 197.6L326.7 196.1L327.4 194.7L328.2 193.3L329.0 191.9L329.9 190.7L330.9 189.5L331.9 188.3L333.1 187.3Z" fill="#646464" fill-opacity="0.24" stroke="#464646" stroke-opacity="0.55" stroke-width="0.7" stroke-linejoin="round"/>
<path d="M333.1 187.3L332.3 185.6L331.7 183.8L331.1 182.0L330.8 180.2L330.7 178.5L330.8 176.8L331.1 175.2L331.7 173.7L332.6 172.4L333.6 171.1L334.8 169.9L335.9 168.8L337.2 167.8L338.5 166.8L339.9 166.0L341.3 165.2L342.8 164.5L344.3 163.9L345.9 163.4L347.4 163.0L349.0 162.6L350.6 162.4L352.1 162.3L353.7 162.3L355.3 162.3L356.9 162.5L358.4 162.7L359.9 163.0L361.4 163.6Z" fill="#646464" fill-opacity="0.24" stroke="#464646" stroke-opacity="0.55" stroke-width="0.7" stroke-linejoin="round"/>
<circle cx="367.8" cy="199.9" r="37.4" fill="#544840"/>
<circle cx="367.8" cy="199.9" r="36.3" fill="#12b8f6"/>
<g clip-path="url(#c12)"><g filter="url(#soft)">
<g transform="translate(368.6 200.7) scale(0.1)"><path fill="#15e5f0" d="M-128 -340l6-1 4 1 6 0 5 2 5 1 4 2 3 3 3 1 4 3 0 1 6 1 3 4 7 1 6 3 4 1 10 0 14 3 6 1 10 0 10 3 4 5 11 8 5 2 2 3 8 3 4 3 6 1 4-1 6-5 0-1 4-6 6-6 6-4 4-1 4-2 6-1 4-4 6-1 4-2 6-2 4 0 6-1 4 0 6 1 6 3 6 6 2 4 0 6 4 4 2 1 4 0 6-1 4 0 0 13 3 7 1 6 2 4 4-1 7-3 2-10 1-2 6-3 4 3 1 2 0 4-2 6 0 4 2 6 3 4 3 6 3 4 0 2 5 4-5 4-3 6 0 4 3 16 14 10 5 4 1 3 3 3 1 4-3 6-1 0-4 4-2 0-6 6-3 4 0 6 3 4 2 6 0 5 5 5 5 1 7-1 3-3 6-2 0-1 4-4 1 0 2-6 0-4 1-6 6-8 6-1 0-1 4-1 6 0 4-2 4-1 6-5 16 0 7 5 3 1 3 3 1 3 6 5 4 2 6 1 6 5 4 5 4 13 2 2 2 10-1 4-3 4-1 6-3 10 2 6 2 5 6 6 4 3 0 1 4 5 0 10-1 4-3 4-1 6 0 16-3 10-6 6-6 4-4 2-5 8 0 4 5 10 1 0 1 6-2 4-4 6-6 4-4 4-6 4-3 8-3 4-6 6-10 4-1 6 9 5 3 5 1 7 3 7 2 6 5 4 0 1 10 2 6 2 3 5-3 6-6 4-4 2-6-1-4 1-6 3-1 5 1 6 0 4 1 0 1 6 0 4-6 5-2 1-4 0-14 3-3 1-3 4 0 2-4 4 0 1-6 3-10 4-4 3-4 5-2 1-4 7-6 6-8 10-3 6-3 4-1 0-3 6-5 4-1 2-6-6-2-6-2-4 0-2-5-4-5-1-6 0-3 1-1 2-6 3-5 1-4-6-1 0-1-4 2-6 5-5 4-2 6-1 10 0 10-3 2-3-2-6-16 0-4 2-6 1-5-3-5-1-6-3-4-1-4 0-7 5-4 6-1 4 0 6-1 4-3 3-1 7 0 6 1 4 1 0 3 6 5 4 1 2 4 4 6 4 0 1 4 5-1 4-7 8-10 0-6-2-4 0-6 4-2 6-4 4-4 3-1 3-3 4-1 0-1 6-3 4 0 6 2 4 2 6-2 4-3 3-4 2-6 0-4-1-6-5-1-3-3-5-6 1-2 8 0 6 1 4-3 3-10 2-6 0 0 1-4 4-1 0 0 4 1 2 5 4 1 6-2 6-2 4-8 3-9-3-11-4-4-2-26 0-4-1-6-3-4-1-6-3-1-2-3 0-6-2-2-2-2-4-5-6 0-6-1 0-3-14 0-10 1-6 0-4-2-10 0-2-6 1-1 5-2 6-3 4-4 4-4 1-10 0-6-1-4-4-6-1-4-3 0-1-6-2-2-3-8-5-4-5-6-5-4-2-6 1-1 2-8 5-5 3-6 1-4-1-4-4-2 0-4-6-4-4-6-4 0-1-10 0-10 5-5 1-5-2-4-3 2-6 2 0 6-4 4-5 0-6-4-5-2 0-9-4-5-3-7-7-3-7-3-3-3-6-3-4-1-8-2-2-3-10 0-6-4-4-1-7-10-7-2-2-4-2-5-8-4-4-5-7-6-4-5-4 0-1-4-4-1-7 1-3 5-5 0-1 4-2 6 1 4 0 6-3 1-6 3-7 3-3 7-3 10 2 3-3-2-10-5-10-1 0-3-10-1-9-5-7-6-6-2-4-8-6-3-4-1 0-10-7-3-3-3-1-3-3-1-3-3-3-2-4 0-6 1-4 8-9 5-1 5-2 6-1 10 0 5-3 0-4-4-6-1-4-1 0-3-6-6-6-6-3 0-1-10 0-4-1-6-4-3-5-1-4 2-6 3-4 5-4 4-1 10 0 10 2 4 3 6 1 1-1 0-20 1-6 0-4-1-6-1 0-3-4-1-4-2-2-2-4-1-6 1-4 4-5 0-1 4-3 7-1 3-2 4 2 2 0 10 6 3 4 11 3 6-1 5-2 1-6 5-4 5-6 5-4 4-10 1-6 4-8 2-12 4-4 3-6 1 0 1-4 7-11 2-1 1-4 4-4 0-20 1-6 4-4 4-8 2-2 1-6 3-4 4-3 6-3 1-4-1-6-4-4 0-6 8-8 20 0 6-1 0-1zM36 -278l-4 4-3 17 1 5 2 3 6-1 3-2 1-2 5-4 1 0 1-4 0-6-1-3-2-1-4-5 0-1-4-2zM-266 12l-1 5 3 5 2 2 5-2 1-4-1-6-5-3zM239 32l-3 6 2 5 4 0 6-5 0-6-6-1zM138 118l-8 4-2 3-6 3-1 4 1 9 6 4 2 3 2 1 10 0 8-1 4-6 4-3 3-11-2-6-7-2-4-3-6 0zM15 228l-3 2-5 8-5 5 0 10 6 2 10-2 0-1 4-4 2 0 4-4 4-5 2-1 1-6-2-4-5-3-6 0-4 1zM-149 232l-3 5 2 5 2 2 4-2 2 0 1-4-1-5-1-1-5 0z"/>
<path fill="#14efc3" d="M-158 -333l6 0 4 1 12 0 4-1 4-3 16 0 10 2 4 3 7 3 3 3 6 3 10 3 4 3 10 0 10 2 4 2 12 2 11 2 7 6 6 4 2 0 8 4 6 3 4 3 2 0 4 2 6 4 4 2 2 2 0 6-4 14 1 6 5 6 6-1 0-1 10-7 4-7-1-6-2-4-1-4-6-6-1-6 1-4 1 0 2-6 7-6 10-3 10-5 0-1 10-3 6-1 4-2 6-1 4 0 7 2 3 4 3 2 2 4 0 4 2 6 3 6 6 1 4-1 6 2 0 2 3 10 1 8 1 2 5 4 4-2 6-1 0-1 4-2 6 3 2 5 2 3 2 1 2 6 2 4 4 6-4 4-2 6 0 4 1 6 2 4 1 6 2 5 6 3 10 7 3 5 1 4-4 7-6 3-6 6-1 4 0 6 5 9 2 9 6 4 4 1 6-1 5-2 9-8 3-2 4-6 0-4 1-6 2-4 6-3 4 0 10-2 9-5 1-1 6-2 4 0 6 1 10 7 3 5 1 3 6 4 10 3 5 5 3 5 4 10 2 4 0 6-2 10-2 4-1 0-3 10 2 6 3 4 3 6 4 4 4 6 2 4 0 6-4 14 0 18-4 8-6 5-6 4 0 1-4 4-1 0-2 6 0 4 2 6 3 4 1 6-1 4-5 6-7 5-6 3-5 6-2 6-3 4-4 4-6 2-7 4 0 6 13 9 3 5 0 6 1 6 2 4 8 8 4 2 2 0 8 4-5 6-3 1-6 0-9 3-3 6-1 4 0 10-1 7-6 5-4 2-6 0-6 2-4 2-4 7 0 1-6 5-4 2-6 2-7 5-9 10-4 5 0 1-4 4 0 1-4 5-2 1-4 7-10 10-6-7 0-2-4-5 0-1-5-3-1-2-4-2-6 3 0 1-9 4-1 1-4 0-3-5 1-6 6-3 6 0 4 1 10 0 6-3 5-5 3-4-1-6-7-3-10 0-10 2-10 0-6-2-4-3-6-2-4 1-5 3-6 6-2 4-2 10-2 4-3 9 1 7 2 4 1 4 6 7 5 5 5 4 1 0 2 6-1 4-2 3-6 2-4-1-6 0-4-1-6 2-6 11-4 3 0 1-4 6-6 9-3 5-1 4-2 2-2 5 2 5-4 0-5-6-5-1-4-2-6 2-5 7-1 4 1 6-5 4-4 2-10 3-4 5-1 6 2 4 1 6-1 4-7 4-6-1-6-3-4-1-20 0-4-1-6 0-4-2-2 0-4-2-4-1-6-4-4-1-6-3-3-5-5-10 0-4-1-6 0-4-1-1 0-5 1-4 0-16-5-10-5 2-3 4-2 4 0 2-2 4-4 4-4 3-6 0-10-2 0-1-4-1-10-5-5-4-5-3-2-2-4-2-4-5-3-2-2-6 1-4 4-3 1-3 3-4-2-6-2-1-6 0-5 1-1 6 0 4 1 6-9 9-10 5-6 1-4-1-6-5-4-5-10-7-10 0-6 1-4 2-5 0 0-6 5-4 2-6 0-4-3-6-5-2-4-3-6-2-4-5-3-2-7-10-3-6-4-4-2-10-2-4 0-2-2-4-2-10-2-6-3-5-6-3-8-6-2-2-4-7-2-1-4-7-3-3-1-3-6-2 0-1-4-4-1 0-2-6 2-5 5-3 6 1 4 0 4-3 2 0 3-10 3-4 4-4 4-1 6 0 4 1 6-1 1-5-1-5-3-5-1-6-3-4-2-6 0-4 1-6 2-3 6 0 4 1 3-2 3-7-3-9-5-4-2-3-6 1 0 2-4 9 0 2-6 1-4-3-4-5-5-4-1-2-5-4-5-2-6-4-4-4-6-5-4-5-2-4-1-6 7-7 16-5 4-1 6 0 5-1 4-6-1-4-3-6-1 0-3-4-3-6-4-5-4-4-10-3-6 0-4-2-2 0-3-6-1 0-1-4 2-6 5-5 4-2 10 0 6 1 2 2 2 0 6 3 4 1 1 0 3-4 0-6-1-4 0-10 1-6 0-4-1-6-4-4-3-8-2-2-1-6 3-5 5-5 9-3 6 1 4 3 5 5 1 0 4 4 10 2 6-1 4-2 3-3 3-6 4-4 0-1 6-4 0-1 4-4 0-2 4-8 2-3 2-13 2-8 6-7 4-9 1 0 2-6 3-2 6-12 1-6 0-14 5-10 8-10 2-6 8-6 3-3 1-5-2-6-2-4 0-6 4-4zM246 28l-4 0-6 4-4 5 1 5 5 5 4-1 6-3 2-5 1-6-3-5zM197 38l-1 4 2 2 5-2 0-4-5-2zM252 88l0 5 2-1 0-4-2-1zM135 118l-9 4-4 4-3 6 2 10 1 2 4 4 6 3 5 1 1 1 14-4 2-1 4-5 5-11 1-4-2-5-4-3-6-3-4-1-10 0zM32 218l-10 2-5 2-5 4-4 6-1 0-2 6-3 2-1 2-1 6 2 7 4 3 7 0 9-8 6-3 5-5 5-7 6-13 0-4-2-3-4 0-6 2z"/>
<path fill="#12ed8b" d="M-118 -333l6-1 10 3 7 3 10 6 7 3 5 1 5 3 6 0 4 1 6 0 4 2 10 3 6 1 4 2 6 2 1 2 13 9 6 0 0 1 10 3 4 3 6 2 1 2 7 4 2 4 0 2-2 4-1 6 0 10 3 5 4 4 6-2 4-4 6-4 7-9-1-6-3-4-2-6-4-4-1-6 1-4 3-4 0-2 4-3 6-2 4-2 6-2 0-1 10-5 14-3 4-2 7 0 5 3 3 3 2 4 1 6 2 4 1 6 6 4 4-1 7 1 4 5 3 15 0 6 1 4 0 7 1-1 1-6 8-5 10-3 6 3 3 5 3 6 1 4 3 6-3 4-1 6 1 4 0 6 4 14 5 6 4 1 5 3 5 5 1 5-3 6-7 4-1 2-4 4-1 4 2 10 3 6 3 10 7 4 4 1 10-3 10-7 0-1 6-4 3-6 1-4 0-6 6-4 4-1 6 0 4-1 6-3 0-1 9-4 1-1 4 0 6 1 4 3 3 1 4 6 2 4 1 4 2 2 4 1 4 0 6 2 6 11 2 6 2 1 2 9-2 9-6 10-1 5 1 5 6 7 4 8 1 0 3 10 2 3 0 10-2 3-1 4 0 6 1 4 0 6-5 10-6 4-7 8-3 2-2 10 2 6 3 4 1 6-2 4-5 6-4 3-4 1-2 2-8 4 0 4-1 6-1 0-4 6-6 1-4 3-7 4 0 6 7 5 4 2 6 5 1 2 1 6 0 4 2 6 9 10 1 2 7 2-1 1-6 2-5 3-5 2-2 2-2 6-2 4 1 6-2 10-7 5-16 3-4 6-3 6-7 4 0 1-6 1-4 2-7 6-5 6-4 4-10 12-4 7-2 1-4 5 0 1-4 3-3-3-6-10 0-6 4-4 4-6 1 0 4-4 1 0 1-6-12-4-4-2-10 0-10 3-6 1-8-2-2-2-7-4-3-1-5 1-5 4-4 5-2 1-2 6-2 4-2 10-2 4-2 2-1 4 1 6 2 1 3 9 7 7 4 5 4 2 3 6-1 4-6 3-4 0-10-2-6 1-6 8-3 6-1 0-4 8-2 2-2 4-2 2-4 7-3 1-3 3-4 2-10 0-6 2-4 5-2 4-2 10-2 2-6 2-4 2-4 1-7 7-1 6 1 4 0 6-3 3-6 1-14-3-20 0-7-1-3-2-6-1-5-3-9-4-1 0-6-6-3-7-2-3-1-5 0-5-1-4 0-6 1-4 0-10-2-10-3-6-2-2-6 1-4 7-2 4-2 6-2 2-4 2-6 1-10-2-7-3-16-10-7-5 0-1-4-4-3-6 6-9 1-3 2-2-1-6-5-2-6-1-4 1-3 2-1 6 0 10-2 1-4 5-5 4-5 2-6 1-6-3-4-3-4-5-6-4-4-2-5-1-11 0-2-1 2-10-3-10-7-4-9-6-1 0-4-4 0-1-6-7-5-8-5-6-2-8-1-6-3-4 0-6-3-10-1 0-4-7-6-3-6-4-4-5-3-5-3-6-8-11-6-2-1-1-2-6 3-4 6 0 4 1 6-4 4-10 6-8 4-2 6 0 4 1 6 0 3-4-3-15-5-15 2-4 3-2 4 0 6 1 3-5-1-4 0-6-2-7-9-13-5-4-2-3-2 3 0 4-2 9-6 4-5-3-5-4-4-5-10-5-1 0-9-8-6-5-1-3-3-4 0-6 4-3 6-1 4-2 6-2 4-2 10-2 6-3 2-5-2-5-3-5-3-2-4-8-6-8-4-3-6-2-4 0-7-1-3-2-3-4-1-4 2-6 6-4 0-1 6-1 7 2 3 0 14 7 6-5 0-8-2-10 2-10 0-6-2-4-4-5-4-9-1-6 5-7 6-2 4-1 5 0 12 10 3 3 16 0 6-3 4-5 2-5 4-4 4-3 4-6 2-1 4-7 3-9 1-5 0-7 4-8 4-4 3-6 3-4 2-6 3-4 5-10 0-10 1-6 0-4 5-10 1 0 4-6 1 0 4-8 7-6 5-6 1-4-2-6-2-4-1-6 2-2 26 0 10-2 2 0zM-169 28l2 5 5 1 4-2-4-6-6 1zM239 28l-6 4-3 6 0 4 2 4 2 2 4 2 7-2 3-2 3-4 2-4 1-6-2-5-4-2-6 1zM197 32l-5 9 0 3 5 4 5-2 4-4 0-4-4-5 0-1-4 0zM248 88l0 4 4 4 6-2 1-2-1-6-6-3zM132 118l-8 4-5 6-1 4 0 6 1 4 4 5 0 1 7 4 2 3 10 0 14-7 4-6 2-5 4-5 1-4-3-6-6-4-2 0-4-3-4-1-6 0-10 3zM33 212l-11 4-10 7-4 7-3 2-2 6-1 0-2 4-1 6 0 4 5 6 4 2 7-2 3-2 4-4 7-4 10-10 3-6 3-4 3-11-3-5-3-1-4 0zM152 195l2 3-4 0z"/>
<path fill="#11ec52" d="M-152 -328l8 0 2 1 4 0 6 1 10 0 4-3 6-1 4 0 10 2 0 1 9 5 7 3 6 1 8 4 6 1 4 0 6 1 4 2 6 2 4 1 5 3 5 1 7 5 3 4 3 1 3 3 4 2 12 0 11 6 6 4 3 6-1 4 0 16 1 4 8 9 6-3 5-6 5-2 8-8 1-4 0-6-2-4-3-4 0-2-3-4-2-5 1-5 4-5 0-1 6-2 5-2 5-1 4-5 6-2 4-2 0-1 6 0 4-1 10 0 6 3 2 9 2 4 1 5 0 5 5 4 4-1 6 0 4 1 6 7 0 4 1 5 0 6-1 7-1 3 1 4 4 4 4-4 2-6 2-4 2-2 6-3 4 0 6 4 4 10 1 1 1 6-1 4 0 10 1 6 0 4 2 10 3 6 3 2 6 2 6 6 1 4-2 6-7 4-4 4-2 6 5 16 2 4 1 0 1 6 3 4 6 3 4 1 7-4 3 0 6-5 4-2 3-3 3-1 3-3 1-4 2-2 2-4 1-6 5-1 6 0 7-3 3-2 4-4 10-2 9 2 4 6 3 4 1 6 3 4 5 0 1 1 4 0 6 3 0 2 5 10 3 4 1 5 1 3-4 8-3 4-3 6-1 4 1 6 4 4 1 0 5 5 4 19 2 6-1 6 0 20-2 4-5 6-4 2-4 8-5 4-3 10 5 10 1 6-2 4-5 6-7 2-4 2 0 1-6 1-4 2-2 2 2 1 1 3 0 6-1 2-6 3-10 3-4 5-2 1 2 6 4 4 1 0 5 4 5 2 4 4 1 2 0 4 2 10 2 4 1 0 4 6 0 4-5 4-4 6-3 6-1 4 0 6-3 10-3 2-6 2-4 1-6 0-4 3-4 6-3 6-9 4-4 1-6 4 0 1-4 3-4 1-2 2-4 2-2-4-1-4-3-3-4-2-6 1-4 2-10-2-16 0-9 4-11-5-3-5 9-2 3-4 1 0 6-5 4-5 0-1 4-3 4-6 1-4-4-6-7-4-2-2-10-3-10 0-6 1-3 4-9 4-5 10 0 6 3 6 1 4 5 4 3 6-5 5-4 5-4 4-3 6-3 15-5 5 0 4 1 6 4 5 1 5 3 4 1 0 5 5 0 1 4 4 1 0 2 6-3 4-4 1-1-1-15-3-4-7-1 0-5 5 2 5 1 6-7 14 0 1-7 9-3 6-10 5-6 1-4 0-6 2-4 5-2 1-3 10-1 6-5 1-14 8-4 5-1 6 0 4-1 0-3 6-22 0-4-1-6 0-14-3-6-1-4-3-7-2-9-8-5-12 0-6-1-4 0-26-1-4-3-6-4-4-6 1-4 3 0 2-6 13 0 1-10 2-4-1-6 0-5-1-5-4-5-2-5-3-4-5-6-4-3-8 2-4 2-6 3-4-1-6-3-2-5-2-9 0-5 4-1 6 0 4-1 6-3 4-6 3-4 3-7 0-9-5 0-1-4-4-1 0-4-5-5-2-10-2-3-1 0-6-3-5-1-5-3-3-4-1-6-5-7-5-9-13-1-3-4-4-4-6-1 0 0-4-1-6-3-4-3-16-3-5-5-5-5-3-3-1-4-6-4-4-3-7-2-3-1-6-2-4 2-6 3-4 4-9 4-7 6-5 10 0 6 2 2-1 4-6-2-2-1-8-1-4 0-6-1-4 3-4 11-2 9-4-1-6-3-1-6-9-3-10-3-4-4-4-4-6 0-2-2-4-4-5-4-3-3 4-1 4 0 10-2 7-5-1-5-4-1-2-3-2-6-2-4-4-6-2-5-4-5-7-1-3 1-4 3-2 7-1 10-5 10-2 3-2 3 0 3-4 1-6-1-4-4-6-5-4-2-6-2-4-1 0-4-6-5-3-8-1-2-2-5-1-6-3 0-4 3-6 2-1 6-1 4 0 11 2 5 4 4 1 6-2 3-7-3-16 3-14-3-6-6-8 0-2-2-4 0-6 2-4 2 0 4-2 4-1 6 1 4 4 3 2 3 4 5 1 15 0 4-1 4-4 2-1 2-3 2-6 6-5 4-5 5-4 4-6 1-6 2-4 1-4 0-6 1-4 4-6 2-2 6-2 4 2 2-2-3-6-1-4 2-10 1 0 3-6 2-7 0-13 2-4 2-7 6-5 4-8 1 0 4-6 1 0 4-5 5-5 0-9-2-5 2-6zM164 -138l4 3 3-3-3-2zM-158 -122l6 1 0-3-6 1zM255 2l-1 6 0 4 2 6 2 2 5 2 5 1 1-1 0-4-3-6 0-4-1-6-3-2-4-1zM-172 28l1 4 3 4 6 1 4 0 4-5-2-4-6-5-6 0zM236 28l-4 2-2 2-2 6 0 4 2 6 2 3 4 1 2 2 4-2 6-1 4-3 5-10 1-6 0-5-6-3-4-1-6 1-4 2zM193 32l-3 6-1 4 1 6 2 2 6 1 4-1 6-5 2-7-4-6-4-3-4 0zM248 82l-3 6-1 4 5 6 3 1 7-1 3-6-1-4-4-5 0-1-5-3zM-234 92l0 6 2 1 1 3 3 3 6 1 3-4-1-4-2-4-6-5-4 0zM22 212l-4 2-4 4-5 4-5 10-3 6-3 4 0 10 4 6 6 3 9-3 8-6 3-1 4-5 5-4 1 0 4-6 4-4 3-4 1-6 0-4-1-6-1-1-6-2-4 0-6 1-4 0-6 2zM188 189l4 1 3 2-1 6-2 1-4 5-3-6 1-6z"/>
<path fill="#0feb1a" d="M-112 -324l4-1 10 2 1 1 5 1 4 2 6 1 0 1 9 3 7 2 4 0 14 4 0 1 9 5 9 4 2 3 6 4 4 5 6 6 3 2 1 4 6 0 1-4 3-1 6 0 4 1 0 1 4 5 0 4-3 6 1 4 4 2 2 4 2 7 6 8 4 3 6-1 4-6 2-1 6-6 10-4 5-6 3-2 5-8 5-4 4-9 4-7 6-1 6 0 2 1 3 6 5 4 4 1 2-1 4 0 4-2 6 0 4 3 3 5 0 10-2 10 0 4 2 6 3 3 4 2 6-2 2-3 2-6 0-4 1 0 5-5 4 1 3 4 2 4 0 6 1 0 1 4 0 6 3 14 0 6-2 4 0 6 13 10 3 4-2 6-2 0-7 10 0 4 5 10 1 6 0 4-3 3-6-1-4 0-6 1-9 7 1 6 8 4 10 0 10-3 6-1 10 2 8-2 6-3 4-3 2 0 4-4 2 0 4-3 2-3 8-4 2 0 2-2 6-3 0-1 4-4 0-1 6-4 0-1 6-4 8-4 6 1 4 7 1 0 2 10 3 8 3 2 1 2 3-2 4 1 3 2 6 8 1 5-1 5-5 5-3 14 0 6 2 4 6 3 6 7 1 6 0 10 1 4-1 6 0 10 1 4-1 6-3 2-4 8-5 10-1 0-2 4-2 6-1 4 1 1 0 5 3 4 0 6-3 6-6 2-4 2-8 0-8-8-1-2-2-10-1-3-4-3-6 0 0 1-6 3-4 6 0 5-1 1 0 10-9 4 0 1-6 3-4 5-3 1-3 4-4 2-1 0-5-5 0-1-4-4-1 0-5-4-4-1-6 2-1 3-3 5-1 5-2 4-1 6 2 4 2 2 4 2 6 0 4-1 6-3 4-4 2 0 4-5 4 2 1 3 5 7 1 3 3 4 6 3 4 1 4 2-2 4 0 6-2 7 0 3-2 4 0 6 2 3 10 2 16 0 3 5 1 4 0 6-1 4 0 6-3 5-6 4-5 1-5-1-7-5-3-1-5 1-1 6 1 4 0 6-2 4-2 2-9 4-2 0-4 2-6 0-4-4-6-2-4 1-10 5-10 0-6-1-10 0-5-1 3-6 4-4 4-3 7-3 3 0 4-4 0-4 0-2-4-8-2-2-4-1-5-3-9-4-6-1 0-1-14-3-6 1-4 3-6 3-8 6-1 6-1 0 0 21 2 3 2 6 0 4-3 6-1 0-3 4-1 5-2 5-1 6-4 4-4 6 0 4 5 10 2 6-2 5-4 0-6 1-4 4-2 4 0 6 3 10-1 4-1 0-4 11-2 5-3 4-1 0-7 6-2 0-10 3-6 1-6 6-4 8-1 6-5 6-4 1-7 3-3 2-4 4-6 9 0 1-4 4 0 1-6 1-10 0-4-1-16 0 0-1-4 0-6-2-5-2-5-3-4-3-4-4-2-4 0-2-2-4-1-6 0-4 1-6-1-4 0-6-1-4 0-6-3-10-3-4-4-3-6 0-5 3-3 4-2 4 0 2-4 7-6 1-10 0-4-1-14-7-10-10-1-6 3-10 2-4 0-7-6-4-15-3-5 1-3 3-1 4 0 12-3 4-7 4-6 0-4-1-6-4-3-9 3-7 2-3-2-3-4 1-6 7-4 2-6-1-5-6-3-6-6-4 0-1-7-5-5-4-4-5-2-5-1-6 0-4 4-10-1-6-6 0-5 6-3 1-5-7-1 0-4-14 0-6 1-4-1-4-2-2-14-7-6-7-4-7-2-9 0-4 2-9 1-1 1-6 6-10 2-2 6 0 10 2 7 0 3 1 6 5 2 4 0 6-4 7-1 3-3 4-1 0 0 6 2 4 2 6 0 4 1 7 6 1 6-2 3-5 0-5-2-10 3-5 10 0 0-1 4-1 3-3 1-6-3-10-2-4-3-10 0-2-6-3-4 0-10 2-6-1-1-2-5-4-2-6 0-4 2-6 2 0 4-2 10-2 6 2 4 2 0 1 6 3 4 4 6 0 7-2 3-2 3-4 0-4-6-6-3-1-3-3-1-3-3-3-3-1-5-3-9-3-6-1-7-6-3-4 0-2-4-4 0-2-3-4-3-5-4-13-4-6-5-6-3-4-1-6 1-4 0-6-2-4-2-2-2-4-4-4-4-7-2-9-2-3-6-2-4-2-10-2-1-1 1-4 4-2 5 0 5 2 10 2 6-1 2-1 3-6 0-4-1-2 0-4-1-4 0-6 1-4 0-6 2-4-1-6-1 0-8-10-2-6 3-4 7-2 6 2 4 8 6 3 4 0 1-1 9-2 6 0 9-2 4-6 5-10 6-4 0-1 9-5 4-4 2-6 2-4 1-6 0-4 1-6 1-1 6 0 4-1 4-2 2-2 2-4 1-4 0-6-2-4-1-5 0-5 3-16 0-10 1-5 3-5 5-4 2-4 6-6 5-6 6-4 3-6 0-4 1 0 1-6 4-2 4-1 6 1 4 2 6 0 4-3 3-1zM-10 -268l-8 10-1 6 0 4 1 2 6-1 4-3 6-3 4-3 4-2 1-4-5-4-4-6-6 1zM146 -202l2 2 4 0 3-2-2-3-5-2zM-188 -168l-3 6 1 4 2 2 6 0 4-2 4-4 2-4 0-2-6-2-10 2zM291 -138l-1 6 2 2 4-2-4-7zM242 -132l-4 4 0 1 4 2 3-3-3-5zM-165 -128l-8 6-3 4 4 5 4 1 6 0 10-3 5-3 3-4-2-6-6-4-6 1-4 2zM127 -122l-5 4-4 9-6 1-8 0-2 1-5 5 3 4 3 0 5-2 4-3 6-3 10 2 4 2 6 1 4 4 4 5 2 0 4 2 4-2-3-6-5-3-3-1-3-6 0-7 1-3-2-4-3-2-6 0-4 1zM-175 22l-3 4 0 7 6 4 0 1 14 4 6-1 3-3 1-6-4-6-4-4-2 0-4-2-6-1-4 2zM116 58l-1 4 3 2 7-2 4-4-1-2-6-1-4 1zM141 62l0 6 1 2 6 4 7-6-3-6-4-1-6 1zM191 72l-5 6 0 4 2 3 4-1 2-2 2-4-3-6-1 0zM27 88l-5 1-4 3-2 0-2 6 0 4 3 10-2 6-6 4-1 2-6 3-5 1-9-2-6 0-4-4-11-4-5 2-2 2-3 6 0 4 2 6 3 2 6-1 2-1 2-3 6-5 4 0 6 6 0 2 2 4 1 6 2 0 7-6 2-1 6-1 4 0 7-2 7-10 1-6 0-10 1 0 1-4 7-10 0-6-4-4-4 0 0-1zM39 138l-5 4-2 4-1 6 0 6 1 1 6 2 5-3 4-6 1 0 4-4 4 0 2-2 4 1 6 0 5-5-1 0-4-4-10 2-6-1-4-3-6-1zM21 208l-9 4-7 6-3 5-2 9-2 6-3 4-1 6 1 4 3 4 0 2 4 3 6 1 4 0 8-4 7-6 5-3 3-1 7-7 6-4 4-5 1-4 0-16-1 0-2-4-2-2-20 0-6 1zM58 -295l4-2 6 0 4 1 5 4-2 4-7 5 0 1-6 3-4 0-3-3-2-6 2-4zM-293 -28l4 0 7 5 1 5-1 8-6 4-4 0-6-2-6-4-3-6 2-4 9-6zM262 69l6 1 4 2 3 6 1 4 0 6 2 5-5 5-7-10-3-6-1 0-2-4-2-6z"/>
<path fill="#3ceb10" d="M-112 -318l4-2 10 2 6 1 4 2 6 0 4 2 6 1 4 2 10 2 2 0 4 2 4 4 14 10 6 4 1 0 4 6 1 0 2 4 0 6-3 10-4 9-4 5-2 6 5 3 6 1 10-2 11-8 9-3 4 0 6 4 1 5 3 4 0 3 2 3 4 4 4 2 6-1 6-5 3-6 1 0 4-4 6-2 5-4 6-4 3-6 6-8 4-6 1 0 5-5 0-1 4-2 6 2 0 1 9 5 15-3 6 1 3 6 1 6-3 15 0 5 3 5 5 5 5 3 6-1 4-4 6-2 4 1 6 11 0 10-1 2-5 3-4 1-6-4-4-2-6 1-3 5 0 6 3 5 6 3 9 0 5-1 6 1 8 6-2 6-3 4-3 6 4 13-1 7-12 4-7 4-4 5-2 1-1 6-3 2-4 0-10 2-2 0-4 3-4 5-4 2-2 2-10 3-4 2-6 5-2 8 2 6 6 1 4 0 5-1 5-3 6-1 10 0 4 1 11 5 5 4 4 2 6 0 4-4 1-4-2-6-5-4-4-4-3-6 1-6 2-5 6-1 4 1 10 0 6-1 10 0 8 2 4 0 8-4 1-2 9-4 2 0 2-2 6-3 3 15 7 6 4 0 6-4 2-2 3-6 1-4 0-6-1-4 2-10 3-6 4-6 6-3 0-1 4-1 4 1 2 2 2 8 2 10 0 6-1 4 1 8 1 2 5 5 0 1 6 4 1 6-1 4 0 10 4 4 1 2 3 1 6 4 1 5 0 10-2 5 0 5-3 14-2 6-2 4-1 6 0 4-1 6-3 4-2 10 2 10 0 6-7 5-5 0-5-5-1 0-2-10-2-6-1 0-4-4 0-1-6-1-6 2-4 2-9 12-1 2 0 8-4 6-7 4-7 6-6 1-6-3-4-4-6-4-4 0-6 1-5 3-3 6-2 6 0 4-3 4-2 6-4 4-1 2-4 2-6 1-14-3-6-1 0-1-4-4-1 0-5-4-4 0-6 3 0 1-4 2-6 2-5 6 0 4 5 6 6 2 4 0 6-1 4 1 4 2 2 2 2 4 8 3 4-3 2 0 8-6 6-1 5 1 2 6 3 4 4 7 6 4 4 0 6-6 1-5 2-4 2-10 3-6 6-4 6 0 4 4 1 0 5 4 1 2 3 1 4 3 2 4 1 6-1 6-5 9-1 5 0 6 6 5 0-1 4-3 5-1 1-1 4 0 2 1 4 0 7 4 2 6 0 4-2 6-7 4-6-2-4-2 0-1-6-3-4-4-6 4-4 7-2 1-4 4-4 0-6-2-4-3-6 0-5 1-5 2 0-2-7-10-7-6-13-4-7-1-9-3-10-6-1 0-6-4-4-6-6-3-4 0-5 3-4 6-7 3-1 1-2 6 3 7 3 3 3 6 0 16-1 2-1 6 0 10 1 4-2 6-3 5 0 5-4 9-6 3-2 2-1 6 3 7 2 3 1 4-5 6-6 4-3 6-1 4 0 6 1 4 0 6-3 14 0 2-2 4-4 3-4 2-10 3-4 2-2 0-6 4-4 5-2 11-2 4-1 0-8 6-7 2-4 2 0 1-5 5-1 0-3 4-1 3-4 3-6 1-20 0-6-1-5 0-9-4-9-6-5-10-1-6 2-10-2-10-1 0-1-4 0-6-2-10-3-4-6-6-2-1-6 0-5 1-5 3-6 7-2 6-6 3-6 1-4 0-9-4-7-5 0-1-4-4-1-6 0-5 4-9 1-6 0-4 0-1-10-3-8-2-6-1-10-3 0-1-6 0-3 5 4 6 0 4 1 5-1 5-5 4-6 0-5-4-1-4 3-6 3-4 0-3 3-3-7-3-6-1-9 4-5 4-6 0-3-4-1 0-10-8-7-6-3-6-3-4-1-6 3-14 0-6-2-4-3-3-4-1-6 3-5 1-5-9 0-3 2-4 4-2 9-2 0-1 5-2 6-4 2-3 5-10 3-5 5-1 9 4 6 1 0 1 4 2 5-2 0-5-4-5-5-3-6-7-3-16-1-4 2-6 5-4 8-16 4-4 3-10-2-6-9-4-6-6-1 0-4-4-10-5-1-1-9-2-6-2-4-3-2-3-4-3 0-1-4-6-2-4-4-14 0-2-5-10-4-4-2-6 0-4-1-6-2-5-4-5-2-1-2-3-3-6-1-4 0-10 3-6 6-4 2-6-2-10 0-10 3-10 3-4 0-6 1-1 6-1 4-2 2 0 8-4 10 0 10-2 8-4-1-6 1-4 2-4 6-1 3 5-1 4-2 3-4 3 4 3 10-3 4 0 6 3 4 1 0 1 6 0 0-1 7-4 3-3 1-3 6-10 3-7 0-3-7 0-13 3-6 1-4 0-3-4-1-4 0-6 2-10 6-5 6-4 0-1 4-5 3-9 0-26-2-10 0-10 7-10 8-8 4-6 2 0 8-6 1 0 4-4 5-9 10 0 6-1 8-6zM-171 -132l-1 0-6 4-3 6-1 4 2 6 2 2 6 2 10 0 14-4 0-1 6-3 3-6-3-8-6-5-4-2-6 0-10 3zM-60 -62l0 4 2 6 3 0 3-2 0-5-6-5zM52 -62l2 4 4 3 4-1 2-2-6-6-6 1zM25 -28l-3 7 4 9 4 4 2 6 6 3 3-9 0-10-1-4-2-4-3-2-7 0zM34 12l-2 2-2 8 2 9 6 6 10-8 0-1 4-6 1-4-1-3-4-1-4-2-2 0-4-3zM-176 18l-2 0-4 4 0 2-2 4-1 4 3 6 4 2 7 2 3 2 10 3 6-1 6-4 4-4 0-6-6-6-4-5-6-4-10-2-4 1zM2 18l6 8 5 2 0-6-5-4 0-1-6 0zM29 82l-1 1-6 2-10 5-2 2-2 6 0 4 1 6 0 4-1 3-6 4-4 1-9-2-1-1-10-3-4-2-6-1-6 0-4 4-6 10-1 7 1 6 6 6 4 3 6 1 4 2 2 2 1 6 3 5 2 5 2 2 4 2 2 2 4-4 1-2 1-6 4-5 4-6 6-3 4-1 6 0 4 1 3 4 0 6 3 5 4 4 6 1 11-10 3-4 10-2 4 0 6 0 7-4 1-6-2-7-3-3-3-1-4 0-6 1-4 0-7-4-4-6-5-5-3-5 3-9 2-5-1-6-1 0-4-8-3-2-3 0zM-83 102l-3 16 4 5 4 1 6-4 1-2 1-6-2-10-6-3-4 3zM26 202l-8 2-10 3-1 1-5 1-5 9-3 14-3 10 0 6 1 5 3 5 7 5 6 1 4 0 4-2 2 0 4-3 6-3 5-4 7-4 2-3 4-3 2 0 4-3 4-1 3-6-1-7-1-3 0-10-1-4-4-5-4-1-20 0zM-53 212l-3 10 3 6 8 0 3-2 4-4 0-4-4-7-6-3-4 4zM-248 56l5 0 3 2 3 5-5 3-6 0-2-4 1-4zM-278 85l6-2 14 4 2 1 3 4 1 6-2 4-5 6-9 4-2 6 4 4 4 3 5 3 0 5-11 0-4-2-6-5-1-4-2-4-2-6-1-5 0-5 2-8 0-2 2-4z"/>
<path fill="#74ed12" d="M-108 -314l6 0 7 2 7 0 16 3 5 1 13 6 3 4-1 6 4 3 6 0 4 2 6 4 0 1 4 4 0 10-1 6-3 7-9 7-2 6 3 4 8 3 4 1 10 0 6-2 4-2 6-4 4-3 6-1 4 1 3 3 3 6 2 8 3 6 9 2 6-1 4 0 4-1 5-6 1-3 2-1 4-4 1-2 7-4 5-6 3-4 6-10 2-4 6-5 4-2 6 1 4 3 6 1 10-2 4 0 5 2 1 6 0 4-1 0-1 6-2 4 0 6 1 4 9 10 3 6 0 4-1 6-2 4-1 6 5 6 4 4 10 3 6 1 5 0 2 6-3 6-1 4 0 4 3 6 1 4-6 6-7 2-4 2 0 1-5 5-1 0-4 7-6 2-10 3-4 2 0 1-5 5-11 4-10 5 0 1-4 5-3 9 0 6 3 4 4 2 10 0 10-3 10-2 6 0 11 3 3 3 6 3 4 3 6 1 4-1 4-3 2-3 1-7-1-5-5-5-5-8-1-3 2-5 13 0 6-1 10 0 10 5 4 4 4 2 6 6 1 0 0-6-1-5 1-5 5-4 4-2 5 6 3 10 2 2 6 1 10-6 4-5 6-3 1 1 2 6 2 4 5 4 4 0 6-1 2-3 2-10 5 6 1 4 0 10 2 6 2 2 4 2 6 6 1 4-3 16-2 10-7 14-1 6 0 4 1 6-3 9-6 4-10-6-4-3-6-1-4 0-6 3-4 5-4 3-4 6-2 4-1 0-1 6 0 4-8 7-10 4-6-3-2-2-2-4-6-3-7 1-13 7-5 3-2 6 0 4-2 6-11 6-5 4-9 0 0-1-5-5-1 0-4-6-6-1-6 3-6 4-2 2-7 4-3 1-6 4-2 5 0 4 5 6 7 4 0 1 6 4 3 1-9 7-1 3-9 6-7 8-1 6 1 4 3 6 4 4 3 10-1 6-2 4-2 6-2 4-1 0-3 10 1 6 0 4-1 6-6 7-5 7 0 5 4 11-2 4-5 6-2 4-1 0-2 6-3 4-4-1-4-3-3-6 0-10 1-4 0-4 0-2-4-4 0-1-6-1-8 2-16 0-16 3-4 0-7-3 1-6-3-14-1-6 0-4 2-6 2-4 1 0 5-4 5-2 5 1 4 9 0 4 1 2 5 4 4 2 6 0 5-2 5-5 2-5 2-3 10-3 6 0 4 1 6 0 4-2 3-3 0-10-1-4-2-4 0-2-4-4-6-1-10 0-4-2-4-3-3-4-1-6 2-10 1-4-3-6-4-4-4-7-2-9 2-9 1-5 0-10 3-6 5-4 1-2 6-6 3-8 4-4 8-6 5-2 2-2 0-6-2-4-2 0-4-2-9 3-6-1-5-3-3-7-1-6-5-10-5-3-6-2-4 0-6 1-8 4-1 6 3 10 2 4 2 10-1 6-10 0-1-1-10 0-10-2-6 0-5 3-2 4 6 6 7 2 5 2 5 4 4 6 0 2 2 4 3 14 5 4 6 1 4 1 8 4 2 6 0 4-4 6-9 4-1 1-6 2-4 3-4 4-2 6 0 10-4 4-6 0-18-4-12-4-4 0-6 6 0 2-3 6-1 4-1 0-1 6 0 4 1 6 5 9 7 5 8 10 2 6 9 6 4 5 4 3 2 4 0 2 2 4 2 6 2 10-2 4-1 6-4 10-2 4-1 6 2 10 3 4 2 6 7 6 4 2 6 1 10-2 4-3 9-4 1-2 6-3 0-1 4-3 10-5 6-1 4 0 6 3 3 6 1 6 0 4-5 6-9 4-2 0-4 2-11 8-3 10-1 6-9 7-6 2-10 5-4 6-6 4-4 2-6 1-4-1-6 0-4-1-6 0-10-2-7-3-5-6-1-4 0-6 2-4 1-6-1-4-3-6-3-4-3-14 0-2-4-8-2-2-8-4-5 0-5 0-6 1-4 0-6 2-1 1-4 10-5 4-1 2-6 0-13-10-2-6 0-4 2-7 2-3 4-4 4-2 6-2 3-2-2-6-1 0-6-4-4 0-6 2-4 2-16-3-4-1 0-1-6-3-1-2-9-3-10 3-4 2-16 3 0 1-4 1-6 0-4-2-7-5-5-4-4-5-2-5-1-6 0-10 2-10-3-11-4-3 0-6 4-3 0-1 4-5 0-2 6-7 1-2 3-2 6 0 11 2 3 3 6 1 4-8-1-6-3-4 0-2-5-4-1 0-3-4-1-6 0-4 4-6 6 1 4 0 1-1 0-4-5-6 0-10 4-13 1-1 2-6 3-4 4-2 6 1 0 1 4 2 6 1 4 0 6-1 4-2 6-1 4-2 6-1 3-6-3-2-3-4-3-1-4-5-4-4-6-4 0-1-9-5-7-1-4 1-5 0-5 3-6 6-4 9-6 2-4-3-3-1-7-6-6-2-4-2 0-1-10-2-6-2 0-1-7-4-3-4 0-2-3-4-1-9-1-1 0-6-3-10-5-4-3-6-2-10-2-4-4-6 0-1-4-3-3-6-1-4 2-11 5-5 1 0 3-4 0-6-2-10 0-10 3-5 6-7 0-2 4-4 3-2 3 0 4-3 6-1 4 1 6 0 4 1 10 0 9-2 7-4 10 3 0 1 7 4 2 6-3 14 2 6 5 4 1 2 6 2 4 0 10-2 6-2 4-2 6-2 5-6 2-4-2-6-1 0-4-8-2-2-8-4-5 0-1-1-4 0-6-3 0-7 2-5 4-5 4-6 3-3 2-6-2-4-3-4-4-2-6 1-4 4-10 3-6 0-2-2 0-6 2-7 3-3 3-1 7-9 2-4 2-10 0-6 3-11 7-3 4-6-11-2-4-5-2-7 0-6 6-8 7-6 3-5 10-5 6-3 4-4 5-4 5-1 6-2 4-3 6-3zM109 -238l3 4 3-4-3-1zM-85 -128l-3 6 6 7 4 1 5-4-1-4-5-6-3-1zM-10 -72l0 4 2 6 6 2 4-2 2-6-2-5-4-4-6 1zM-68 -68l3 16 1 4 2 4 5 2 5-2 5-4 3-4 0-6-8-11-6-3-4 0-6 4zM46 -68l-1 6 3 5 4 5 10 3 6-1 3-2 1-6-4-6-5-4-5-2-6 0-4 1zM-73 12l1 3 4 1 2-4-2-2-4 2zM86 18l0 4 1 6 0 4 1 4 5 2 5-3 5-7 1-6-2-1-4-6-6-2-4 2zM61 42l-1 6 2 7 6 5 4 1 6-1 5-2 4-6 1 0 2-10-2-4-10 3-16 0zM-84 92l-4 7-1 9-2 9 1 5 2 5 10 3 6-1 4-4 4-7 0-10-1-6-7-10-5-2-5 0zM-63 178l-2 4 1 6 4 4 2 3 4 3 0 4-1 6-4 10-2 10 3 3 6 1 4 0 6-2 4-2 2 0 4-5-1-5-3-6-4-4-2-3-6-4-3-3-3-16-2-4-2-1-4 0zM158 -229l4 1 2 6 0 4-2 2-4 2-5-4-1 0-2-4 2-4 2-2zM268 -159l4 0 2 1 3 10 0 6-2 10-3 4-4 2-6 0-1-6 0-16 1-5 4-5zM212 68l6 0 4 1 7 3 4 6 1 4-1 6-2 4-3 10-1 0 0 16-2 4-3 3-4 1-6-2-14 0-6-3-4-5-4-4-6-3-6-1-11 0-9-4-4-4-4-2-4-6 2-3 6-1 7-6 3-1 4-3 6 1 7 9 8 10 5 2 7-2 3-2 1-4 2-4 2-6 5-9 0-1zM128 77l0 2-2-1zM132 81l2 1-2 2-3-2zM-272 87l0 1 4 0 8 4 2 6-4 3-10 5-6-2-1-6 1-7 5-3zM138 87l0 2-2-1zM252 112l3 0 3 2 3 4 1 4 0 1-4 3-6-1-4-3-3-4 5-6z"/>
<path fill="#adee13" d="M-82 -308l14 4 6 1 2 5-1 6 1 4 2 3 6 3 10 0 6 4 2 6 0 10-8 10-6 5-4 4-6 2-4 2-4 1-2 3 0 4 6 3 9-4 0-1 5-2 6 1 4 2 16 3 4 0 8-3 2-2 6-3 0-1 4-2 6-1 3 3 3 10 1 6 3 6 4 2 6 0 4-1 10 0 6 1 4-1 6-10 1-3 3-4 1 0 9-9 2-1 3-6 1 0 2-4 2-6 6-6 4-2 10 3 10-2 6-2 4 2 2 3 0 4-2 6-4 4-6-1-4-3 0-1-6-4-4 0-6 3-3 6 0 6 9 7 4 4 6 5 4 2 6-2 4-4 6 3 3 5 1 4-2 6-2 4 0 5 2 5 2 3 4 3 2 0 7 4 7 6 2 4-2 7-4 7-6 0-4-1-6 1-2 2 0 4 5 6 2 4-1 6-2 4-6 3-6 1-5 2-7 4-2 2-10 3-2 1-4 0-4-6-6-4-4-1-1 1-5 1-7 3-2 6 5 4 4 2 10 2 1 2-2 10-2 4-1 6 0 10 4 4 16-3 14 0 6-2 4-2 6-1 4 0 6 1 4 4 6 3 4 3 6 2 10 0 4-1 2-4 3-14 0-6-5-4-5-6 0-4 1-1 4 0 6-1 4 0 6 1 0 1 4 4 1 0 1 6 10 10 3 4 2 10 3 5 6 0 1-5 0-4 1-6 2-3 5-1 5 0 6 2 7-2 6-6 7-2 10 2 7 0 3 1 4 5 6 6 7 8 1 6-3 10-3 10-2 4-1 0-3 16 0 4-1 7-5 1-10-2-6-1-4 0-6 1-4 4-1 0-5 6-4 4 0 1-5 5-1 0-4 9-6-2-2-3-2-1-6 0-4 2-6 2-10 4-4 2-10 3-10 2-6 7-1 5-3 6-6 4-4-1-6-4 0-1-4-3-5-1-3-6 0-4 2-10 2-10 0-6-2 0-4-3-6 1-4 8-3 10-4 4-3 2-3-2-3 0-4-4-6-3-9-13-3-4 2-6 3-4 2-6 0-4-5-9-1-1-2-6 0-10-1-4 0-10-9 0-1-1-10-2-10 0-6 1-9 6 2 6 3 1 4 5 6 6 4 2 0 1 6 2 10 2 0 1 4 4 0 14 4 6-3 6-10 4-7-4-2-6-2-4-2-6-8-6-4-2-20 0-4-2-2 0-6-4-3-6 0-4 3-6 3-4 3-6-2-4-5-6-6-4-1-3-6-2-3 5-1 0-3 4-1 6 3 10 1 0 5 9 3 5 1 6 0 4 1 6 0 4 1 6 2 4 2 6 2 4 0 6-7 2-10-2-6 0-4 1-5 3 0 1-5 5-3 4 3 6 10 3 4 3 6 2 7 6 1 6-3 10-2 4 1 8 1 3 4 5 5 2 6-2 4-3 6-1 4 1 3 3 0 4-5 6-2 1-6 1-10 4-1 4-2 4-1 6-2 4-4 3-4 1-6 0-4-2-6-1-4-2-8-3-2-2-6-1-6 3-4 1 0-1-4-4-1-2-5-4-1 0-3-4-4-2-6-1-4 1-2 2-1 4-2 4-1 9-1 1-1 6 0 4-1 6 0 4 1 6 6 4 6 1 4 2 6 0 4-1 6 1 1 3 3 4 1 0 3 6 4 4 2 6-6 10-4 2-4 0-6 2-3 10 0 6 3 5 5 5 1 0 2 4 1 6-3 10-3 4-2 6 1 4 4 4 4 1 16-3 5-2 11 0 4 2 0 4 2 4 2 6 6 9 4 7 7 4 3 1 10 0 6-1 4-2 6-2 1-2 3-1 10-7 2-2 8-4 6 1 4 3 1 6-1 4-6 6-4 1-10 6-6 7-2 10-2 6-4 3-6 2-4 2-6 1-4 3-9 9-7 1-10 0-4-2-16-3-4-2-2-4 2-4 0-2 3-4 0-6-3-9-6-4 0-1-4-6-2-10-4-6-4-7-3-1-3-3-10-2-4 0-6-1-4-4 0-2-4-8-7-6-5-2-4-4-10-3-6 2-5 3-10 0-5-2-5-3 0-1-6-4-3-3-6-2-4 0-6 2-2 3-2 1-6 1-4 2-10 2-6 0-4-2-6-4-7-10-2-6-1 0 0-13 1-1 2-10-2-10-1-2 0-4 2-4 2-6 4-4 2-3 6-1 10 2 4 4 6 2 4-1 2-3 2-10-2-6-5-10-1-4-1 0 0-6 5-1 10-3 3-6 1-4-2-6-4-4-1-6 2-4 1-4 6-1 0-1 4-1 7-3 3-2 10 0 10-3 10 0 4-5 2-4 0-9-2-3-8-2-6-4-4-4-6-5-5-5-9-4-8 0-2-1-10-2-6 2-3 5-1 3-6 5-4 1-8-3-2-3-6-4-4-2-6 0-4 1-6-1-7-7-3-5 0-14 3-5-1-6-6-4 0-1-6-4-3-5-1-5-6-10-4-5 0-2-2-4-1-4 2-10 7-6 4-4 4-6-4-2-3-8 0-4 5-6 7-4 0-5 5-6 6-1 24 0 6-2 4-3 6-3 4 1 6 3 3 6 1 4-1 6 0 4 1 6 10 10 6 2 4 0 10-2 0-1 6-2 6-3 4-1 5-3 5-5 1-5-2-6-6-9-3-8-6-2 0-1-4 0-6-1-3-3 1-6 3-4 5-5 0-1 4-4 1-6-1-4-5-6-5-4-4-6-4-4-1-6-1-4 0-13 1-3 10-10 9-4 6-1 4-2 2-3 1-4-2-6-5-3-9 3-1 1-6 1-4 0-6-1-3-5 1-6 2-3 2-1 4-4 4-6 2 0 4-3 6-3 4-1 5-3 5-4 4-2 16-3 4 3 1 6 3 4 6 3 4 3 3 0 2-5-4-5-3-6-1-4 9-5 3-1zM-124 -188l-2 6 3 4-1 6-4 7-3 7 4 4 1 2 4 1 4 3 6 1 4-3 1-2 1-6-3-10-3-3-3-1-7-6 0-10zM-44 -182l-14 0-10 2-4 2-3 0-3 6 6 5 4 2 16 3 10-5 0-1 4-3 6-3 3-4 2-4-5-2-6 1-4 0zM-90 -132l-2 4 0 6 1 4 3 7 4 3 2 3 4 1 6-2 4-3 2-3 0-6-2-5-4-6-6-4-4-2-6 1zM-27 -112l-1 4 0 7 7 3 3 2 6 2 3 2 1 4 1-4 3-6 1-4-2-6-7-6-10-3zM-255 -102l-2 4 9 3 6-2 0-7-6-3-4 2zM-64 -78l-4 1-8 4 1 5 3 4 0 2 2 4 1 6 0 4-3 9-2 1-2 6 4 3 4 0 6-1 4-4 6-3 0-1 8-4 5-6 2-4-1-6-3-4-3-6-5-4-3-4-10-2zM-73 2l-5 5 0 1-4 4 0 2-4 4-3 4 0 6 3 0 4-2 10 0 10-3 3-5 0-6-3-10-6-4-4 4zM-201 172l-1 6 0 4 1 6 3 5 6 3 4 0 6-2 2-6-2-7-3-3-7-10-6 1zM-132 183l-1 0-2 5 1 4 2 2 4 0 6-1 0-1 4-3 3-1 3-4 3-2-9-2-4 0-6 1zM72 19l6 0 2 3 2 6-2 4-2 2-6 1-5-3-1-4 2-4 0-2zM112 27l6-2 4 1 4 2-4 3 0 1-5 6-5 2-4 0-2-2 1-6 1 0 4-4zM52 60l4 2 2 2 1 4-2 6-5 2 0-14zM88 67l4 0 10 5 1 0 5 5 0 6-5 5-1 0-4 4-1 0-5 7-2 9 2 8 1 2 4 4 3 10-1 6-1 2-6 2-3-4-2-6-5-6-4-3-10 0-1-1-5 0-4-4-1-6 2-4 1-6 0-4 2-10 2 0 8-4 2-2 1-4-1-6 4-3 7-1zM212 74l6-1 4 1 6 3 2 5 0 6-2 4-1 0-2 6-2 4 0 6-1 0-1 4-3 5-6 0 0 1-5 0-5-1-4-2-3-3-1-4 4-5 0-1 4-4 2-10 2-6 3-4zM158 87l4-3 6 3 3 5 1 6-4 4-6 0-7-4-1-6 3-4zM12 157l4 5 1 6 1 4 3 6 7 2 10 0 10 2 4-4 0-12 3-4 7-2 6 0 10 2 7 6 2 4-1 6-8 10 0 1-6 3-4-1-7-3-3-2-6-2-1 4-3 1-5 4-21 0-4 1-6-1-3-5-1-7-5-9 0-4 2-6 3-3 4-1zM-32 177l4 1 7 4 5 10 3 16-3 10-2 2-4 0-6-5-4-5-6-5-4-6-2-1-3-10 4-6 1 0 4-4 4 0zM68 214l3 4-3 3-2-3zM-118 237l2 1 4 0 6 4 1 6-2 10-5 6-6-1-4-4-2-1-2-6 0-4 1-6 3-4 4 0z"/>
<path fill="#e5f015" d="M-132 -290l4-2 6 0 10 6 3 4 9 4 2 3 8 3 3 0 5-3 1-3 3-5 6-4 6 5 4 1 4 2 5 1 1 1 4 0 6 1 3 4 1 4-1 6-3 4-1 0-5 5-4 2-14 3-2 1-5 5-3 4-2 4 0 3 6 8 0 1 4 2 6 2 10-6 4-4 6-1 4 0 5 1 5 3 6 1 4 0 6-1 4-3 6-2 4 0 3 2 2 6 0 4-1 6-4 4-8 6-2 0-6 4-4 2-6 4-8 2-10 2-6 1-4 0-10-2-7 1-3 3-6 2-10 0 0 1-6 4-4 5 0 1-5 0-5-3-4-6-2-1-2-10-3-6-3-1-6 2-4 5-5 4-1 2-4 1-4-3-2 0-4-4-1 0-4-9-1-1-1-6 1-4 1 0 4-6 1 0 3-4-1-6 2-4 10-2 5-4 1 0 2-10 0-4-2-7-6-6-4-2-6 1-5 4-5 1-4 0-3-1 0-6 4-4 3-4 10-5 6-3 6-4zM-115 -228l-3 3-3 7 3 8 6 2 4-4 1 0 3-6 3-4-1-6-6-1-4 1zM118 -260l0 4-4-2zM73 -234l5-2 4 0 6 2 4 2 6 4 1 0 7 10 0 6-5 4-5 6 2 5 9 5 8 0 7-4 6 2 1 2 3 2 6 3 4 5 2 4-6 5-10 0-1 1-5 1-2 3 0 10 3 6 5 4 1 6-1 1-11 3-5 1-4 2-6 2-4 0-6-1-8-4-6 0 0 1-16 3-4-1-6-4-4-1-4 2 0 5 8 8 2 3 4 3 0 1 4 4 6 3 5 3 1 6-5 10-2 4-5 5 0 1-4 1-16 0-9 3-5 3-6 1-4 0-6-2-4-5-2-1-3-10 3-10-2-6-6-4 0-1-6-3-1-2-3-2-6-3-3-5-1-5-7-15-3-3-3-1-3-3-1-3 2-4 5-4 1-2 7-4 6-6 6-2 4-2 5 0 9-6 6-8 10-9 5-3 5-2 6 0 7 2 5 6 2 7 6 0 4-3 0-4-1-6 0-10 1-4 1 0 2-6 5-4zM20 -108l0 6 8 6 4 4 6 2 4-2 0-1 4-5 1-4-6-6-13-3-6 2zM122 -221l3 3-1 6-2 2-4 0-3-2 3-6zM-92 -165l10 0 4 1 3 2 3 0 4 2 7 2 4 6 2 4 4 6 3 1 6 5 4 4 0 1 4 3 3 6 0 4-1 6-2 4-2 6-4 4-2 4-6 6-4 5-6 0 0 1-11 0 0-6 2-4 6-6 3-5 0-9-2-6-2-5-4-5-5-4-1-2-5-4-5-3-6 0-6-1-4-8 0-12 1 0zM-132 -144l4-1 6 2 4 2 10 2 6 0 4 1 1 6 0 4 1 6 0 4 4 13 0 7 1 6 0 4 2 10-3 3-6 2-10-2-4 0-6 2 0 1-6 4-3 10 3 10 0 6 3 10 3 2 6 2 5-4 0-6-1 0-2-4-2-6 0-4 2-6 2-3 3-1 3-3 4-1 6 1 4 0 6 1 7 6 1 6-2 4-6 6-3 4-1 6 2 4 6 6 5 4 2 6-1 4-1 0-2 6-3 2-4 6-13 12-3 1-4 3 0 2-4 4 4 4 4 6 2 4 1 6 0 4-3 3-4 1-6 0-4-2-5-6 0-6 2-10-7-4-4 0-6-2-5-4-1 0-4-4-1 0-5-5 0-1-4-3-10-5-10-2-6-5-3-5-10 0-1 1-10 3-6-1-1-3-3-3-6-2-4 0-3 1-2 10-5 6-6-1-5-5-1-6 2-4 4-4 4-2 1-4-2-6-3-2-4-5-10-4-6-5-1-4-3-7-6-8-3-9 1-6 2-4 2 0 6-6 2-1 6-1 4 0 10-2 2 0 2-6-1-4-3-6-3-4-1-7-1-3 1-2 5-4 9 0 10-2 6-2 9-6 2 0 3 2 4 4 2 4 0 10 1 6 3 5 5 5 1 0 4 4 1 0 5 4 10-3 10-5 10-5 4-3 5-2 0-1 6-5 0-4-2-6-3-4 0-2-2-4 0-4zM262 -93l6 0 4 1 6 5 4 9 5 6 0 4-1 6-4 9-2 11 0 4-2 10-6 2-4 0-10-2-6-2-4 0-6 1-4 0-10-4-6-1-2 2-2 4 1 6 2 4 1 4 2 2-2 5-4 0-6 2-4 3-6 2-4 2-2 0-12 6-12 0-4-2-6 1-4 11-2 4-4 5 0 1-6 0-4-3-4-7-1-6 3-10 2-4 0-4 0-2-2-4-2-2-6-2-4-2-6-1-4 0-2 1-3 10-2 6-3 5-6 0 0-1-4-3-3-1-3-3-2-7 2-10 1 0 1-6 0-4-2-4 0-2-3-4-1-4-2-2-1-4 0-6 3-6 4-5 6-1 4 2 6 1 4-1 6-5 4-6 6-3 4 0 6 1 5 3 5 5 0 1 4 2 6 2 10 2 4 2 6 0 4-2 2-2 1-4-2-10 3-6 2-1 4 0 4 1 2 2 2 8 1 6 3 4 4 3 14 3 7 0 3-6-1-4 1-6 6-5 4-1 10-6 6-2 3 0zM-38 -78l10-2 6 3 2 9 5 10 3 8 1 8 3 14 0 6-3 10-11 2-6 4-1 4-5 4-4 5 0 1-4 4-1 0-4 6 5 1 4 2 16 5 4 5 2 1 1 6-1 4-3 6-3 4 0 5-1 1 0 4 1 1 1 5 3 3 6 3 5 8 1 6 0 4-1 6-5 3-10 0-9-3-7-4-4-5-3-1-7-7-9-3-1-1-15-3-5 0-6-4-1-2-1-6 0-4 3-6 5-5 4-9 1 0 8-6 7-2 5-2 5-5 0-1 4-4-7-10-1-6-2-4-2-10 1-6 11-11 6 0 1 7 3 2 6 3 0-1 4-4-1-6-3-4-3 0-1-6 4-5 1-5 0-4-1-6-5-10-1 0-2-4 2-6zM12 -58l6-3 4 0 6 1 4 2 0 1 6 3 4 5 2 1 2 6-8 2-16 0-4-2-2 0-4-4-2-6 2-6zM58 -39l3 1 2 6 0 5-5 0-3-5-2-6zM-158 62l4 0 2 1 4 0 11-2 6 1 9 5 0 1 4 3 4 1 6 5 7 5 4 6 2 4-2 10 0 6-3 14 0 6 2 5 6 1 9 4 5 2 9 2 7 5 0 1 4 4 0 4 0 6-4 3-6 0-4 3-2 4-2 6 0 4-1 6 2 4 3 2 7 8 2 6-1 4-6 10-3 10-5 5-4-2-6-6 0-1-5-6-9-4-2 0-8-6-6-3-4-1-6 2-4 2 0 1-5 1-11-3-4-3 0-1-7-5-3-3-4-1-4-6-2-4 0-2-6-8-3-6-1-4 1-6 2-5 0-5-2-10 0-4 1-6 0-4-2-7-2-3-2-6 2-4 2-2 10-3 0-1 4-4 1 0 0-6-1-4 0-5 1-1 0-4 4-11 1 0 4-5zM-130 92l-5 6 0 4 2 6 5 3 6-2 1-1 1-6-2-8-6-3zM-98 168l-14 3-6 1-4 2-10 2-4 2-2 0-4 4-1 6 0 4 3 6 2 2 10 2 6-2 3-2 1-2 6-3 0-1 4-2 6-2 4-1 6-3 2-6-2-9-5-1-1-1zM212 79l6-1 4 1 4 3-2 10-3 6-3 4 0 3-6 4-4-1-1-6 0-14 3-6zM72 95l6-1 4 0 2 4 0 4 2 6 0 10-4 1-10 0-5-1-2-6 2-10 2-4zM-218 140l6-2 4 0 6 2 2 2 2 4 2 2 1 4-2 6-1 0-5 5-5 4-2 5 2 6 1 5 0 15-1 3-4 0-6-4-4-5-2-4-1-6 2-10 1 0 1-4 0-6-1-4 0-4 0-6 3-6zM62 166l6-1 4 1 6 4 1 2 0 6-1 2-6 3-4-1-5-4-3-6 0-4zM-38 186l6-2 4 1 6 4 2 9-2 9-6 0-5-3-1-2-5-4-2-6 2-4zM-42 237l4-1 6 1 4 2 6 7 0 2 3 4 1 4 2 1 4 7 3 4 7 3 4 1 4 0 12 0 4-1 6 0 3 1-1 6 0 10-2 6-6 3-4 0-3-5-7-4-6 5 0 5-3 10-1 2-4 2-2 2-4 0-6-1-4-1-8-4-4-6 0-14-2-6-7-10-5-5-4-9-1 0-5-10 2-6 8-4 3 0zM-122 245l4-2 6 4 1 5-1 5-1 1-5 1-2-1-3-6 0-4zM48 256l4 0 2 2-2 5-4 2-6 0-1-3 5-4z"/>
<path fill="#efc314" d="M-132 -285l4-1 6 0 4 4 8 4 2 2 6 3 0 1 4 3 6 3 10 2 4-1 8-7 2-1 11 0 9 2 4 3-2 6-2 2-4 1-6 0-4 1-5 0-5 4-1 2-4 4-5 9-2 1-4 4-4 1-6 0-10-2-4 0-6 1-4-2-3-6-3-16-4-8-9-6 0-6 5-4zM72 -228l6-2 4 0 7 2 6 6 1 4-2 6-6 4 0 1-6 3-4 1-6 0-4-5-2-4 0-6 2-4 4-6zM-88 -225l6 2 0 1 6 4 4 4 4 6 0 6-4 4 0 1-6 4 0 1-4 2-10 0-4 2-6 7-3-1-3-3 0-8 4-5 2-5 0-5 4-7 8-7zM-42 -225l4 0 6 2 4 3 5 2 3 10-1 6-11 8-6 1-4 0-6-2-6-7-2-6 1-4 3-3 1-3 3-4 1 0zM-138 -220l6-1 3 3 1 6 0 4-2 6-2 3-2 1-6 6-2 1-6-2-5-9 0-6 1 0 4-4 0-1 7-5zM32 -204l6 0 3 6-2 6-3 4-2 6 0 4 2 6 2 1 4 0 6-2 6-9 4-4 4-2 10-2 6 0 9 2 5 2 10 2 6 0 5 1 2 5-3 11 1 5-3 10-2 2-6 2-4 1-10 0-6 2-5 3-9 2-6 0-4-2 0-1-6-3-4 0-6 1-5 7 0 6 1 0 4 7 6 6 0 3-6 2-10-2-4-4-5-2-5-1-8 5-2 2-6 0-9-6-2 0-9-11-1-5-2-4-2-6-3-4-2-4 0-4 1-2 5-5 0-1 4-3 5-2 5-1 6 0 4-1 6-3 3-4 3-6 5-4 3-4 9-6zM92 -178l-4 6-2 4-1 6 3 6 4 3 6-2 3-7 1-6-4-9-6-1zM-82 -156l14 3 6 6 1 5 3 4 10 5 6 3 2 2 3 6 1 4-1 6-5 5-6-1-4-6-4-8-3-6-3-4-1 0-5-5 0-1-5-4-5-5 0-1-4-3-3-1zM-202 -134l4 3 2 3 0 10 2 6 6 8 6 6 4 9 6 4 2-3 8-4 8-6 2 0 4-3 6-3 6-4 8-4 3 0 3-2 4-1 5-3-5-4-4-6-2-4 2-2 4 0 10 2 6 4 0 16 4 14 0 10-1 6-3 1-6 0-11 3-8 6-1 0-3 4-2 6 0 4 1 6 2 4 2 10 0 2 2 4 4 4 4 3 5 1 5 0 6-2 3-2 1-4-7-10-1-6 0-4 4-4 4 0 6 2 2 2 1 4-1 6-2 4 0 2-4 4 1 4 3 1 5 5 7 4 2 6 0 4-2 6-4 4-4 3-4 5-4 2-6 5-10 5-10 2-6 0-4-2-5-4-1 0-5-6-5-4-1 0-3-4-10-5-6-1-4-6-6-6-4-2-6 0-10 2-10 0-4-4-6-2-5-2-5-5 0-1-4-4 0-2-4-4-2 0-4-3-7-1-9-9-4-9-2-2-3-10 1-6 8-7 6-2 14 0 10 2 6 3 4 4 6 3 4 4 6 2 3-3-4-6-5-2-3-2-4-6-4-10-3-2-6-3-7-9-1-6 1-4 7-2 10 0 6-3 0-1 4-3 3-1zM12 -93l6-1 4 3 6 3 0 5-1 1-5 1-4 0-4-1-2-2-1-4 1-4zM252 -84l10-3 6 1 2 4 2 10 3 4 1 6 0 10-1 4 0 10-2 6-5 2-6-1-2-1-5-6-1-4 0-10-2-2-2-4-8-7-2-7 1-6 2 0 5-4 1 0zM132 -78l6 1 10 10 4 3 6 2 9 4 5 2 6-1 10-3 4 0 4 2 6 5 10-3 6-1 4 1 6 0 4 2 7 6 1 6-2 2-6 2-4-1-10 0-3 1-2 11 2 9-1 6-2 0-4 4 0 1-10 5-6 1-10 0-7-1-11-6-2 0-4-4-6-2-4-2-6-1 0-1-10-3-2-1-3-6 2-10-1-4-6-2-4 0-4 2-2 0-4 4-6-2-8-8-2-5 5-5 5 1 10-2 6-4 4-7 8-8zM22 -54l6 0 7 6-3 3-4 0-6-1-3-2-1-4zM-48 -13l2 1 4 0 5 4 0 6-4 4-1 2-6 1-4-7 0-6 4-4zM148 7l1 0 3 5-3 6-2 0-2-6 2-4zM-38 27l5 0 5 2 4 3 1 6-3 10-2 4-1 6 0 4 1 5 6 9 4 4 3 2 3 6 0 5-6 4-10-2-10-7-4-6-6-5-4-5-9-4-1-2-6 0-4 1-6-3-1-6 1-5 6-8 4-4 9-3 11-8 6-2zM-108 40l3 2-2 6-1 0-2-6zM-142 72l4-1 6 0 5 1 4 6-2 4-3 1-6 5-4 4-2 6 2 8 1 2 9 7 6-1 5-6 2-6 0-10 3-4 10 5 2 5 0 4-2 10-3 16-1 4 0 6 4 1 10 0 10 3 4 4 9 6 3 6-6 0-6 1-4 3-10-2-6 0-8 2-12 4-2 2-2 0-10 3-7 1-9 3-4 3 0 1-4 3-1 6-1 0-2-6-4-4 0-6 2 0 4-4 0-6-4-4 0-1-6-3-4-6-1 0-2-6 0-4 2-10-2-6-3-2-1-2 0-6 1-1 6-1 5-2 5-7 4-13 2-6 4-5 4-3 5-2zM218 82l3 6-3 4 0 2-6 0-1-6 1-2 5-4zM-212 142l6 0 4 3 1 3 0 4-3 6-8 4-4-4-2-4 0-6 1 0 4-6zM-218 177l4 5-4 5-2-5 2-4zM-98 192l10 2 7 4 11 4 3 6-1 0-1 4-3 6-5 4 0 2-5 2-4-4-2 0-4-4-2 0-14-7-5-3-3-6 8-7 10-3zM-42 241l4-1 7 2 8 10 2 6 3 7 2 3 8 5 10 5 0 4-3 6-1 4 0 5-2 5-4 5 0 1-4 1-6 0-4-2-6-4-2-5 0-10-2-10 0-3-2-3-4-4-5-6-5-4-3-6 0-4 4-6zM18 280l2 2-2 1-3-1z"/>
<path fill="#ed8b12" d="M-132 -278l4-2 7 2 3 3 6 2 4 3 4 2 2 2 6 4 8 4 1 0 4 6-1 4-4 5 0 1-4 2-6 1-4 0-6-1-4 0-6-2-4-9-1-1-2-10-3-4 0-2-6-5 1-5zM78 -225l4 1 4 2 2 5-3 5-3 2-4 1-6-2-1-7 1-3 2-1zM-42 -218l4-2 6 2 3 10-2 6-1 1-6 1-4-2-3-6-1-4 3-6zM-142 -210l4-1 3 3-1 6-6 4-2 0-4-4 0-2 2-4zM-88 -211l6 1 1 2-1 4-2 2-4 1-4 0-1-1 2-6zM22 -187l6 0 0 8-1 1-2 6 1 4 6 5 6 0 4 1 4 4-4 4-1 2-3 1-5 3-2 6 0 4-1 6-2 2-6 0-9-2-4-6 0-4 1-6 2-5 5-9 1-6-2-4 0-6 2-4zM72 -183l6 1 3 4-2 6-7 4-10-3-1-1-1-6 8-4zM-12 -164l4 2 3 4 2 6 1 0 2 4 2 11 3 5 0 4-3 4-4-1-6-3-4-4-6-12-1-4-2-4 0-6 3-4 1 0zM-202 -129l1 1 3 17 6 6 4 6 2 1 2 6 0 4-2 6-6 2-6-2-4-2-4-4-2-1-2-3-2-9-9-7-7-3-1-1 0-6 12 0 6-4 6-6zM-128 -109l6 0 6 1 4 2 8 8 1 6-1 4-4 2-10 3 0 1-4 2-6 2-8 10-3 6-1 4 2 9 1 1 2 6 0 4 1 6 6 5 6 3 2 2 2 0 10 3 6 0 4-1 6 0 4 2 0 1 5 5 1 5-3 5-5 4-2 3-10 7-6 3-4 1-3 2-3 0-4 2-6 0-6-2-4-4 0-2-4-4-1 0-5-4-4-5-4-1-6-5-7-5-4-6-9-3-6-1-4 0-10 2-9-2-7-4-7-6-7-10-1 0-5-4-4-1-6 0 0-1-6-4-4-5-3-5-3-10 2-6 4-3 10-3 10 2 7 4 7 6 2 0 10 5 5 5 5 3 4 1 6 0 4-1 6 0 4 1 6-4 2-6 0-4 1-6 7-9 0-1 14-10 8-4 2-2 7-4zM252 -79l6-1 4 2 2 6 2 4 1 6 1 7-6 1-3-4-1 0-6-4 0-1-5-5-1-4 2-6zM127 -68l5-4 6 2 2 2 2 6 6 5 4 1 5 4 1 0 4 4 2 0 4 4 4-2 2-2 4-1 4-2 6 0 4 5 5 4 1 0 4 4 1 0 5 7 1 9 0 4-1 5-6 4-5 2-5-1-4-4 0-1-5-5-5-3-4-1-2-2-5 2-9 2-6 0-9-2-8-6 0-4 3-11-4-5-2 0-4-2-9-2 3-6 3-4 2-6zM-38 32l6 0 3 6 0 4-3 9-2 1-1 6 2 10 1 0 3 10 4 4 2 6-5 1-2-1-5-6-3-1-4-6-8-7-2-4-2-2-2-4-1-6 5-7 1-3 13-10zM-148 97l6 7 1 4 4 4 7 6 2 1 6-1 8-6 3-4 2-6 3 0 0 6-2 4 0 6-2 10-4 10 0 4-3 6 0 4-1 6-4 4-6 3-4 1-6 0-4-1-6-5-3-8-2-2-10-2-4-6 5-5 0 1 4 1 6 4 4 2 6-1 2-2 1-4-7-6-2 0-7-10-3-6-1-4 1-6 2-4 4-4 3 0zM-98 144l6-1 4 2 4 3 3 4-1 1-6 1-4 0-4-2-2 0-4-4zM-208 149l1 3-3 0zM-108 201l6-3 4 0 6 2 3 2 1 2 7 4 1 4-2 2-6 1-10-2 0-1-4-1-6-4-1-5zM-38 246l6 1 0 1 4 4 0 4 0 3-4 3-8-4-3-6 1-4zM-22 275l4-1 6 2 8 6-1 6 0 4-1 6-6 7-6 0-4-3-4-4-1-6 0-4 1-6 2-4z"/>
<path fill="#ec5211" d="M-118 -265l6 0 10 6 4 2 6 4 0 6-6 2-10 0-4-1-6-6-1-6 1-4zM-12 -151l1 3-1 2-1-2zM-202 -107l10 7 2 2 1 6-3 5-6 0 0-1-6-4-2-6 0-4zM-132 -104l4-1 6 0 4 1 7 6 1 6-8 5-9 5-7 4-4 5-3 5-1 4-5 6 0 6 2 4 2 6 0 14 6 6 19 4 10 3 10 0 6 1 2 2 2 4-4 7-11 9-9 3-6 1-5 2-5 1-4-1-10-12-6-4-4-5-9-5-1-2-4-4-6-4 0-1-6-3-5-2-5 0-10-2-8 2-2 0-10-5-10-13-4-6 0-6 4-7 6-1 10 6 7 8 3 2 4 1 6-2 10 0 7-1 3-1 4-4 2-5 1-6 0-4 1-6 6-8 2-2 7-4 1-2 6-3 0-1 4-3 3-1zM-258 -78l6-2 4 0 6 1 2 1 3 6 1 4-2 3-1 7-3 3-6 1-5-4-5-5-3-9 3-6zM148 -44l4-1 6 3 2 4 1 6-3 5-6 1-6-2-4-3 0-4 1-3 4-4zM192 -33l6 2 3 3 2 6 0 4-5 3-6-4-2-3-2-6 1-4zM-148 108l6 3 0 1 5 6 5 4 2 0 2 2 3-2 5 0 3 6-5 9-6-3-1-2-3-2-9-2-7-5-3-5-1-6zM-132 150l6 2-2 6-4 1-5-1 1-6zM-18 280l6 1 2 1 2 6-2 10-2 2-6 1-4-3-2-6 2-6 2-4z"/></g>
</g></g>
</g>
<g>
<circle cx="494.9" cy="200.8" r="48.7" fill="url(#rg)"/>
<path d="M488.5 163.6L489.6 162.0L490.8 160.5L492.1 159.2L493.4 158.0L494.9 157.0L496.4 156.3L498.0 155.8L499.6 155.6L501.1 155.6L502.7 155.9L504.3 156.3L505.9 156.8L507.4 157.3L508.9 158.0L510.4 158.8L511.7 159.6L513.1 160.6L514.4 161.6L515.6 162.6L516.7 163.8L517.8 165.0L518.7 166.2L519.6 167.5L520.5 168.9L521.2 170.3L521.8 171.7L522.4 173.2L522.9 174.6L523.2 176.2Z" fill="#646464" fill-opacity="0.24" stroke="#464646" stroke-opacity="0.55" stroke-width="0.7" stroke-linejoin="round"/>
<path d="M523.2 176.2L525.0 176.3L526.9 176.6L528.7 177.1L530.4 177.7L532.0 178.5L533.4 179.4L534.7 180.5L535.6 181.8L536.3 183.2L536.9 184.7L537.4 186.3L537.7 187.9L538.0 189.5L538.2 191.1L538.2 192.7L538.2 194.4L538.1 196.0L537.8 197.6L537.5 199.2L537.1 200.7L536.6 202.2L536.0 203.7L535.3 205.1L534.5 206.5L533.7 207.9L532.8 209.1L531.8 210.3L530.8 211.5L529.6 212.5Z" fill="#646464" fill-opacity="0.24" stroke="#464646" stroke-opacity="0.55" stroke-width="0.7" stroke-linejoin="round"/>
<path d="M529.6 212.5L530.4 214.2L531.0 216.0L531.6 217.8L531.9 219.6L532.0 221.3L531.9 223.0L531.6 224.6L531.0 226.1L530.1 227.4L529.1 228.7L527.9 229.9L526.8 231.0L525.5 232.0L524.2 233.0L522.8 233.8L521.4 234.6L519.9 235.3L518.4 235.9L516.8 236.4L515.3 236.8L513.7 237.2L512.1 237.4L510.6 237.5L509.0 237.5L507.4 237.5L505.8 237.3L504.3 237.1L502.8 236.8L501.3 236.2Z" fill="#646464" fill-opacity="0.24" stroke="#464646" stroke-opacity="0.55" stroke-width="0.7" stroke-linejoin="round"/>
<path d="M501.3 236.2L500.2 237.8L499.0 239.3L497.7 240.6L496.4 241.8L494.9 242.8L493.4 243.5L491.8 244.0L490.2 244.2L488.7 244.2L487.1 243.9L485.5 243.5L483.9 243.0L482.4 242.5L480.9 241.8L479.4 241.0L478.1 240.2L476.7 239.2L475.4 238.2L474.2 237.2L473.1 236.0L472.0 234.8L471.1 233.6L470.2 232.3L469.3 230.9L468.6 229.5L468.0 228.1L467.4 226.6L466.9 225.2L466.6 223.6Z" fill="#646464" fill-opacity="0.24" stroke="#464646" stroke-opacity="0.55" stroke-width="0.7" stroke-linejoin="round"/>
<path d="M466.6 223.6L464.8 223.5L462.9 223.2L461.1 222.7L459.4 222.1L457.8 221.3L456.4 220.4L455.1 219.3L454.2 218.0L453.5 216.6L452.9 215.1L452.4 213.5L452.1 211.9L451.8 210.3L451.6 208.7L451.6 207.1L451.6 205.4L451.7 203.8L452.0 202.2L452.3 200.6L452.7 199.1L453.2 197.6L453.8 196.1L454.5 194.7L455.3 193.3L456.1 191.9L457.0 190.7L458.0 189.5L459.0 188.3L460.2 187.3Z" fill="#646464" fill-opacity="0.24" stroke="#464646" stroke-opacity="0.55" stroke-width="0.7" stroke-linejoin="round"/>
<path d="M460.2 187.3L459.4 185.6L458.8 183.8L458.2 182.0L457.9 180.2L457.8 178.5L457.9 176.8L458.2 175.2L458.8 173.7L459.7 172.4L460.7 171.1L461.9 169.9L463.0 168.8L464.3 167.8L465.6 166.8L467.0 166.0L468.4 165.2L469.9 164.5L471.4 163.9L473.0 163.4L474.5 163.0L476.1 162.6L477.7 162.4L479.2 162.3L480.8 162.3L482.4 162.3L484.0 162.5L485.5 162.7L487.0 163.0L488.5 163.6Z" fill="#646464" fill-opacity="0.24" stroke="#464646" stroke-opacity="0.55" stroke-width="0.7" stroke-linejoin="round"/>
<circle cx="494.9" cy="199.9" r="37.4" fill="#544840"/>
<circle cx="494.9" cy="199.9" r="36.3" fill="#12b8f6"/>
<g clip-path="url(#c13)"><g filter="url(#soft)">
<g transform="translate(495 200.7) scale(0.1)"><path fill="#15e5f0" d="M-158 -388l210 0 0 1 6 2 4-3 115 0 1 1 1 5 3 5 5 5 1 0 4 4 0 1 10 13 2 2 4 2 2 2 3 6 0 10-2 4-1 6 2 5 6 1 5-2 6-4 3-4 6-4 4-2 6 1 5 3 5 5 0 1 4 4 0 1 6 7 4 8 6 8 0 2 4 4 0 2 3 4 6 4 1 2 6 2 2 2 2 0 6 2 4 2 6 1 9 5 0 4 4 10 1 9 1 1 1 6 4 6 4 8 1 6 0 4-1 6 0 30 2 4 2 6 0 4 1 6 5 1 4-1 2-2 4-1 6 1 8 6 5 6 7 2 0 116-6 1-10 5-4 6-2 4-2 6-2 4-3 16 0 10 3 14 1 0 0 10-2 10-2 6 0 4 1 6 3 4 3 10 0 10-1 6 0 4-3 8-1 8-2 4-2 6-3 4-3 6-3 4-2 0-4 2-4 0-10-5-16-5-4-3-6-3-4-1-6 1-4 2-10 2-3 0-8 6-5 5-2 9 2 4 2 2 4 1 4 2 6 1 2 6-1 4 0 10 1 6 2 4 0 4 1 2 0 10-2 10 0 20-2 10-1 2-6 5-2 3-2 1-6 1-9-2-5-3-6-1-4-2-8 0-3 1-8 5-11 2-10-2-2-1-4 0-10-2-5 3-5 2-3 2-1 2-6 3 0 1-4 4-1 0-5 5-2 5 0 6 2 8 6 7 2 9 0 6-2 5-3 5-3 1-4 3 0 1-7 5-5 4-8 4-6 2-4 4-6 12 0 4-2 4 0 6-227 0 0-6-1 0-1-4-3-6-6-3-4 0-6-1-14 0-10 2-11-2-5-3-4-4-6-5-4-8 0-1-4-5-6-4-6-2-5-4-5-5-4-6-6-5-10-11-1-3-3-4-1 0-5-5 0-1-10-5-4-3-6-1 0-1-9-3-8-7-5-4-3-6-3-4 1-6 3-6 1-4 3-7 4-7 0-6-8-5-6-1-4 0-6-1-4-2-6 2-2 3-8 4-4-1-6-4-3-5-2-4-1-6 0-4-3-16-2-4-3-8-2-2-3-6-1 0-4-4 0-1-6-4-14-3-6-1 0-294 4-3-4-5 0-6 10-2 6-3 10-10 1-4 6-10 5-4 2-3 6-4 4-1 6 1 10 0 10-3 10-10 1 0 5-6 8-4 2-6-2-2 0-2-2-6-2-4-2-10 0-10 1-6 1 0 4-13 1-1 1-6 2-4 1-6 1-4 0-6 4-13 1-1 2-6 3-4 2-6 2-2 6-2 5 0 5-2 10-10 3-4 9-4 2-2 10-2 16 3 10 0 4-1 6 0 9-4 7-4 4-5 2-5 1-6zM103 -372l-1 4 0 12 2 8 2 6 6 6 6-1 1-5 0-6-1-4 2-10 0-6-2-3-6-3-4-1zM259 -272l3 1 6-1 0-2-6-3zM-275 -158l-4 6 11 5 6 0 2-5-2-4-4-2-6 0zM275 -38l-3 4 0 2-2 4-2 9-1 1 0 10 3 6 2 2 6 2 7-4 2-6 2-4 1-6 2-4 1-6 0-4-5-7-6-1-4 1zM-308 252l1 0 4 4 3 2-2 0-4 4-6 3-6 0-2-3 1-4 2-2 5-3 4-1z"/>
<path fill="#14efc3" d="M-148 -384l3-4 189 0 6 6 2 1 6 0 5-1 3-6 81 0 3 6 10 4 7 6 1 0 5 4 4 6 1 0 3 4 1 7 2 3 2 6 2 4 0 6-1 4 3 6 8 5 4 4 6 2 4 2 6 1 4 0 6-1 4-2 6 0 7 3 8 10 1 6-6 7-2 3-4 2-5 8-1 4 3 6 13 3 10 2 6 0 10-3 4-2 6 0 4 1 6 3 4 6 2 4-5 10-1 6 4 7 6 1 10-3 4 0 6 4 3 5 1 6-4 14 1 6 2 4 1 5 2 5 2 10 0 6 2 8 0 2 4 6 6 3 0 1 4 0 6 1 4 0 6 1 10 4 4 1 6 0 0 72-6 0 0 1-4 5 1 5 3 2 6 1 0 12-6 0-10 2-2 3-8 7-1 3-6 10-7 9-2 1-4 4-1 6 2 4 0 16 2 4 1 6 2 4 1 6-1 5-4 5-6 4-3 6 3 5 4 5 6 4 4 6 1 4 0 6-1 0-3 14 0 6-1 7-1 3-5 7-4 4-10 2-16-3-4-4-6-3-4 0-6 2-4 3-6 1 0 1-4 0-6 2-5 2-5 5-3 5-3 6 0 10 6 4 0 1 6 2 4 3 2 10 0 20-3 10-3 5-4 5-2 7-4 3-6 1-7 3-11 6-2 0-4 2-6 2-4 3-6 1-4 0-6-1-6-3-4 0-4-2-6 0-10-2-4-1-6 0-1 1 0 4 3 6-2 4-4 6-7 4-5 6-4 2-4 8-1 4 1 5 0 11-2 4-2 10 0 6-2 2 0 2-5 6-9 4 0 1-10 3-5 2-2 4 1 9 1 1 0 6-1 0 0 4-2 6-2 4 0 4-1 2-189 0 0-3-2-3-4-4-2-6 1-4-1-6-2-4-1 0-2-6-7-7-11-3-5 2-6-2-9 0-5 2-6 4-4 1-4 2-6 0-5-3-5-5 0-1-4-4 0-1-5-5-5-3-5-1-5-3-3-3-3-1-2-3-5-10-2-10 0-6-1 0-4-4 0-1-6-1-4-2-5-1-8-5-2-6 1-4 3-6 1 0 2-4 2-6 5-10 5-9 2-5 1-6-4-4-3-2-6-2-4-2-10-3-16 3-4 0-6-2-4-2-6-1-4-2-6-2 0-1-4-1-6-4-10-2-4 1-6-1-9-7-5-16 0-2-2-2-3-10-1-1-1-5-3-6-4-4-6-3-10-3-16 0 0-141 6-4 1-3-3-6-4-2 0-73 6-1 4-2 2-2 1-4-3-3-10 0 0-31 16 0 8 4 9 0 3-1 4 0 1 1 5 1 4 2 6 0 4-3-2-6-8-1-4 0-6-1-2-2-2-6 0-4 2-10 3-6 5-2 10 0 11-2 3-2 14-4 2 0 4-5 10-7 6-2 4 0 6 1 5-1 3-16 0-4 1-6-1-4-3-6-1 0-4-4 0-1-6-6-2-3-2-6-2-9 3-15 3-5 0-3 2-2 3-16 3-14 3-6 9-9 6-2 7-3 3-3 1-3 3-4 1 0 5-5 0-1 4-2 6-1 10 0 4 1 16 0 4 1 6-1 4-2 2 0 4-2 10-2 4-2 3-4 0-6 2-4 0-2 2-4 3-4zM99 -378l-2 6 0 10 1 4 0 6 4 13 8 7 9 0 4-6 0-4-1-6 0-8 2-6 1-6-3-5-4-4-10-3-6-1zM-154 -342l-4 4 0 12 6 7 4-1 2-2 1-6-3-5-1-5-3-4 0-2zM-132 -342l0 4 4 2 2-2 2-4-4-4zM-283 -162l-5 1-6 3-4 5 0 1 6 5 14 3 6 1 10 2 4 0 2-1 3-6 0-4-3-6-2 0-4-3-6-3-4-1-10 2zM274 -42l-2 0-3 4-1 5-4 11-2 8 0 5 1 1 1 6 6 10 2 1 6 1 9-2 5-6 1-4 0-6 2-10 3-5 4-10-3-5-9-4-2-2-6-1-4 1zM317 -18l-2 6 0 4 2 3 5-1 2-2 1-4-3-5-4-1zM-359 -8l-1 6 2 1 6 1 5-2-1-6-4-1-6 1zM-195 228l0 4 3 3 4 1 3-4-3-5-4-1z"/>
<path fill="#12ed8b" d="M-128 -387l1-1 161 0 4 2 3 4 7 3 10 2 0-1 4-1 5-3 2-6 27 0-4 13 0 10 2 7 0 6 1 4 0 6 3 5 4 5 10 3 6 0 7-3 1-6 0-4-1-6 0-4 2-10 3-10-3-6-13-4-2-1-4-4 0-1 29 0 1 1 0 5 1 4 7 6 2 0 4 3 6 2 7 5 3 1 3 3 2 6 2 4 2 6 2 4 2 10-2 10 3 4 5 1 1 1 4 0 6 3 4 1 0 1 6 2 4 0 16 3 4 0 6 2 2 2 2 6-4 9-4 5-2 4-1 6 1 6 4 4 2 3 4 3 8 4 2 2 6 1 6 3 8 5 6 0 4-5-1-6 7 0 0 3-4 3 0 4 4 2 2 4 4 4 4 5 0 1 4 3 6 2 4 2 4 3 1 4 0 6 1 0 3 10 3 4 4 7 3 13 0 6 1 7 6 10 4 4 10 3 0 1 16 3 2 2 2 0 6 2 10 0 0 60-10 0-9 2-1 2-6 6-3 8-1 5 0 13-6 11-4 7-6 2-4 0-5-4-1 0-4-4-1 0-6-6-3-4-1 0-4-6-5-3-5-1-5-3-8-3-8-1-4 0-6 2-7 9-5 16-2 10 0 10 3 14 3 6 8 2 10 0 6-2 2 0 2-2 6-4 4-4 6-2 4 0 6 2 4 4 1 0 2 6 3 6 1 4 2 4 1 7 1 3 0 6-1 0-4 6-4 4-2 1-1 3 1 7 6 6 2 3 6 4 4 6 2 10-1 4 0 6-3 14-1 0-3 6-7 5-5 0-4-1-10-6-6-1-4 1-4 2-2 0-4 3-6 3-10 2-4 2-6 4-7 10-2 6-1 0-1 4 1 8 6 6 9 6 1 2 0 10-2 8-1 6-3 4-4 1-6-1-4-2-6 0-10 2-10-6-4-2-16-3-5-3-5-2-4 2-1 4 5 10 0 1 6 7 4 2 6-1 4-2 10-2 6 1 4 4 1 0 2 6-1 4-6 4-6 1 0 1-10 6-4 1-14-3-6-1-10 0-6-1-14 0-6 1-10 0-1 1-1 6 0 4 2 6 0 10-3 4-2 6-5 7-1 7 0 6-3 11-2 3-1 6-4 10-3 4-10 5-6 0-10 3-2 2-1 6 3 9 3 5 0 10-2 6-1 0-2 4-2 6-155 0-5-10-2-6 0-4 1-6 0-4-5-5 0-1-14 0-6-3 0-1-6-6-8-5-6-3-5-2-9-2-7-2-5-6-1-4-3-4-4 1-6 3-4 8-2 2-4 1-5-1-9-6-6-2-5-2-5-4-1-2 2-4 5-4 4-6-2-6-2-3-6-2-4-2-6-2 0-1-4-1-7-3-8-6-1 0-1-4 1-7 5-9 2-10 0-4 3-10 1-1 0-5-2-4-3-3-16-8-4-4-2-1-17 0-1 1-10 0-6-1-4 0-10-2-10-5-6-4-10-2-4 0-5-1-5-6-2-4-3-10-1-1-1-5-2-4-2-6-2-4-2-6-1 0-4-4-1 0-5-4-4-2-16-3-6-1-4-2 0-126 9-2 1-2 6-1 2 3 8 5 14 3 6-2 1-6-1-7-6-5-10 0-10 2-4-2-7-8-3-4-6-2 0-60 6 0 4-2 6-2 7-10 0-6-1-4 2-6 6-4 2 0 4-2 4 0 6 1 4 2 6 1 5-2 5-4 4-5 6-4 1-3 3-4 20 0 6 1 4 0 11 3 9 3 6-3 4-5 0-9-4-7-10-7-6-3-4-3-2 0-4-2-2 2-7 0-1-1-1-5 1-1 6-1 10 2 9-4 5-4 4-2 3-4-1-6-3-4-2-6 0-14-1-1-1-5-3-4-1 0-5-5 0-1-4-4 0-2-2-4-2-10 0-4 2-6 2-4 2-6 2-4 1 0 4-11 1 0 1-5 0-10 3-7 3-3 7-3 6-2 10-7 2-2 2-4 2-2 4-2 10 0 10 2 3 6-1 4 0 6 2 5 6 1 4-2 4-4 0-6-1-4 2-6 5-3 5-1 1 0 3 4 1 7 4 9 3 4 3 7 6 4 4-2 6-5 4-6 9-8 2 0 5-4 3-6 1-4-1-6-3-4-2 0-4-2-4-1-6 0-4-7-2-6 0-4 4-6 8-4zM24 -338l-2 1-2 5 0 4 1 6 1 1 6 1 8-2 2-2 2-4-2-5-6-3-4-3zM37 -282l5 1 0-3-4 1zM15 -258l-3 2-1 4-3 4-1 0-1 6 6 7 6 2 4-2 3-3 1-4 0-10-2-6-2-1-4 0zM-228 -142l-4 2-2 2 0 6 2 5 4 6 6-2 4-9 0-5-4-5-5 0-1-1zM-125 -12l3 1 0-2zM209 12l-3 10-1 6-2 4 4 5 8-5 2-4 0-6 2-10-1-2-6-2zM-352 103l-2 5 0 4 6 5 6-3 1-6-1-7-6-2zM-197 223l-1 0-4 5-1 4 3 6 2 2 10 3 6-2 2-9-2-4 0-2-5-4-5-1zM60 338l-2 4 2 6 8 5 0-1 5-4 1-6-6-5-6-1zM67 362l-3 6-1 4 1 6 4 6 4 1 3-3 3-6 0-7-4-7-2-2-4 0zM-313 -169l6 1 3 6-1 4-3 4 0 2-4 3-10 0-8-3 0-6 12-9 2-1zM-382 -131l5 3 2 6-1 4-2 1-4 4-6 1 0-19z"/>
<path fill="#11ec52" d="M-118 -388l54 0 2 2 4 2 6 1 10-2 4 0 6 1 4-1 1-3 35 0 4 7 6 1 4-1 6 0 4 1 6 0 4 2 0 1 10 3 6 0 10-5 3-3 1-6 18 0-2 10 0 16 2 10 0 14 2 4 2 2 8 4 10 2 6 0 5-2 6-4 1-6-2-10 0-4 1-6 2-4 1-4 6-3 4 2 6 2 4 3 8 4 8 8 4 11 1 1 2 6 0 4-2 6 0 10 2 4 3 2 10 0 7 4 3 1 4 3 10-2 6 0 9 2 6 6 1 4-2 6-2 4-2 6-1 0 0 4 2 6 3 4 0 2 3 4 5 4 2 3 6 3 4 3 6 3 4 4 6 3 4 0 6-1 4 0 6 3 20 20 4 9 0 2 2 4 4 5 3 5 2 4 3 10 3 16 3 6 4 4 6 4 0 1 10 3 6 1 0 1 4 1 7 3 3 3 5 2 5-1 6 0 0 24-10 2-3 0-1 6 5 10-11 5-6 2-6 3-4 1-5 4-3 5-1 4 2 6 4 10 1 4 0 6-2 5-4 5-2 1-6-1-4-2-4-5-5-3-5-8-10-7-6-2-5-3-4 0-1-1-4 0-6-1-10 3-5 3-4 6-1 0-2 4-2 11-3 5-1 4 0 10-1 6-5 9-6 5-2 0 2 10 1 0 2 6 3 1 4 0 8-1 2-1 10-2 6 1 4 0 6 1 4 0 6-1 4-4 3-4 3-2 4 0 3 2 3 5 2 9 0 6-2 6-4 4-2 4-1 6 1 4 0 11 4 5 2 0 10 7 4 7 2 10 0 10-6 7-6 1-10 0-4-1-10 0-8 3-2 3-4 3-2 0-4 2-6 1-4 2-6 4 0 1-4 4 0 1-7 9-3 10 0 6 3 10 1 2 3 2 1 6-3 5-5 6-10 5-6 0-2-2-2 0-6-3-4-1-5 0-1-1-4 0-6-2-2-3-8-4-4 0-10 2-5 2-1 6 6 7 1 3 5 4 5 10-1 6-6 4-4 2-6 1-4 0-6 1-4 0-6 1-10-2-4-2-5 5 0 4 1 6 0 4 1 6 0 4-1 5-2 5-1 6-2 4-3 10-1 6-3 4-4 9-1 1-2 6-8 10-5 1-4 0-6 1-10 4-10-3-4-3-2 0-8-6-1 0-4 6-1 0-3 10-2 4-1 6 4 4 2 3 6 5 1 2 0 20 1 6-118 0-4-4-1-2-4-4-2-6 0-4 3-10 1-6-3-4-4-3-6-2-10 0 0-1-10-3-2-1-2-3-10-7-3 0-3-2-10-3-4-5 0-5-2-5-4-3-4-1-6 0-10 3 0 1-9 4-1 1-4 0-6-1-4-4 0-15-6-10-4-7-6-2-4 0-6-1-9-5 0-6 3-4 3-6 3-5 6 0 0 1 10 3 10 0 3-3 3-10 0-6-2-2 0-2-4-6-6-3-4-1-6 1-4 2-5 1-1 0-4-4-1 0-5-5 0-1-4-2-6-2-7-6-7-5-6-1-4 1-10 0-6-3-4-1-6 2-4 2-6 0-4-1-10-6-6-3-4-3-5 0-6-1-6-5-1-6-4-10-4-6-1-4-2-4-1-5-4-5-1-6 0-4 5-4 4-6 0-2 2-4 1-4 0-6-1-4-6-6-6-1-4 4-2 3-4 4-4 9-1 1 0 6-5 3-4-1-3-2-3-6-4-6-6-2 0-62 6 1 5 5 2 4-2 10-1 6-2 4 0 6 2 5 6-2 5-3 5-4 4 1 7 3 3-2 3-4 3-2 1-2 0-6-1-2-4-2-2-2-10 0-2-8-2-10 0-2-3-4-3-1-4-5-6-2-10 2 0-22 6-1 10 0 4 2 10 3 6 1 7 3 4 6 3 2 1-2 1-6 0-14-1-6-5-9-6-2-14 0-8-3-5-6-3-1-4-3-4 0-2-1 0-51 6 0 10-3 0-1 6-4 4-4 3-2 1-2 3-2-2-10 5-5 6-1 4 3 1 3-1 5-5 5 2 4 3 2 4 6 4 2 2 2 6-6 4-5 0-1 4-4 2 0 2-6-4-6-1-4 1-4 1 0 5-5 0-1 4-4 0-1 6-3 6-2 17 0 1 1 6 1 8 4 2 0 4 2 10-2 6 0 2 4 2 6 2 4 4 5 0 1 4 1 6-2 2-5 3-4 2-6 3-4 1-6-3-4-4-3-4-2-16 0-5-5-3-6-6-6-7-4-5-4 2-6 4-2 7-2 5-6 1-4-1-6-3-4-3-10 0-16-6-7-6-7-4-9 0-12 4-5 6-4 1 0 4-6 1 0 3-14 1-6 2-4 1-6 7-9 10-5 6-3 4-1 6 3 0 1 4 4 0 1 4 5 7 4 4 0 9-4 6-6 6-1 4 3 3 4 3 6 2 8 2 2 6-1 0-1 4-2 6-6 0-2 4-4 1 0 5-5 0-1 6-4 4-4 4-6 1 0 2-6 0-10-7-10 0-1-5-3-3-6 0-4 3-6 5-4 3-6zM-59 -358l1 6 9 4 7 9 0 1 4 4 4 2 3 0 3-2 2-4-2-5-4-5-7-4-5-6-8-4-6 2zM22 -342l-3 4-3 10 0 6 2 4 4 3 6 2 14-3 6-2 6-4 4-5 2-5 1-6-3-5-6 0-4 2-6 2-9-3-2 0-3-2-6 1zM36 -292l-4 4-1 6-2 4-1 5-6 3-7-2-7-4-3 4 0 10-3 7 0 3-2 4-1 6 3 5 6 4 0 1 4 2 6 1 4 0 8-3 2-6 0-8 4-12 2-1 5-9 4-4 5-10-1-6-3-4 0-2-6-2-4 1zM-200 -258l-4 6 2 4 4 4 6-2 7-6-1-6-6-2-6 1zM-128 -248l-4 3-2 3 2 5 6-5-1-6-1 0zM-114 -212l-8 8-3 2-2 4 4 6 1 0 5-6 5-5 9-5 1 0 1-4-1-2-6-2-4 2zM223 -168l1 6 8 4 2 0 3-4-1-6-4-3-4 0zM-128 -162l0 2 5-2-5-1zM346 -108l-2 6 4 5 4 2 6 0 4-1 4-2 0-4-4-2-4-4-6-1-4 0zM296 -92l3 0-1-2zM-124 -22l-4 1-7 3-3 3-1 3 1 4 1 0 5 7 4 2 6-1 3-2 1-2 6-6 1-2 1-6-2-5-6-1-4 1zM212 -8l-4 4-4 12-2 5 0 5-4 14 0 18-3 8 3 5 4 3 6 0 3-4 1-4 0-11 5-5 7 0 3 6 1 0 4 4 0 1 6 1 5-2 0-4-5-7-7-3-3-6-1-4 1-2 0-4 3-4 1-3 4-3-4-2-1-2-9-5 0-1-6-4-3-6-1 0zM-248 12l-2 6 2 2 6 0 5-2 1-6-6-2-6 2zM-223 42l-2 6 3 4 4 1 4-5 0-6-4-2-4 2zM260 78l-3 0-3 4-2 4 0 7 6 3 4-1 3-3 2-4-1-6-4-5zM-312 88l-1 0-4 4 0 6 5 2 8-2 2-2 1-4-1-5-6-1zM51 242l-3 6-1 4 3 6 2 2 6-3 2-5 0-4-2-6-6-1zM73 268l-1 0-4 4 0 4-10-2-6 2-4 6-1 0-1 6 0 4 2 5 4 0 6-2 4-4 6-4 4-5 2 0 4 2 4 0 6-3 0-6-1-3-5-6-4 0zM118 -388l9 0-5 2-5-2zM-386 -122l-2 2 0-4zM388 -79l0 2-2-1z"/>
<path fill="#0feb1a" d="M-112 -386l1-2 40 0 5 6 7 4 1 2 5 4-5 3 0 1-7 10 0 6 8 10 5 5 4 5 6 2 5 2 5 1 4 0 6-2 2-9-2-8-2-2-2-4 1-6 3-1 5-3 5-4 3-6-3-9-1-1-1-6 16 0 0 6-1 4 0 6 1 2 6 2 13-4 1-1 20 0 1 1 9 2 10-2 6-3 7-7 2-6 8 0-1 6 0 4-1 6 1 4 0 6 1 4 0 10-2 6-5 4 0 5 0 1 4 3 10 3 10 2 6 0 5 1 5-1 4 0 6-2 4-6 1 0 1-6-2-5-1-5 0-4 1-6 6-5 10 5 5 5 0 1 6 4 4 6 5 5 1 5-1 4 0 16-3 4-8 6-2 4 2 6 5 2 6-1 9-7 5-2 6 0 4 2 0 1 5 5 1 0 4 4 6 0 2-4 2-2 6-2 4 1 6 4 1 3-1 6-4 4-2 4 0 5 1 1 2 6 3 4 4 8 3 2 7 8 6 3 10 8 2 1 2 3 6 1 4 0 6-1 4 0 6 3 4 4 0 2 7 8 4 6 2 4 2 6 1 0 4 9 6 8 0 3 2 4 2 6 2 10 2 4 6 7 11 9 9 2 7 2 6 6 1 4-4 3-4 1-6-1-10 0-4 1-3 2-1 4 2 6 2 1 4 6 10 7 2 0 4 5 0 1-6 4-4 4-6 3-4 3 0 2-3 4 0 4 1 6 2 4 2 6 2 4 0 6-4 4-6-2-11-12-4-6-4-3-4-1-1-2-6-5-4-2-6 0-4 2-10 0-6 2-5 5-5 4-1 0-4 6-2 4-1 6-5 10 0 4 1 6 0 4-2 6-6 4-4 0-6 0-4-3-3-1-3-3-4-10-3-3-3-1-4-3-2 0-4-2-4-4 0-1-6-5-4 6 4 7 6 6 3 7 1 6-4 19-1 5-3 10 0 6-2 7 0 3-3 4-2 6 0 4 1 6 4 4 0 1 5 5 1 0 4 4 0 1 6 1 2-2 3-5 1-5 4-8 0-2 4-4 0-1 6 0 14 3 6 0 4-2-3-16 3-6 6-2 1-2 9-2 10 0 8 2 2 1 5 5 3 4 1 6-5 9-4 0-6-1-10 3-4 2-6 1-4 0-3 6-1 4-2 4 0 2-4 9-2 5 2 6 4 2 6 1 4 0 6-3 3-6 0-4 1-8 10-8 6-4 1 0 3-5 2-1 4 0 0 6 2 4 2 10-1 6 0 10 1 2 6 2 4-4 1 0 4-6 5 1 5 9 0 6-3 4-6 2-6-1-10 0-4-1-5 0-5 3-10 9-6 2-4 2-6 4-8 10-2 2-4 8-1 0-3 10 0 10 3 10 1 1 0 5-6 8-2 2-10 0-8-3-4-1-6 0-12-6-2-3-6-2-14 0-2-1-5 0-3 1-4 5 0 4 1 6 5 10 2 3 3 1 3 3 3 7-4 6-9 3-16 3-4-2-11-4-5-1-4 5 0 10 1 6 0 4-1 6 0 4-1 1 0 5-1 4 0 6-2 4-1 7-5 12-2 1-3 6-1 0-4 7-6 5-4 2-4 0-6 3-6 2-4 0-6-1-5-4-4-4-1 0-4-6 0-2-2-2 2-6 4-4 12-6 4-1 4 0 9-3 3-6 1-4-5-16-2-3-6-1-4 1-6 0-5-1-2-6 0-4-1-6-6-5-6-1-7 6-2 10 1 5 4 10-1 5-2 6-3 4-2 6-2 4 0 6 4 6 4 4 3 4 0 10-1 6-2 4-2 6-3 4 0 6 1 5 4 5 6 4 3 6 0 4-2 11-1 5-102 0-2-3-4-3-2 0-4-4-2-6 0-4 1-6 1 0 2-4 1-6-2-4-1-4-6-5-4-2-10-2-6-2-4-5-2-10-3-10-5-6-6 0-4 4-6 2-5-5 0-1-9-4-16 0-10 2-4 2 0 1-6 1-5-2-3-4-2-4 0-2-2-4-2-6-1-4 0-6 1-4 4-6 6-3 2-7 0-10-2-8-3-6-4-6-3-3-6-3-4-1-10 2-6-1-4-4-8-4-2-2-6-2-4-5-2-1-3-6-5-3-6 1-4 2-6 0-4-4-1 0-5-4-4 1-3 3-3 1-4 3-6 1-10-3-3-2-1-2-5-4-5-3-6-1-7-6-3-4-2-6-2-4-1 0-2-6-3-5-2-9 0-6 2-4 1 0 2-6 3-6 1-4 3-4 0-2 6-1 4 2 6 0 4-1 6-3 0-1 4-4 1-6 0-4-2-6-3-2-6 0-4 2-2 0-4 2-6 4-4 1-4 0-4-1-2-2-2-4 2-7 4-7 0-6-4-5-5-5-9-4-1 0-2-6 0-4-3-6-6-4-4-4-4-6-2 0-4-2-2 2-8 1 0-10 6 0 10 2 14 0 6 2 3 5 1 4 1 0 1 6 4 2 4 0 6-4 2-8 0-16-2-10-3-10-7-4 0-1-6 0-14-3-2-2-8-4 0-1-6-2-4-2-6 0 0-43 10 0 6-2 6-6 8-4 6-1 0 1 4 1 6 5 1 4 3 6 6 3 4-1 3-4 2-10 1 0 4-7 10-7 0-4-2-12 2-6 2-4 4-4 10-3 14 0 6 2 9 5 5 3 10 2 2 1 4 5 1 5 3 4 6 3 10-2 0-1 4-4 1 0 4-11 1 0 2-5 2-3 2-1 2-6-8-8-6-3-14-3-2 0-4-2-4-7-2-1-6-6-8-4 0-2 9-4 7-3 1-1 3-10-2-6-2-4-1 0-3-10 0-6 1-4 0-6-6-10-7-6-2-8 2-4 7-6 3-6 3-4 2-6 0-14 1-6 4-9 6-5 4-4 6-1 10 3 4 5 2 1 4 4 4 5 3 1 5 10 2 9 6 1 4 2 10 2 6-2 4-9 2-3 6-4 6-6 2-1 4-7 2-2 8-4 0-1 6-2 4-7 5-10 1-1 1-5 0-4-1-7-5-9-3-4-2-6 0-4 2-6 5-4zM25 -352l-3 1-1 3-4 6-2 4-1 6-2 4-1 6 1 7 6 5 5 2 5 3 2 3 0 4-2 7-2 3-2 6-2 1-4 0-6-4-4-3-6 0-4 4-3 2-2 4 5 9 0 11-1 0-2 6-2 4-1 7 2 3 7 6 10 4 1 1 10 3 6 0 4-1 6 0 4-3-2-4 0-16 2-7 2-3 4-4 4-8 3-2 3-8 0-4-2-8-2-6-2-5 2-5 4-4 2-6 3-5 4-9 5-6-5-4-5-3-4-3-6-2-8 2-2 1-5 0 0-1-5-4-4-3zM-191 -272l-1 0-10 8-1 2-5 4-2 6 1 4 0 6-2 10-2 4 0 10 3 6 2 1 6 0 4-4 2-3 2-5 1-5 0-4 1-1 1-5 3-4 1 0 5-4 4-6 0-6-2-4-2-7-4-3-2-4zM-129 -262l-4 4-3 6-2 1-2 3-2 6-2 4 0 6 2 6 6-2 4 0 6-4 4-4 0-2 2-4 2-6 3-4-1-6-2 0-4-4 0-1-6-1zM-120 -218l-7 6-7 4-1 6 0 4 2 6 2 4 3 10-6 10-1 6 5 10 2 2 6 0 3-2 3-6 0-4-2-6-3-4-1-6 5-10 4-4 1-2 4-4 6-3 4-1 0-1 5-5 1-5-3-5-7-3-6-1-10 3zM192 -208l-7 6 3 5 4-1 6-4 0-5-6-1zM247 -202l-5 4-4 9-4 7-2 0-4 3-10 5-5 6 2 6 4 4 8 10 1 2 0 4 1 4 3 5 6 2 5 3 5 5 5 1 5-5 0-4-5-7-1 0-4-4 0-2-2-4-1-4 0-10-2-9-1-1-1-6 1-3 6-3 3-4 2-4 1-6-2-5-4 0zM196 -138l2 2 0-3zM232 -102l-3 4-3 6-1 4 1 6 6 5 6-2 3-3 3-6 1-4 0-6-3-4-4-2-6 1zM292 -102l-4 4-1 0-1 6 2 10 4 4 0 1 6 3 4-4 6-9 0-1 4-4 0-1 6-3 2-2 0-4-2-1-6 0-4-2-6-1-4 0-6 3zM-372 -68l-3 6 6 10 7 4 8-4 3-6 1-4-3-6-9-2-6 0zM-298 -52l-1 4 1 6 6 4 4 2 6-1 3-5-4-6-7-4-2-2-6 1zM-118 -32l-10 5-4 3-6 1 0 1-9 4-2 6 7 9 0 1 4 4 3 6 3 4 10-6 4-4 6-4 7-10 2-10 1-2 0-6-5-7-11 4zM-312 -8l1 6 3 1 6 0 2-1 1-6-3-2-6 0zM-249 8l-3 1-6 4-1 5 3 4 4 3 4 2 6 0 4-1 6-3 2-5 1-6-3-6-6-2-10 3zM-224 38l-5 4-1 6 2 6 5 4 5 1 4-1 2-2 1-4 2-4 1-6-4-7-6 0-4 1zM-151 42l-1 1-6 2-1 3 1 6 2 4 4 5 4 3 6 0 4-2 2-2 4-7 1-7 0-6-1-3-6 0-4 2-6 1zM-66 73l-2 0-3 9 1 6 2 5 6 3 4 0 6-2 1-2 0-4-1-6-7-10-3-1zM-118 78l7 0-1-5-6 3zM-64 168l-3 4 0 6 2 4 3 4 4 1 4-5 1-4-2-6-3-3-4-2zM-48 -374l6-3 4 2 3 3 0 4-3 2-6-2-4-3-4-1zM-178 -309l6 0 1 1 0 6-1 1-6 2-5-3 3-6zM-382 51l1 7-1 4-1 0-3 5-2 1 0-20zM-368 86l6-3 5 5 0 4-3 6-2 2-6 3-4 0-2-1-4-4 3-6 3-1 3-3z"/>
<path fill="#3ceb10" d="M-107 -383l2-5 27 0 0 1 5 5 1 0 4 4 2 0 3 6-1 4-3 6-1 0-2 4 0 6 10 14 3 6 19 10 10 3 6 0 5-5 0-4 1-4 0-6-2-8 0-4 1-2 6-6 9-2 4 0 9 2 4 6 0 4-2 10-1 1-1 5-2 4-1 5-3 5-1 6 0 4 1 6-3 5-4 5-7 4-5 6-1 4 2 6 1 0 3 4 2 6-1 4-4 8-2 2-3 6 1 4 8 6 6 2 4 2 0 1 6 2 7 3 3 0 4 2 6 0 6 2 8 7 6 0 2-1 1-6-1-4 0-6-2-4 0-4-1-1 0-11 5-9 6-3 4 0 9 2 7-1 4-3 1-6-1-4-4-1-7 1-3-1-4-9-1-6-1 0 0-4-1-6 0-4 5-10 3-6 3-4 6 1 14 0 6 1 10 0 4-1 6 0 4-1 5 0 9-6 5-4 1-2 6 1 0 1 9 4 4 6 1 4-4 7-6 1-3 3-1 5 3 10 1 2 6 4 4 1 6 0 12-7 2-2 6 1 4 5 1 0 2 6 7 7 6 2 4 1 6 5 2 5 2 3 2 1 4 5 4 10 10 7 6 3 0 1 4 4 1 0 2 6 0 4-3 1-7 5-3 1-4 3-3 6-3 4-2 6-2 5-5 5-5 2-9 2-1 2-5 4 1 4 4 7 1 3 9 13 1 7 3 6 6 5 9 5 1 0 2 4-2 4-2 2-4 1-6 9-4 7-1 3-3 4 0 6 2 4 2 6-1 4-4 6-4 4-1 2 0 4 6-1 4-2 16 0 3-3 0-4-1-6 2-7 6-9 4-8 0-6-2-4-1-6 0-4 6-6 3-1 3-3 1-4 2-2 0-4-2-2-2-4-4-5-3-5 0-4 1-6 7-10 2-4 0-6-2-4-1-6 0-4 1-6 0-14 1-3 3-3 3 0 4-2 6-1 4 1 4 2 2 2 2 8 0 6-1 4 0 6 3 3 5 1 6 6 0 4-3 6-3 4 0 6 5 2 10 0 3 2 3 4 0 2 4 7 8 7 2 4 2 2-2 4-4 4-6 3-3 3-1 3-3 3-3 1-5-1-9-6-5-4-1 0 0 4-1 6-3 6-6 7-2 7 1 4 0 6 1 4 1 0 3 6-1 4-3 2-10 3-7 5-5 6-8 5-4 12-2 3-6 4-2 4-3 2 3 1 4 5 2 4 0 4-2 3-4 2-6-1-4-4-1-4 0-6-9-4-6-3-4-4-4-3-1-6 0-4-1-2-4-3-6 0-6 5-3 4-2 10 1 7 6 5 8 8 1 6 0 10-2 10-2 4-3 16-2 4 0 3-2 3-4 4-1 6 0 14-2 6 1 4 3 6 5 5 4 2 6 0 4 1 6 0 10 2 5-1 3-5-4-5-3-9 0-6 3-7 4-3 11 0 5 2 5 4 1 0 1 4-1 8-2 2-3 6-1 0-4 4 0 2-4 4 4 1 4 3 6 1 4 2 10 2 5 0 6-5 2-4 1-6 0-4 5-6 7-1 3 1 1 6-2 10 0 4-2 4-6 3-4 3 0 1-6 2-2 3-8 7-1 3-3 4-1 0-5 7-4 3 0 2-4 4-2 5-1 5-2 4 0 10 1 6 2 4-1 6-3 4-6 1 0-1-10-2-10 0-5-2-5-4-1-2-3-2-6-2-24 0-6 2-4 2-1 6 0 4 1 1 1 5 5 10 4 4 4 6 0 4 0 1-5 5-15 3-10-4-4-4-11-5-3 4-2 6 1 4 0 6 1 4 0 6-2 5-1 5-2 4 0 6 1 4-1 6 0 4-1 8-4 8-7 10-9 7-6 2-4 2-10 3-6-1-4-3 0-1-4-5-2-5 2-5 8-4 6-1 4-2 6-1 4-2 6-4 3-6 0-10-2-4-1-6-6-9 0-1-4-2-10 2-6-1-2-3-2-6-6-7-4-2-6-1-4 2-5 4-1 0-2 10 0 10 2 10-4 13-6 10-1 1-1 6 3 4 5 5 0 1 4 4 2 6 0 10-5 10-1 4-1 0 0 6 3 10 2 4 1 0 5 4 1 2 0 4-1 5-6 5-3 6-81 0 0-1-5-5-5-3-4-1-2-2-2-4 0-4 2-7 2-3 1-6-1-4-2-4 0-2-4-4 0-1-7-5-9-1-6-3-4-5-4-11 0-2-2-2-2-6-4-4-2-4-6-1-4 1-6 0-10-5-4 0-10 3-4 0-22 0-4-3-4-7 0-4 2-6 6-4 5-10 1-1 2-9-2-7-6-6 0-3-4-4-3-6-7-6-10-3-5 0-5-1-6-2-4-2 0-1-10-5-6-4-4-7-11-9-5-3-4-2-6 0-4-1-6 0-4 2-6 5-4 5-6 2-7-2-3-2-4-5-4-3-2-3-4-3-6-2-4-3-3-5-3-2-4-8-2-4-2-6 2-10 4-4 3-6 5-4 5 0 5-1 7-5 3-1 5-3 3-10 0-6 1-4-1-6-4-5-4-3-6-1-10 2-4 0-2-3 0-4-2-6-2-1-4-6-3-3-3-1-4-3 0-1-6-3-1-2 1-4 16-5 0-1 4-4 3-16 3-6 4-2 6 1 4 2 6 0 4-2 6-4 2-9-2-4-1 0-8-6-11 0 0 1-10 3-6-3-4-7-5-4-5-1-6 0-7-3-2-6 2-4 9-10 4-7 1-3 3-3 16 0 4 1 4 2 2 0 4 4 5 16 5 6 8 4 13 0 5-4 1-2-1-5-5-5-1 0-4-4-1 0-5-4-1-2-12-4-4-6-3-5-6-5-4-6 0-4 1 0 3-4 9-6 3-4 0-6-2-4-1-6 1-4 2-2 1-4 3-2 10-2 4 0 2-1 10 3 4 2 0 1 6 4 0 1 9 4 6 5 6 11 3 2 6 1 9-3 6-6 3-5 2-2 0-3 3-4 1-3 6-5 5-3 5-4-3-5-7-3-6-2 0-1-4-2-7-2-3-2-6-1-5-2-5-5-4-6 0-4 14-14 16-11 0-1 4-4 1 0 5-4 1-2 7-4 5-6 1-4 1 0 0-6 2-4 4-6 5-4 4-13 1-7 3-4 6-2 6-4 1-6 3-5 2-5 8-5 5-5 5-6 4-2 6 1 7 3 9 0 4-5 0-7-2-4-3-4-1-6 0-8 0-12-2-4-2-6-3-4-1-6 0-4 3-6 1 0 4-4zM-132 -272l-5 4-5 10 0 2-3 4-3 5-1 5-2 4-1 5 0 5 1 6 2 4 1 4 2 2 2 4 1 6 1 0 1 4 3 6 0 2 2 2 1 6-1 4-2 4-1 6 0 6 1 5 5 9 5 5 6-2 4-4 4-3 3-6 1-4-1-6-2-4-1-6 3-10 3-4 10-5 1-1 5-1 3-3 3-6 1-4-2-6-1 0-4-4-10-5-10 0-6-3 0-4 4-8 2-2 4-2 6-1 0-1 4-4 0-6-3-4-1-4-6-4-4 0-6-1-4-3-6-1zM207 -242l-2 4 0 6 3 7 4 2 6-4 2-5 0-6-2-5-6-2-4 1zM189 -212l-7 2-3 2-4 6 0 4 3 5 4 5 0 1 6 7 4 1 5-3 1-6 6-10 3-4 1-7-2-3-4-3-10 2zM2 -198l3 6 10 0 3-4 0-2-6-3-4 0-6 3zM-185 -152l-2 4-2 6 7 1 5-1 5-5 0-5-1 0-5-4-4 2zM191 -148l-4 6 0 14 1 6 4 1 6-1 5-6 5-5 3-5 0-4-3-6-6-1-4 0-6 1zM-139 -132l1 5 6 2 2-3-2-6-6 0zM47 -132l-3 4-1 6 1 4 4 4 4-1 4-7 1-6-1-4-4-4-4 3zM157 -108l-3 6 0 4 1 6 0 4 1 6 2 3 4 1 7-4 1-6 0-4-2-10-6-5 0-1-4 0zM-134 -92l0 4 2 6 3 4 1 4 2 2 4 2 6-2 2-6-8-13-6-4-4 1zM27 -62l1 1 4-1-4-1zM-111 -48l-7 4-5 6-5 5 0 1-4 3-6 2-4 2-6 1-4 4-4 2-2 6 2 4 4 4 4 5 2 1 4 5 3 15-1 6-2 4-6 3-4 0-5-1-5-3-3-3 0-6-1-4-2-2-4 0-2 2 0 4 2 4 2 2 2 4 2 0-1 6-1 4 0 6 2 4 2 6 2 3 0 2 4 6 10 3 6 0 4 1 6 3 3 6 1 5 6 4 4 0 6-2 9-7 1 0 3-4-1-6-8-6-4-4-6-2-3-2-1-5 0-7-2-8-2-6 0-10 1-4 3-6 4-4 0-1 7-5 5-4 4-5 4-11 2-10 0-14-5-6-7 0zM-247 2l-5 3-6 2-7 5 1 6 2 4 4 6 6 3 4 1 12 0 4 3 1 3-3 4-3 10 5 4 1 2 9 4 4 3 6 1 3-4 1-5 3-9 1-6 0-4-2-6-6-2-6 0-7-2-1-6 1-4 0-10-3-6-4-3-6 0-4 1zM-75 68l-2 4 0 6 2 10 4 10 3 3 6 0 4 1 7 0 9 5 4 2 6 1 4 8 6 8 1 2 3 1 5-1 1-1 1-5 0-4-1-6-6-4-10-3-4-3-5-9-5-5-1 0-6-10-1-6-2-5-6-3-4-1-6 0-4 2zM-71 162l-3 6-1 4 0 6 3 4 4 7 6 5 4 1 6-3 3-4 1-6 0-4-2-6-2-4-1 0-4-6-1 0-4-4-6 0zM-31 198l3 3 6 0 3-3-3-4-6 0zM-153 208l-2 4 1 6 2 1 5-1 3-6-1-4-3-2-4 1zM-52 268l-8 4-4 6 4 10 2 2 6 0 11-12 2-6 0-4-3-3-6 1zM-133 278l3 0-2-2zM72 -373l6 1 2 10 0 10-2 4-6 1-10-3-11-8-2-4 3-3 6-2 0-1 14-4zM138 -356l5 2 2 6-3 2-4-2-2-4zM-228 -309l6-2 10 3 8 10 2 6 0 7-1 3 0 10-5 6-2 4-4 4-2 6-2 2-4 2-6-2-4-2-3-6-2-10 0-4 1-6-2-9 0-8 3-7 5-6zM-232 -231l10 2 3 7 1 6 2 4-6 8-4 2-4 0-8-5-1-5 0-6 1-7 2-3zM332 -93l6 1 6 4 4 5 0 1-6 6-7 4-3 1-4 4-7 5-3 3-6-2-1-1-2-10 1-6 2-4 0-2 5-4 11-4 2 0zM-362 -84l4-3 6 0 4 5 0 4-4 3-6 0-4-1-3-2 1-4zM-386 -68l2 6 2 1 1 3 7 10-1 6-13 0 0-29zM-362 17l4-1 2 2 1 4-3 2-3-2-2-4zM262 36l6-2 4 0 6 1 5 3 3 4-2 6-6 3-10 3-6 0-7-6 0-6 4-4z"/>
<path fill="#74ed12" d="M-98 -388l13 0 3 3 1 3 7 4 5 6 0 4-3 6-4 4 0 6 4 3 0 1 7 10 2 6 1 0 4 6 6 2 2 2 2 0 8 4 7 6 5 3 6 0 9-3 3-6 0-4-2-10 0-4-1-2 0-10 5-5 6-2 4 0 6 2 3 5 0 6-3 10 0 2-6 7 0 1-4 4-1 0-3 6 0 4 1 6-3 6-4 5-4 3-3 6-1 4 0 10-2 4-10 0-6-1-4-3-6-3-4 1-1 2 0 6 2 4 3 4 4 2 2 0 8 4 5 6 1 7 2 3 8 4 4 0 6 3 10 2 1 1 5 1 4 2 5 1 5 3 6 1 4 2 5 4 5 8 6-2 10-5 0-7-2-4-4-19 1-5 2-6 3-2 4-1 6 1 4 0 10-2 0-1 9-5 2-4 0-6-1 0-2-10-2-4 0-5 2-11-2-1-3 1-3 6-10 3-2-3-2-6 2-4 2-6 4-4 6-3 16 0 10-2 9-2 15 0 5 1 1 1 2 9 2 6 2 4 1 6 3 4 4 4 4 2 2 0 4 2 10 0 9-2 3 0 4 2 0 2 5 6 5 3 5 1 9 4 6 6 0 4-2 2-4 0-10 3-1 1-1 6 0 14-1 6-1 2-10 3-6 0-4 1-5 4-5 3-10 2-6 2-3 3-1 4 0 7-2 3-1 6 3 2 5-8 9-3 6 0 7 3 4 6 3 7 3 3 7 2 3 2 1 6 0 4-4 2-4 3 0 1-4 4-2 4 0 6-1 6 0 10 1 5 8 5 3 0 5-2 2-4 6-4 6-5 6 1 8 8 0 6-4 8 0 2-4 4 0 2-5 4-1 0-3 4-3 6 2 5 1 5 0 4-3 6-4 4-4 3-6 2-4 2-6 5-1 4-2 4-1 8-1 2-1 6 2 5 5 5 5 2 2 2 3 6 1 4-3 16-3 10-1 4-5 9-4 0-11-9-5-1-4 2-3 5 3 4 4 4 10 5 4 7 0 10-4 5-4 4-6 2-4 2-4 1-2 3-4 0-4-3-2 0-4-4-2 0-4-2-4 0-6 4-1 2-1 6-4 10 2 2 4 1 6-1 3-2 1-2 6-2 4-2 6 0 7 6 1 4-4 5-2 5 2 5 6 1 4-2 10-2 4-6 2-4 0-2 4-1 6 1 10 0 10 5 0 2-6 6-1 3-9 7-4 1-3 2-2 4 2 6 3 2 4 1 6-3 4-3 6-2 0-1 4-1 6-4 4-6 6-7 1-2 3-2 6-2 10 0 9 4 1 1 1 5-1 6-2 4-8 8-6 1-14-4-6 1-2 4 0 4 3 6 9 4 3 6-3 7-4 5-4 2-1 6-2 4-3 2-6 0-4-2-6-5-4-4-6-1-5 0-9 2-10 0-6 1-10 5-3 8 0 4 2 6 1 0 6 6 1 4 3 4 1 0 3 6 0 4-4 3-5 3-6 0-9-5 0-1-4-4-2-6 0-10-4-2-10 0-5-2-1-6 0-14 2-4 0-2 3-4 3-6 1-4-3-10-2-10-2-3-5-2-5 2-5 3 1 5 2 5 2 4 0 4-1 2-5 5 0 7 3 8 0 14 2 6 6 4 1 6 0 10-1 4 0 5 2 5 3 4 0 12-6 8 0 2-4 3-6-4-4-9-2-6-4-6 0 2-10 6-4 1-4-3-2 0-4-8-2-2-4-2-4-1-16 0-6 3-1 6 0 10 3 14-1 1 0 5-3 10-10 14-2 7 1 3 4 6 5 3 3 1 3 3 2 7-2 10-1 0-3 10-1 6 3 14 1 6 0 4-2 6-3 6 0 4-37 0-7-5-6 0-4 2-6 1-4-1-3-3-3 0-4-3-6-2-5-5-2-4 2-6 2-10-1-6-2-4-4-5-3-5-1-3-6-2-4 0-6-1-5-4-5-7-3-7-1-6-3-4-3-10-2-10-2-4-6-1-4 0-2-1-4 0-9-4-11-8-8-2-3-16-2-4-1-6 4-4 0-1 4-5 2-1 2-3 2-6 2-4-2-4 0-2-4-2-6-1-4 0-7 3-2 6 0 10 3 10-4 3-6-4-4-6-6-5-4-4-6-3-7-1-13-4-12-6-5-6-3-2-4-5-4-3-2 0-4-4 0-1-5-5-11-4-4 0-10 2-4 2-3 6-3 5-6 3-4-1-6-4-2-3-2-6 1-4 3-3 10-3 7-4 2-6 0-4-3-3-6-2-4 0-6 2-10 6-4 5-6 3-5-1-5-4 0-2-2-4-1-6 1-4 2-4 2-2 8-4 2 0 4-2 5-4 9-4 2 0 4-2 4-3-3-15 1-6 0-10-2-7-3-3-3-1-4-3 0-1-6-2-4-3-6-2-4-3-6-3-4-5-2-1-3-6 13-10 2-4 0-6 1-4 3-6 6 1 4 5 0 4-2 6 0 4 2 4 6 2 2-6 0-4-2-6 0-4 4-6 7-4 5-6 2-4 0-6-4-7-1-3-3-4 0-1 4-3 6-1 10-2 5-3 2-6-1-4-4-6-8-5-5-5-5-4-8-6-2-1-2-3-2-7-4-3-1-6 5-2 5-8 0-4-1-1-3-15 1-4 2-4 3-2 3 0 4-2 6 0 9 2 6 6 5 4 4 4 7 6 3 10 1 0 3 6 5 0 1-1 5 0 11-4 0-1 4-4 1 0 5-7 4-9 6-7 4-3 6-2 4-2 3 0 10-6 3-1 3-3 2-6-1-5-4-6-6-2-4 0-6 3-4 6-6 3-10-2-4-2-6-2-5-3-9-4 0-2-4-4 8-7 10-7 0-1 6-4 0-1 4-4 1 0 4-6 1 0 2-4 6-6 6-4 0-1 7-5 3-4 1 0 2-6 3-4 4-3 6-1 2 4 2 9 3 5 3 10 0 6 6 10 4 4 1 6 0 4-2 10 0 6 3 14-3 6-5 4 0 7 2 3 4 4 1 2 9 5 4 1 3-2 3-4 0-6-1-4 1-6 7-10 5-4 2-4 6-6 0-6-6-9 0-6 3-5 3-2 10-2 4-2 6-8 2-6 0-10-2-3-16-11-4-6 5-4 3-10 0-6-2-4-1-6-1 0-4-9-6-4-4-1 0-1-6 0-9-3-4-2 0-4 1-6 2-1 6 0 14 7 6-3 4-6 2-1 4-7 3-3 1-5 0-1-10-8 0-2-3-4-1-6 0-5-2-9-4-5-2-5-1-6 1-4 2-4 7-6 3-6zM-64 -232l2 2 4 0 2-2-2-2-4-2zM6 -208l-4 1-4 2-10 2-1 1 0 4-1 6 0 4-2 6 0 4 1 6 3 4 4 1 5-5 1-6 4-7 6-2 14 0 6 1 4 5 6 5 4 1 3-3 0-10-1-4-2-4-2-2-6 0-6 0-6-4-4-4-6-2-4 0zM157 -158l1 2 4 3 3-5-3-1-4 1zM-80 -152l2 4 6 2 4 0 5-2-2-4-7-5-6 0zM-2 -142l-2 4 5 6 11 2 10 0 7-2-2-6-7-4-2-2-6-2-4 0-6 2zM49 -142l-1 0-6 4-1 0-3 4-4 2 0 5 2 9 2 2 1 4 3 2 6 1 4-1 4-2 2-2 1-4 2-4 0-6 2-10-1-4-4-5-6 1zM157 -112l-5 2-2 2-1 6 2 10 0 14 1 2 6 3 4 0 6-2 9-7 1-7-2-3-2-10-3-6-3-3-6-2-4 0zM-11 -108l-1 5 4 9 6 1 10-2 5-3 1-4-6-6-10-2-6 1zM-137 -98l-3 6 0 4 3 6 3 4 2 6 4 8 6 3 4-2 6-4 3-5 1-4 2-2 4-2 7-2-2-6-2 0-3 3-6 1-4-2-6-6-4-6-6-4-4 1zM-258 -88l0 1 6 4 4-5-4-3-6 3zM-73 -78l-1 6 6 12 3 2 2 6 1 0 4 8 6 1 4-2 10-4 6 0 4 1 6-1 6-3 4-5 5-11 0-4-5-6-1 0-5 5-4 10-6 5-4 3-6 1-4 0-6-2-8-6-3-6-3-4-1 0-7-6-2 0zM28 -72l-6 4-4 6-1 4 4 6 7 1 4 0 7-1 3-3 6-2-1-5-4-6-1 0-4-5-6-1zM55 -58l3 2 3 4 7 1 1-1-1-6-6-1-4 1zM-120 -52l-4 4-3 6-1 0-4 7-3 3-7 3-8 1-8 4-4 5-2 1-2 6 0 4 1 6 2 4-9 6-8 4-3 6 1 4 4 6 3 4 2 6 0 14 1 1 1 5 3 4 0 2 4 8 2 2 4 2 10 0 6 1 0 1 4 2 2 2 2 6 3 4 3 6 0 2 2 2 0 6-2 5 5 5 8 0 3-2 3-4 0-4-3-6 0-4 3-6 1 0 6-4 4-4 6-4 4-1 6 2 3 7 3 14 3 10 5-3 5-1 1-1 10 0 0 1 4 1 7 3 3 2 4 4 2 1 2 3 3 6 5 6 4 3 6-1 4-6 2-2 0-10-1-6-1-4-4-7-16-3-4-6-6-7-1-3-3-4-1 0-1-6 0-4 1-6 0-4-5-4-14 3-10 0-6 2-4 3 0 2-6 5-4 0-6-2-6-5-7-4-1-3-3-3-2-10-2-4-2-10 0-6 2-4 1-4 2-2 8-5 6-3 4-4 3-2 2-6 2-4 1-6 0-24-1-6-7-5-4-2-6 0-4-1-6 1zM107 -48l-5 3-2 3-1 4 0 6-1 5-3 5-1 4 2 6 6 4 6 1 4-5-3-10 0-6 3-5 4-5 2-5-5-5-5 0zM143 -18l0 6 9 3 6-1 1-2-3-6-8-2zM-240 -8l-6 6-2 0-4 3-5 1-11 4-3 6 3 8 2 2 3 6 1 0 4 4 0 2 6 2 4 0 6 1 1 1 0 4-1 2-10 0-3 4-3 10 0 5 10-2 6 0 4-1 9 2 7 4 4 5 2 1 8 10 0 2 6 0 0-9-2-3 1-4 0-10 1-1 0-5 1-4 0-6 1-4 0-6-2-6-6-1-4 0-6-1-2-6 0-6 1-4-1-6-2-3-3-1-7-7-6-1zM-85 -2l-2 4 0 6 1 4 3 6 5 2 6 0 3-2 0-10-1-6 0-4-2-5-6 0-4 3zM-50 28l0 4 2 6 6 1 1-7-1-5-6-2zM38 28l4 4 2 0 4-2 1-2-1-2-6-2zM131 32l-3 6 0 4 2 6 3 3 5 0 5-3 3-6-1-4-5-6-8-3zM-2 68l-9 4-1 5 0 1 4 1 6-3 4-1 6 0 14 4 6 0 2-1 2-6-6-4-8-4-10 0-6 2zM38 98l-3 4 1 6 3 4 3 10 0 6-1 4 0 6 1 5 4 9 1 6 0 10 1 4 4 2 1-2 5-5 1-5 3-3 4-1 6-6 3-4-2-6-1 0-4-4-3-6-3-4-6-6-4-5-1-5 1-4 0-6-1-4-3-3-6 0zM-200 112l-8 10 1 6 5 5 5 4 0 1 5 2 3-8 1-4 0-10-4-7-6 0zM-74 118l-1 4 1 6 2 4 3 10-1 6-2 4-1 0-2 5-6 11-11 8-6 0-5 2 0 4 11 5 4-2 6-1 4 2 6 6 0 1 4 5 10 3 10-2 6 1 4 4 10 3 10 0 6-2 1-3 0-4-1-5-6-5-10-2-4 2-6 1-3-1-2-6 0-4-2-6-7-10-4-4-5-10 0-6 1-4-1-6-4-4-7-10-1-5zM-190 158l-8 5-3 5-1 4 0 6 2 4 2 6 6 1 6-1 4-4 1-2-2-4 1-6 4-7 6 4 1 3 4 6 7 0 2-1 3-5 0-4-1-6-2-3-4-3-6-1-4 1-10-2-6 1zM-178 188l6 2 0-4-6 1zM90 212l-1 6 3 10 0 2 4 2 2 2 5-2 3-4 0-6-4-5-2-5-2-2-6-2zM12 222l-4 3-4 13-3 4-3 6-1 4 1 2 4 3 6-3 4-5 3-1 7-10 1 0 3-6-1-4-3-2-4-4-6 0zM-53 262l-13 6-2 0-4 4-1 0 0 5 5 7 4 8 1 6-1 4 0 10 3 6 3 1 6-1 5-6 0-4-1-1-2-9 2-6 6-7 1-3 3-4 1 0 3-6 1-5-3-5-2 0-4-2-10 2zM-21 328l-2 4-1 6 2 4 4-1 6-3 2-6-2-5-6-1zM62 -363l6-3 4 1 2 3 1 4-3 3-4 1-7-4 0-4zM-228 -303l6-2 4 0 6 3 3 4 1 6 0 4-1 6 0 4-1 6-2 5-5 5-5 2-4-2-3-6-1-4 0-6-2-10-1-4 1-2 0-4 4-4zM-148 -283l6-3 4 0 3 4-3 5-4 5-6 1-1-7 1-4zM-162 -259l4 1-4 3-2-3zM232 -232l6 0 4 3 3 1 0 6-7 4-4 0-6 4-2 6-2 10-2 6-4 4-6 2-4 0-1-2 1-4 3-6 1-5 2-5 0-4 3-6 5-1 6-3 1-6zM-228 -223l3 5-3 2-1-2 1-4zM272 -214l6-1 5 3 1 4-2 10 0 10 1 0 2 6 3 5 0 5 2 10 2 4 1 0 6 6 3 2 6 2 6 6 8 4 3 6-7 7-6 3-4 1-2-1-3-6-1 0-4-6-9-4-7 1-4 3-6 0-3-4-1 0-6-6-1-4 0-4 3-6 4-3 0-1 4-6 1-4 0-6-5-10-2-4 0-6 1-4 0-6 1 0 2-4zM272 -129l6 2 4 7 2 2 0 6-2 6-4 8-1 0-2 6 0 10-3 6-4 5-6 5-3 4-2 1-5 0-4-7-1-4 5-9 4-7 1-4 0-6-2-10 6-10 7-6 4-4zM328 -83l4 0 2 1-6 2-2-2zM-322 -55l4 0 6 4 3 13 7 10 0 1-6 0-4-1-6-3-4-9-2-2-2-6 0-4zM228 -48l6 0 4 3 2 3-2 6-4 4-6 4-6 1-4-1-7-4 0-5 1-4 6-4 6-3zM-158 6l6 1 0 1 4 4 2 6 0 4-2 4-4 1-4-5-2-7-1-7zM262 42l6-3 4 0 4 3-4 5 0 1-8 0-2-3 0-3zM228 67l4-2 6 1 7 6 0 6-3 4-4 4-6 0-5-4-3-4 0-6 2-4zM-152 262l4-3 1 5-5 0-1-2zM102 292l6-2 1 2-1 6-9 10-7 2-4 3-10 3-6-1-4-7 4-4 3-2 3 0 4-2 9-2 1-1 6-2 4-3z"/>
<path fill="#adee13" d="M-92 -379l6 1 4 2 5 4 0 4-5 4-10 3-6 0-4-1-2-6 2-4 4-4 3-2zM-2 -350l4 0 4 2 2 7-3 9-3 4-4 3-6-5-1-8 0-4 1-5 1-1zM-88 -346l6-1 4 1 5 4 1 0 2 4 2 6 2 4 5 6 11 4 2 3 6 4 4 5 8 4 9 0 3-1 3 1 1 4-3 6-3 4-2 6-2 4-2 6-6 4-6-2-4-3-5-5-1 0-2-4-2-10 0-4-1-2-7-4-2-2-6-3-3-5-1-5-6-6-9-5-1 0-5-4-1-6 2-4zM107 -313l5-2 6-1 10 2 6 6 4 8 0 5-2 3-4 2-10 10 0 6 1 2 5 4 4 2 6-3 4-5 5-4 9 0 11 6 1 0 4 4 0 2 3 4 0 4 1 6 0 4 2 6 4 4 10 0 2 6 0 4-2 3-4 1-10-3-6 4 0 1-4 4-6 3-10 2-4 0-1 1-5 1-4 2-5 2-5 3-6 1 0 1-7 4 0 6 7 4 6 1 5 5 2 10-3 5-5 5-5 4-1 0 1 6 10 3 6 1 13 0 1 1 6 1 14 0 4 4 1 4-1 6-2 4-1 6-5 4-7 0-9 2-4 4-2 4 0 6 1 4 0 10-2 10 3 6 4 2 6 1 4 0 9-3 7-4 10 0 7 4 3 4 0 2-2 4-4 2-8 8-2 1-4 7-2 2-3 14-5 9-6-1-5-2-5-3-4 0-6 1-4 6-1 0-5 8-4 0-6-3-4-6-3-3 0-6 7-10 1-4-1-6-4-2-6-1-4 0-16 3-7-4-7-9-2-1-6-6-8-1-10-3-6-6-4-3-4-1-6 2-4 2 0 1-6 3-4 5-3 1-4 6-1 4 2 6 9 4 1 1 10 3 16 0 8 2 6 1 6 4 3 5 11 22 6 5 5 3 5 0 10 2 4-1 6 4 3 9 1 5 2 5 1 6 0 14 1 6 3 4 3 6 0 2 6-2 5-6 5-4 4-2 6 2 8 4 2 2 4 8-1 6-3 4-2 0-8 4-6 1-10-3-4-5-4-1-2-3-2 3-2 0-7 4-5 6-2 4-1 6-1 0-4 6-6 2-4 0-6-2-2 4 2 4 0 3 2 3 4 3 4-2 6-1 4 0 6 1 4 0 10 2 3 1 2 4 5 6 1 0 5 4 4 2 7 0 3-1 6 0 2 1 3 4 2 6 3 4 4 4 10 5 6 0 4-1 6 0 6 2 3 6-5 1-4 2-6 0-4-1-6 2-8 6-2 0-4 2-6 1-10 0-4 1-4 0-6 3-6 5-4 8-6 2-4 0-2-2-1-6 3-5 4-5 4-4 1-6 0-4-2-6-3-4-3-6-1-5-2-5-4-4-4-2-20 0-6 1 0 1-10 2-10-3-4-4-6-3-2-2-3-6-1-4 1-6 1-4 0-6-6-4-8-6 4-7 0-3 2-4 1-6-3-3-6 1-4 3-6 1-5-2-19-4-6 0-8 4-2 2-14 7-6 0-3-3-2-10 0-10-1-6 0-20-2-4-6-3-6 0-4 2-6-4-2-11 0-10-2-4 0-2-7-8-3-4-6-2-4-4-1-6 0-4-1-6-2-4-2-1-4-4-6-2-4-3-2 0 0-6 6-4 0-1 6-1 4 0 6 4 4 11 5 7 1 0 4 9 2 5 4 5 10-3 2-2 2 0 6-2 4-2 4 0 2-1 4 0 10-2 6-2 0-1 4-3 3-1 3-6 2-10-2-11-1-3 2-6 13-4 6-3 2-3 1-4-1-6-10-4-2-2-7-4 7-5 4 0 6 2 6 3 4 5 4 4 6 3 4 1 6 0 4-1 6-3 3-3 3-6 3-15 1 0 3-9-1-6-3-4-6-6-3-2-5-2 0-10-1-1 0-5-2-10 0-4 3-6 5-1 4 0 6 1 4 0 3-4-1-6-6-4-1 0-5-5-2-5-2-10 1-6 3-5 6-1 4 0 6-2 4-2 6-2 4-2 5 0 6-6-1 0-3-10-4-10-1-4 4-5 0-1 4-4 1 0 2-6-4-10 4-4zM-28 2l-2 6 0 4 2 2 6 0 3-6-3-8-6 2zM35 22l-3 7 1 3 4 6 5 1 7-1 5-6 1-4-3-6-4-3-6-1-4 2zM82 52l2 10-3 10 1 6 0 6 2 4 4 6 3-2-1-4 3-6 5-5 4-5 2-4-2-4 0-2-3-4-1-3-6-5-4-1-6 3zM-222 -299l5 1 3 6-2 10 0 4-1 6-1 1-4 0-1-1 0-10-3-10 2-6zM-88 -300l6 1 4 3 4 4 6 4 0 1 5 5 1 0 2 4 2 10 3 16 3 4 4 3 6 2 1 5-1 3-6-2 0-1-4-4 0-3-6 0-4 1-2 2-4 2-2 2-3 6 0 4-5 2-2-2-2 0-7-4-2-6 0-4 1-6-1-4 0-6-1-5-3-9-2-10 0-6 1-4 5-6zM-72 -227l4 3 4 2 6 1 6 0 7-1 3-2 5 1 0 1 5 2 4 3 6 11 0 4 2 4 0 16-1 4 1 6 2 5 6 6 4 3 0 6-3 4-3 6-1 4 1 6 7 10-5 3-6 0-10-2-4 1-6 5-3 7 0 6 3 2 6-1 10 0 5 3 3 6 1 4-3 6-2 1-9 13-5 4-6 2-7-6-2-10-11-4-9-6-5-1-6 1-4 0-6-1-4-4-6-2-10 4-5-1-4-6-1 0-2-4-1-6 2-4 2-6 0-4-2-10 1-6 6-7 4-6 4-1 2-2 4 0 6 2 4 4 6 3 4 3 6 2 14 0 6 1 4 0 3-3 0-6-3-5-4-4-6-1-4-3-3-1-1-6 2-4 1-6-1-4-3-6-5-1-6 0 0-5 2-8 2-10 0-10zM-172 -214l4-3 6 1 1 4 0 4-1 6 1 4 3 6 7 4 4 6 1 4-2 10 1 6 0 4 1 6-2 4-4 5-3 1-3 4-4-13-1-1-2-6-7-6-6-2-4 0-6 1-1 3-9 7-4 1-10-2-10-5-3-1 0-6 5-4 5-6 3-1 4-3 0-1 6-4 0-1 4-4 2-6 2-4 6-6 6-3 5-1zM12 -183l6 0 4 1 7 4 4 6 9 9 7 5-3 6-4 5-4 3-6 1-4-2-6-2 0-1-4-2-6-2-4 0-1-1-5 0-4-4-3-1 3-1 0-3 2-6 2-4 1-6 5-4 2 0zM162 -183l6-2 5 2 2 5 1 6-4 4-4 0-6-1-5-3 1-6 4-4zM278 -160l4-1 6 5 1 4 3 4 0 2-4-1-6 0-4 1-5-1-1-1 0-6 3-4zM-162 -138l4 1 2 5 5 4 4 4 1 2 5 4 5 6 2 4-4 4 0 2-4 4-1 0-2 6 1 4 2 4 0 2 3 4 2 6 2 4 1 6 3 4 1 6-2 10-3 4-7 5-6 1-4 0-8 4-2 3-8 7-3 6 0 4-1 6-2 4-6 5 0 1-8 4-2 4-10 0-6 2-4-6 1-4 0-6-2-4-5-4-4-5-2-1-4-7-4-3-6 0-6 4-2 6-2 4-4 4-3 2-13 2-4 0-4-2-2-3-2-13 2-3 6-1 7 0 3-2 3-4-1-4 2-6-3-10-7-4-8-6-10-10-2 0-4-4-1 0-3-10 1-6 3-4 0-6-2-4-1-6-2-4 0-6 1-4 4-3 4-2 5 0 1-1 4 1 6 3 6 7 3 5 1 0 3 4 0 6-5 4-5 6-5 4 1 6 4 10 7 7 4 2 6 1 4-4 2-6 1-6 5-4 2-3 6-2 4-2 6-2 10-12 4-9 3-6 7-6 10-3 6-2 7-3 7-4 5-2zM-198 -68l0 7 6 8 0 1 4 2 6 0 2-2 2-6-4-5-5-5-5-2-6 1zM-229 -52l2 0-1-4zM212 -119l5 1 1 1 1 5 0 4-1 3-6 5-4 0-5-2-1-2 0-4 2-4 4-4 1-2zM268 -118l5-1 3 1 2 2 1 4-1 6-2 4-4 4-4 6 0 3-6-8-2-11 2-5 5-5zM268 -86l0 4-4 0zM222 -39l6 0 0 2-6 2-2-3zM178 -8l10 5 1 5-1 6 0 4-1 0-2 10-2 6-5 3-7-3-3-3-8-3-12 0-6-6-4-8-3-6 0-4 3-2 4-1 10 2 6 2 4 2 6-2 0-1 4-5 3-1zM-282 10l5 2 3 6 2 1 5 8 4 5 0 6 1 4 0 10-1 0-2 6-5 4-2 3-4 3-1 4 5 2 4 0 6-2 4-2 7-2 3-2 6-1 10 0 6 3 5 4 3 6 3 4 1 6 2 2 4 2 0 1 6 1 4-2 3-4 1-6-4-13 2-11 0-6-1-4 0-6 2-10 3-5 4-2 3 3 3 1 2 3 3 10-2 10 1 7 3 3 3 6 2 10 2 4 5 0 5 0 6-1 4 0 5 1 4 6 2 4 2 6 0 4-3 6 0 6 2 4 4 4 4 2 6 1 4 0 6-2 0-1 7-4 2-6 0-4-3-10 3-6 1 0 4-4 2 0 4-2 4 0 6 4 1 8 0 4-3 10-1 6 3 10 2 4 3 4 1 6 0 6-2 4-2 6-2 4-1 0-7 6-2 1-10 0-8 3-4 6 2 6 4 5 6 2 4 3 6 2 12 6 2 2 6 0 10 2 4 3 6 3 4 3 16-3 8 0 12 4 10 5 2 7 0 4-2 7-6 7-1 6 0 6 2 4 5 4 4 0 5-4 1 0 4-4 0-2 4-4 6-4 6-1 0 1 4 4 1 6 0 10-5 10-6 5-9 9-1 6 0 9 4 5 6 4 6 1 0 1 6 4 0 6-2 4-2 10 0 10 1 6 0 4-3 15-1 1 0 4-1 6-23 0-5-6-6-2-4-2-2 0-4-2-20 0-7-4-3-4 0-11 1-5-3-10-3-4-2-6 0-4 4-6 7-4 3-6-1-4-1 0-2-10 1-6 7-10 5-4 3-6 1-4-2-6-2-2-6-3-4-1-6 0-7 2-7 1-8 3-2 2-7 4-3 4 2 6 8 7 1 3 3 4 0 10-1 6 0 4-1 6-2 3-6 0-4-3-3-6-3-4-1-6-2-4-1-9 0-7 3-4 1-5-2-5-5-6-3-2-3-8 0-4 3-6 6-4 4-6 2-4 0-6-2-1-4 2-6 2-10 5-2 2-5 10-3 10 1 6-5 2-4-2-2-2-2-4-8-5-3-5-1-4 0-6 2-4 2-6 4-4 5-10-1-6-2-3-6-4-4-4-6-3 1-6 0-4-1-2 0-4-2-4-2-11-4-5-6-3-6-1-4-2-10-2-2-2 1-4 0-10 1-6-2-10-4-6-4-4-5 0-5 4-1 2-5 4-8 10-2 2-1 4-2 4-1 6 1 4 3 6 5 4 1 2 4 4 3 4-2 6 0 14-1 1-1 5-3 4-6-2-4-2 0-1-6-2-2-3-8-4-4-6-6-4-7-6-6-4 0-10-1-2-6-3 0-1-14-4 0-1-6-1-4 0-6 1-4 2-8 3-7 6-6 0-1-6 6-5 6-3 4-3 10-5 6-2 4-2 5-4 1-9-4-7-1-4 0-6 2-10 0-4-3-5-4-4-10-7-10-6-10-5-6-4-1-5 7-4 4 1 7 3 3 3 6 0 4-1 6-6 0-6-2-10 2-5 4-4 2-1zM-27 322l-1 1-1 5 0 4-2 10 0 6 3 5 1-1 5 0 4-4 1 0 11-10 2-6 0-10-4-3-10 0-4 1zM-112 19l4 0 5 3 1 2 4 2 10-3 10 3 6 1 10 0 3 5 3 6 1 4-1 6-2 0-4 3-6 1-10 0-8 6-6 3-6 0-5-3-4-5-1 0-2-5 0-6-2-7-2-3-1-4 0-6zM232 70l6 1 1 1 1 6-2 2-6-1-2-1 0-6zM-22 82l1 6-1 2-6-2 0-5 1-1zM-2 82l4-2 6-1 10 3 4 3 8 3 2 4-2 6 0 4 2 10 1 1 2 9 0 6-1 4 2 10 2 4 0 2 3 4 1 6 0 10-1 4-3 7-6 4-5 5-2 4 1 6 2 2 4 0 4-2 7-6 5-3 3-1 1-2 6-3 2-5 2-10 1 0 4-6 5-2 6-1 4-2 6 0 3 5 1 6 5 10 1 5-1 5-5 6-4 0-6-3 0 9 1 2 1 6 0 20-2 4-4 3-4-3-2 0-4-4-6-2-10 0-10-3 0-1-4-3-3-1-7-6-6-3-4-1-16 3-5-3-2-10 0-10 3-3 4-1 2-2 2-4-1-6-3-5-4-4-6-1-9-4-5-2-6 2-3 4-1 3-6 5-10-7-3-5-3-6 0-10 1-4-1-6-4-6-2-4-1-4 3-5 2-1 4 0 4 2 6 2 8 6 5 10 3 6 4 5 4 3 6-1 2-3 8-5 2-5 0-10-2-10-4-14-1-6 1-4 3-6zM238 116l4-2 6 0 4 4 1 4-3 6-2 2-9-2-4-6 1-4zM-292 172l4-1 2 1 0 6-2 2-6-2 1-6zM148 206l5 2 5 3 3 7-1 4-2 2-6 1-5-2-4-5-1-7 3-3z"/>
<path fill="#e5f015" d="M-2 -343l4 0 1 1 0 4-5 4-2-4 1-4zM-82 -339l4 0 2 1 1 6-3 1-5-1-1-6zM112 -309l6-3 4 1 6 3-1 6-5 6-4 1-6-8-1-5zM-42 -295l4-2 16 3 0 3-2 3-1 6-3 5-4 5-6-3-6-7-1-6 1-4zM-88 -289l6 0 4 3 6 2 1 2 5 4 3 6 1 0 2 10 0 4-1 6-1 2-6 4-4 4-6 4-4 0-1 0-2-4-3-10-2-10 0-6-1-4 1-6 0-4 1-6zM108 -283l4 1 2 4 2 6 6 9 6 4 4 2 6-1 4-6 5-4 5-2 6 0 4 4 6 8 3 10 0 10-1 6-2 5-4 5-6 3-7 1-13 3-6 2-4 2-8 3-2 2-6 3 0 1-4 4-1 6 1 0 4 4 0 1 9 5 5 4 0 6-4 5-5 5-9 4-12 0-4 3-4 6-6 1-4-1-6-5-4-8-1 0-2-6-3-5-4-9-1 0-1-6 2-3 4 0 10 3 6-1 2-3 2-6 1-4-1-1 0-5-4-6-10-6-2-2-1-6 2-6 5-4 8-4 2-2 13-4 7 0 6-2 2-2 1-6-3-6-6-8-1-6 1-3 4-1zM-68 -213l6-2 10 0 4-1 10 0 6 3 0 1 4 4 0 2 2 4 2 10 0 4-1 6 0 4 1 6 2 2 0 2 4 8 2 2 0 6-2 4-2 6-2 4 0 2-3 4-3 2-4 0-4-2-2-3 0-2-2-5-2-10-1 0-2-6-3-4-1 0-4-10-2-10-3-4 0-2-4-4 0-1-6-4-2-5 2-10zM-188 -203l6-3 4 0 6 1 3 7 0 6 1 3 2 1 4 4 4 2 5 4 0 6-3 10-2 3-1-3-9-5 0-1-4-4-1 0-1-6-2-4-6-6-6-5-1-5 1-4zM12 -178l6 0 6 6 4 5 2 5 4 4 1 5-3 2-4 0-3-1-3-3-6-3-4-1-5-3-1-6 1-6 4-4zM-208 -175l6-1 4 4 3 4-1 6-6 4-6 0-4-2-6-2 3-6 4-4zM-102 -148l4 0 0 1 6 3 1 2 3 2 6 2 14 3 10 0 6 1 10 5 3 1-1 6-2 4 0 2-2 4-8 10 0 1-7 3-3 2-10 0-10 2-6-2-4-5-5-1-5 1-6 4 0-1-4-2-2-2 0-6 3-4 2-6-2-4-3-10 0-6 6-8 4-2zM112 -148l4 0 6 2 6 1 7 3 17 0 6 1 7 3 2 6-1 4-6 6-8 1-6 3-3 6-1 0 0 12 1 2 1 6-3 10-3 5 1 5 3 3 11 6 5 0 10-3 1-2 9-2 4 0 3 2 1 6-3 5-1 0-4 6-5 3-2 6 0 4-1 6-2 5-6 2-10-5-4-1-6 1-3 2-1 2-4 4-6 4-6-3-1-7 3-4 3-6 1 0 1-4-1-6-6-6-4-1-10 0-6 1-10-2-4-4-3-2-2-6 0-4 6-6 3-1 3-3 0-6-3-5-4-1-3 2-3 4-2 6-2 2-6 2-4 1-10-2-6-4-4-7-4-2-2-4-2 4-2 0-10 8-1 2-6 4-3 3-6 3-5 0-3-6-1-4 7-6 8-1 5-3 5-6 4-2 10 2 6-1 5-3 5-2 5-4 4-4 1-6 3-4 1-3 6 0 5-3 4-4 2-6 3-4 2 0 4-3 10-2 3-1zM-172 -129l4-1 6 1 4 2 6 4 0 1 4 4 2 0 4 5 1 5-4 6-3 2-1 2 0 6 1 6 6 12 2 12 2 4 0 2 2 3 0 5-1 6-1 0-4 4-5 1-5 0-6 2-2 3-6 4-6 7-4 3-2 4-2 12-2 3-10 5-6 0-4-4-2-4-4-5 0-1-6-4-4-4 0-4 10 0 6 3 2-5-2-2-6-2 0-2-4-4-3-6-3-4-1-6 0-4 1-6-1-4-3-4-6-2-4 1-6 0-2-5 3-6 9-4 6-3 4-3 4-4 2-4 0-2 3-4 2-6 5-7 1-3 3-2 7-2 3-2 6-1 6-3zM-205 -78l0 10 1 6 2 1 1 3 4 6 4 4 1 2 4 3 6-1 5-4 4-4 1-6-3-4-3-2-4-5-5-3-5-8-6-2-4 2zM-288 -124l6-1 4 1 2 2 4 2 5 8 1 4-1 6-1 0-4 4 0 1-6 2-4 0-6-4-2-3-2-6-2-4 0-6 3-4zM268 -109l2 1-2 2-1-2zM-38 -93l6-3 4-1 6 1 3 4 0 4-3 7-6 4-4 1-6-5-2-7 2-4zM-8 -45l6-2 14 0 16 8 3 1 1 6 0 4-1 6 1 5 5 5 5 1 1-1 1-6 0-10 4-4 4-2 6 0 8 6 2 4 2 12 2 8 1 2 4 4 1 2 9 4 5 0 6 1 4 0 8-1 3 0 2 4 3 5 2 5 1 6 0 10 1 4 0 4 2 6 1 6-1 4-6 5-6 0-4-7-2-2-3-10-1 0-4-7-10-3-6 0-8 4-6 5-6 1-5 0-3-6 4-4 3-6 1-4-3-6-1 0-10-7-6-2-4 1-4 4-2 1-2 3-2 10 2 6 5 4 3 7-1 3-5 5 0 1-8 0-12-4-5-2-5-3-3-1-1-3-6 10-1 3-3 2-6 2-4 0-4-4-2-6 0-12 1-2 1-6 4-4 4 1 6 3 2-4-1-6 0-4-1-6 0-7-3-7-4-6-3-1-5 2-5 5-6 5-4 1-6 0-4-3-4-13-1-6 0-4 2-6 7-5 10-5 10-2 6 0 10-2zM-242 -36l4 1 4 3-4 1-7-1zM-262 -13l4 0 0 1-4 4-1-4zM147 2l1 0 5 6-5 1-2-1 1-6zM-282 22l7 6 3 2 3 8 2 10 0 4-5 7-6 3-2 0-2 2-6 1-6-3-6-4 0-6 3 0 5-3 0-1 5-6 2-4 1-6-1-4 2-6zM-78 32l4 0 6 3 3 3 0 4-3 2-4 1-6 0-4 1-6 3-4 3 0 1-5 0-2-1-3-4 3-6 2 0 7-4 2-2 8-4zM-188 33l6 4 0 9-6 5-2-3-2-6 1-4zM152 51l6 0 7 7 2 4-2 6-7 3-6 1-4-1-4-3-1-6 1-4 4-5 0-1zM-188 66l6 0 2 2 2 4-1 6-3 4-6-2-1-2-1-6 1-4zM-252 72l4-2 6-1 10 0 6 3 4 5 3 5 0 6 1 6 4 4 2 1 2 3-1 6-7 7-4 7-1 0-3 10-1 6 1 4 3 6 1 0 3 4 3 6 4 4 1 6-1 4 0 6-6 5-10-2-4-3-2 0-4-4-1-2-9-9 0-1-4-4-1-6-2-4-2-6-5-3-5-1-11-5-3-5 3-9 1-1 0-6-1-4-5-10-1-6 1-5 5-8 6-1 5 0 13-6zM62 75l6 1 2 6-2 4-6-2-3-6zM-158 87l6-1 4 0 6 5 1 7-5 10-1 4 2 6 3 4 4 7 10 3 4 0 2 1 3 5 0 10 1 4 1 0 3 6 1 4-3 6-3 4-2 6 0 4 2 6 11 8 12 6 4 5 0 6-4 5-6 3-6 1-5 0-5 3-4 1-3 2-3 6-2-2 2-9 4-5 2-4 1-6 0-6-3-4-4-3-4-6-2-1-3-6-1 0-2-4-3-4 0-2-3-4-1-6-1-4 0-16-2-4-2-1-5-15-5-2-6-1-4 2-6-3-1-6-2-4-1-5-2-5 2-6 4-2 10-2 6 0zM2 84l6-1 4 1 7 4 4 4 1 6 0 10 1 4-3 4-4 0-6 1-4-1-2-4-4-5-1-5-2-4-1-6 1-4zM-92 91l5 1 1 6-2 6-4 6-6-3-2-9 3-6zM68 91l4 2 6 4 0 1 4 4 0 2 2 4 1 4 0 6-3 3-4 1-6-2-5-2-5-5-1-5 1-7 3-3 2-6zM-98 121l6 3 1 4 5 4 4 5 2 5 0 6-2 4 0 3-2 3-4 4-4 2-6 0-4-2-5-4 0-6 1-4 0-10-3-6 2-4 5-3 3-3zM-48 121l6 1 4 3 6 8 2 9-2 9-4 7-6 2-4-2-3-6 0-4 1-6 0-4 0-5-2-5-1-6zM138 130l1 2 0 6-2 0-1-6zM18 140l4-2 6 1 5 9 3 4 2 4 0 11-6 9-4 3-10 3-6-6-1-4-2-4-1-4-5-6-1-6 6-4 4-4 3-2zM162 146l6-1 5 3 5 2 3 2 3 6-6 7-6 2-20 0-4-2-2-3-1-4 3-4 10-5 3-1zM68 170l4-1 3 3-2 6-2 0-3-3-1-3zM48 197l4-3 6 0 7 4 3 1 4 3 0 1 6 3 0 9-2 3-4 2-10 2-10 0-9-4-3-6-1-4 2-6 6-4zM-67 217l0 1 5 5 4 5 6 0 4-3 6-2 0-1 4-2 6-1 10 3 4 4 4 2 2 0 4 4-1 6-3 4 0 4-2 6-2 10 2 6 2 0 4 6 6 6 1 2 1 6 0 10-2 6-4 4-6 4-10 3-6 0-4-1-6-6-3-10 1-6 2-4 1 0 4-6 1 0 4-4 1 0 4-6 2-4-2-6-9-6-14-4-6 0-6-1-4 0-6 3-4 4-6 3-4 1-6-2-3-2-3-6 0-5 2-1 2-4 2-2 4-2 4-6 2-5 4-5 6-4zM152 216l2 2-3 0zM22 255l6 1 1 6-1 6-6 7-4 2 0 1-6 0-2-6 2-4 0-2 2-4 4-4zM-88 286l6-3 5 3 4 6 1 6 0 4-1 0 0 6-2 4-3 4-6-8-2-6-2-4-1-6 1-4zM8 322l4-2 6 2 4 4 3 2 2 4 0 6-1 4 0 16-2 10-2 4-1 6-2 4-1 6-6 0-4-6-6-2-4-2-3 0-10-6-3-1-4-3-10 2-6 0-3-2-2-6 0-4 5-4 6 2 4 3 6 0 6-7 15-14 1-6 2-4 0-2 5-4zM-48 326l6-3 4 0 3 5 1 4-1 6-3 6-4 2-3-4-3-2-1-2-1-6 1-4z"/>
<path fill="#efc314" d="M-32 -288l2 6-2 3-5-3 4-6zM-82 -278l4-1 6 1 0 1 4 4 1 0 3 5 1 6 0 4-3 6-5 4-1 2-6 1-4-3-2-4-3-10 0-6 1-4 3-6zM152 -260l6 0 3 2 1 3 2 2 2 11 0 4-2 6-6 8-10 3-16 3-4 2-6 1-10 7-4 4-6 4-4 1-6-1-4-8-5-10-1 0-4-4-1 0-2-6 2-5 1 0 4-6 6-3 10-2 4 1 6 0 0 1 4 2 6 0 4-2 0-1 6-1 4 0 6-1 7-7 3-6zM-52 -209l4-2 6-1 4 1 6 4 3 9 0 6-3 10 0 3-2 1 2 1 6 9 3 6 1 0 1 4 0 6-1 4-1 0-4 6-6 0-5-5-1-5-3-10 0-6 1-4 0-6-1 0-4-4-2-1-4-6-3-3-5-10 2-4 2-2zM98 -187l4 0 6 2 10 7 1 6-3 4-4 3-4 2-6 0-4-2-3-3-1-4 0-6 1-4zM-102 -143l9 5 1 2 5 4 5 3 4 1-4 5-10 3-10-2 0-1-6-4-2-5 1-6 1-2 5-2zM112 -143l5 0 11 4 5 1 9 3 10 0 4 3-4 5-10 3 0 2-3 4-1 6 0 10 1 4 0 6-1 5-4 5-6 4 0 1-4 5 1 4 0 6-3 0-4 2-6 1-10 0-7-3 0-6 6-4 4-6-1-4-2-3 0-3-3-4-1-4-6-5-4-1 0-1-10-2 1-7 4-6 5-5 2-5 3-4 5-5 0-1 4-2 10-2zM-68 -128l6-1 4 0 5 1 5 6 0 4-4 7-10 3-4-4-2-6-2-4 1-6zM-178 -123l6-1 4 0 6 1 0 1 8 4 2 2 2 4-2 6-3 4-1 4 2 6 2 4 1 6 0 4-1 7-2 3-2 6-2 1-4-2-6-1-7-4-3-1-7-9-2-4-2-6-3-1-16 0-1-3 1-6 2-4 2-6 6-8 6-3 11-3zM-288 -121l6-1 7 4 3 4 1 6-2 6-5 2-6-2-4-3-3-7 0-6zM58 -98l4-2 6-2 4 0 4 4-1 6-3 5-4 2-6 0-4-3-3-4 2-6zM-28 -91l3 3-3 3-4-3zM172 -63l6 0 0 2-6 5-4-2 4-4zM132 -60l6-2 6 4 1 6-3 3-4 0-6-7 0-2zM-212 -54l4-3 5 5 1 0 4 9 0 1-4 4-6-2-2-2-3-6 0-4zM-152 -57l4 3 3 6-3 2-10 0-2 4-6 4-6 6-6 0 0-6 10-10 10-2 2-2zM2 -43l6 0 10 3 4 2 0 2 3 4-2 10 1 4 4 4 0 2 4 4 1 0 3 6 1 4-1 6-4 5-2 5-3 4-3 10 1 6 3 4 1 6-1 3-6 1-10-3-2-1-8-11-4-9 0-3-2-3-3-14 0-6-3-10-8-6-4-1-6 2-4 4-3 1-3 3-4 1-6-2-3-6-1-6 1-4 4-6 5-3 4-2 10-3 6 0 5-2 5-1 4-2 6-1zM58 -23l3 5 3 10 3 16 1 6-6 3-4-2-6-2 0-1-4-4-1 0-1-6 2-2 0-2 3-6 1-7 1-3 3-4zM-192 -8l4-2 2 2-2 3-5 3 0-6zM108 30l4-1 2 3 3 16 1 6-6 0 0-2-2-4-2-7-2-3-1-6zM-278 44l6 3-2 5-4 3-5-3 2-4zM-18 47l1 1 0 4-1 0 0-4zM152 55l6 1 2 2 2 4-4 5-6 0-4-5 1-4zM-242 72l7 0 3 1 5 5 3 4 1 6-1 4 0 6 2 6 0 5-5 9-2 4-2 10 0 6 3 10 4 4 3 6 6 10-1 4-2 4-3 2-6 0-5-3-7-7-9-13 0-3-2-4-2-9-6-4-10-2 0-1-4-4-1 0 0-6 2-4 0-6-5-10-2-1-1-3 0-6 1-5 4-5 6-1 10-3 0-1 6-2 4-2 5-1zM8 87l4 2 4 3 1 6-1 4-4 2-5-2-4-4-1-8 4-2zM-162 92l4-1 6 0 3 1 1 6-3 4-3 6-4 3-4 1-10 0-4-4-1-6 1-4 4-3 7-3zM68 106l4-3 5 5 0 4-5 2-5-6zM-92 137l0 1 4 1 3 3 1 6-5 10-3 2-6-2-3-6 2-10 1-3 4-1zM-132 144l5 4 2 4 3 10-1 6-5 6-4 1-6-3-3-4-2-6 0-4 2-6 3-4 1 0zM18 150l4-2 6 1 3 3 3 10-2 6-4 4 0 1-6 1-4-2-3-4-3-11 3-5zM172 157l2 0-2 2-3-1zM52 200l6 0 5 2 5 8 0 3-6 4 0 1-11 0-6-6 0-4 3-6zM-102 208l0 5-4-1zM-38 226l6 0 4 2 6 4 4 6 1 4-1 2 0 4-4 6-6-1-14-4-5-1-5-5-2-1 0-4 2-1 3-5 1 0 6-4zM-72 234l4-1 6 4-1 5-5 4-4 6-6 3-4 0-4-3 0-4 4-5 0-1 4-4 1 0zM-22 282l5 0 5 7 2 9-2 6-4 4-2 0-4 2-9-2-5-6-2-4 1-6 5-5 4-3 4-2zM-82 291l4 7-4 5-1 0-1-5 1-6zM12 326l6 3 2 3 2 6 0 4-2 10 0 6-2 4-1 6-5 6-4 2-6 0-10-3 0-1-7-4-3-4 0-2 6-8 4-5 3-1 8-10 2-6 4-4z"/>
<path fill="#ed8b12" d="M-78 -273l6 1 4 4 1 6 0 4-5 7-6 1-2-2-3-6-1-4 1-6 1 0 3-4zM152 -248l6-2 1 2 1 6-2 9-7 5-13 4-6 2-5 0-3-6 4-4 4-3 10-2 7-5 3-6zM92 -239l6 0 5 1 5 4 4 6 0 2 3 4-3 5-2 5-2 2-6 3-4 0-6-6-4-9-3-6 0-4 5-6zM-48 -205l6-2 4 2 3 3 1 4-1 6-3 2-4 1-6-3-3-6 0-4zM102 -179l6 0 2 1 3 6-1 0-4 4-6-1-2-3 1-6zM-32 -166l5 4 2 4-1 6-2 2-4 1-3-3-2-6 1-4zM102 -134l6-2 4 0 6-1 4 3 6 3 2 3 2 6 0 8 1 2 0 10 1 4 0 6-6 8-10 5-6-2-8-11-2-6-4-7-6-4-2-3 1-6 3-4 2-6 4-4zM-282 -118l4 4 1 2 0 4-1 2-4 0-6-6 0-1 5-5zM-182 -119l4-1 6 0 4 2 2 0 3 6-6 4-3 3-10 5-6 1-4 2-6 1-4 0-1-2 3-10 12-9 2-1zM-172 -95l10 0 5 7 1 6-2 5-4 6-6 1-7-2-3-2-2-4-1-4 1-6 2-4 2 0zM-2 -39l9 0 6 1 5 4 1 2 0 4-2 6-4 4-1 2-10 2-4 0-6-1-10-7-4 0-6 2-4 2 0 1-8 5-3 0-2-6 3-5 4-5 10-3 6 0 4-1 0-1 6-2 5-3zM12 -8l6-2 4 0 6 3 3 5 1 4-1 6-3 7-6 9-2 8 0 6-3 4-5-1-3-3-3-6-3-4-3-10-1-6 0-4 3-8 10-8zM-248 77l6-1 4 0 4 2 2 0 3 4 2 6-3 10-2 4-1 0-6 6-5 4 1 6 3 14 1 6 2 4 2 6 5 4 4 6 4 4 2 6-2 5-6 1-4-4-3-2-7-16-2-10 0-4-1-6-3-3-4-1-11 0-2-6 2-10-1-4-4-3-1-3-4-4-1-6 2-5 4-3 19-6zM-162 97l2 1 0 4-2 2-6 1-3-3 3-4 2 0zM-92 146l1 2 0 4-1 2-2-2 0-5zM52 207l6 0 0 6-6-3 0-3zM-38 231l7 1 5 6 2 4-4 5-4 0-6-2-5-3-2-4 5-6zM-28 290l6 1 1 1 2 6-3 5-6 0-4-5 1-6zM12 332l1 0 3 10-3 16-1 4-4 7-6 2-4 0-8-3-3-6 2-4 5-6 8-4 0-1 6-7 4-8z"/>
<path fill="#ec5211" d="M-78 -266l6 0 1 4-1 5-5 1-2-6zM98 -230l3 2 2 6 0 4-1 2-4-3-2-3 0-6zM-182 -114l4 0 4 2-8 4 0 1-6 1-4 0-2-2 6-4 1 0zM118 -108l4 2 6 7 0 7-6 5-4 1-6-2-2-4-2-6 1-4 3-5 2-1zM-172 -88l4-1 6 1 1 6-1 3-6 3-6-2-1-4 2-6zM-8 -33l6-2 4 0 6 1 3 2 1 4-5 6-9 2-6-2-3-6 3-4zM18 -3l4-1 3 2 2 4 1 3-1 3-3 4-3 6-3 4 0 2-6 6-6-8-1-4 0-6 1-4 3-6 3-2 5-2zM-248 81l6 0 6 1 4 5-1 5-6 6-3 1-6 0-4-1-5 0-5-2-5-4 1-4 4-2 10-3 1-1zM-2 355l4-1 5 4-2 4-3 4-4 1-6-3 0-4 3-2z"/></g>
</g></g>
</g>
<g>
<circle cx="113.65" cy="327.9" r="48.7" fill="url(#rg)"/>
<path d="M107.2 290.7L108.3 289.1L109.5 287.6L110.8 286.3L112.2 285.1L113.7 284.1L115.2 283.4L116.7 282.9L118.3 282.7L119.9 282.7L121.5 283.0L123.1 283.4L124.6 283.9L126.2 284.4L127.7 285.1L129.1 285.9L130.5 286.7L131.8 287.7L133.1 288.7L134.3 289.7L135.4 290.9L136.5 292.1L137.5 293.3L138.4 294.6L139.2 296.0L139.9 297.4L140.6 298.8L141.2 300.3L141.6 301.7L141.9 303.3Z" fill="#646464" fill-opacity="0.24" stroke="#464646" stroke-opacity="0.55" stroke-width="0.7" stroke-linejoin="round"/>
<path d="M141.9 303.3L143.8 303.4L145.7 303.7L147.5 304.2L149.2 304.8L150.8 305.6L152.2 306.5L153.4 307.6L154.4 308.9L155.1 310.3L155.7 311.8L156.1 313.4L156.5 315.0L156.8 316.6L156.9 318.2L157.0 319.8L157.0 321.5L156.8 323.1L156.6 324.7L156.3 326.3L155.8 327.8L155.3 329.3L154.7 330.8L154.0 332.2L153.3 333.6L152.5 335.0L151.5 336.2L150.6 337.4L149.5 338.6L148.3 339.6Z" fill="#646464" fill-opacity="0.24" stroke="#464646" stroke-opacity="0.55" stroke-width="0.7" stroke-linejoin="round"/>
<path d="M148.3 339.6L149.1 341.3L149.8 343.1L150.3 344.9L150.7 346.7L150.8 348.4L150.7 350.1L150.3 351.7L149.7 353.2L148.9 354.5L147.8 355.8L146.7 357.0L145.5 358.1L144.2 359.1L142.9 360.1L141.5 360.9L140.1 361.7L138.6 362.4L137.1 363.0L135.6 363.5L134.0 363.9L132.5 364.3L130.9 364.5L129.3 364.6L127.7 364.6L126.2 364.6L124.6 364.4L123.1 364.2L121.6 363.9L120.1 363.3Z" fill="#646464" fill-opacity="0.24" stroke="#464646" stroke-opacity="0.55" stroke-width="0.7" stroke-linejoin="round"/>
<path d="M120.1 363.3L119.0 364.9L117.8 366.4L116.5 367.7L115.1 368.9L113.7 369.9L112.1 370.6L110.6 371.1L109.0 371.3L107.4 371.3L105.8 371.0L104.2 370.6L102.7 370.1L101.1 369.6L99.6 368.9L98.2 368.1L96.8 367.3L95.5 366.3L94.2 365.3L93.0 364.3L91.9 363.1L90.8 361.9L89.8 360.7L88.9 359.4L88.1 358.0L87.4 356.6L86.7 355.2L86.1 353.7L85.7 352.3L85.4 350.7Z" fill="#646464" fill-opacity="0.24" stroke="#464646" stroke-opacity="0.55" stroke-width="0.7" stroke-linejoin="round"/>
<path d="M85.4 350.7L83.5 350.6L81.6 350.3L79.8 349.8L78.1 349.2L76.5 348.4L75.1 347.5L73.9 346.4L72.9 345.1L72.2 343.7L71.6 342.2L71.2 340.6L70.8 339.0L70.5 337.4L70.4 335.8L70.3 334.2L70.3 332.5L70.5 330.9L70.7 329.3L71.0 327.7L71.5 326.2L72.0 324.7L72.6 323.2L73.3 321.8L74.0 320.4L74.8 319.0L75.8 317.8L76.7 316.6L77.8 315.4L79.0 314.4Z" fill="#646464" fill-opacity="0.24" stroke="#464646" stroke-opacity="0.55" stroke-width="0.7" stroke-linejoin="round"/>
<path d="M79.0 314.4L78.2 312.7L77.5 310.9L77.0 309.1L76.6 307.3L76.5 305.6L76.6 303.9L77.0 302.3L77.6 300.8L78.4 299.5L79.5 298.2L80.6 297.0L81.8 295.9L83.1 294.9L84.4 293.9L85.8 293.1L87.2 292.3L88.7 291.6L90.2 291.0L91.7 290.5L93.3 290.1L94.8 289.7L96.4 289.5L98.0 289.4L99.6 289.4L101.1 289.4L102.7 289.6L104.2 289.8L105.7 290.1L107.2 290.7Z" fill="#646464" fill-opacity="0.24" stroke="#464646" stroke-opacity="0.55" stroke-width="0.7" stroke-linejoin="round"/>
<circle cx="113.65" cy="327" r="37.4" fill="#544840"/>
<circle cx="113.65" cy="327" r="36.3" fill="#128cf6"/>
<g clip-path="url(#c20)"><g filter="url(#soft)">
<g transform="translate(114 327.7) scale(0.1)"><path fill="#13b8ef" d="M-82 -163l4-2 10 2 1 1 5 0 6 4 4 5 2 5-1 6-7 5-4 1-4-2-12-2-6 2-3 6-1 0 0 4-2 6-2 4-6 3-4-1-7-6-1-6 0-4 1-6 2-4 2-6 3-2 4-6 6-4 4-2 4 0zM98 -85l10-2 4 0 6 1 4 0 5 2 2 2 3 0 10 7 6 5 4 8 4 4 1 6 0 4 1 2 0 12-1 2 0 4-1 6-4 4-2 6-12 11-7 3-3 3-10 3 4 4 0 1 6 4 0 1 4 4 1 0 4 6 1 0 3 4 5 10 3 10 0 6 1 4-1 6 0 5-3 9-4 7-1 3-4 6-5 4-5 6-7 4-2 2-7 4-12 4-1 1-16 3-4 1-10 0-6-1-4 0-10-2-16-5-4-3-6-3 0-1-7-4-7-8-3-2-3-4 0-2-3-4-5-10-1-6 0-4-1-9 1-1 0-6 3-10 6-12 6-6 4-5 2-1 6-6 2-3 2-1-6-2-5-4-1 0-4-4-1-6 1 0 0-4 4-7 10-7 6-1 0-1 4-2 6 0 8 2 7 5 3 5-1 6-2 5-1 0-1 5 31 0 16 3 4 1 1-4 0-6 1-4 4-4 0-2 4-3 4-1 6-5 2-1 4-4 1-6 0-10-2-4-6-6-9-1-5 1-5 3-6 7-2 10 0 6-2 7 0 3-4 4-6 3-4 0-3-3-3-1-3-3-1-7-2-3-1-6 0-4 1-6 2-4 1-6 5-10 5-4 3-4 6-4 4-2 2 0zM106 72l-4 1-4 2-6 2 0 1-4 3-3 1-4 6 1 2 6 2 10-2 5-2 5-3 4-4 4-3-2-6-6 0z"/>
<path fill="#15f0f0" d="M-88 -159l6-2 10 0 11 3 6 6 1 4-1 5-7 4-16-3-4 1-6 5-2 8-2 6-6 3-4-1-3-2-2-6 0-4 1-6 4-7 1-3 3-4 1 0 7-6zM108 -84l4 0 8 2 8 1 4 3 2 0 8 7 4 3 4 6 2 4 0 2 2 4 2 10 0 4-2 10-2 4 0 2-6 10-5 4-3 4-10 5-8 1-8-1-3-3-2-6 1-4 4-6 9-4 1-2 5-4 1 0 2-4 1-6 0-4-1-6-2-4 0-2-4-4-2 0-4-2-6 0-9 2-6 6-3 4-2 6 0 10-3 10-1 1-6 2-4-1-4-2-2-2-2-4-2-10 0-4 2-10 2-6 2-4 4-5 0-1 4-4 1 0 7-6 8-3 5-1zM22 -23l10-3 6-1 4 1 6 3 3 5 0 6-3 5-5 5-5 3-9 1-1 1-10-2-5-3-2-6 1-5 3-5 7-4zM42 12l6-2 4 0 10-2 16 0 4 1 6 0 4 2 6 1 10 5 4 3 4 2 12 12 4 8 3 6 1 4 0 6-3 10 0 10-1 0-3 10-4 4-4 6-13 9-10 5-6 1-4 2-6 0-4 1-16 0-14-3-1-1-5-1-10-4-6-5-4-2-7-8-3-4-3-6-1-5-3-9 0-10 2-10 1-1 1-5 6-10 3-2 5-8 6-4 3-3 8-3zM101 72l-3 2-8 3-2 2-6 4-3 5 0 4 3 2 6 1 4-1 3-2 3 0 9-4 11-7 4-3 0-4 2-2-2 0-4-2-10 0-6 2z"/>
<path fill="#13efb8" d="M-82 -159l10 0 6 1 4 2 4 4 1 4-3 6-2 1-6 0-4-2-6-1-4 2-6 4-2 6-2 4 0 2-5 4-2 0-3-2-3-4 0-4 1-6 5-10 5-5 8-5zM98 -80l10-2 10 0 10 3 4 3 6 3 0 1 4 4 1 0 4 6 1 0 2 4 2 6 2 10 0 4-1 6-3 10-2 4-1 0-3 6-13 10-9 3-4 0-6-3-2-6 0-4 5-6 3-1 4-3 2 0 4-4 5-12 0-8-5-10-2-2-4-2-4-1-10 0-8 3-8 10-1 6 0 10-2 4-1 4-6 3-5-1-4-6-1 0-2-10 0-4 2-12 2-4 4-6 2-4 2-2 4-2 6-5 2-1zM28 -23l4-2 6 0 6 3 4 3 0 8-10 10-10 2-6 0-6-3-2-6 0-4 4-5 0-1 4-3 4-1zM38 17l10-2 34 0 6 1 4 2 6 2 5 2 5 3 4 4 6 5 3 4 1 3 2 1 3 10 0 6-5 6-4 2-6 1 0 1-10 2-5 2-9 6-7 4-5 6-2 4 4 5 14 0 6-1 6-4 9 0-5 6-8 4-2 2-10 3-2 1-4 0-4 1-10 0-6-1-5 0-5-1-4-2-6-1-4-2-6-1-4-3 0-1-6-4 0-1-4-4 0-2-3-4-2-4-2-10 0-6 1-4 0-4 2-6 4-7 4-9 6-8 1-2 8-5z"/>
<path fill="#12ed80" d="M-78 -158l6 0 4 2 6 2 1 1 1 5-2 4-6 1-4-2-6 0-4 1-6 3-2 3-2 6 0 2-6 5-5-2 0-5 1-6 5-10 5-4 4-3 9-3zM98 -78l10-2 10 0 9 2 11 7 4 5 4 4 3 4 3 10 0 16-2 4-1 6-7 9 0 1-10 7-5 3-5 1-5 0-2-1-3-4 0-5 5-7 9-4 2-2 5-8 1-6 0-4-1-6-5-10-6-3-10-2-10 3-4 2 0 1-4 5-2 1-2 9 0 4-2 11-6 3-4-1-6-7 0-5-1-5 1-6 2-4 1-6 7-10 10-7 5-3zM32 -23l6 0 4 2 4 3 0 6-4 5-7 5-3 1-10 0-2-1-4-6 0-4 2-2 2-4 11-4zM38 20l10-2 4 0 6 1 4 2 20 0 6 1 4 2 6 2 10 7 4 5 4 4 3 6 1 4 0 6-3 4-5 2-6 4-4 1-4 2-6 2-7 5-3 1-4 3 0 1-5 5-1 0-3 4-1 4-2 2-4 2-4 1-6 0-14-3-2 0-4-2-6-4-4-4-4-9-1-1-3-10 0-6 2-10 5-10 5-10 6-9 2-1z"/>
<path fill="#10ec47" d="M-88 -153l10-2 6 0 4 1 4 2 1 4-5 2-4 0-6-1-4 1-6 3 0 1-4 4 0 2-2 4-4 3-2-3 2-11 4-5 6-4zM102 -78l6-1 10 0 5 1 5 2 5 3 6 5 8 10 3 10 1 6 0 4-3 14-4 6-2 2-2 4-2 2-6 3-4 3-6 1-4-1-3-4 0-4 5-6 8-4 4-6 2-4 1-6 0-10-6-10-7-4-4-2-6 0-10 3-6 3-4 5-2 5-2 10 0 7-6 5-5-2-3-4-1-6 0-4 2-10 2-6 1 0 4-8 2-2 4-2 4-4 6-2 3-2zM28 -20l4-1 6 0 5 3 1 6-6 7-10 3-6-1-4-5 1-4 4-6zM42 21l6-1 9 2 5 4 6 3 4-1 0-1 10 0 2 1 4 0 9 4 5 5 2 1 4 4 5 10 1 6-2 1-4 5-7 4-9 3-9 7-5 3-4 1-6 6-6 4-4 2-6 1-4 0-6 1-10-3-7-5-3-3-3-7-1-7-1-3 0-6 2-10 3-7 6-10 1-3 4-5 6-5zM64 52l-1 6 1 4 4 4 1-4 0-4-1-6 0-4z"/>
<path fill="#0fea0f" d="M-78 -153l6 0 0 2-7-1zM108 -78l8 0 11 4 10 6 8 10 3 6 1 4 0 16-4 10-7 10-6 4-4 2-6 2-5-4 0-4 5-6 8-4 3-6 3-4 1-5 0-5-1-6-4-7-1-3-3-3-6-3-4-1-10 0-6 2 0 1-8 4-4 6-2 4 0 5-1 1 0 4-1 6-4 3-4-1-2-2-1-6 0-10 1-4 3-6 3-4 0-2 4-4 6-4 6-3 9-2zM28 -18l4-1 6 0 2 1 2 6-4 4 0 1-10 3-6-2-1-2 0-4 1-2 4-4zM38 26l4-2 6-1 9 3 5 6 1 5-2 5-1 6 0 14 2 10 0 3 2 3-2 5-3 5-7 2-4 2-5 0-5 0-6-1-4-3 0-1-6-6-3-9 0-14 3-9 4-7 3-4 2-6 5-4zM78 33l10 0 4 1 5 4 1 0 4 4 0 2 3 4 2 10-3 4-2 1-4 4-6 2-10 6-4 3-6 1-2-1 0-6 2-4 0-10-2-10 2-10 1 0z"/>
<path fill="#47ec10" d="M98 -73l14-3 10 2 6 2 10 7 1 3 4 4 2 6 3 5 0 14-3 5-2 6-5 7-3 3-3 1-4 3 0 1-6 1-3-6 6-6 3-1 5-5 4-8 1-6 0-7-2-7-3-6-1 0-4-4 0-1-6-3-4 0-6-1-10 2-3 3-2 0-5 5-3 5-2 4-2 6 0 4-1 6-2 1-5-1-1-6 0-4 2-10 4-9 2-1 4-4 1-2 7-5zM32 -18l2 0 4 3 1 3-7 5-4 0-3-1-1-4 8-6zM42 27l6-1 6 2 5 4 0 6-2 10 0 10 1 0 0 10 1 4-1 7-2 3-6 6-2 1-6 1-4 0-6-1-4-4-6-8-2-9 0-6 2-9 4-5 5-10 1-3 9-7zM82 36l6 0 10 5 1 1 3 10-1 6-3 5-10 6-10 3-1 0-1-4 0-6-2-4-1-6 0-4 1-6 4-4 1 0z"/>
<path fill="#80ed12" d="M102 -73l16 0 2 1-2 2-6 0-5 2-5 1-4 2-3 3-3 1-3 3-1 4-2 2-2 4-1 6 0 4-1 2-2-2-1-4 3-15 6-6 4-5 6-2 4-3zM138 -60l1 2-1 5-2-5zM142 -54l2 6 1 6 0 4-2 10-5 11-6 4 0 1-4 1-6-1 0-1 6-3 1-2 6-4 2-6 3-4 1-5 0-11-3-4zM42 31l6-1 6 2 1 6-2 10 3 14 0 10-1 6-4 4-3 4-6 2-6 0-4-2-4-4-3-4-2-6-1-4 0-9 1-1 2-6 3-4 4-8 8-8zM78 41l4-3 6 0 4 1 6 5 2 8-2 6-6 5-4 2-6 0-4-4-2-3-1-6 0-4 1-6z"/>
<path fill="#b8ef13" d="M42 36l6 0 2 2 0 10 2 4 2 10 0 6-2 7 0 3-4 4 0 1-10 3-6-2-4-5-2-1-2-10 0-6 3-10 3-4 2-4 6-6 1 0zM82 40l6-1 6 3 4 7 0 4-2 5-4 3-4 1-6 0-4-4-2-6 0-4 3-6z"/>
<path fill="#f0f015" d="M42 41l2 1 2 6 2 1 4 13 0 6-3 10-7 5-4 1-3-2-3 0-4-6-2-4-1-4 0-6 1-4 3-6 3-4 1 0 6-6zM82 42l6-1 4 2 4 5 0 4-2 6-6 3-6-1-2-2-3-6 1-4 3-6z"/>
<path fill="#efb813" d="M82 44l6-1 6 5 0 4-2 4-4 3-6-1-3-6 1-4zM32 51l6-3 4 0 4 4 3 6 1 4 0 6-2 8-2 2-4 2-4 1-7-3-3-6-1-4 0-6 1-4 4-6z"/>
<path fill="#ed8012" d="M82 46l6-1 3 3 1 4-4 4-6-2-1-2 1-4zM38 52l4 1 6 8 0 8-7 9-5 0-4-3-2-7 0-6 2-6 4-4z"/>
<path fill="#ec4710" d="M38 57l4 1 2 4 0 6-2 5-5 0-3-5 0-6 2-4z"/>
<path fill="#1047ec" d="M52 -145l6-1 5 4 2 4 0 10-2 10-1 1-1 5-2 4-1 5-6 10-3 5-3 6-4 4-4 6-5 5-5 3-6 2-4 0 0-1-4-5-1-4 0-6 1-4 0-6 4-9 1-5 3-7 5-9 1 0 5-10 9-9 0-1 6-4zM-78 -138l6 1 4 3 6 3 5 3 4 6 1 0 4 4 0 2 6 7 4 10 1 1 3 10-1 6-7 4-6 0-9-4-6-4-1-2-7-4-1-2-4-4-2-1-4-6-6-7 0-7 4-13 2-4 3-2zM108 -54l4-2 6-1 6 5 2 4 0 6-2 4-2 2-2 4-13 10-9 3-1-3 0-6-1-4 1-6 0-4 3-6 5-4zM-162 -39l4-1 16 0 11 2 3 1 6 0 14 3 6 2 9 4 2 6-3 4-12 6-12 2-4 1-6 0-4 1-6 0-10 2-10 0-5-2-5-1-4-3-2 0-4-3-4-7 1-6 3-3 3-1 3-3 6-3zM-72 47l4-2 6-1 4 1 2 3 1 4-1 6-2 4-2 6-3 4-3 6-2 1-4 6-13 13-13 9-4 2-10 3-6-3-1-2 0-5 1-5 2-5 4-6 5-8 9-11 5-5 1 0 4-4 0-1 10-7 5-2zM98 76l4-1 6 0 4 3-4 4 0 1-9 5-7 2-4 0-3-2 2-6 5-3 3-1z"/>
<path fill="#0f0fea" d="M-78 -127l6 1 4 2 7 6 7 10 2 4 0 6-6 1-9-5-5-6-4-4-3-6-1-4zM48 -123l2 5 0 6-2 8-6 9-1 3-9 7-4-3-1-4 1-2 0-4 2-4 2-6 6-8 4-5 4-1zM118 -53l3 5-2 6-7 7-4 3-2 0-4-5 6-10 0-1 4-3 4-1zM-162 -30l4-2 16 0 14 3 6 1 6 6-2 0-4 3-10 3-10 2-16 0-4-2-5-6 2-6zM-82 66l4-2 4 4-1 4-3 4 0 2-4 4 0 1-6 4 0 1-4 2-6 2-2-4 2-7 6-6 4-5 4-2zM102 76l5 1 1 1-3 4-11 6-5 0 1-6 8-4z"/>
<path fill="#0f0fea" d="M-152 -23l4 0 0 1-5 0zM92 82l6-1 3 1-3 2-6-1 0-1z"/></g>
</g></g>
</g>
<g>
<circle cx="240.75" cy="327.9" r="48.7" fill="url(#rg)"/>
<path d="M234.3 290.7L235.4 289.1L236.6 287.6L237.9 286.3L239.3 285.1L240.8 284.1L242.3 283.4L243.8 282.9L245.4 282.7L247.0 282.7L248.6 283.0L250.2 283.4L251.7 283.9L253.3 284.4L254.8 285.1L256.2 285.9L257.6 286.7L258.9 287.7L260.2 288.7L261.4 289.7L262.5 290.9L263.6 292.1L264.6 293.3L265.5 294.6L266.3 296.0L267.0 297.4L267.7 298.8L268.3 300.3L268.7 301.7L269.0 303.3Z" fill="#646464" fill-opacity="0.24" stroke="#464646" stroke-opacity="0.55" stroke-width="0.7" stroke-linejoin="round"/>
<path d="M269.0 303.3L270.9 303.4L272.8 303.7L274.6 304.2L276.3 304.8L277.9 305.6L279.3 306.5L280.5 307.6L281.5 308.9L282.2 310.3L282.8 311.8L283.2 313.4L283.6 315.0L283.9 316.6L284.0 318.2L284.1 319.8L284.1 321.5L283.9 323.1L283.7 324.7L283.4 326.3L282.9 327.8L282.4 329.3L281.8 330.8L281.1 332.2L280.4 333.6L279.6 335.0L278.6 336.2L277.7 337.4L276.6 338.6L275.4 339.6Z" fill="#646464" fill-opacity="0.24" stroke="#464646" stroke-opacity="0.55" stroke-width="0.7" stroke-linejoin="round"/>
<path d="M275.4 339.6L276.2 341.3L276.9 343.1L277.4 344.9L277.8 346.7L277.9 348.4L277.8 350.1L277.4 351.7L276.8 353.2L276.0 354.5L274.9 355.8L273.8 357.0L272.6 358.1L271.3 359.1L270.0 360.1L268.6 360.9L267.2 361.7L265.7 362.4L264.2 363.0L262.7 363.5L261.1 363.9L259.6 364.3L258.0 364.5L256.4 364.6L254.8 364.6L253.3 364.6L251.7 364.4L250.2 364.2L248.7 363.9L247.2 363.3Z" fill="#646464" fill-opacity="0.24" stroke="#464646" stroke-opacity="0.55" stroke-width="0.7" stroke-linejoin="round"/>
<path d="M247.2 363.3L246.1 364.9L244.9 366.4L243.6 367.7L242.2 368.9L240.8 369.9L239.2 370.6L237.7 371.1L236.1 371.3L234.5 371.3L232.9 371.0L231.3 370.6L229.8 370.1L228.2 369.6L226.7 368.9L225.3 368.1L223.9 367.3L222.6 366.3L221.3 365.3L220.1 364.3L219.0 363.1L217.9 361.9L216.9 360.7L216.0 359.4L215.2 358.0L214.5 356.6L213.8 355.2L213.2 353.7L212.8 352.3L212.5 350.7Z" fill="#646464" fill-opacity="0.24" stroke="#464646" stroke-opacity="0.55" stroke-width="0.7" stroke-linejoin="round"/>
<path d="M212.5 350.7L210.6 350.6L208.7 350.3L206.9 349.8L205.2 349.2L203.6 348.4L202.2 347.5L201.0 346.4L200.0 345.1L199.3 343.7L198.7 342.2L198.3 340.6L197.9 339.0L197.6 337.4L197.5 335.8L197.4 334.2L197.4 332.5L197.6 330.9L197.8 329.3L198.1 327.7L198.6 326.2L199.1 324.7L199.7 323.2L200.4 321.8L201.1 320.4L201.9 319.0L202.9 317.8L203.8 316.6L204.9 315.4L206.1 314.4Z" fill="#646464" fill-opacity="0.24" stroke="#464646" stroke-opacity="0.55" stroke-width="0.7" stroke-linejoin="round"/>
<path d="M206.1 314.4L205.3 312.7L204.6 310.9L204.1 309.1L203.7 307.3L203.6 305.6L203.7 303.9L204.1 302.3L204.7 300.8L205.5 299.5L206.6 298.2L207.7 297.0L208.9 295.9L210.2 294.9L211.5 293.9L212.9 293.1L214.3 292.3L215.8 291.6L217.3 291.0L218.8 290.5L220.4 290.1L221.9 289.7L223.5 289.5L225.1 289.4L226.7 289.4L228.2 289.4L229.8 289.6L231.3 289.8L232.8 290.1L234.3 290.7Z" fill="#646464" fill-opacity="0.24" stroke="#464646" stroke-opacity="0.55" stroke-width="0.7" stroke-linejoin="round"/>
<circle cx="240.75" cy="327" r="37.4" fill="#544840"/>
<circle cx="240.75" cy="327" r="36.3" fill="#10a0f6"/>
<g clip-path="url(#c21)"><g filter="url(#soft)">
<g transform="translate(241 327.7) scale(0.1)"><path fill="#14d4ef" d="M-63 -238l8 0 3 1 4 0 6 1 7 4 3 0 4 4 0 1 5 5 5 10 6 8 0 2 2 4 2 10 0 5 6 10 0 1 4 4 0 1 6 0-1-5-2-6-2-4 0-10 1-6 4-7 1-3 3-4 1 0 1-6 4-4 5-6 5-4 4 0 0-1 6-3 4-1 6 0 0-1 4-2 6 1 4 2 6 2 4 3 7 4 7 6 2 0 4 4 0 1 6 3 1 2 3 2 6 3 4 1 16 0 7 4 3 1 2 3 2 6 0 4-2 10-2 6-1 4 0 6-2 4-7 10-1 0-1 6-5 4-3 4-9 6-3 6-4 3 0 1-4 6-2 10 0 4-2 6 4 7 4 3 6-1 4-2 6-1 4 0 10 2 6-2 4-3 6-3 10 0 10-2 4 0 6 1 0 1 4 0 6 1 7 9 6 10 1 5 4 5 2 6 3 4 1 4 0 6-2 10-3 4-3 6-3 4-2 6-11 11-6 3-4 5-3 5-3 3-1 3-3 3-4 1-1 5 0 11 9 11 4 3 2 6 2 4 1 6 0 4 1 6 0 20-2 10 0 4-3 6-1 4-4 5 0 1-6 4 0 10-1 6-3 2 0 2-5 6-7 4-2 3-10 7 0 1-6 3-4 1-6-1-4 2-10 7-6 0-4-1-2-2-4-1-10-5-4-5-6-5-4-5-6-3-4-4-6-2-6-4-4-7-3-9-1-1-6 0-1 7 0 4 1 6 0 29 4 5 0 6-2 10 0 4 1 6-1 4-2 4 0 2-4 4-1 0-5 4-4 5-2 1-4 4-4 5-6 0-4-1-10-5-4-3-12 0-13-4-1-1-20 0-6-2-4-5-3-2-3-6-4-4 0-3-2-3 0-10 1-5-1-5-2-4-1-6 0-4 1-6 4-3 3-7 2-4 1-6-6-2-6 0-6 2-4 7-1 9-1 4-3 6-5 4-1 0-3 4-6 1-4 3-6 0-4-2 0-1-6-3-4 2-6 1 0 1-4 2-6 1-4-3 0-1-5-5-1 0-3-4-5-10 0-6 5-4-1-2-6-1-1-3-6-4-7-10 0-6 2-10 0-4 2-9 1-1 1-6 2-4 2-2 2-4 2-2 6-2 4-3 10-2 6 0 4-1 6-4 5-6 5-4 8-10 2-2 1-4 3-3 6-3 4 0 4 2 12 0 4-3 10-2 10-5 2 0 4-4 4-1 10 0 10 2 4 3 6 1 6 4 0-1 4-4 1-6 0-4 1-6 0-4-1-6 0-4-2-6-2-4-2-6-2-4 0-10 2-6-9-4 0-1-6-1-4-5-4-3-3-6-3-5-9-9-1-6-6-6-3-4-7-2-10-7 0-1-8-4-6-6-6-5-9-5-11-5-10-3-4-5-2-1-3-10 0-6 1-4 0-6 2-10 2-2 0-2 2-6 4-4 4-5 4-7 4-4 5-4 4-6 5-4 2-3 9-3 7-4 5-6 9-4 0-1 6-3 8-2zM82 -168l2 0-2-2zM2 -132l0 7 1-3 0-4-1-4zM172 -52l-1 4 1 2 6 0 0-3-6-4zM126 22l-6 6 2 1 6 1 4 0 6-2 4-6-4 0-6-1-4 1zM-48 82l-5 6 1 4 4 8 6-3 1-5 0-4-1-4-2-2-4 0zM62 142l0 2 2-2-2 0zM-208 -124l6-1 20 0 6 3 4 0 4 1 6 4 9 9 5 7 6 4 4 1 6 3 0 1 7 4 7 9 6 3 4 4 6 0 10 3 4 2 6 2 10 8 5 5 5 1 9 9 7 4 4 5 0 1 4 4 0 1 4 5 1 4-1 6-2 4-1 6 1 4-1 6-1 0-1 4-3 4-6 2-4 4-10-2-6 0-10-3-4 0-6-1-14 0-6-2-1-2-9-6-7-4-24 0-3 3-6 2 0 1-4 4-2 0-4 4-10 4-4 1-10 0-6-4-4-2-4-3-12-2-14 0-7-2-6-6-2-10 0-10 2-10 0-4-2-6-3-4-2-6-3-4-1-6 1-4 4-6 9-7 6-7 3-6-2-10 0-4 3-6 4-4 1 0 9-8 6-2 2 0z"/>
<path fill="#14efd4" d="M-68 -234l6-1 10 0 10 3 9 4 5 6 2 4 1 6 11 14 2 9 0 2 4 11 7 8 3 6 6 5 1-5 0-10-1-8-2-2 0-6-1-4 1-6 2-1 3-9 7-9 2-5 2-3 6-4 4-2 7-1 3-2 10-2 6 0 4 1 4 3 2 0 4 3 6 3 3 4 7 3 4 4 6 4 3 3 1 3 6 4 4-1 16 0 6 4 3 6 1 5-3 9-1 6 0 4-1 6-5 10-6 8 0 2-4 4-1 0-5 4-4 5-2 1-4 5-2 5-4 6-3 10-2 10 0 4 2 6 5 3 4 0 16-3 10 0 4 1 6 0 2-1 2-3 6-2 4-2 6 0 10-2 4 0 6 1 10 4 7 8 3 6 3 4 1 6 3 4 2 6 2 4 0 6-1 6-4 8-6 12-4 4-5 4-1 2-4 4-6 4 0 2-6 6-4 6-2 2-7 4 1 6 0 10 2 5 6 4 0 1 4 4 3 6 2 10 3 9 1 5 0 10-1 6-2 4-2 10 0 6-4 5-5 5-5 4 0 10-1 6-3 6-5 5-6 3-9 8-5 2 0 1-10 0-5 1-5 4-5 3-6 1-4-2-6-2-8-6-2 0-4-4 0-1-5-5-1 0-4-4 0-4-1-2 3-4 5-10-3-3-4-1-6 1-5 3-5 2-3-2-3-6-4-5-4-4-6 1-2 8-2 6 0 4 2 10 0 20 2 10 1 0 0 6-2 10 0 14-3 6-6 5-5 5-5 4-4 5-6 1-10-3-4-3-10-2-6 0-4-2 0-1-6-1-10 0-4-1-6 0-4-1-6-3-10-13-3-10 1-6 0-10-2-5-3-5 0-4 3-4 0-2 4-6 6-12 0-7-6 0-4-1-6 0-4 2-5 4-5 16-5 10-1 0-4 4-2 0-4 3-4 1-6-1-4-4-6-1-4 2-2 0-4 3-4 2-6 0-4-2-6-6-3-7-1-4 4-7 3-3-1-6-6-1-6 0-4-5-6-6-1-3 0-5 2-10 0-10 3-10 4-4 2-4 10-5 6-1 4-2 10-2 6-2 4-6 4-4 5-4 1-2 4-4 2-1 4-7 2-2 4-2 14 0 6-1 4 0 6-2 4-2 6-1 1-2 3-2 6-2 4-3 10 0 6 1 2 2 8 1 6 3 7 6 2 0 2-10 0-6 2-10-3-14 0-6-1-4-1 0-3-10 0-20-1-1-6-1-4 0-6-3 0-1-4-4-1 0-3-6-2-1-9-13-5-10 0-1-4-5-2 0-10-5-7-5-3-1-4-3 0-1-6-4 0-1-10-7-4-3-6-2-4-3-6-2-5-3-5-1-3-3-3-10 0-6 2-6 0-8 2-10 2-4 2-2 4-7 1-3 5-4 4-4 4-5 2-1 8-9 6-2 4-2 6-2 0-1 4-3 6-3 4-4 7-4zM80 -172l-2 4 4 4 6-2 0-6-6-2zM1 -138l0 16 1 2 3 2 1 6 2 2 1-2 0-6-1-3-2-1-1-6 0-4-1-6-2-3zM6 -78l2 3 1-3-1-1zM170 -52l-2 4 4 6 0 1 6 1 2-2 1-6-3-6-6-1zM122 22l-5 6 5 3 6 2 4 0 9-5 4-6-7-2-6-1-10 3zM-50 82l-4 6 0 4 1 6 5 9 4-5 2 0 2-4 2-6 0-4-4-7-6-2zM92 138l0 5 6 2 4 0 3-3 0-4-3-4-4 0-6 3zM-212 -119l4-2 6-1 20 0 10 2 4 2 0 1 6 2 4 5 3 2 2 6 1 0 4 4 6 2 7 4 3 1 4 3 0 1 9 9 1 2 5 4 5 1 10 3 0 1 10 2 4 3 2 0 7 4 7 7 6 3 8 6 5 4 1 2 8 8 3 6 1 4-1 6-1 0-1 4 0 16-3 4-1 0-5 4-4 1-16 0-10-2-4 0-8-3-8 0-10-3-4-3-6-3 0-1-4-1-6 0-4-1-10 0-11 2-7 6-8 4-4 4-6 1-10 0-10-3-4-3-6-3-4-1-10 0-6-1-4 0-7-4-3-4 0-5-1-1 0-4 3-16 1-4-1-6-8-8 0-2-3-4-1-6 1-4 4-6 6-4 5-6 4-4 1-6 0-4-1-6 3-10 14-10z"/>
<path fill="#13ee9c" d="M-62 -233l10 0 0 1 14 4 0 1 6 4 1 5 0 6 3 5 6 3 5 6 3 16 2 1 4 9 6 6 4 8 0 1 4 5 2 0 3-10 0-10-3-16 0-4 1-6 2-4 1-4 2-2 2-4 2-2 4-8 0-1 7-5 9-2 4-2 10-2 6 0 10 4 4 2 0 1 6 4 0 1 4 3 4 1 12 10 2 6 0 10 2 6 6 1 2-3 2-10 6-1 4 0 7 1 4 6 1 4-2 6-3 4 2 10 0 6-3 7-9 12-1 2-6 5-4 5-4 3-3 6-6 10-3 6-2 8 0 6-2 4 1 6 3 4 2 0 4 2 4 0 10-3 6-1 10 0 4 1 6 0 4-3 2 0 4-3 10-2 10-2 4 1 4 0 6 3 6 2 0 1 4 4 1 0 3 6 3 4 3 9 1 1 2 6 2 4 0 6-2 4-1 6-3 4-3 8-6 5-4 5-6 5-4 5-3 2-7 10 0 1-10 8-4 1 4 7 0 9 4 7 8 7 3 6 3 14 3 10 0 10-1 7-2 3-2 10 0 6-4 4-2 3-6 3-3 4 1 6 0 4-2 9-2 1-4 4-1 2-7 4-6 6-6 2-14 0-6 4-3 4-7 1-5-1-9-5-7-5-5-6-4-4-1-6 7-9 0-1 4-5-4-7-4-2-2-2-2 2-2 0-6 3-5 2 0-1-5 0-4-6-4-4-10-4-2-2 0 2-2 4-2 10-1 0-1 6 0 4 2 10 0 20 1 6 2 4 0 6-3 14 0 11-3 5-5 4-5 6-7 6-6 2-10-2-1-2-13-3-7-1-3-2-10-2-10 0-6-1-4-1-7-4-4-6-5-9 0-14 1-1-1-5-4-11 0-4 2-6 2-3 2-1 2-6 3-4 3-10-4-4-16 0-4 1-6 5-3 8-1 5-4 9-4 6-2 2-10 3-6-2-4-6-6 1-1 2-3 1-6 4-10 2-4-3-4-4-3-6 0-4 3-6 3-4 0-6-5-3-4 0-6-1-6-6-3-4 0-6 2-10 0-10 3-10 4-4 0-1 6-3 4-3 16-3 4-1 6-3 4-5 2-1 4-5 0-1 4-4 2 0 4-4 4-6 0-1 8-5 12 0 16-3 4-3 6-1 4-3 6-2 4-2 0-1 6-1 4 0 4 2 2 0 4 2 9 2 1 2 7 4 3 3 4-3 0-5 2-9 1-6 0-10-3-10 0-6-3-10-1 0-1-4 0-16 1-4-4-3-6-1-4 0-6-4-6-8-4-4-10-14 0-2-5-10-5-3-4-1 0-1-6-2-4-3-7-4-3-4-6-4-4-4-5-4-11-4 0-1-4-2-6-2 0-1-4-2-6-2-3-6 0-10 1-4 0-10 2-11 6-9 4-7 6-5 4-5 6-5 4-5 6-2 4-2 6-2 6-3 4-1 7-3 3-4 0-2 4-3 3-1zM-67 -212l5 9 7 1 7-2 5-4-5-6-4-2-10 0zM77 -172l-2 4 6 6 3 0 4-2 2-4 0-4-2-3-6-1-4 2zM2 -142l-2 4-1 6 0 4 1 6 4 10 4 5 3-5 0-6-4-14-2-10-3-3zM5 -78l3 4 3-4-3-2zM167 -52l-1 4 3 6 3 3 6 3 4 0 2-6-1-6-2-4-3-4-6 0-4 3zM131 18l-3 0-6 2-7 8 7 5 6 2 10-3 6-4 4-5 0-1-6-3-4-1-4 0-2-1zM93 32l5 2 4 0 5-2-5-1-4 0zM-48 78l-4 5-1 0-2 5 0 4-1 6 2 10 2 2 4 1 6-5 1-4 3-4 0-2 2-4 1-4-7-10-6-1zM93 132l-5 5-5 1 9 9 6 2 6-1 4-4 1-6-4-6-3-1-4 0zM-208 -118l10-2 20 0 6 1 4 3 6 3 0 1 4 4 3 6 7 6 6 2 12 6 9 10 4 4 1 2 4 2 9 2 11 4 4 2 6 2 5 2 5 4 4 5 4 1 2 2 4 2 7 6 5 6 4 4 3 6 1 4-2 10 0 10-1 6-1 2-6 4-10 2-4-1-6 0-4-1-6 0-4-2-16-3-5-1-9-5-1-1-15-3-20 0-4 2-4 1-7 6-5 2-3 2-1 2-6 0-4 1-10-2-10-5-6-3-4-1-16 0-5-2-5-4-2-6 0-4 2-10 0-2 2-4 4-6 2-4-2-4-6-2-4-2-6-6-1-6 1-5 5-5 1 0 8-10 2-1 2-3 1-6 0-14 3-6 7-4 1-2 6-2 2-2z"/>
<path fill="#11ec63" d="M-62 -228l4-1 8 1 2 3 6 2 0 1-19 0-3-6zM38 -228l14-4 6 0 4 2 6 2 6 6 8 5 6 3 4 4 3 2 2 6 0 4-1 6 2 6 4 5 10 2 6 0 0 1 4 3 6 9 0 5-1 3-7 10-3 6-5 4-5 6-5 5-4 7-2 2-4 7-3 13-1 6-6 9 0 1 10 8 5 1 5 0 6-2 6-3 15 0 3 2 6 0 2-2 2 0 6-4 14-3 6-1 10 2 10 5 10 12 1 5 2 4 1 5 2 5 0 6-3 10-3 5-6 5-4 6-2 4-4 4-4 6-6 4-8 10-5 6-7 3-11-3-3-2-6-1-4 1-3 2-3 0-4 5-5 4-1 4-4-1-10 0-10 2 4 2 6 2 4 0 6-1 4-2 6 0 4 2 6 1 4 0 6-1 10-7 4 0 2 4 1 6 3 5 4 5 6 4 3 6 1 4 0 6 3 10 2 4 0 10-3 10-1 6 0 5-1 0-1 5-3 4-10 5-2 5 2 10-1 6-3 4-2 1-4 5-6 4-4 3-6 2-4 0-6-2-4 0-4 3-2 0-4 4 0 1-6 2-4-1-4-2-2 0-6-4-6-6-4-5 0-5 6-5 6 1 4 2 6 2 4 0 6-2 2-2 1-6 0-4-2-6-7-4-4 0-10 2-6-3-2-5-2-3-6-1-4 3-6 3-4 1-6-3-6-4-12-6-2 0-3 6-1 7-3 7-2 6 2 10 0 4 1 6-1 4 0 6 1 4 2 4 1 6 0 6-1 7-3 7 0 10-3 6-5 5-4 5-1 0-4 4-6 1-4 0-6-1-4-3-6-1-5 0-5-1-4-2-10-2-10-2-6 0-7-3-5-6-2-4-1 0-2-6 0-20-3-6-1-4 0-4 1-5 6-8 1-3 3-5 6-7 1-2 1-6 0-4 2-9 10-3 6-5 4-9 5-10 0-4-3-6-4-4-2-3-6 0-6 7-4 13-1 7-4 6-2 4-2 6-1 0-3 10-1 2-6 2-4 0 0 1-10 0-6 4-3 5-1 5-3 5-3 9-4 6-6 2-4 0-2-1-4-8-4-3-7 5-5 6-4 1-4 3-6 0-4-4-1 0-2-6 0-4 3-6 3-4 1-6-4-4-6-1-4 0-6-1-4-4-3-4 0-10 1-6 0-10 2-5 4-7 6-3 4-3 10-3 14-3 2-1 4-5 6-6 4-5 6-4 4-5 6-5 4-2 6 0 10-2 10-3 4-2 6-1 4-3 4-2 2 0 4-2 6-2 4 0 10 3 5 1 14 10 1 1 5-1 2-4 0-10 3-16-2-10-2-4 0-6-2-10-2-4-1-6 0-10 1-4 0-6-2-1-4 1 0 1-10-2-6-3-7-10-3-3-1-3-3-4-1 0-5-10-1-6-3-4-2 0-4-3-10-2 0-1-4-3-6-3-4-4-6-5-4-5-6-3-5-1-9-5-10-5-2 0-4-5-1-6 1-5 0-20 5-10 3-4 3-6 5-4 6-6 5-4 3-4 3-2 3 0 4-2 6-2 10-2 4 0 7 6 3 10 0 6 6 5 4 0 6-2 4-5 6-3 0-1 4-2 6-2 4 1 6 3 3 6 1 4 0 4 3 6 3 4 0 2 4 4 1 0 4 6 1 0 2 4 1 6 0 4-1 6-2 4 0 10 1 6 2 4 1 5 3 5 7 6 0 7 2-3-1-4 0-10 1-6-2-5-4-19 2-10 2-6 2-10-2-8-2-12 0-4 2-11 6-8 0-1 4-6 3-4 9-6zM81 -178l-3 1-4 5-1 4 4 6 5 2 6-1 4-7 0-4-5-6-5 0zM12 -88l0 6-4 1-4 3-2 4 0 4 6-1 4 0 0-11 1 0 0-6-1-2zM67 -68l1 2 2-2-2 0zM-10 -62l2 3 3-3-3-3zM171 -58l-3 2-3 4 0 4 2 6 4 4 1 2 5 4 1 0 4 4 6 0 1-4 0-6-1-5-2-5-4-5-4-4-2-1-4 0zM-15 -52l3 2 1-2-1-5zM122 -194l4 2 0 4-4 3-4-3 0-4zM-198 -118l6 0 4-1 6 0 7 1 3 1 10 7 2 2 3 6 5 5 4 3 4 2 2 0 9 4 11 11 3 5 7 3 4 1 0 1 10 3 6 2 4 2 7 2 7 6 2 0 4 4 6 3 10 8 4 5 6 8 1 6 0 6-1 4 0 15-6 6-4 1-16 0-6-2-4 0-4-2-6-2-10-3-6-3-8-2-10-2-8 0-2-1-10 0-2 1-4 0-4 1-6 3-8 6-2 0-4 3-6 1-14-4-2 0-4-2-4-3-10-2-10 0-6-1-5-2-3-10 0-6 4-8 0-2 4-4 1 0 3-6-2-4-6-7-5-3-1-2-4-4 0-4 4-7 6-7 4-6 0-2 2-4 0-4-1-6 1-4 4-5 0-1 4-3 6-2 4-3 9-2z"/>
<path fill="#10eb2b" d="M47 -228l5-1 6 0 5 1 7 6 2 3 6 4 6 3 4 1 3 3 3 6-2 8 0 6-1 6-9 1-4 1-4 2-2 2-1 4 0 4 2 6 5 3 4 1 6 0 4-4 1 0 2-6 3-7 4-1 10 2 6 3 4 3 0 2 2 4-4 10-2 4-1 0-4 6-1 0-4 4 0 1-4 5-2 1-5 9-5 7-4 13-2 10-4 5-4 7-4 2-6 6-3 4 0 6 8 0 5-4 4-5 10 2 6 0 4-1 10-5 6-1 4 0 6 1 4 2 6 0 4-2 6-4 4-2 6-1 5 0 5-1 10 3 4 2 0 1 6 2 2 3 5 4 3 8 1 8 0 10-1 3-6-5-1-4-5-4-4-4-1-2-3-2-6-1-5 3-3 6-1 4 2 6 6 10 7 5 5 9-1 6-4 6-4 4-6 4-1 0-5 5-4 7-5 4-6 0-9-5-10 0-6 3-4 5-2 1-4 4-4 2-6 0-4 1-6 0-4 2-4 1 4 3 10 3 7 0 7-2 6 0 10 2 5-1 5 0 4-1 6 0 1 2 5 4 4 4 4 5 3 1 3 6 1 4 0 6 3 9 2 5 1 6-4 14-1 6 0 4-2 6-6 3-5 1-5 3-2 3 2 8 2 6-1 6-5 7-3 3-3 1-4 3-4 0-2 1-4-1-8-4-5-6 0-10-3-10-4-4 0-1-10-3-6 0-6-6-4-3-4-2-5 1-9 4-8 0-4-2-5-4-12-4-3-2-4-4-1 0-2 6 1 4 0 6-2 10-2 4-1 6 0 4 1 7 1 3 0 16 2 10 2 4 0 6-2 4-3 10 0 6-3 10-11 11-6 2-4 0-6-1-4-2-4 0-6-2-6-1-4-2-10-2-10-3-6 0-4-2-6-5-2-3-2-6 0-22-2-2-2-6 0-4 2-6 6-9 7-5 4-6 3-14 3-6 9-5 4-9 2-6 4-5 3-9-3-6-4-4-3-6-3-1-6 3-8 8-1 6-3 10-2 4-1 0-3 6-3 4-1 6-2 5-4 5-6 2-6 0-8 2-2 1-4 7-2 2-2 6-2 4-2 6-2 4-6 2-5-7-6-5-6 0-3 2-10 11-4 3-5 0-4-6 3-10 1 0 3-4 2-4 0-2 3-4 1-5 0-1-4-1-6 3-4 1-10 0-6-2-5-6-1-5 1-4 0-16 1 0 1-4 3-5 10-5 6-3 10-2 10-3 6-8 4-4 5-6 7-4 2-3 10-7 4 0 2-1 4 0 6-1 8-4 2 0 4-2 6-2 2 0 3-2 9-4 6-1 4 0 9 1 1 1 6 2 9 7 1 2 4 2 6-1 5-3-1-4 0-12 2-8 1-6-1-4-2-4-2-12 0-4-2-11-3-9 0-6 3-7 0-3 3-4 1-3 6-7 4-4 6-1 4 0 2-1 1-4-1-6 1-4 0-10 1-6-1-4 2-10 1-1 1-5 0-4-5-10-2-3-1-7 0-6 1-4 1 0 3-16 0-4-4-14 0-12 2-4 4-5 3-5 3-6 4-4 4-3 10-2 2-1zM115 78l3 1 1-1-1-3zM-98 -208l10-2 6 0 5 2 3 6 2 6 0 4 4 6 7 4 13 4 1 0 5-7 0-3 4-4 0-1 6-2 4 0 3 3 1 4 0 6 2 4 6 6 5 4 9 11 1 5 0 4-1 7-2 9 0 4 5 16 3 4 3 6 1 0 2 4 1 6 0 4-3 6-5 4-5 8-4 2-10 10-5 6-10 0-7-5 0-1-4-4 0-1-4-5-2-1-2-3-5-16-5-10-2-1-6-1-4 0-6-1-9-7-1 0-4-4-1 0-3-6-6-4-2 0-4-2-4-1-10-5-6-3-6-5-2-4 0-20 1-6 3-6 1-4 3-4 0-2 4-4 6-4 0-1 6-4 0-1 4-4 1 0 5-4 4-2zM-202 -113l14-3 6-1 10 3 10 7 4 7 8 8 2 1 6 1 5 2 5 3 10 12 0 1 7 4 7 3 8 3 2 0 6 2 10 4 5 4 7 4 2 2 13 8 3 3 1 3 3 4 1 0 3 6 1 4 0 6-1 4 0 10-1 6-7 4-5 0-11 0-14-4-6-2-6-4-4-1-4-3-10-2-16 0-4-1-6 0-4 1-6 0-4 2-6 2-4 2 0 1-10 5-6-1-4-4-6-3-10 0-5-2-5-1-14 0-6-3-3-6 0-6 1-4 3-6 5-4 3-6-3-6-4-4-5-4-1-4-2-2-1-4 0-6 3-4 6-10 3-6 0-10 1-4 5-6 9-4 2 0zM88 155l4 1 6 0 10 2 0 5-5 5-7 0-4-2-5-4-2-4z"/>
<path fill="#2beb10" d="M38 -224l10-2 10 0 7 4 4 4 4 5 0 1 4 2 9 2 2 1 2 5-2 11-6 5-10 3 0 1-4 4 0 10 2 6 2 2 6 3 4 1 6 0 4-2 4-4 3-6 3-3 6 0 7 3 3 3 1 3 0 4-2 6-5 6-2 4-8 7-1 3-6 10-3 4-2 6-4 10-3 10-3 4-2 4-7 6-9 11-1 5 1 3 9 1 7-1 4-3 2 0 4-2 4 0 6-1 5-3 9-4 5-2 5 0 6 2 4 2 6 1 5-3 8-6 11-2 10 2 10 5 1 1 5 1 4 5 2 4 1 4-3 5-4-2-6-5-4-2 0-1-6 0 0 1-4 1-4 3-2 4-1 6 1 6 6 9 0 1 4 4 0 1 5 5 1 0 2 4-1 6-3 4-8 7-8 3-3 6-3 4-7 2-3-2-2 0-4-2-10 0-6 1-2 1-3 6-5 5-4 2-10 2-10 2-6 2 0 3 8 4 2 0 6 2 14 0 6-1 4 1 6 0 4-1 10 0 8 3 2 3 6 4 7 9 1 4 0 6 4 10 2 4 0 6-4 14-1 0 0 6-1 4-4 5 0 1-10 2-4 2-3 6 0 4 3 4 0 2 2 4 0 6-2 3-2 1-4 4-4 2-6 1-4-2-6-4-3-5-1-6 0-4-1 0-1-6-8-8-6-2-9-4-4-6-7-2-10 0-10 4-4 0-4-2-2 0-4-4-2 0-4-3-5-2 0-1-5-2-10-7-2 5 2 9 1 0 0 11-1 0 0 4-1 6-2 4-1 6 3 14-2 10 0 6 3 9 2 5 0 6-4 10-2 10 0 5-2 5-8 8-6 3-4 0-7-1-3-2-6 0-10-2-4-2-6-2-4-2-6-1-4-2-6 0-5-3-4-4-3-10 0-6 1-4 0-6-4-14 5-9 2-1 4-4 5-2 3-4 1-6 1 0 0-4 2-10 5-6 3-1 7-13 2-6 1 0 4-8 2-2 2-4-2-6-2 0-4-6-2-4-4-4-4 1-7 3-6 6-3 6-2 8-2 6-6 8-3 6-1 5-3 5-3 3-6 3-4 0-10 2-6 8-4 7-1 3-3 5 0 2-6 2-4-5-6-3-4-1-6 0-4 1-3-1 0-6 3-6 2-8-2-4-6 0-7 4-3 1-4 3-6 1-4 0-1-1-5-1-2-3-2-6 0-4 1-6 0-10 3-4 0-2 7-4 9-4 14-3 6-2 0-1 4-4 1 0 3-6 5-4 1-2 5-4 7-4 7-6 11-3 8-1 8-4 4-2 6-2 4-2 4 0 1-1 5-1 10-3 10 2 6 2 0 1 6 4 4 7 14 0 4-1 0-6-1-4 0-10 2-11 1-7-3-8-2-10 0-4-1-6-2-4-2-10 0-6 4-13 2-1 4-5 0-1 4-3 5-1 1-1 5 0 5-1 1-4-1-4-1 0-1-5 0-5 3-10 0-16 3-5 5-5-1-4-3-6-1 0-3-4-5-10 0-6 2-10 2-4 0-12-1-4-2-4-1-6 0-4 1-6 5-10 7-10 1 0 4-4 2 0zM110 -22l2 5 6 2 4 0 5-3-2-4-3-3-4-2-6 1zM109 62l-3 10 1 6 2 4 5 6 4 4 0 6-1 4 5 5 6-3 0-9-2-3 2-2 0-2 2-6-2-4 0-2-3-4-3-6-4-6-5-2zM-102 -203l4-2 10-2 6 1 4 4 2 4 1 6 3 5 5 5 9 4 0 1 5 5 1 0 2 4 2 6 6 3 4-1 10-9 6-2 6 3 4 3 6 7 3 10-3 16 3 14 1 1 1 5 6 10 3 4 2 6-2 8-6 6-4 6-6 4-1 0-3 4-4 2-2 2-4 2-5 0-5-1-6-4-4-5-4-4-2-6 0-4-1-6-2-4-1-4-5-6-2 0-3-2-6-1-4 0-6-1-9-6-2-6-3-5-10-3-6-1-10-3-4-2 0-1-6-3-2-2-2-4-1-6 0-4-1-6 0-4 1-6 2-4 3-8 10-11 6-3 4-5 5-3zM-188 -113l6-1 8 2 2 0 6 4 4 5 4 7 3 4 3 2 5 2 5 1 9 5 1 0 4 6 2 4 8 6 6 1 6 3 4 1 4 2 5 1 11 4 1 2 3 1 10 7 6 3 5 4 4 5 1 0 4 9 2 5 0 6 1 4 0 6-3 10-4 2-6 1-4 0-14-3-6-3-6-2 0-1-8-4-6-5-6-1-5 0-5 1-4 0-6 1-14 0-10 2-10 5-5 1-1 1-4 0-3-1-3-4 0-11-1-5-3-1-6 1-5 6-5 3-10 0-4 1-10 0-4-4-2-6 2-4 4-5 0-1 8-10 0-4-4-2-4-4-5-4-3-6-1-4 0-6 5-10 4-5 3-9 0-6 1-5 7-5 9-2 4 0 6-2 2 0z"/>
<path fill="#63ec11" d="M48 -223l10 0 0 1 4 2 6 7 3 5 1 6 0 10-4 4-1 0-4 6-1 5 5 15 1 0 4 5 6 3 4 1 6 0 4-1 5-4 1 0 4-7 6-2 6 5 0 4-1 6-1 0-3 4-1 3-7 7-3 6-6 9-4 11-2 4-2 6-2 4-1 6-3 5-4 5-5 4-1 2-6 6-4 11-1 1 1 3 4 2 10 0 6-1 8-4 2 0 4-2 6-1 9-7 5-2 6-1 4 0 9 3 1 2 6 1 4-3 5-5 5-3 6-1 10 2 3 3 1 4-10 10-3 10 1 6 2 4 0 2 7 8 5 6 2 4 0 6-8 8-10 3-6 3-2 0-2 2-10 0-6 1-4 0-6-1-4-4-4-2 4-5 4-1 6 0 4-1 3-3 0-6-3-2-4-6-2-2-4-2-4-1-6 0-4 3-2 0-2 6 3 10 1 0 3 4-8 10 3 6 2 1 2 3 2 6-4 5-16 3-4 1-6 0-2 1-1 4 3 4 10 5 6 1 4 0 0 1 6 2 4 2 6-3 2-2 8-1 10 0 6 1 4 2 4 4 6 4 5 6 1 4 0 10 2 6 2 1 1 3 0 6-1 5-4 9 0 6-2 4-4 3-6 1-4 2-6 5-2 5 0 4 3 6 3 4 0 6-4 4-4 3-6 0-4-3-4-4-2-4-1-6-3-8-8-8-8-4-1 0-5-6-4-3-4-2-6-1-4 0-6 1-10 3-4 0-6-3-4-4-8-5-2-2-6-3 0-1-4-1-6-3-4-6-1 0-2 6 1 4 2 4 2 12 0 10-2 10-2 4 0 10 1 6 1 4 0 4-1 2-5 4-5 0-5 1-6 5 2 0 4 2 11 2 5 3 3 7 1 6-4 9-2 5-1 6 0 4-2 6-1 0-4 6-10 3-16-3-8-2-2 0-9-4-2 0-3-2-10-3-2-1-4 0-6-4-3-6-1-7 1-3 0-4 1-6 0-4-2-3-1-7 1-3 6-5 4 0 4 2 3 6 3 5 6 2 2-3-2-5-5-9-1-1-2-9 0-10 2-5 0-3 8-8 2-3 2-1 2-6 5-10 1-3 2-1 3-6 1 0 3-4 1-6-4-3-6-3-2-4-2-7-5-1-15 8 0 1-6 6-2 9-2 4 0 2-2 4-4 4-5 10-2 6-7 7-6 1-4 0-6 2-6 4-6 10-3 6-5 2-5-2-5-3-4-1-4-2-2-5 2-5 3-4-2-6-7-3-5 1-6 2-5 4-1 2-9 3-4 0-6-3-2-6 0-14 1-6 1-2 6-5 4-1 3-2 3 0 4-2 11-2 5-2 7-8 3-4 0-2 4-4 1 0 9-7 6-2 4-3 9-4 11-2 6-3 4-3 4-2 12-2 9-2 0-1 5-1 6 0 4 2 6 2 6 8 2 4 2 2 4-2 11 0 5 2 3-6-3-16 0-4 2-10 2-6-1-4-3-7-2-3 0-10-1-6-3-6-2-8 0-6 2-8 1-2 10-10 9-2 6 0 4-2 0-6-2-4-2-6 4-14 1 0 1-6-1-4 3-6 6-4 3-6-1-4-6-7-4-3-3-6-3-4-1-5 0-5 1-2 0-4 2-4 1-6-3-15-2-5 0-4 1-6 5-9 8-11 8-3 7-1zM67 -18l-1 6 6 4 6 3 4 3 6 2 5-2-5-7-6-6-2-3-2-1-6-1-4 2zM109 52l-5 10-1 6-2 4 0 6 5 10 2 1 3 13 3 6 4 3 4 1 6-1 3-3 3-10 0-6 1-4-1-6-6-12-2-2-2-6-4-4-3-6-5-4zM-92 -203l4-1 6 2 2 4 1 6 2 4 6 6 9 5 5 5 3 4 0 6-2 4-2 2-4 1-6 0-4 1-6 5-1 7-2 4-1 5-6 3-4 1-16 0-4-2-5-1-11-8-1-2-1-6 0-4-1-6 0-4 2-10 3-6 4-6 4-4 8-4 5-6 3-1 4-3 2 0zM-28 -163l6-3 4 1 6 4 4 5 2 4 1 4-2 10 0 10 2 10 2 6 2 4 4 6 4 4 1 6 0 5-3 5-4 4-5 6-8 5-6 3-10 0-5-2-1-2-4-1-2-3-3-6-1-4 0-6-4-7-1-3-3-4-6-3-4-3-6-1-4 0-8-3-3-6 3-10 2-4 1 0 9-8 4-2 2-2 4-2 6-1 4-2 8-3 7-6 1 0 4-4zM-188 -109l6-1 4 0 6 1 2 1 9 10 3 7 6 5 14 3 7 5 3 8 6 5 10 2 0 1 14 4 0 1 6 2 6 3 4 1 4 3 2 0 8 6 6 2 7 8 3 4 2 6 2 4 0 10 1 0 0 6-1 4-4 6-6 1-4 0-8-1-8-3-5-3-5-2-3-2-1-2-4-4-6-4 0-1-6-3-4 1-4 3-12 2-10 2-4 1-6 0-12 5-8 1-4-1-2-6 1-4 0-6-2-4-3-2-10 0-6 2-8 4 0 1-6 2-4 2-6 0-5-5 1 0 1-4 4-6 7-4 7-6 1-5-5-5-5 0-6-1-5-3-5-9 0-7 5-10 1 0 4-9 2-5 1-6 3-5 4-2 6-1 4 0 6-1 1-1zM188 -65l1 3-1 1-3-1z"/>
<path fill="#9cee13" d="M38 -219l4 0 6-1 4 0 6 1 5 5 3 6 1 6 0 4-2 6-7 6-7 4 3 4 4 4 3 6 2 6 5 5 4 3 4 2 6 1 10 3 4 0 2 1 1 5-1 5-5 9-5 10 0 2-7 14-3 11-2 3-4 4-4 5-2 1-4 4-3 6-2 6-9 13-3 1-3 3-5 3 4 4 1 2 10-5 4-1 2-2 14-3 1-1 5-1 4-3 6-1 4-2 6-2 0-1 10-6 4-4 6-1 4 0 6 3 4 4 6 1 4-1 0-1 6-6 4-3 0-1 6-1 5 2 2 4-3 6-3 4-2 10 2 10 3 8 6 6 5 7 0 5-1 0-4 4 0 1-10 2-6 0-6-3-4-5-2-5-8-8-1-2-7-4-2-2-4-1-6 0-6 3-6 4-2 6 0 5-6 1-1-2-13-6-6-1-4 1-6 4-2 2 0 6 2 2 6 3 7 5 3 1 4 5 6 2 4 2 6 1 5 4 3 5-8 4-16 3-10 2 0 2 4 3 4 6 2 2 6 2 10 3 5 2 1 5-2 3 0 3-2 4-2 6-3 4-1 5 1 5 2 6 2 4 2 6-3 5-10 0-6 1-5-1-9 0-6 3-4-1-6-3-4-4-1 0-9-9-10-5-6-3-4-5-5 2 0 10 4 14 1 2 0 10-2 8-3 10 0 6 1 5 0 9-2 4-4 2-6 0-10 2-3 2-1 3-3 3-2 4 5 2 10 0 14 3 6 4 0 9-2 2-4 14 0 6-2 6-2 3-6 3-10 0-4-1-6 0 0-1-4 0-6-2-5-2-9-5-1-1-15-3-2-1-4-6-1-4 0-6 2-10 5-9 4 5 2 0 14 7 6 1 5-4 4-4-5-5 0-1-8-4-2-2-4-8-1 0-2-6-2-4 0-10 2-6 3-4 10-10 2-6 2-4 0-2 2-4 4-5 4-6 6-4 4-5-4-4-6-1-4-2-3-3-2-4 1-6 2-4 6-3 6 0 10 2 5 1 1-6 2-4-1-6-3-4-2-10 2-9 1-1 2-6 0-4-5-10-1-6 0-10-3-4-2-6-2-2 0-11 4-7 5-4 1-2 10-3 6 0 4 1 2-2 1-4 0-6-3-5-1-5 1-6 5-4 5-1 4-3 0-6-2-4 1-6 3-4 1-6 0-4-1-4-2-2-4-2-6-8-4-3 0-2-3-9 1-6 2-4 0-4 1-2 0-4-1-1 0-5-2-4-2-10 1-6 3-4 0-2 7-8 3-4 3-2zM42 -18l-1 6-2 4 3 3 2-3 0-4-1-6-1-1zM52 68l-4 4 4 4 6 3 4-1-2-6-2-2-6-3zM-20 122l0 6 2 2 6 1 2-3-1-6-1-1-6-1zM-98 -199l6-1 4 0 4 2 2 4 0 2 4 8 2 2 8 4 0 1 6 4 3 5-1 6-2 1-6 1-4 0-6 1-2 1-3 6-2 10-3 5-4 4-2 1-15 0-9-4-7-6-3-8-1-8 0-4 1-6 1 0 1-4 8-13 6-3 4-3 3-1 5-6zM-28 -158l6-4 4 1 6 3 4 6 1 4 0 6-1 0-1 4 0 10 1 8 1 2 0 6 2 4 3 2 2 4 5 4 2 6-3 10-5 4-1 3-5 4-5 2-6 1-10-2-5-2-5-5-1-5-3-10 0-2-2-4-8-7-4-3-2 0-4-3-7-1-8-6 1-4 3-6 1 0 4-6 5-4 5-3 6-1 4-2 6-2 4-2 6-5 4-5zM-188 -103l6-2 4-2 6 2 4 3 4 4 2 4 0 2 2 4 0 6-2 8-1 2 0 10-1 4 0 6 2 2 1-8-1-4 4-4 4-7 2-1 4-5 6-1 5 1 5 6 4 9 10 3 15 3 5 3 6 2 0 1 10 3 4 3 7 4 9 4 4 5 1 0 4 11 2 4 1 6 0 14-2 3-6 2-4 0-6-1-4-2-6-1 0-1-4-3-4-1-4-6-4-4-6-10-2-2-10 0-6 1 0 1-7 4-5 6-8 1-10 2-4 2-5 1-5 2-6-1-2-7 1-6 0-4-2-6-21 0-5-4 0-6-1 0 0-4-1-6-3-3-6-2-10 0-4-5-2-4 0-6 5-10 1-3 2-1 2-6 2-4 2-6 2-2 10-2 7 0zM-155 -32l7 5 3-1-1-4-2-2-4-1zM-52 42l4-1 6 0 7 1 3 2 4 8-2 6-2 0-6 2-4 4-5 4-5 3-3 1-5 6-2 11-5 9-4 4-5 10-2 6-4 4-16 3-9 7 0 1-4 5-1 3-6 3-10-3-3-3 3-8 2-2-1-6-15-8-6 1-2 3-8 5-4 4-6 2-4 0-2-1-4-5 0-18 1-3 5-4 4-2 6-1 4-2 6 0 10-3 6-8 3-5 1 0 4-6 10-7 6-1 0-1 9-4 5-3 10-2 1-1 5-1 4-4 6-2 4-2 10 0 4-1zM-109 78l-2 4 2 6 1 1 6 0 1-1 2-6-1-4-2-3-6 1zM122 46l10-3 6 0 4 1 13 8 5 6 1 4 0 10 1 5 3 5 1 6-4 8 0 2-2 4-1 6-1 1-10 4-6 3-4 5-2 1-2 6 0 4 3 6 1 0 2 4 0 6-2 1-6 0-2-1-3-6-3-10-2-1-1-3-4-6-5-4 0-1 16 0 6-5 3-4 1-6 0-10 1-4-1-7-6-7 0-2-3-4-2-6-3-4-3-6 0-4z"/>
<path fill="#d4ef14" d="M32 -213l10-3 6-1 4 1 6 3 3 5 1 5 0 5-4 6-10 3-7 1-5 6 2 4 4 2 6 1 5 3 4 4 3 10 2 3 10 5 11 2 5 3 5 7-1 6-2 4-2 7-2 3-2 6-3 4-3 6 0 2-2 2-1 6-2 5-5 6-6 4-4 5-2 4-2 6-6 8-2 2-8 4-6-2-2-2-2-10 0-8-2-8 2-4 4-1 6 0 3-5 0-10-1-4 0-6 2-5 1-5 0-4-2-6-3-4-1 0-5-4-1-2-5-4-3-6-1 0 0-9 4-11 1-4-1-6-2-4-2-2 0-4-1-4 1-7 6-7 0-2 4-4zM-98 -194l6-2 4 2 2 2 1 4 3 6 4 3 6 3 5 4 3 4-4 3-14 0-6 2-1 5 1 6 0 4-1 6-3 5-10 3-10-2-4-2-2 0-4-4 0-2-2-4-2-10 0-4 2-6 6-12 6-3 10-7 2-2zM-28 -153l6-4 4 0 6 3 0 2 3 4-3 16 0 4 1 6 0 4-1 5-1 1 0 4 1 2 4 4 6 1 5 3 1 6 0 4-2 4 0 2-4 5-7 5-3 1-6 0-4-1 0-1-6-1-8-8-1-6-2-4-3-8-10-8-8-4-2-2-5-2-3-2-1-4 3-6 6-6 6-4 8-2 9-2 6-6 1 0 4-5zM-182 -99l4-2 6 1 3 2 3 6 1 4-2 10-1 2 0 4-3 14 0 6 2 10 0 4-7 6-6 1-6 0-2-1-4-6 0-4-1-6-3-5-4-4-10-5-3-6-1-4 2-6 10-14 2-2 4-2 6-1 4 0 1-1zM-142 -73l4 2 2 4 4 3 0 2 4 2 6 1 4 0 9 1 1 1 6 2 4 3 6 2 4 2 3 0 7 4 2 2 4 1 6 3 4 3 5 8 2 9 3 10 0 7-1 3-9 3-6-1-12-6-2-4-6-7-4-13-2-2-4-1-14 0-8 1-2 1-6 1-4 0-6-6-4-5-1 0-7-5-4-6-2-10 8-13 5-1zM152 -68l6-1 1 2-1 6-3 3-1 6 0 4 2 10 2 4 0 2 4 8 7 6 0 6-7 2-4 0-6-1-4-4-2-3-4-2-7-8-6-4-1-2-5-4-5-1-8 1-8 3-4 4-6 3-4 1-1-1-5-1-4-2-5-1-1-6 10-8 6-3 10-3 6-6 8-7 6-2 4 1 5 4 1 0 4 4 2 0 4 2 6-2 4-4 3-5zM12 -53l6 3 1 2 1 6 2 5 6-4 4 1 6 7 2 5 0 6-2 6-6 7-2 1-1 6 3 3 5 1 1 1 4 0 4-5 3-6 3-3 6 2 4 3 7 4 3 1 6 4 4 5 9 4 4 6-13 5-4 1-6 0-3 4 4 4 5 9 4 4 10 2 3 1 3 4 0 4-6 9-4 3-6 1-6-1-7-6 1-4 4-6-2-5-4-2-6 1-2 2-1 4 0 6-7 2-4 0-6 1-4 6-6 0-4-2-6 2-10 2-4-1 1 4-1 6 0 10 3 4 2 6 2 4 0 10-3 10-3 15 2 11-3 5-10 2-6 0-4 4-5 3-1 2-4 3-6 0-4-1-4-4-2-1-2-3-2-6-2-4-1-6 2-10 1 0 4-4 0-1 6-3 4 0 2 4 8 8 6 1 5-5 2-4-1-6-2-4-4-5-6-1-4-4 1-6 3-6 5-4 5-2 10-2 3-6-3-1-1-3-3-4-6-1-4 0-6-1-4-4 0-6 4-3 6-1 4 2 6 2 4 2 2-2 5-10 3-4 2 0-2-2 0-4-6-4-3-10 1-6 4-7 2-7-1-6-4-4-1-6 0-10-2-1-1-3-5-6-2-4 0-6 4-8 4-4 10-3zM61 22l1 1 0-1zM27 38l-4 4-1 6 6 4 4 2 7-6 0-6-7-9-4 4zM52 -33l6 0 2 1 0 4-3 6-5 3-4-3 0-4 0-2 4-4zM-162 -23l4-1 3 2 3 0 4 2 6 1 4 0 2 1-5 6-7 0-4 2-6 2-4 0-1 0-3-4 1-6 2-4zM-72 47l4-1 6 1 10 0 4 1 7 4 0 6-3 4-8 6-8 4-5 16-1 4-6 9-2 1-2 6-6 11-10 3-6 0-10 5 0 1-4 4-3 0-3 2-1-2 0-4-2-6-11-8-4-2-3-4-1-6 0-4 2-6 3-4 2-6 1 0 4-8 2-2 8-4 6 2 0 4-2 4-1 4 0 6 7 6 6 0 4-4 3-2 2-6-1-4-3-6-1 0-4-4 0-6 4-2 6-2 10 0 4-7 5-3zM128 46l4-1 6 0 6 3 4 1 4 3 0 1 6 6 1 3-1 6 0 4 0 6 3 4 1 6-2 4-2 7-6 6-4 1-4-4-2-5 0-15-7-10-4-4-3-10-1 0-2-6 1-4zM42 81l6 1 5 5 0 5-7-4-4-5 0-1zM78 80l4 0 6 5 3 7-1 6-2 1-6 1-8-2-1-6 0-4 3-6zM-158 97l6 3 2 2 0 6-3 5-2 5-3 1-4 5-6 2-4 0-3-4-1-4 0-10 2-6 6-3 8-1zM-12 180l10-2 10 2 5 2 1 6-2 5-3 15 0 4-2 6-5 3-4 1-6 0-4-1-6 0-10-3-4-4-10-5-8-1-2-1-6-1-3-4-2-5 0-5 1 0 1-4 3-5 6 0 9 5 5 3 5 1 5 0 6-4 4-5 2-1z"/>
<path fill="#efd414" d="M42 -213l5 0 5 2 4 3 2 6-2 4-4 2-10 2-4 0-6 3-4 3-3-4 1-6 2-1 5-9 5-3 4-1zM-102 -183l4-3 6-1 1 5 0 4-3 6-4 6 0 4 6 12 0 7-6 5-4 1-6 0 0-1-4-1-6-3-2-6-2-4-1-6 1-4 4-6 0-1 6-4 4-5 5-4zM32 -171l6-1 4 0 6 1 4 3 2 6 0 4-2 6-3 4-1 4-6 6-10-3-6-7-1-4 0-6 4-10zM-22 -153l4 0 6 4 0 11-1 0-3 16-3 4-1 6 2 7 2 3 4 4 4 2 6 0 3 4 0 4-3 8-6 5-4 2-6-1-7-4-3-1-4-5-2-4-3-10-1 0-2-4-7-6-5-3-4-1-7-6-2-4 2-6 4-4 1-2 10-3 4 0 2-1 4 0 6-4 4-6 5-4zM62 -143l6-2 10 0 6 3 4 3 0 10-1 1-3 10-3 6-3 5-5 4-2 5 0 6-3 7-3 3-3 1-4 3-2 0-3 6 0 4-1 1-1 5-3 4-1 0-5 4-5 2 0-1-5-4 0-9 2-6 4-3 9-2 2-5-3-10-2-10 1-6 0-4 1-6 0-10 2-6 6-4 4-1 3-3zM-172 -93l2 5-3 16 0 4-3 16 1 4 0 6-3 5-4 2-6-1-3-6 0-10-3-6-6-4-2-6 1-4 4-6 9-4 1 0 5-5 0-1 4-3 5-1zM-148 -64l6-1 10 8 4 2 6-1 10 0 4 1 6 3 4 3 5 1 5 3 6 2 12 5 7 6 1 0 2 4 0 6 4 14 0 6-2 3-4 1-6-1-4-3-2 0-3-6-1-4-6-10-3-6-1 0-4-5-6-1-4 1-16 0-7 1-3-1-6-5-8-4-1 0-5-4-4-6 0-6 3-4zM118 -63l4 1 10 8 16 5 4 10 1 1 1 6 0 10-2 1-5-1-5-3-2-3-6-4-6-7-6-3-4-1-1 1-15 0-4 1-6 4-4 0 0-2 2-3 2-1 6-1 7-8 4-6 3-3 3-1zM8 -48l5 6-1 0 0 4-1 6-4 5-5 1-5-6 0-6 2-4 3-4 5-2zM28 -33l0 1 4 0 3 4 1 6-6 10-8 4-4 1-6-2-1-3 0-6 3-4 4-4 1-2 3-2 5-2zM52 -3l6 0 10 3 4 2 0 1 6 4 0 1 4 4 2 6-6 3-6 1-15-3 0-1-7-6-2-4 0-6 4-4zM18 4l4-1 6 1 4 4 3 4-3 4 0 2-4 4 0 2-4 8-2 3-4 3-4 0-2-1-5-5-1-4 1-6 3-4 2-7 3-3zM42 13l3 5 13 5 10 7 1 2 1 6-2 1-6 1-5 2-5 4-4 0-2-4-4-4-3-6-1-4 0-10zM132 47l6 0 0 1 4 1 6 3 6 6 2 4-3 16 2 4 2 6-2 4-3 4-4-2-1-2 0-10-5-5-4-5-4-4-2-3 0-3-2-4-2-6 3-4zM-58 52l7 0 5 6-2 4-4 3-6 2-4-2-2-3 0-4 2-4 2-2zM-88 70l7 2 3 2 6-1 4 3 1 2 0 10-1 0-4 8-5 6-2 6-3 7-4 3-6 1-6 0-9 4-5 0-6-3-4-4-6-4-4-4-1 0-1-6 2-8 1-6 3-10 1 0 5-5 4 5-1 4 0 6 3 4 8 6 6 1 4-2 5-5 1 0 4-4 2 0 3-6-1-5-4-4 0-1zM-12 97l4-1 16 0 3 6 1 6-2 4-2 11-5 5 0 4 1 6 2 4 0 6-4 2-10 0-4 2 0 1-5 5-5 4 0 1-6 1-4-2-4-4-3-5-2-5-1-6 0-4 4-6 0-1 6-2 5 3 5 5 0 1 4 3 6 1 7-4 3-3 4-2 0-5-1-6-2-4-1-6-6-4-4-2-3-4 2-4zM-168 102l6-1 3 1 3 6-4 10-2 2-6 3-4-2-1-3 0-10 1-3 3-3zM-2 181l5 1 5 3 1 3 0 4-3 10 0 6-3 9-5 2-15 0-6-1-5-5-3-5 0-6 13-10 6-4 4-5 2-1zM-52 187l9 5 5 6 0 2 2 2-6 3-6-1-4 0-6-2-1-4 0-6 1-3 4-1z"/>
<path fill="#ee9c13" d="M-112 -163l4-1 6 5 4 9 2 2-1 6-5 2-10-2 0-1-6-8 0-8 4-3zM32 -165l6-2 4 0 6 2 1 3-1 6-2 4-4 4-4 3-6-1-4-6 0-6 3-4zM-22 -148l5 0 2 6-1 4-3 6-3 3-4 1-2 3 0 7 1 0 1 6 4 7 1 3 3 5 4 5 6 2 4 2 0 6-4 4-4 2-10-5-6-3-4-8-1-6-2-4-6-6-7-2-10-7-3-5 3-8 6-3 10-2 4 1 6-1 4-7 1 0 4-6zM78 -136l5 3 0 5-1 6-2 4-2 6-6 2-4 0-4 2-2 4 1 6 2 6-1 4-2 2-4 1-6-4-3-9 0-10 1-4 0-10 2-6 6-3 4-1 6 1 5-1zM42 -68l3 0 0 6-3 2-4-2 4-5zM-148 -58l5-1 3 1 3 6-1 0-4 4-5-4-1 0 0-6zM118 -58l2 0 5 6-3 3-4 1-6-2 0-4 4-4zM-118 -53l5 0 5 1 8 4 2 3 5 3-5 3-4 2-16 0 0-1-8-4 0-6 6-4zM132 -49l7 1 6 6 3 4 0 5-1 1-6 0-6-6-3-2-4-8zM-182 -45l0 4-2-1zM-82 -38l10 3 5 3 2 4-1 6-2 2-7-2-3-2-3-4-2-4 0-6zM2 -40l3 2-3 4-1-4zM22 -24l6-2 3 4-3 6-6 2-3-4 2-4zM-68 -9l6 0 0 7-1 0-5-4 0-2zM58 2l7 0 3 1 9 9 0 6-5 1-4 0-6-1-4-4-3-2-2-4 3-6zM18 12l4-2 3 2-2 10-2 6-3 4-6 0-2-4 2-9 2-1 3-6zM48 24l10 3 4 4 2 1-6 5-2 1-6 0-5-6-1-4zM132 52l6-1 6 1 4 3 4 7-1 6-3 5-6 0 0-1-5-4-3-6-2-10zM-122 94l4 2 2 2 4 1 4 3 2 0 4 2 4 1 10-7 6 2 0 7-6 7-4 1-6-1-8 4-7 0-5-3-4-4-6-4 0-8 1-1zM-168 107l4 1 1 4-5 5-1-5 1-4zM-38 137l6-2 4 4 6 4 3 5 0 4-3 6-6 2-4-2-3-6-3-4 0-10zM-2 187l4 5 0 16-1 4-3 3-6 1-10 0-4-2-2-2-1-4 1-6 6-3 7-1 3-2 2-4 3-4zM-52 192l1 0 4 5-5 3-3-2 2-6z"/>
<path fill="#ec6311" d="M38 -160l2 2-2 6-1 0-3-6zM-108 -154l6 5 0 2-6 0-2-5zM-52 -130l4-1 6 0 4 1 3 2 2 10-1 6-4 1-4 0-6-2-6-5-2-4 1-6zM-118 -48l6-1 5 1 2 6-10 0-3-6zM62 7l6 2 2 3-2 2-6-1 0-5zM138 56l4 0 6 5 0 4-3 3-3 0-5-5 0-5zM-118 106l6 0 2 2-2 2-6-2zM-17 206l5 0 3 2-3 2-6 0-1-2z"/></g>
</g></g>
</g>
<g>
<circle cx="367.8" cy="327.9" r="48.7" fill="url(#rg)"/>
<path d="M361.4 290.7L362.5 289.1L363.7 287.6L365.0 286.3L366.3 285.1L367.8 284.1L369.3 283.4L370.9 282.9L372.5 282.7L374.0 282.7L375.6 283.0L377.2 283.4L378.8 283.9L380.3 284.4L381.8 285.1L383.3 285.9L384.6 286.7L386.0 287.7L387.3 288.7L388.5 289.7L389.6 290.9L390.7 292.1L391.6 293.3L392.5 294.6L393.4 296.0L394.1 297.4L394.7 298.8L395.3 300.3L395.8 301.7L396.1 303.3Z" fill="#646464" fill-opacity="0.24" stroke="#464646" stroke-opacity="0.55" stroke-width="0.7" stroke-linejoin="round"/>
<path d="M396.1 303.3L397.9 303.4L399.8 303.7L401.6 304.2L403.3 304.8L404.9 305.6L406.3 306.5L407.6 307.6L408.5 308.9L409.2 310.3L409.8 311.8L410.3 313.4L410.6 315.0L410.9 316.6L411.1 318.2L411.1 319.8L411.1 321.5L411.0 323.1L410.7 324.7L410.4 326.3L410.0 327.8L409.5 329.3L408.9 330.8L408.2 332.2L407.4 333.6L406.6 335.0L405.7 336.2L404.7 337.4L403.7 338.6L402.5 339.6Z" fill="#646464" fill-opacity="0.24" stroke="#464646" stroke-opacity="0.55" stroke-width="0.7" stroke-linejoin="round"/>
<path d="M402.5 339.6L403.3 341.3L403.9 343.1L404.5 344.9L404.8 346.7L404.9 348.4L404.8 350.1L404.5 351.7L403.9 353.2L403.0 354.5L402.0 355.8L400.8 357.0L399.7 358.1L398.4 359.1L397.1 360.1L395.7 360.9L394.3 361.7L392.8 362.4L391.3 363.0L389.7 363.5L388.2 363.9L386.6 364.3L385.0 364.5L383.5 364.6L381.9 364.6L380.3 364.6L378.7 364.4L377.2 364.2L375.7 363.9L374.2 363.3Z" fill="#646464" fill-opacity="0.24" stroke="#464646" stroke-opacity="0.55" stroke-width="0.7" stroke-linejoin="round"/>
<path d="M374.2 363.3L373.1 364.9L371.9 366.4L370.6 367.7L369.3 368.9L367.8 369.9L366.3 370.6L364.7 371.1L363.1 371.3L361.6 371.3L360.0 371.0L358.4 370.6L356.8 370.1L355.3 369.6L353.8 368.9L352.3 368.1L351.0 367.3L349.6 366.3L348.3 365.3L347.1 364.3L346.0 363.1L344.9 361.9L344.0 360.7L343.1 359.4L342.2 358.0L341.5 356.6L340.9 355.2L340.3 353.7L339.8 352.3L339.5 350.7Z" fill="#646464" fill-opacity="0.24" stroke="#464646" stroke-opacity="0.55" stroke-width="0.7" stroke-linejoin="round"/>
<path d="M339.5 350.7L337.7 350.6L335.8 350.3L334.0 349.8L332.3 349.2L330.7 348.4L329.3 347.5L328.0 346.4L327.1 345.1L326.4 343.7L325.8 342.2L325.3 340.6L325.0 339.0L324.7 337.4L324.5 335.8L324.5 334.2L324.5 332.5L324.6 330.9L324.9 329.3L325.2 327.7L325.6 326.2L326.1 324.7L326.7 323.2L327.4 321.8L328.2 320.4L329.0 319.0L329.9 317.8L330.9 316.6L331.9 315.4L333.1 314.4Z" fill="#646464" fill-opacity="0.24" stroke="#464646" stroke-opacity="0.55" stroke-width="0.7" stroke-linejoin="round"/>
<path d="M333.1 314.4L332.3 312.7L331.7 310.9L331.1 309.1L330.8 307.3L330.7 305.6L330.8 303.9L331.1 302.3L331.7 300.8L332.6 299.5L333.6 298.2L334.8 297.0L335.9 295.9L337.2 294.9L338.5 293.9L339.9 293.1L341.3 292.3L342.8 291.6L344.3 291.0L345.9 290.5L347.4 290.1L349.0 289.7L350.6 289.5L352.1 289.4L353.7 289.4L355.3 289.4L356.9 289.6L358.4 289.8L359.9 290.1L361.4 290.7Z" fill="#646464" fill-opacity="0.24" stroke="#464646" stroke-opacity="0.55" stroke-width="0.7" stroke-linejoin="round"/>
<circle cx="367.8" cy="327" r="37.4" fill="#544840"/>
<circle cx="367.8" cy="327" r="36.3" fill="#12b8f6"/>
<g clip-path="url(#c22)"><g filter="url(#soft)">
<g transform="translate(368.6 327.7) scale(0.1)"><path fill="#15e5f0" d="M-48 -388l33 0 3 2 5-2 53 0 1 6 0 14 1 1 2 9 2 4 6 1 4-1 6 1 0 1 6 4 2 6 2 4 4 14 6 7 4 1 6 0 4-1 6 0 4 7 2 2 4 8 7 8 3 1 3 3 1 3 6 5 5-2 2-10-2-10 0-10 1-6 4-3 4-1 6 0 4 1 10 7 2 2 8 2 6 3 4 5 6 6 3 4 1 6 3 4 0 4-2 6-1 0-1 4-4 10 1 6 3 4 1 6 4 4 1 6 3 4 2 6 7 0 3-2 1 2 5 5 3 5 1 6 6 8 4 3 10 3 5 0 1-1 4 5 0 6 2 4 3 16 1 4 4 6 6 4 4 2 6 1 4 0 3 3 5 10 8 3 4 1 0 1 6 0 4 2 3 3-1 4-5 6-7 5-2 5 2 5 6 1 7 4 3 1 3 3 1 4 2 2 0 4-2 2-2 4-5 4-3 6 0 4-1 6 0 10 11 22 3 2 2 6-1 4-3 6-5 3-6 0-4-3 0-1-6 0-6 5-4 4 0 2-4 4-1 0-5 5 0 5-1 6 1 7 9 7 1 2 4 4 2 4 1 6-2 4-5 5 0 1-4 4-2 0-4 3-10 5-4-3-5-5-1 0-4-6-4-4-6-1-6-3-4 0-6 1-6 3 0 6 2 6 4 8 0 1 8 5 2 0 10 3 8 1 1 6-3 2-6 2-2 6 0 4 1 6 7 9 0 1 4 4 1 0 1 6-2 5-1 5-2 4-1 5-7 11-5 4-2 6-2 1-1 3-4 6-5 4-7 10-3 3-10 6-4 0-4-3-2-6-3-4-1-7-4-3-6-7-6-1-6 2-2 6-2 2 0 2-2 6-3 4 1 6 4 4 0 1 6 2 4 3 10 0 7 4 1 6-3 4-2 6-3 2-4 6-2 2-2 4 0 6 4 7 1 3-1 4-10 5-10 5-4 0-2 2-4 2-16 0-10-2-10 0-4 1-10 0-4-3-6-1-4 1-2 2-1 4-3 3-3 1-3 3-7 3-7 4-10 0-6-1-4-5-4-4-6-3-6-1-1 4 1 5 4 5 0 6-1 4-7 6-6 2-10-3-4 0-6 3-1 2 3 16-2 5-1 5 0 4 1 3 8 3 8 1 6 3 4 3 4 7-1 6-3 4-1 0-5 5 0 1-14 0 0-3-6-8-4-3-6-2-4-4-1 0-5-5 0-1-4-2-6-1-2 3-1 6-7 5-4 2-6 0-9-7-1-6 2-4 8-8 5-2 1-2 0-9-2-5 0-4 2-2 2-4 2-1 6-1 2-2-1-6-7-6-4-4-6-3-1-2-3-1-4-4-2 0-4-4 0-1-6 0 0 1-4 4-2 10-2 6 0 4 3 16 2 4-1 2-4 4-6 3-6 0-4-3 0-1-6-2-2-3-2 0-6-2-5-2-5-1-4 0-10 3-10 2-2 0-4 3-10 4-4 0-6-2-9-9-5-10 0-3-4-7-2-2-4-2-2-2-4-1-4-3 0-3-2-3 2-1 1-3 4-6 1-4 0-6-9-10-3-1-4-3 0-1-26 0-10-3-2-2-8-1-4 0-6-1-10-4-4-4-6-2-4-3-3-5-2-10 0-4-3-6-1-4 0-6-1-4 0-18-6-7-4-1-7 0-3 1-6-1-3-4-1-6 0-14 2-6 8-8 0-2 4-4 0-1 4-5 6-4 1 0 1-6-2-4-2-6 4-14 4-4 4-5 2-1 4-5 0-15-16-5-3-5 0-6 3-6 4-4 6-4 0-1 6-4 0-1 4-4 1 0 0-16 3-14-2-6-6-4 0-1-6 0-4 2-6 1-4-2 0-1-5-5-1 0-4-6-4-4-6-4 0-1-6-1-5-4-2-4 1-6 6-4 6-1 4-2 6-4 1-3 4-6 5-4 5-6 5-4 1-6 9-9 0-1 4-4 2 0 4-4 4-6 1 0 0-6-1 0-2-4-2-6 0-10 4-7 6-4 4-2 6-2 4-3 6-2 4-3 4-1 2-2 2-4 4-4 4-5 3-5 2-2 6-4 3-4 1 0 1-6 4-5 6-9 0-6-2-4-1-6 2-4 0-6-2-4-1-6 2-5 3-5 3-4 2-6 0-4 3-6 9 0 0 1 26 0 0-1 8-4 2-2 5-8 0-6-3-10 2-5 6-1 4 0 3 2 3 0 6 4 4 4 4 0 6-3 0-1 4-4 1-6-1-6 2-4 4-2 4 0 6 2 4 6 3 4 1 6 2 1 4 5 4 4 2 0 4 4 1 0 7 6 7 0 5-2 6-1 6-3 4-4 0-7-3-3-2-6-1 0-3-4 0-6-1-4 0-5-6-6-10-3-2-2-2-4 0-10 3-16zM46 -278l2 2 4-2-4 0z"/>
<path fill="#14efc3" d="M-42 -388l22 0 2 3 5 2 5-2 4-3 47 0 1 6 0 4 1 6 0 4 1 6 0 4 2 4 0 2 4 2 6 1 4-1 6 1 5 7 2 4 2 10 5 9 6 4 5 2 5 0 4-1 4 2 2 0 3 4 1 3 3 3 3 5 4 5 6 4 4 6 0 2 6 5 5-3 5-9 0-8-3-7-1-6 3-10 5-2 6 0 4 2 0 1 6 3 4 4 6 3 4 1 6 3 0 1 6 4 3 6 1 0 2 4 1 6 0 4-1 6-3 4-2 6-3 4 0 7 6 5 4 8 3 6 3 10 4 4 6 0 4-1 6 8 4 12 2 1 5 6 11 4 6 6 2 1 4 13 1 0 2 10 3 3 1 3 7 4 7 6 5 2 3 2 1 2 4 4 6 4 16 5 1 1 0 4-4 6-6 4-4 6 3 4 4 3 6 2 0 1 8 4 3 6-1 5-3 5-3 2-1 2-3 16 0 4 1 6 2 4 1 5 3 5 2 6 3 4 3 6 0 4-5 6-6-1-4-3-6 0-4 2-5 6-3 6-8 8-2 6-1 6 3 10 6 5 5 5 3 4 0 6-1 4-5 6-8 4-4 3-6 1-4-2-5-6-1 0-4-6-6-3-4-1 0-1-6-1-10 0-4 2-5 4 0 5 6 15 3 8 6 5 5 3 0 4 1 6 4 7 4 10 7 7 1 6-2 5-5 9-3 6-2 2-6 2-1 6 0 4-1 6-2 4-1 0-3 6-2 1-6 9-8 8-6 2-4-1-4-5-4-10-2-5-5-5-1 0-4-4 0-1-6-1-4 0-6 3-2 9-2 4 0 2-2 4-1 4 1 6 4 4 2 3 4 3 6 1 6 0 7 3 1 6-1 4-7 10-1 0-5 6-4 4-11 0 1 2 0 4 10 3 2 1 4 5-6 7-6 2-4 3-11 3-5 2-4 0-6-1-10-2-10 0-4 1-6 0-10-3-4-3-6 2-1 4-3 6-1 0-9 7-6 2-4 3-6 1-4 0-6-3-4-6-10-6-6-1-4 3 0 4 2 6 2 4 1 6-2 4-3 3-6 1-20 0-4 6 3 16-3 9-3 5-2 6-5 1-6-1-4-4-6-2-7 0 0 6-3 10-4 2-6 0-5-2-2-6 3-4 4-4 6-2 5-4-1-1 0-5-2-4-1-6 1-4 2-3 10-2 3-5-2-6-1 0-4-4 0-1-6-5-8-4-6-6-6-2-4-4-6-1-6 7-1 6-3 6-1 4 0 4 1 8 3 8 0 4-3 3-4 2-6 0-4-2-3-3-3-1-10-6-5-3-9 3-14 3-6 1-9 3-1 1-6 2-4 0-6-2 0-1-4-4-1 0-3-6-3-4-3-11-5-5-9-4-2-4 1-6 2-6 2-4-1-6-2-4-6-6-10-7-6-1-10 2-4-1-6 0-6-3-4-1-4-2-9-1-1-1-6 0-9-5-1 0-4-4-2 0-4-3-4-5-3-8-3-14-2-10 0-16-2-7-2-3-4-1-10 0-9-3-3-6 0-14 3-6 5-4 4-8 10-10 4-2 2-3 0-4-3-3-2-6 2-10 7-9 0-1 6-5 2-9 0-6-2-7-6-3-4-1-5-3 0-6 2-4 3-3 1-3 3-3 3-1 7-6 3-4 1-6-1-4 0-6 1-4 2-3 0-3 2-4-2-6-6-5-4-2-6 0-4 1-6 0-5-2-1-2-4-4-4-6-6-5-4-4-6-3-1-2 1-6 10-2 6-5 1-3 3-4 1 0 2-6 5-4 5-6 3-2 4-8 6-8 4-4 6-2 4-6 2-4 1-6-1-4-2-4-1-6 1-6 6-7 5-3 9-4 2 0 8-6 7-4 5-6 2-4 2-2 2-4 8-6 4-4 3-4 2-6 1 0 6-10 3-4 0-6-1-4 0-6 7-10-1 0 0-4-4-3-2-3 0-4 2-2 1-4 3-5 2-5 3-5 5-1 25 0 11-7 5-7 2-4 1-6-1-4 0-6 3-2 4 0 6 1 5 7 5 4 10-5 5-5 2-4 1-6 0-4 2-3 4-1 6 2 4 9 6 8 5 5 7 4 2 4 2 2 4 2 10 0 11-2 8-6 1 0 3-4 1-6-7-10-3-5-3-15-1-3-10-7-5-4 0-16 1-4 0-6zM-6 -318l4 3 0-3zM46 -282l-4 2-2 2 3 6 5 1 5-1 3-6-1-4-3-2-4 1zM215 138l0 4 3 1 4 0 0-2-4-5zM18 362l4-1 5 1 5 3 7 7-2 6-5 3-4 2-6-1-3-4-1-3-6-7 3-6z"/>
<path fill="#12ed8b" d="M-42 -388l17 0 5 6 2 1 6 1 5-2 5-4 1-2 32 0 1 3 6 4 2 3 2 6 1 4 0 6 2 10 7 6 10 0 6 1 5 7 0 6 2 10 3 2 4 5 4 3 2 0 4 2 6 0 4-1 6 2 5 7 2 4 7 8 6 5 4 7 0 2 4 4 3 0 3-2 3-4 3-5 2-5 0-4-1-6-2-4-1-6 0-4 6-6 6 0 8 6 5 4 1 2 10 3 9 5 7 10 1 6 0 4-2 6-3 4-5 10-1 6 4 6 5 4 1 0 7 14 2 10 5 3 10 0 6 10 4 10 2 3 8 4 6 3 4 3 4 4 3 6 2 10 2 4 4 6 1 0 4 4 1 0 4 4 5 4 4 2 6 6 6 4 4 3 6 1 4 2 3 4-3 4 0 2-6 4-4 5 3 5 9 6 8 4 3 6-1 4-5 10-1 6 0 4-1 0-1 6 0 4 1 6 2 4 3 11 4 9 2 2 2 4-1 5-1 1-6-1-4-2-6 0-4 2-6 7-3 8-5 4-4 6-2 4 0 5 2 11 2 3 2 1 6 6 2 3 2 1 0 6-2 4-5 6-9 4-6 1-4-2-6-6-4-5-10-5-20 0-6 2-3 5 3 10 1 1 1 5 0 4-2 2-4-2-6 0-3 6 3 4 0 2 5 4 3 4 2 6 1 0 5-8 0 2 4 2 5 4 6 4 3 6 3 4 3 7 3 3 1 6-4 7-4 5-6 1-4-3-2 0-4-3-4 0-2 3 5 4 1 6 2 4 3 10-2 10-3 4 0 2-4 4 0 1-10 11-6 2-4-1-2-3-3-9-5-8-6-6-2-1-2-3-6-1-4 0-6 1-4 7-2 10-2 6 0 4 1 6 2 4 1 0 6 6 4 2 4 0 10 2 3 6-1 4-2 2-2 4-12 11-10 0-4 4 1 5 3 3 3 1 1 2 6 2 0 3-13 9-13 4-4 0-10-2-26 0-8-2-2-2-4-2-6 0-2 4-2 6-3 4-6 4-1 2-6 1-4 3-6 1-4 0-3-1-7-8-4-2-2-2-8-4-4 0-5 6 0 4 5 10 0 6-2 4-6 2-20 0-4 4-3 4 1 6 2 4 0 8-2 2-4 7-4 3 0 1-6 0 0-1-4-2-7-2-3-2-6-8 0-8 6-3 5-1 5-2 1-2-1-5-3-5-4-4-3-4-6-3-5-3-9-8-6-2-4-4-6-1-4 5-1 0-2 4-1 6-3 4-1 6 0 9 2 11 0 4 0 1-4 2-6 0-4-3-7-4-7-6-6-2-9 2-1 1-6 2-4 0-10 2-16 5-4 0-7-4-5-6-4-7 0-3-4-9-10-5-3-6 2-10 1 0 1-4-1-6-6-7-4-5-4-2-6-5-7-1-9 2-4 0-6-1 0-1-14-4 0-1-6-2-10 0-12-7-2-3-6-4-5-7-2-12-2-10-1 0 0-14-1-6 0-4-3-7-6-2-10 0-6-1-3-6-1 0 0-14 1 0 2-6 5-4 3-6 5-6 4-4 7-4 2-6-6-10 0-4 2-6 5-7 8-7 1-6 0-14-3-6-6-2-5-2-1-6 2-5 4-5 6-4 6-6 3-4 1-7-1-3 0-6 2-4 1-6 2-4-1-6-5-4-4-4-4-1-6 0-4 1-6 0-10-9-4-6-2-1-4-5 0-1-4-4 5-6 5-3 0-1 4-6 6-9 0-1 4-4 0-1 4-5 5-4 1-4 2-2 2-4 6-6 7-4 5-6 2-4 1-6 0-4-3-10 2-6 3-4 3-2 6-2 2-2 8-3 4-4 10-7 0-1 7-9 4-6 5-4 6-6 4-6 1-4 3-5 6-7 1-2 0-16 9-11 3-3-1-6-8-1-1-3 1-5 6-10 0-1 4-3 26 0 4-3 3-4 3-1 4-6 3-3 3-6 1-4-1-4 4-6 6 3 1 3 3 4 0 2 6 2 5-4 5-2 7-8 3-4 1-6 4-5 0 1 5 3 3 7 7 7 4 5 4 2 6 7 6 4 4 0 2-1 4 0 10-2 4-2 2 0 4-3 4-5 6-2 4 1 6 0 5-1 1-6-6-3-10 2-6-3-5-6-2-4-3-10-1-6-3-4 0-2-6-3 0-1-4-4-1 0-2-10 0-6 1-4 0-6zM40 -282l-4 4 2 2 2 4 2 2 6 1 4-1 4-2 3-6 0-4-1-5-6 0-4 2-6 1zM-155 -248l3 3 1-3-2-2zM-36 -222l-2 0-2 4 2 3 6 1 5-4-5-5zM187 -208l-1 6 2 1 4 0 5-1 0-6-5-1-4 1zM-248 -138l0 2 5 4 1 0 5-6-5-2-6 2zM-204 48l3 0-1-4zM211 48l3 4 4 3 4-1 2-2-2-2 0-2-4-5-6 0zM215 132l-3 1-2 5 0 4 2 3 6 1 4 0 6-1 4-3-10-8-4-2zM-38 357l6 0 2 5-2 4-6 1-3-5 3-4zM22 366l6 0 6 6-2 4-2 2-4 0-4-3-2-7z"/>
<path fill="#11ec52" d="M-38 -387l6 3 10 4 4 2 6 0 4-1 6-4 4-5 23 0 3 4 0 2 4 4 2 0 4 4 2 12 2 11 2 3 4 3 9 2 5 0 6 3 1 2 0 6-1 6-6 8 3 6 3 2 4-3 6-1 4 3 10 3 13 0 3 2 5 8 5 5 0 1 4 4 1 0 4 6 1 0 1 4 3 7 6 4 0-1 4-2 2-2 4-7 3-3 1-6 0-10-2-4-2-6 4-7 6 0 5 3 5 4 4 6 10 2 6 2 5 6 2 4 2 6-3 10-2 4-4 6 0 2-3 2-1 6 2 4 2 2 4 2 6 5 4 10 1 1 0 6 3 10 12 0 4 2 2 2 1 6 3 4 2 6 2 2 6 2 4 3 6 2 0 1 4 4 1 0 3 10 2 4 1 6 5 6 6 4 2 2 6 3 0 1 5 4 4 6 1 0 4 4 2 0 4 3 10 5 2 2-2 6-6 4-3 6 3 6 10 6 6 2 3 6-3 10-3 14-1 6 0 10 4 6 0 4 4 19-3 1-7 0-7 4-3 6-3 4-2 6-5 5-4 5-3 10 3 6 0 4 4 4 0 2 4 4 2 1 2 3 2 6-5 6-4 4-11 2-5-2-4-6-1 0-10-8-4-1-26 0-6-5-4-4-4-5-6 0-3 3 0 6 1 4 2 3 6 4 6 3 4 4 1 6 0 6-7 0-6 4-2 6 2 4 2 2 4 8 1 5 0 5 5 5 4-1 4-4 6-1 6 1 4 4 6 9 1 3 3 4 1 0 0 5-5 5 0 1-6 1-4-2-10-3-5-1-11-9-4-2-6 1-4 2-2 2-1 6 3 6 3 4 7 1 10 0 7 4 4 4 1 5 2 6 1 4 0 6-1 4-4 7-3 3-2 6-1 0-4 4 0 1-6 1-4-2-2-4-1-6-8-10-10-10-5-2-11 2-6 6-1 4 0 6-3 10 0 4 2 6 2 4 7 6 6 3 4 1 7 0 4 6-1 4-4 6-6 5-4 2-6 1-4 0-6 3-2 3 2 7 9 9-3 5-6 3-2 2-8 1-14 0-6-1-24 0 0-1-6-3-4-3-6 0-2 1-2 7-5 9-1 0-4 4-6 2-9 4-5-1-6-4 0-1-4-4-1 0-9-7-6-3-8 4-1 6 0 4 1 6 3 4 1 6-6 3-4 1-15 0-5 2-5 4-2 4 3 10 0 6-2 5-4 2-6 1-10-3-6-5 0-6 2-1 10 0 5-3 2-6-3-2 0-2-7-10-7-7-7-3-3-3-6-2-4-4-6-4-10-5-3 2-5 10-1 6-1 0-2 4-2 10 0 21-1-1-5 0-4-3-3-1-6-6-1 0-6-4-4-1-2 1-4 0-8 4-1 1-5 0-6 1-4 0-6 1-5 3-10 0-5-3-1-3-4-4-2-6-3-5-1-5-3-3-4-1-6-6 0-4 3-10 0-6-9-9 0-1-4-4-2 0-8-8-6-1-10 3-14-3-6-1-4-4-6-1-10 0 0-1-8-4-6-7-6-4-2-5-3-4-1-6 0-4-2-10 0-16-2-4-1-6-3-3-10-2-6 0-4-2-4-7 0-6 1-5 2-5 1 0 4-4 0-2 4-3 3-5 8-7 5-3 3-6-8-10 0-4 2-6 3-5 5-5 1 0 4-4 0-4 1-2 0-14-1-5-4-4-6-1-3-6 3-7 3-3 3-1 9-9 1 0 2-4 1-6-1-4 0-6 2-10 5-4 0-6-10-7-5-4-4-1-6 0-4 2-6-1-5-3-5-5-3-5-3-6-1-4 2-6 1 0 7-10 6-9 1-3 3-2 3-4 0-2 4-4 0-1 4-5 2-4 4-4 9-6 1-2 4-4 5-10 1-4-1-6-2-4 1-6 2-2 10-3 6-4 0-1 4-4 6-3 4-5 3-2 2-6 1 0 4-4 0-2 4-4 11-9 4-11 4-4 4-6 2-4 0-10 1-7 4-3 4-6 2-2 4-2 2-5 2-1-3-4-5-3-3-3 3-7 6-2 4 0 6 1 4 0 6-2 6-4 4-5 0-1 5-5 8-9 1-7 6 3 2 4 2 1 6 1 4-3 5-5 1 0 4-4 2 0 4-4 3-6 1-4 6 3 0 1 4 4 1 0 5 5 0 1 4 4 1 0 5 5 0 1 4 4 1 0 5 4 4 0 6-1 4-2 0-1 6 0 4-1 5-4 1 0 4-4 6-2 4 1 6 0 4-1 4-3 0-6-4-4-4-2-6 0-4 1-6-3-5-6-2-10-2-6-1 0-1-4-5-6-5-4-3-10 2-10zM60 -302l-2 7-2 3-4 1-4 3 0 1-10 2-4 3-1 4 3 6 6 4 3 0 3 2 10-5 1-1 3-10 0-5 7-11 0-4-1-3-6-1zM-166 -258l0 6 4 2 4 5 6 4 5-1 1-6-2-1-4-7-10-3zM-41 -222l-1 2-3 2 5 6 2 1 6 0 4-2 5-5-2-4-7-4-6 1zM182 -208l0 6 6 3 10 0 3-3 1-6-4-3-10 0-6 3zM-198 -168l0 4 1 2 5 2 1-2 1-6-2-2-6 1zM-251 -142l-1 2-3 2 3 3 0 3 4 3 6 0 9-3 4-5-9-7-4-2-6 0zM190 2l-4 6 2 4 4 0 3-4-1-6-2-1zM-207 42l-1 2 0 5 6 3 6-4-2-6-4-3zM-252 78l4 4 10 5 6-2 1-3 0-4-1-2-6-2-10 2z"/>
<path fill="#0feb1a" d="M2 -378l7 0 3 3 8 3 2 0 6 2 2 2 3 6 3 14 5 6 15 4 2 2 2 4-2 7-2 3-1 4 1 6-3 10-5 9-16 5-4 3-2 3 0 4 2 2 2 4 2 2 4 2 2 2 4 2 6 1 4-1 7-4 4-4 2-6 7-14 1 0 3-6 2-5 24 0 6 2 6 9 4 4 4 6 2 4 2 6 3 4 3 6 6 3 6-3 6-10 2-6 4-4 2-3 4-3 6-2 4-2 0-1 6-2 4 0 6 2 3 5 2 6-3 10-2 3-2 1-4 5 0 1-4 4 0 6 1 4 3 4 12 6 4 5 2 5 0 6-2 5-6 3-4 1-6 0 0 1-5 4 0 6 1 0 4 4 0 1 6 1 4 0 6 1 5-3 5-5 4-3 6 1 1 3 3 4 1 6 3 4 6 4 4 2 2 0 7 4 3 3 2 7 0 10 2 3 4 3 2 0 4 3 6 3 5 4 5 5 2 5 2 3 10 7 5 4 0 6-2 4-1 6 0 4 4 4 1 2 11 4 4 6 0 10-1 4 0 6-2 10 0 4 1 8 3 8 1 4-1 6-12 10-1 0-2 4-2 7-5 9-3 4-3 6-3 4-1 6 2 10 3 6 1 4 3 4 1 6-5 5-6 0 0-1-10-7-4-6-6-3-4 2-6 2-10 0-9-2-10-10-5-3-6-1-4 1-3 3-1 4 2 10 3 6 3 3 3 1 5 6-2 5-4 5-2 1-2 3-3 6 1 4 3 6 1 4 0 6-1 4-3 6-6 4-6 6 0 4 2 3 0 3 2 4 2 7 6 4 4 0 6-1 5 0 5 1 5 5 2 4 2 6 0 10-3 10-2 4-4 6-6 1-4-7-2-4-4-4-4-6-1 0-3-6-4-4-2-3-6 0-4 1-6 0-10 4-1 2-3 15-4 5-2 6 2 4 4 4 4 6 0 1 5 5 5 3 7 1 9 5 0 7-4 4-6 3-6 1-11 0-4 6-1 4 1 6 5 10-4 6-10 3-6 0-4-1-6 0-4-1-10 0-6-1-4-2-10-7-6 0-4 3-3 4-3 10-3 6-1 0-6 4-10 2-5-1 0-1-5-4-4-4-7-6-3-8-6-1-4 4-6 4 0 1-4 4-1 6 3 14-2 4-6 2-25 0-5-3-2-3-8-5-4-3-4-2-6-1-8-3-2-2-6-3-4-4-6-3-4-1-3 3-3 14-1 6-3 4 0 4-3 6-3 4-5 2-9-4-6-1-5-1-5 2-5 4-9 3-26 0-4-1-4-2-2-2-4-8-2-6-4-6-4-4-3-4-1-6 0-10-6-8-2-2-7-4-4-6-5-4-2-3-6 0-7 3-13 0-10-5 0-1-4-3-16-3-5-2-4-6-1 0-5-6-5-2-3-8-1-4-1 0 0-26-2-4-2-6-5-6-6-2-4 0-6-1-5-6 0-5 1-4 4-7 6-7 4-6 2 0 14-11 1-5-1-5-4-5-1-4 2-6 3-3 4-2 10 2 6 0 4-1 4 0 6 0 6 2 4 2 6 0 4-4 0-2 2-4 0-4-2-6-4-2-16 0-9 2-5 3-6 1-4-4-2-10 0-10-1-4-4-6-4-4 5-6 7-4 5-6 1-4 0-6-2-4 0-6 2-4 8-6 5-2 2-2 1-6-3-3-6-2-4-2-6-4-4-5-6-2-4 0-10 2-6-1-7-7-2-6 0-4 1-6 4-5 3-5 2-4 2-6 7-10 6-9 0-1 4-4 0-1 6-4 0-1 6-4 4-5 0-1 4-4 6-3 4 1 6 0 10-3 4-2 6-1 5-2 3-6-8-5-6-2-4-4-2-3 1-6 5-7 7-7 4-6 5-4 4-6 6-6 3-4 1-4 1 0 2-6 4-4 3-7 2-3 0-6 2-10 2-1 4-6 6-3 10 3 2 3 8 5 4 1 6-6 0-6-6-9 0-1-4-4 0-2-3-4 3-1 4-3 0-1 6-7 4-8 0-1 4-3 1-2 5-3 16 3 13-8 1-2 5-4 1 0 4-4 0-1 6-1 1 2 7 4 4 6 2 4 1 0 6 6 9 1 4 1 6-1 4-2 10-2 6-2 0-1 10-5 4-1 6 0 10-3 2-5 1-6-3-5-10-5-6 0-4-1-6-3-3-6-1-7-3-7-3-4 0-2-4-4-2-6 2-3 10 0 10-2 4-2 6-2 1-1zM-38 -228l-4 3-6 2-4 3-6-1-4-3-6-1-5 3-1 4 3 6 3 1 8-1 2-2 6 0 1 2 9 4 4 1 6 0 4-1 7-4 4-6-1-4-4-4-6-3-4 0-6 1zM37 -208l1 3 5 3 2-6-3-3-4 3zM-193 -178l-5 1-4 3-2 6 1 6 1 0 2 4 2 6 6-2 5-4 2-10-1-4-2-3-4-3zM231 -152l1 3 3-3-3-3zM-12 -92l-2 4 0 6 2 2 4 1 8-3 0-6-2-3-6-3zM185 -2l-3 4-1 6 1 6 3 4 3 2 4 1 4-3 2-4 0-2 2-4 1-6 0-4-3-4-6 0-4 1zM-210 38l-2 4-1 6 1 0 4 7 6 1 4-1 4-3 2-4 0-6-6-6-4-1-6 1zM-23 162l-5 5 0 1 6 3 4-1 3-2-3-4-4-2zM82 208l-2 4 3 6 5 6 4 3 6-2 3-3 1-4-2-6-8-6-4 0-6 1zM-55 222l0 6 3 4 4 3 4-3 1-4-3-6-6-1zM127 228l-1 4 0 6-3 10 2 4 3 1 4 0 6-3 1-2 0-6-1-5-2-5-4-5-4 0zM238 121l4-2 8 3 3 6 1 4-2 2-4 0-6-1-4-2-4-3 2-6z"/>
<path fill="#3ceb10" d="M-12 -364l4-1 6 4 4 5 6 1 10-5 6 2 1 6 0 4 2 6 1 0 4 4 2 0 4 2 10 3 2 5-2 6 0 4 1 6-1 4-1 0-1 6-4 4-4 3-8 3-2 0-8 4-3 6 1 0 1 4 5 6 6 4 2 3 6 4 4 2 6 0 10-3 8-6 3-4 3-8 6-6 4-3 4 7 2 2 4 1 3-3 3-6 1-4 3-3 6 2 0 1 4 4 0 2 3 4 3 5 4 9 1 0 2 6 7 10 0 1 6 0 4-3 4-4 2-1 4-7 8-7 2-1 4-4 2-1 4-6 4-3 6-1 2 1 3 6-1 4-3 6-5 3-7 1-2 6 2 10 5 10 2 0 4 3 6 2 6 5 2 4 0 6-4 4-10 2-4 0-4 4-2 5 1 5 2 4 7 4 10 2 6 2 4 2 0 1 5 5 5 2 6 0 4 2 2 0 8 4 6 1 0 5-7 0-3 1-5 5-1 4 0 6 2 4 1 6 0 4-7 10-3 0 1 6 2 0 4 4 6 1 4 0 6-3 3-8 0-9 1-5 1 0 5-4 10 0 8 4 2 0 4 4 3 6 1 4 2 2 2 4 8 5 2 5-2 10 0 5 4 6 7 3 9 8 0 24-2 4 0 4 1 6 2 4 1 6 0 4-4 6-4 2-2 2-2 4-2 2-3 14-5 9-4 6-2 5-2 10 0 5-2 9-6-3 0-1-4-3-6-1-4 1-6 5-4 1-10 0-6-3-4-4 0-1-5-5-5-2-6-1-4 0-5-1-1-1-1-5 0-4 1-5 4-11 0-10-1-4-3-5-10 3-4 2-6 2-2 2-3 10 0 6 3 10 5 4 7 8 4 2 2 4 1 6 3 11 3 5 4 4 3 6-1 4-3 6-5 4-4 6-1 4 7 10 0 6-3 5-4 5-6 1-4 0-10-2-6 2-1 3 2 6 9 4 2 0 4 3 4 6 2 1 0 10-2 2-2 4-2 1-16 0-5 3-4 6-1 0-2 4 0 6-2 8-8 12-2 4 0 2 7 4 3 0 7 4 7 8 10 5 6 1 3 2 1 4 0 1-4 4-8 1-2-1-6-1-4 0-3 2-3 4-2 6 0 4 2 10 0 6-4 2-6 1-10 0-4-1-6 0-10-2 1-6 15-3 4-3 3-4 1-4-1-6-3-6-2-8-2-4-6-6-4 0-9 4 0 6 1 4 0 6-2 6-4 4-6 4 0 1-6 4 0 1-6 4-4 4-3 6 0 6-1 5-5 5-5 2-6 0-4-2 0-1-6-4 0-1-5-5-1-5 0-5-1-5-3-4-4-4-5-1-5 1-4 4 0 5-1 5-7 4-4 3-2 3-1 4 2 10 0 6-3 3-6 1-10-3-9-7-10-4-5-2-10 0-6-2-4-2-6-4-7-6-3-2-4-8-6-2-4 0-5 2 0 6 5 6 2 4 1 4 0 6-3 10 0 2-2 2-3 7-5 2-6 0-4-2-6-1-4 0-6 1-10 6-4 2-6 0-4-1-10 0-6-1-5-2 0-1-5-5-1-5-2-4-1-5-6-10 0-5-1-6-3-6-6-3 0-1-8-4-5-6-3-4-3-6-5-2-6 0-4 2-2 0-4 2-10 0-10-7-5-5-5-2-4 0-6-1-10-10-1-2-7-5-2 0-2-10 0-20-2-4-1-6-5-7-4-3-10-2-6-2-1-6 1-5 8-9 2-4 6-5 9-7 1 0 4-5 2-5 0-4-1-6 3-4 6-2 6-1 6-3 7 0 1 1 6 2 4 2 6 0 5-5 3-4 2-4 0-13-6-5-10 0-4-1-6 0-4 1-4 2-6 1-6-1-2-6 0-10 2-10 3-10 6-4 1-2 6-1 4 4 6 5 4 1 6-2 4-5-1-6-3-2-6-3-10-2-5-3-5-2-1-2 0-6 7-5 4-4 6-4 3-1 1-6-6-4-4-2-6-4-4-2-2-2-2-6 0-18-1-1 1-5 0-6-6-1-3 7 0 10-1 0-6 4-4 2-6 2-4 2-2 0-4-2-1-4 0-4 2-6 5-4 1 0 3-6-1-4 0-6 5-10 3-4 3-6 1 0 5-5 4-5 6-5 4-5 6-3 10 2 11-3 4-2 5-1 10-5 3-2 1-2 6-6 4-2 0-1 6-3 4-5 3-1 3-6 1-4 0-16 1-4 2-4 2-2-2-3-9 3-5 2-6 0 0-4 2-2 4-8 0-2 2-6 3-4 3-6 2-7 0-7 2-6 8-6 10 3 4 5 5 4 7 0 4-3 4-7 0-6-2-4-2-7-5-9 5-4 4-8 2-2 4-6 4-3 6 1 4 2 6 1 0-1 14-4 6 0 6 4 4 2 3 4 7 2 6-2 4-2 4-1 6 0 4 1 10-2 3-2 3 0 4-2 6-1 4-2 6-2 6-3 4 0 10-3 6-7 2-10-4-7-4-3-6-3-7-1-3-1-6-5-2-4 0-6-2-2 0-2-3-6 3-4 2 0zM0 -282l-2 1-2 3 2 6 4 2 4-2 2-2 1-4-1-3-6-3zM12 -248l-1 6 1 5 6 2 4 0 4-3 1-4-4-6-5-2-6 2zM-33 -232l-5 1-4 2-5 1-5 2-6-1-10-3-6 2-4 5 0 8 1 3 5 6 4 3 10-2 6 0 7 3 11 0 12-4 4-4 4-2 6-6 1-4-11-7-4-3-2 0-4-2-4 1zM40 -218l-6 6-2 1-1 3 1 7 6 4 4 0 6-3 3-8 1-4-2-6-2-1-6 1zM-25 -138l-3 2-3 4 3 5 2-1 4 0 4-1 5 1 6 6 5 3 4-1 4-2 5-6 2-4-3-6-8-3-4 0-10 3-10 0zM194 -138l-2 1-3 9-1 6 0 4 4 4 6-2 9-6 3-6-2-1-2-4-6-5-2-1zM117 -122l-3 4 4 3 4 1 6-1 2-3-2-3-6-2-4 0zM-10 -102l-2 0-6 4-1 0-4 6-5 4-4 6 0 4 4 7 6 4 5 5 5 1 4 0 4-1 2-2 2-4 2-2 4-2 2-2 10-6 1-2 0-6-1-2-4-2-6-6-8-4-2-2-6 0zM60 -88l1 6 7 5 4 0 5-5-3-6-2 0-4-2-6 0zM285 -68l-3 2-3 4 3 2 6 3 4 0 3-1 3-5-5-5-5 0zM-226 -18l-1 5 5 4 4 1 1 0 1-4-6-6zM-214 32l-3 6 0 10 5 9 0 1 4 2 6 0 8-2 2-1 3-5 1-4 0-6-4-8-2-2-4-2-4-1-10 2zM-96 78l-1 4 3 10 0 6 2 0 4-3 4-7 0-6-2-4-6-3zM-101 102l-1 6 2 10 2 5 6 0 2-1 1-4-3-7-3-3 0-6-3-2zM-11 108l0 4 3 5 6 1 5-6-1-4-4-4-6 1zM-73 118l-5 4 0 1 6 4 5-5-1 0-4-4 0-1zM-38 152l-1 6 2 10 0 10 5 1 4 0 6-1 6 0 4-1 7-5 0-4-2-6-1 0-4-4-16-5-4-1-6 0zM-88 188l-1 4 1 5 6 9 4 0 5-4 0-4-2-6-3-5-4-2-6 1zM53 188l-1 0-1 4 0 6-2 10 3 5 6 4 4 1 10 0 7 4 4 6 5 4 4 2 6-2 4-3 3-1 7-6-2-4-5-6-5-4-2-3-4-3-6-1-6 1-10 0-7-4-4-6-3-7zM-55 212l-3 1-3 5-1 4 1 6 3 7 2 3 4 3 4 1 6-2 3-2 2-6-3-10-2-3-3-1-5-6-2 0zM2 212l-4 2-4 4-2 5 3 5 7 3 6-2 2-7 0-4-2-4-6-2zM-218 -168l6-1 5 7 1 4-1 5-5 5-6 1 0-1-4-1-4-3 0-6 2-4 6-6zM218 157l4 0 6 2 2 3 2 6 0 4-1 6-3 7-6 2-9-9-1 0-3-6-1-4-1 0 1-6 4-4 2 0z"/>
<path fill="#74ed12" d="M-2 -349l4 1 0 1 9 5 1 3 2 1-2 2-4 1-6-1-8-6 0-6zM28 -329l4 2 6 6 3 9-3 7-6 5-4 2-5 0-1 0-3-4 1-6 0-4 2-6 0-6 2-4zM-132 -279l4-3 6 2 3 2 1 2 6 3 2-5 8-4 4 0 10 2 6 2 4 4 6 5 2 1 2 5 6-4 0-1 4-4 2 0 4 5 4 3 6 0 10-10 4-5 10-3 3 4 1 6 2 2 1 3 9 6 3 3 3 6 0 10-2 5-4 6-6 0-5-1-7-6-2-1-6-1-5 2-9 6-6 2-10 0-4-2-2 0-4-2-4-1-4 3-2 0-2 4-1 6 0 4 1 6 2 4 0 4 2 6-1 6 0 4 5 4 4 1 6-1 7-4 3-1 4-3 0-1 6-2 7-3 3 0 4-2 7-2 3-3 6-3 4-4 2 0 4-3 10-6 4-5 4-2 8 0 4 2 4 4-2 4-3 10 0 6 1 0 4 8 6 3 6-1 4-3 4-7 1 0 4-11 0-5-5-6-4-1-6 0-4-1-4-2 0-14-1-6-1-4-4-4-6-2-8-4 2-6 2-1 6 1 4 4 4 5 6 3 4 1 6 0 4-1 4-2 2 0 9-4 5-4 4-2 2-3 4 4 6 0 4-1 8-4 2-3 6-1 10 10 1 4 3 7 2 3 3 10 5 2 6-1 6-7 4-4 4-5 6-1 6 5 3 5 2 6 3 6 16 3 0 1 4 4-2 6-2 1-6 0-7-1-6-6-1-2-6 2 1 6 3 4 2 4 1 7 0 5 1 4 2 3 4 3 12 2 7 2 3 3 1 3 3 5 5 5 1 0 3 4 1 5 1 1 0 4 2 6 3 4 1 6-1 3-6 2-4-3-4-2-2-2-4-2-6 2-4 6-2 6-5 10-3 3-6 0-4-1-10-5-6 0-4-1-3-2-3 0-4-2-10-2-6 0-4 1-7 3-4 6-2 4-2 6 5 3 4 0 6 1 14 0 16-3 10 4 4 3 6-1 4-2 6-1 6 0 4 1 4 0 1-1 5-1 7-3 3-2 4-1 6 1 4 2 6 2 4 2 6 0 5-4 5-5 0-1 4-4 1 0 0-6-1-7 1-3 5-1 6 2 4 3 1 6 2 6 7 6 3 4 2 4 0 6-1 5 2 5 4 5 4 3 6 2 2 5-2 1-6 0-10 3-4 2-9 3-4 6 3 1 5 3 9 3 6 1 4 2 6 2 2 2 2 6 2 4 0 6-1 5-5 6-4 3-3 6-1 4 0 6-2 7-6 11 0 2-2 4-2 6-4 4-2 1-14 0-6 3-4 5-6 0-9-3-5-6-6-6-4-2-6 0-4-3-1-3 0-6 1 0 1-4 0-6 2-10 0-4 1-6-4-8-6-4-4-1-6 4-2 5-8 4-7 6-2 4 0 16 3 10 2 1 4 6 7 7 4 6 2 4 2 6 1 0 3 10 3 4 3 6-1 4-3 6-1 0-4 4-1 0-5 5 0 1-6 4-4 4-4 6-1 0-7 6-8 3-4-3 0-1-6-3-1-2-3-2-6-3-10 0-3 5 0 6 2 4 1 5 3 5 1 6 0 10-3 4 4 6 2 0 6-6 7-2 6 1 1 1 0 6-1 4-1 0-5 5-3 5-3 10 0 6 1 4 0 6-5 5-4 2-6 5 0 2-2 6-8 6-4 1-6-1-8-6-6-7-10-3-13 0-3-1-4-5-2-4-2-10-2-5-5-1-5 3-1 3-3 5-4 9-2 3-5 3-9-4-6 0-4 6-6 6-6 2-4 0-4 1-5 3 0 1-4 5-1 4 1 6 3 4 2 0 8 8 3 2 2 6 1 0 1 4 3 6 0 2 2 2-1 6-1 0-2 4-2 6 0 11-6 0-4-2-6-1-8-4-6-1-10 0-6-1-5-2-9-8-3-2-1-6-6-9-5 0-1-1-4 0-6-1-4 0-3 1-1 6 1 4 5 10 5 6 3 7 0 8-2 5-4 5-4 4-6 0-10-2-10 0-4 1-2 2-8 4 0 1-6 0 0-1-4 0-6-1-4 0-6-1-4-2-3-6-2-10 0-4 1-6 2-4-1-6-5-4-2-3-6-4-4-2-7-1-9-7-2-3-2-7-6-5-4-1-6 0-6 3-8 2-6-1-4-3-4-4-5-4-1-2-5-4-10-4-1 0-4-6-6-3-5-1-3-6-1-4 1-6 0-4-1-6-2-4-1-6-2-5-3-5-7-4 0-1-6-1-6-3 1-5 5-6 0-1 4-3 4-6 3-1 5-4 4-5 1 0 4-4 4-6 2-4 4-6 5-3 6-2 14 4 6 0 4-3 2 0 4-5 3-5 1-6 0-10-1-4-3-6-10 0-10-2-6 0-8 2-2 1-6 0-2-5 2-10 3-6 3-4 6 0 4 2 6 1 4 0 10-2 6 2 1 7 2 4 1 7 6 4 4 1 10 0 6-3 4-3 0-1 4-5 0-10-4-8-4-9-6-2-4 0-2-1-4 0-4-2-7-2-3-2-10-3-10-5-1 0-4-6 5-5 4-2 6 0 5 3 5 4 2 6 2 4 2 0 4 3 7-3 7 0 10-2 6-2 7-6 3-4 0-6-6-6-1 2-7 4-2 2-4 2-6-1-5-2-5-5-4-8-6-4-4-1-10 2-6-1-6-4-8-4-3-6 0-4 3-8 0-3-3-9 0-10 1-6-4-4-4-2-6-1-4 1-3-4 1-4 2-3 0-3 4-4 0-1 4-5 5-4 1-2 6-3 4 1 6 0 4 1 6-2 4-2 10-2 6-3 5-4 7-4 6-5 2-1 4-4 0-2 6-2 4 4 2 4 4 4 4-1 6-6 0-7-6-2-4 0-4-2-1-6 0-14 2-6 7-10 2-4 0-6-6-3-6-1-4-3-1-3 4-14 0-6 1-6 2-4 4-2 4 0 4 2 6 7 6 4 10-3 3-2 4-6 1-4 0-6-2-10-2-4-1-6 1-4 1 0 4-6zM-114 -268l0 10 1 6 5 4 4-4 1-6-3-4-2-4-4-5zM-70 -258l2 2 1-2-1-4zM-10 -148l-2 1-6 1-4 0-6 2-6 6-3 6-1 0-1 4 1 6 15 0 5 0 5 4 1 2 0 5-2 3-4 3-4 5-10 8-6 4-1 6 1 7 6 8 5 5 7 4 2 2 6 1 4 0 6-2 4-4 2-1 4-4 1-2 3-2 6-2 2 0 5-6 1-4 0-6-6-10-5-4-4-6-1-4 2-6 4-4 3-6 1-4-1-6-4-4-9-6-4-1-4 0-6 1zM-73 -142l5 6 5-6-5-4-4 2zM-104 -138l0 6 2 2 4-2-4-6zM55 -92l-1 4 1 6 4 4 3 4 10 5 10-2 2-1 3-6 0-4-2-6-7-7-10-2-6 0-4 1zM146 42l-2 6 0 4 1 6 3 5 4 4 6-4 2-5 0-10-2-6-6-3-4 2zM-100 72l-2 6 0 9-6 6-4 2-4 3 0 4 2 6 2 1 2 3 2 7 5 9 5 4 10-2 6 0 4 2 0 1 6 1 4 0 6-4 1-2 1-6 0-4-2-7-6-7-4-6-1 0-3-10-1-6-2-4-3-4-10-5-6 0zM-12 102l0 1-4 5 0 5 2 5 8 5 4 1 4 0 6-5 1-7 0-4-1-3-3-3-7-2-6 0zM26 128l-4 2-1 2 0 6 1 5 2 5 4 5 4 1 6-1 0-12-1-4-3-5-2-2-4-2 0-1zM-99 148l-3 4 0 6 4 4 0 2 3 4 0 4-2 6 0 4-1 2 0 8-1 6 0 10 7 5 10 2 4 0 6 2 3 5 7 14 0 2 2 4 2 6 7 0 9-3 9-7 0-6-3-10-3-4-3-9-5-7 0-4 5-3 2-3 6-4 1-2 10-4 5 0 10-2 6 0 8 2 6 2 6-2 0-4 1-6-1-3-6-2-4 0-6-2-4-6-2-1-4-4-4-2-6-1-4-2-5-1-5-3-5-2-5 1-5 4-1 0-1 4 1 5 4 5 2 7-4 9-3 4-2 6 0 4 1 6-8 1-5-1-5-7-4-9-2-4-2-6-6-4 0-1-4-5-2-5-4-6-6-5zM-230 178l0 4 2 4 6-2 0-8-6-1zM192 106l2 2-3 0zM218 162l6 0 3 6 0 4-4 6-5-1-4-5-1-4 3-6zM18 215l4-2 6 2 10 7 4 0 12 0 4 1 10 0 4 2 6 5 4 6 7 6 2 6 0 4-1 6-2 5-5 9 0 6-1 0-2 4-3 2-5 0-9-6 0-6 1-4-2-6-4-9-6-8-4-4-6-1-4 2 0 1-10 3-6-1-4-3-4-4-1-6 0-4 3-10zM148 216l4 0 6 2 3 4 1 5-3 5-1 4-6 5-3-3-2-6-2-4-2-6 3-4zM108 234l4-1 2 5-2 3-4 2-2-1-2-4z"/>
<path fill="#adee13" d="M-92 -273l5 0 5 4 2 7 0 4 2 10-1 6-6 10-1 4 0 6 3 10 2 10 0 4-1 7-1 3 2 6 3 2 6 2 5 0 9-2 6-3 4-3 10-5 5-1 5-3 6-2 4-2 5-4 5-3 2-2 4-1 4-3 2 0 4-2 6-4 4-1 3 1 1 6 0 9 5 11 1 0 4 6 6 2 4-2 2-2 4-2 2-2 2-4 5-6 2-6 2-4 0-6-1-4-2-4-2-2-4-2-9-2-3-6 0-4 2-7 10-3 0-1 6-1 4-2 11-2 5 2 4 0 4-2 2 0 4-3 10-5 6 0 8 8 3 10-1 6 2 4 2 2 10 2 6 0 8-4 6-9 6 0 1 5-1 3-2 1-2 6 0 4 1 6 4 5 5 9 1 6 0 4 2 6 1 0 4 4 11 0 5 1 6 5 4 6 2 4 1 4 0 6-3 6-10 2-4-4-2-1-4-6-6 1 0 4 1 2 9 6 3 4 0 6-3 10-4 6-6 1-4-1-10-5-5-1-11-4-4-2-6-2-4-2 0-1-6 0 0 1-10 7-4 3-4 4-3 6-3 5-4 5-1 5-1 0-4 6-6-1-10 0-4-1-6 0-4 1-6 4-3 10 3 8 6 7 0 1 4 4 1 0 5 7 3 9 4 0 3-2 3-4 15-4 7-6 4-4 1-7-6-5-4-2-5-6 1-6 4 0 4-2 6-2 4-2 6-1 4 1 10 0 10 2 6 2 2 2 5 10 3 3 5-3 9-4 0-1 6-4 0-1 4-2 10-2 7 0 11-6 5 0 3 1 4 5 10 6 6 2 2 2 2 4 0 4 8 12 1 4 0 10-1 6 2 6 6 0 4-3 6-3 6-1 4 1 4 0 6 2 4 2 2 0 4 5 2 5 0 6-2 5-4 5-5 4-4 6-1 4 1 6-2 11-2 3-3 9-2 1-3 6-5 1-6-1-4 0-6 1-4 5-6 2-4-1-6-3-3-4-1-4-6-7-4-2-3-3-2-10 3-14 0-6-1-4-3-6-4-4-1 0-5-4-5-2-5 2-4 7-2 1-4 4-10 5-1 1-3 10 0 16 1 4 3 6 6 6 4 6 6 7 3 5 2 6 5 9 4 10-1 5-4 6-6 4-3 3-6 3-4 4-1 0-5 5 0 1-4 3-6-4-4-19 1-6 2-4 1-5 2-5 1-6 0-4-1-6-3-4-3-6-6-2-5 2-5 5-3 5-1 6 3 14 1 8 3 8 1 4-2 6-12 2-5 2-3 6-1 4 3 16 2 4 1 6 0 4-1 5-2 5-1 6 3 4 9 6 1 0 2 4 0 6-3 14-3 6-2 0-3 4-2 6-2 4-2 6-5 2-6 0-4-3-4-5-6-4 0-1-6-2-10 0-10-3-2-4-1-6 0-4 2-10 0-6-1-4-5-6-3-2-4-1-6 0-5-1-5-5-4-11-6-8-4-2-6-1-5-3 0-6 1 0 4-8 2-2 0-4-2-1-4 0-6 2-7-1-7-2-6 0-4 2-5 4-3 6-1 4 1 6 13 10 5 3 14 3 6 8 2 10 0 6-8 3-9-3-5-7-6-3-10-2-7-4-3-1-10-6-4-2-6 3-4 6-2 6-2 4 0 6 4 5 3 5 0 4-4 6-5 4-4 1-4-5 1-6-3-5-4-2-6-4-2-3-5-10-3-4-1-6 1-1 6 0 10 2 7-1 7-3 3-3 2-10 0-4 2-6-3-4-4-4-4-5-2-1-3-6-1 0-2-4-2-11-4-5-2 0-4-3-6-3-10-8-5-6-9-6-6 0-4 2 0 1-6 3-2-4-2-2-6-2-4 1-3 3 0 4 3 5 7 1 7-5 5 5 1 0 4 4 6 2 4 4 1 4 0 11-1 0-5 5-5 1-5 3-1 6 4 10 2 4 1 0 5 9 2 7 2 4 1 6 0 4-1 1-1 5-3 4-2 0-4 2-4-1-6 0-4 3 0 3 4 5 6 0 4-1 6 0 4 2 6 7 0 13-4 13-2 4 0 7 10 8 16 5 8 6 2 1 2 3 1 6-3 4-6 0-4-1-6 2-4 4-10 5-3 0-3 2-3 4-1 4 5 5 5-1 4-2 6 0 4 4 6 7 4 6 2 1 1 6 0 4-2 6-1 0-5 5-5 0-14-3-6-1-2-1-3-6-5-6-6-4-6 0-2 6 1 4 3 6 5 4-5 3-4 1-10 0-6-2-4-6 1-6 3-7 6-3 3-4-4-6-5-2-4-4-5-4-1 0-4-4 0-1-6-3-4-1-6 0-7-5-2-6-2-4-3-4-3-2-13-2-4 0-6 3-4 1-6-1 0-1-7-4-5-6-2-4-1 0-2-6 0-4-2-6-7-4-6-6 0-4-1-6-1-1-10-2-5-7-1 0-4-13-2-1-4-5-3-5 1-6 3-4 3-6 2 0 4-6 10-7 5-1 0-1 5-3 4-6 2-2 4-1 6 0 4 1 6-1 10-6 4-7 3-4 1-6 0-10 2-4 10 2 4 0 6-4 3-4 1 0 5-4 3-6 0-4-2-11-3-9 1-6 2-4 4-5 6-3 4-4 2-4 1-4-1-6 0-4-1-6 1-4-1-6 0-4-5-3-10 4-3 3-3 8 0 2-4 5-6 1-4-3-5-7 0-6 5-6 4-4 2-4-2-5-4-3-6-1-4 1-4 2-6 6-1 0 0 4-1 6-4 2-4 1-6-1-4-2-2 0-4-6 0-5 4-5-1-4-5-10-1-6 3-11 4-3-12-6-2 0-6-4-2-6 4-7 1-3 3-3 6-3 7 2 7 1 6 0 4-2 6-1 4 0 6-2 1-2 7-5 2 0 4-3 4-2 2 0 4-4 6 2 3 8 1 1 6-1 3-6 1 0 6-5 4-7 2-2 0-6-6-6-7-4-3-4 0-10 2-6 4-4 4-7 4-12 6-11 1-6 3-4 6-3 4-3 5-5 4-5 1-7 6-2 2 5 8 6 4 0 6-3 4-3 0-6 2-4 0-10-1-6 3-4zM87 -208l-5 3-3 3-1 4 0 1 4 4 10 2 6-2 2-5 0-4-2-3-6-3-4 0zM62 -172l-4 4-1 0-5 4-4-2-2-2-8-4-5 4 0 6 5 5 4 1 6 0 4 1 10-2 1-1 5 2 4 0 5-2-5-6-4-4-6-5zM-69 -152l-3 0-6 4-4 6 1 4 5 6 6 4 2 4 7 6 2 6 0 4-1 6-2 4 10 2 4 5 3 9 3 5 4 9 0 1 4 5 2 0 4 4 1 0 7 6 2 1 10 0 6-2 4-2 9-7 1-2 6-2 10-5 1-1 2-10 0-6-1-4-3-6-5-4-4-6-1-4 1-2 0-4 4-4 0-2 3-4 0-4-1-6-2-4-4-5-6-2-4-3-3 0-3-2-10-2-19 4-7 4-4 7-4 9-6 5-4 4-4-5 0-10 2-4 1-6-5-4-4-1-6 0zM-112 -147l-5 5 0 4 4 6 1 0 4 8 6 5 4 0 6-4 1-5 2-4-1-6-2-2-4-2-6-5-6-1zM-100 -78l-1 6 3 5 6 0 4-3 1-2 0-6-1 0-4-4-6 1zM-123 -48l0 6 5 1 4-1 2-6-6-2-4 2zM-56 2l-2 6 5 10 6 0 2-6 2-4-1-6-4-2-4 0zM14 22l-2 3 0 10 2 3 8 5 2-1 2-4-2-6 0-4-1-6-5-2zM-229 168l-3 1-4 3-3 6 1 4 0 4 2 6 4 4 4 0 6-1 6-7 1-6 0-4-1-6-4-4-2-1-6 0zM-143 202l0 6 2 10 3 5 6 0 0-1 4-1 5-3 1-6-6-6-5-4-5-1-4 1zM-28 -263l16 5 1 0 5 5 2 5-2 6-2 1-3-1-1-2-4-4-6-3-6-1-4 4-3 6-7 6-10 3-6-1-5-4-2-4 2-6 4-4 1-3 6-2 4 1 6 0 10-3 4-3zM-172 -236l4 1 6 5 1 2 1 6-2 4-1 0-2 6-3 3-6-3-1-6 0-14zM-32 -118l10 0 3 6-3 6-4 4-6 4 0 1-6 1-4 0-5-2 0-4 1-6 4-5 4-3 5-2zM258 -115l4-1 6 1 6 7 2 10 0 16-4 5-4 0-6-3-4-8-6-4-1 0-4-6 0-4 2-6 5-4zM-238 45l10 0 4 7-4 5-4 0-6-1-4-4 0-4zM28 164l4-1 9 5 3 4-1 6-5 9-6 0-4-1-3-4-1-4 0-6 1-4zM-22 186l4 0 6-1 4 0 10 2 6 2 3 3 0 6-3 3-6 2-4 2-4 3-2 0-4 4-5 10 0 5 2 5 3 2 10 10 4 8 1 6 2 4-1 6-5 10-1 1-6 1-10-2-4-1-10 0-6-1-13-8-1-6 0-4 3-6 7-3 4-3 6-3 0-1 4-4 1-6-5-10-3-4-2-10 0-6 5-9 0-1 6-4zM22 223l6 2 2 3 1 4-2 6-6 0-4-6 1-4zM62 231l6 0 4 7 2 4 4 4 1 6-1 5-6 1-3-6-1-4-1 0-1-6-5-4-1-6z"/>
<path fill="#e5f015" d="M98 -258l4-2 6 1 4 6 1 0 1 5-1 6-1 0-4 6-7 4-4 4 0 6 1 0 3 4-3 3-10 2-6 2-5 3-5 5 0 1-4 4-1 0-5 4-3-4 2-4 1-5 3-5 0-6-3-10-3-4-1-3-4-3-2-5 5-5 5-1 6 0 4 1 6 0 10-3 4-4 4-3zM-52 -249l4 0 5 1 1 6-6 4-4 1-6-5 3-6zM-122 -228l4 0 6-1 3 1 1 2 14 4 2 0 3 4 2 6 2 4 1 6-3 14 0 6 9 7 11 2 5 0 4-2 4-3 2 0 4-3 5-1 5-3 8-3 2 0 10-3 6 1 4 8 6 2 7-2 3-6-6-6-5-4 0-4 8-6 8 0 3 6 2 6 0 4 1 4 3 6 3 4 2 6 0 4-1 6 2 9 4 2 14 3 2 1 10 10 4 5 0 1 6 4 4 0 7-11 3-9 6-7 1-4 0-4-1-2-6-2-9-6-2-6 2-4 5-5 4-1 5 0 5 2 6 1 6-7 2-6 2-4 0-5-4-5 8-4 1-2 5-5 4-5 10-2 6 0 7 2 3 4 0 2 4 9 6 5 0 4-6-1-4 0-6 4-1 3 1 7 2 3 4 4 4 1 5 0 5 2 4 3 0 16 3 10 9 7 1 3 0 4-1 6-6 2-7-2-7-4-6-1-4-2-6-1-4-2 0-1-6-3-4-6 0-1-5-5-5 3-3 7-3 6-4 4-2 0-4 4-4 6-3 6-5 4-5 6-7 2-6 1-4 0-6-1-7 2-3 2-3 4-1 3-2 1-2 6 0 4 2 6 2 1 4 9 3 4 2 6-4 4 2 6 3 0 4 6 6 3 0 1 9 4 5 3 2-3 3-10 4-4 1-2 6-2 1-2 7-4 5-6 3-4 1-6-7-14 2-6 8-3 4 0 16 3 5 6 1 4-1 6-1 7 1 3 9 3 6 0 3-3 3-6 4-4 8-6 6-4 6-2 4 0 6-1 10 2 0 1 4 4 0 1 5 5 5 0 6 1 6 3 4 3 6 7 1 6-1 4-2 4-1 6 1 6 6 2 4 2 4 0 6 2 6 0 0-2 4-8 2-2 13 0 7 6 2 4 0 6-8 10-8 4-2 3-6 2 0 1-9 4-5 4-10 5-6 0-4-2-5 3 5 5 4 0 9 5 1 3 3-3 3 0 4-5 10-7 6 0 1 2 0 6-1 6-2 4-4 5-4 1-6-1-4-3-6-1-1 3-4 6-5 4-8-4-2-4-1-6 0-6-1-4-2-2-6-2-3-6 2-10 0-6-2-10-7-5-5-5-5-3-4-2-6 0 0 1-6 4-4 6-4 4-4 0-2 1-4 0-6 6-1 9 1 4 0 6-4 7-6 3-2 4 0 6-2 4-1 0-4 6-1 0-4 4-1 0-3 10-1 6 2 10 0 4-1 6-2 4-6 6-4 2-7 8-1 4 1 6 3 5 0 5 4 18 1 2 0 4-1 6-2 4-1 6 0 10 3 6 6-1 5 5 0 4-1 1-2 9-2 4-3 2-3 4-2 10-2 3-6 0-4-4-10-8-6-1-10 0-4-1-4-3-1-6 0-4 2-6 2-4 1-7-1-3-4-6-1 0-4-4-6-3-10-2 0-1-4-1-4-3-5-10-1-3-6-6-2-1-3-6 1 0 1-4 3-6 1-4-5-6-6-1-7 1-7 2-6 0-10-2-4 2-5 4-1 0-4 6-6 6-4 0-11-8-5-3-6-1-7-6-3-4-3-10-1-6-4-5-6-1-4-2-5-6 2-6 3-1 4-3 0-2 2-4-2-5-1-5-2-4 0-10-1-4-6 1-5 13-5 7-4 3-17 0-3-1-20 0 0 1-7 4-2 6 0 4 1 6 2 3 14 7 2 0 4 3 4 1 5 6-5 4-4 4 0 2-2 4-1 6 5 10 4 5 4 9 3 10 1 6-2 4-2 2-4 1-11-2-5 4-1 5-2 5 3 7 7 4 3 1 6 0 4-1 6 1 5 4 1 5 0 4-1 6-5 10-6 4-4 0-8-4-2-2-5-2-5 0-6 2-3 6 0 10-2 6-2 4-2 6 0 14 5 3 4-1 6-6 4-7 9-3 1-1 6-2 10-7 4 0 6 1 4 2 4 1 5 6 1 4-4 7-6 4-4 2-6 2 0 1-5 4-5 10 1 5 0 5-1 2-8-2-6-1-7-3-9-5 0-1-6-4-4-9-4-2-10 0-6-1-3-4-2-4-2-6-7-4-4 0-6-2-7-4-3-4-1 0-5-5-4 5-6 6-4-2-4-4-1-6 5-6 10 0 8-8 4-6 1-4 0-6-1-4 0-6-2-7-3-3-7-1-6 0-4 1 0 1-6 2-2 3-8 4-14-3-6-1-4-4-4-6-2-2-1-4-3-4 0-6 3-9 7-7 4-2 6 0 4 1 5 3 2 4-1 5-1 1 0 4 1 6 4 3 6-2 1-7-1-5-4-5-2-4-1 0 0-6 2-4 4-6 5-1 9-3 8-6 5-4 3-6 1 0 2-4 2-9 6 4 6-5 4-5 4-7 4-4 5-4 3-6 0-4-1-6-1 0-2-10 0-4 2-6 10-8 6-3 3-3 0-6-2-10 0-4-1-6 1-4 0-10 1-6-2-6-6-1-4 2-9 1-7-5 0-1-4-4 0-1-5-5-5-1-6 0-4 2-7 5-9 2-4-2-2 0-4-2-8-8 0-6 1-4 3-4 4-3 6-3 2-6-2-8-6-2-4 4-6 3-4 0-6-2-3-5 3-9 6-4 10 3 0 1 5 4 5 0 4-2 6-2 4 1 10 6 4-2 2-10 3-6 2 0 9-3 6 5 2 4 2 2 6 1 4-3 1-6 5-9 0-1 4-4 0-1 4-5 2-4 0-7-2-3-8-8-3-2-2-6 1-4 6-10 2-7 5-9 1 0 2-4 2-6 2-4 2-6 6-4 0-1 6-3 5-2zM-123 -182l5 1 0-2-4-2zM-70 -158l-8 4-4 4-6 3-4 0-8-5-2-3-6-2-4 1-6 3 0 1-4 3-3 1-5 6-1 4 3 4 3 2 3 0 6 4 4 5 3 5 1 3 10 7 1 0 7 10 2 6-4 2-7 2-6 6-2 4 0 6 2 10-3 2-10 2-4 1-6 3-2 2-2 4 0 6 4 4 0 1 10 3 6-1 4-3 4-4 0-16 6-2 9-2 7-9 1-7-1-4 4-5 20 0 6 2 1 3 4 4 2 6 4 10 3 5 6 2 10 7 4 2 6-1 17-5 6-5 1-2 6-3 4-1 6 0 4-2 3-3 0-10 1-4 0-6-1-4-3-6-5-4-5-8 0-4 2-4 4-5 2-5 0-4-2-10 0-4-1-2-5-3-5-1-9-4-6-3-4-3-10 0-16 3-4 1-6-3-4-1-10 2-6 0-10 2zM36 -62l-1 4 1 6 6 3 9-3 1-5-4-4-6-3-4 0zM-54 -8l-4 2-7 8-1 6 2 4 2 2 2 4 8 7 4 2 6-2 3-7 1-6 4-4 2-6-2-4-4-2-6-4-4-1-4 0zM11 18l-3 4-1 0-5 7-10 6-1 3 1 4 1 0 3 6 4 4 2 1 6-2 4-2 10 0 7-1 3-6 0-4-2-6 0-10-2-8-6-1-10 3zM82 122l0 1 4 5 2 1 4 0 2-1-2-4 0-2-4-2-6 2zM-144 132l1 6 5 1 1-1-1-6-4-2zM182 -181l6 0 3 3 1 5 0 1-4 4-6-5-2-5zM-32 -113l4 3 0 3-4 4-6-1 0-5 5-3zM262 -103l0 2-4-1zM168 21l4 3 4 4 2 1 4 9 6 8 0 2 3 4 5 10 2 3 0 5-1 2-5 5 0 1-10 5-4 3-6 3-5-7-2-4-1-6 2-10 2-4 2-10-2-9-1-1-2-6-2-4 0-6zM-32 122l4-2 11 8 4 4 1 0 2 6-2 1-7-1-8-6-1 0-3-4-2-6zM-78 146l6-3 4 0 6 1 1 4-2 4-5 4-4 0-4-4-2-4zM8 146l5 2-1 1-4 0-1-1zM-22 191l4-1 10 0 6 2 2 0 1 6-3 1-6 4-4 5-5 4-5 8-6 0-1-2-2-10 0-6 3-7 3-3zM-22 240l4-1 6 2 8 11 2 5 1 5-1 7-6 5-4 1-10-2-10 0-6-1-8-4-2-4 0-4 5-8 9-5 2 0 4-4 2-1zM-98 272l6 0 6 6 4 2 3 8 0 4-3 6-6 1-4-1-6 0-7-6-3-7 0-8 9-5z"/>
<path fill="#efc314" d="M102 -254l6 3 1 3-1 5-6 4-10 5 0 2-2 4-1 6-14 10-3 1-2-1 0-6-2-9-2-5 2-6 4-2 6-1 4 0 6-1 5-6 5-4zM-118 -223l1 0 6 5 3 4 6 0 4-1 6 2 3 5 1 6 0 4-3 10 0 6 1 4 2 3 6 3 4 3 3 1 0 6-3 1-4 3 0 1-6 2-4-1-7-6-3-6-3-4-2-6-2-4-3-9-2-1-4-4-4-1-6 0-10-2-5-3 2-10 4-6 9-3 8-1zM128 -224l4-1 6 0 3 3 2 4-1 2 0 4-4 4-2 0-4 5-5-5-3-4-1-6 3-4zM132 -198l1 0 2 6 3 5 1 5 3 2 10 3 6 3 3 6 1 9 1 1 2 10 2 6-5 1-10 0-5-1-5-2-5-4-4-4-2-6-2-4-1-8-6-4-2 2-3 0-5 4-1 0-2 6 1 4 0 6-2 4 0 2-5 4-5 3-4 1-2 4-2 2-2 4-1-4 2-6 2-4 1-7 5-9 3-4 2-6 0-5 5-15 3-4 2-4 6-1 4 1 6-1 1-1zM-152 -186l4 0 6 2 2 2 2 0 5 3 3 1 8 8 1 2 1 6-2 4-1 0-7 6-8 3-4 1 0 6 4 9 6 6 4 2 6 1 6 6 4 7 4 5 4 4 2 5-3 5-5 4-5 6-2 4 1 6-2 5-9 5-10 4-5 5-2 1-4 4-4-1-6-3-4-1-1 1-5 1-4 2-6 1-7-4-3-3-1-3-3-4 0-2-5-4-7 0-4 1-10 8-4 3-6 0-6-2-7-4-1-6 2-4 3-2 5-2 4-4 3-2 1-6 0-4 2-5 5-1 9 8 6 1 5-3 1-6 0-4 1-6 3-5 4-1 2 2 6 10 2 1 6-1 8-6 3-4 0-6 3-9 6-6 3-5 1-3 4-1 1-6-5-1-1-3-5-6-4-4-2-6 0-4 3-6 3-4zM82 -183l6 0 0 1 4 4 2 0-1 6-5 1-6-1-5-6 1 0 3-4zM-38 -178l12 0 8 4 2 2 1 4-3 1-4-3-6-1-4 0-5 1-5 0-6-1 0-2 6-3 4-1zM12 -178l6 2 3 4 0 4-1 6-2 2-6 1-5-3-5-5 1-5 9-6zM38 -143l4 0 6 3 2 2 2 4 5 6 1 2 0 4-6 4-4 4-3 6-2 6-5 2-6-4-3-4-1-4 4-8 3-2 1-6 0-4-1-6 2-4zM-252 -107l4 2 3 3-3 5-5 1-2-2-1-4zM118 -96l4-1 6 1 4 2 2 2 2 4 0 6-1 4 0 6 3 1 4 4 10 3 4 2 6 1 2-1 3-10 3-6 2-2 6-3 4-4 6-1 10 0 6 6 4 5 4 4 6 1 10 0 4 1 5 3 1 6 0 4-1 0-2 6-6 4-7 10-4 0-6-2-10-7-4-1-10 0 0 1-6 2-4 0-3-3-3-1-4 0-6 6 0 1-4 3-5 1-1 1-14 0-6 2-7-3-3 0-11 10 1 4 2 2 11 0 3-1 10 5 4 6 0 24-1 6-3 4-2 0-7 6-2 10 1 4 0 6 1 4 0 10-1 3-3 3-3 1-4 3-2 0-4 2-14 3-6 2-4 3-3 6-2 10-5 4-1 0-5 4-2 6 0 6 2 4 1 0 4 6 1 0 3 4 1 3 6 5 4 0 6-2 2 0 2-3 6-5 4-1 3 3-1 6 0 10-1 4 0 6-1 5 1 5 8 10-3 6-6 7-9-3-5 1-16 0-2-1-3-6 0-4 2-6 2-4 1-5 0-5-2-6-2-2-4-2-6-5-10-3-9-2-4-6-3-4-4-9-2-1-2-6 3-10 2-4-2-6-9-4-5 0-5 0-10 2-6 0-10-2-2 0-2-6 0-10-5-4-10-6-5-1-6 0-3 1 0 6 2 4 1 5 1 0 3 5 2 2 5 2 2 2 3 1 2 3-2 6-6 4-4 0-6-4-4-6-10-3-6-1-4-9-1-1 0-6 5-6 6-2 4-2-4-4 0-1-6 0-4-5 0-1-6-5-1-4-3-4 0-2-2-4-1-4 1-6 2-2 4-1 6 3 6 6 6 4 2 2 6 1 4 0 6-2 4 0 6 3 4 6 1 0 3 6 3 4 3 7 6 3 4 0 6-2 4-2 0-1 6-3 7-2 3 0 6-4 3-6-2-10 0-4 1-6 2-2 4-2 6 0 4 3 4 1 6 6 2 4 4 2 4 0 6-1 5-5-1-2-4-4-6-1-4-5-4-8-4-6-2-1-6 2-4 3-6 0-4-4 0-1-6 0-4 3-7 4-9 3-10 10-4 3-6 1-10-2-10 3-4-4 1-4 3-6 3-4 1-6 0-4-2-6-2-2-6-2-4-4 0-12-4-4-6 4 0 6-4 7-4 3-2 0-4 4-2 0-8 7-6 2-4 3-6 3 0 1-6 4-3 6-1 0-1 4-3 6-6 3-10 2-4 0-2-1-4 0-10-2-4 0-6 3-5 9-2 6 0 10 1 4 6 7 6 2 7 7 1 4 0 6-4 8 0 7 5 5 1 0 2 4 2 6-4 4-8-4-2-3-6 3-4 13-1 1 0 10 5 10-4 7-6 2-1 1-2 6 0 4 3 7 5-1 3-6 2-2 6-2 4 2 10 2 11 0 5 2 2 4 0 4-2 7-6 5-4 1-6-2-4-3-6-1-4 0-6-1-4 0-6 5 0 19-4 11-1 5 0 4-2 6-3 2-4 0-4-2-3-10-4-6-15 0-7-4-3-6-1-4 1-6 6-5 3-5-2-4-3-10 2-10 0-6-10-5-6-1-4 0-6-1-5-3-2-4-2-10-1-2 0-4-1-4 0-6 1-3 6-4 2-3 8-4 7-6 3-2 5-8 5-1 5-3 4-6 1 0 1-4 3-6 6-6 4-5 4-3 2-7-3-13-1-6 1-4 5-6 11-4 1-1 6 0 4-1 3-4-8-10-2-4-2-10 0-10 2-10 3-8 2-2 2-5 4 5 2 0 5 5 5 4 1 0 3 4 6 1 4 0 13-4 3-2 4-4 2-4 1-6 3-5 6-5 4-2 4-13 2-5 4-3 4-1 6 0 10 3 3 7 1 7 1 2 0 5 3 6 2 0 4 2 6 2 6 6 6 4 2 5 6 0 0-5 2-4 2-2 6-2 4-2 6-2 4-2 0-1 6-4 7-1 3 1 1 5 2 4 1 4 6 4 4 0 10-2 6 2 4 2 0 1 10 10 10 5 12 0 4-3 1-3-3-4-3-10 2-6 7-6 6-3 0-1 6-4 4-4 3-6 0-6-3-7-2-3-1-4zM-15 -28l3 4 0-7zM47 -28l-5 1-6 5-1 4 3 4 4 1 6-1 7-4 2-5-9-5zM-129 -18l-2 6 0 4 1 6 2 4 6 0 3-4 2-6 0-4-5-9-6 1zM-192 192l0 5 4 4 6-1 2-2 0-6-2-2-6 0zM282 -44l6 1 0 1 4 4-1 6-3 3-5 2-6-5-1-6 2-4zM242 -34l10 0 6 2 8 4 2 4 0 4-5 8-5 3-6 3-4 1-6-1-4-3-6-3-4-6 0-4 4-7 7-3zM268 11l4 0 0 3-3 4-3 0 0-6zM238 19l2 3-3 0zM178 50l4 0 6 5 1 3 3 4 0 2 2 4-6 8-10 5-6-2-3-7 0-4 1-6 2-5 4-5zM92 105l6-1 4 2 2 2-2 3-10-3zM-272 132l4-3 6 1 2 2 1 6-2 10-1 3-6-1-6-8-1-4 2-6zM-18 196l6 1 0 2-6 7-5 2 0-6 2-4zM-112 225l4-1 6 0 5 4 1 4-3 6-3 2-7 2-10 10-3 7-6 4-5 0-5-2-5-3-1-6 3-4 3-9 8-7 2 0 6-2 4-2 2 0zM-28 247l6-2 4 0 6 4 2 3 3 10-1 6-4 2-6 0-4-1-10 0-7-1-5-6 2-4 5-6 9-4zM-92 281l4 2 4 5-2 4-2 1-4 0-3-1-3-4 0-3 2-3z"/>
<path fill="#ed8b12" d="M78 -230l5 2-5 7-2-1 0-6zM-132 -213l4-2 6 2 0 1-4 4-6 2-3-2 1-4zM-102 -204l4-2 5 4 1 5-6 13-4 0-4-8-1-6 3-4zM-152 -175l4-2 6 0 9 5 1 0 3 4-1 6-2 3-5 1-1 1-4 0-1-1-5-1-5-3-2-6 1-4zM138 -168l4-3 6-1 7 4 3 4 1 6 0 6-1 5-6 2-4-1-4-2-2 0-4-4 0-2-2-4 0-4 1-6zM-148 -131l6-1 4 7 6 5 4 2 0 1 6 4 0 1 4 4 0 2 4 4 1 4-3 6-6 4-10 3-6 5 0 8-1 4-3 4-6 3-4 1-10 0-6 2-4 3-6 1-5-3-2-5 0-10 1-6-1-4 4-6 9-7 2-3 8-5 4-4 2-1 2-4 0-10 3-6zM188 -84l10 3 4 7 6 5 4 3 6 1 4-1 6 1 2 3-2 5-6 3-4 5-6 0-4-2-5-1-1-1-14 0-6-2-4-3-4-4-2-4 0-4 4-8 2 0 4-4 1 0zM-228 -73l5-1 4 2 0 4-3 6-6 2-4-2-2 0-3-6 7-4zM-73 -74l5-3 6 0 4 1 4 4 2 3 0 8-1 3-4 6-1 0-3 4-1 6 7 10 1 4-1 6-3 5-4 3-5 2-9 0-2-1-4 0-4 11-6 5-5 5-1 0-4 4-3 6-7 9-6 1-6 0-4-1-5-5 0-4 4-6 7-2 4-2 0-1 4-5 2-4 1-6 0-4-1-6 1-4 3-3 6-2 4 0 6 1 4 3 6-3 1-6-1-6 0-10 2-4 5-16 2-4zM132 -64l6 0 4 2 6 1 7 3 3 7-1 3-5 4-8 2-7 0-5 1-3-1-1-3-4-3-2-5 2-5 5-4zM12 -48l6-3 4 0 2 3 2 10-1 6-5 4-2 4-2 2 2 1 1 3 6 6-2 10-1 0-4 5-6 3-1 2-6 4-7 6-6 1-4-1 0-1-5-5 0-10 2-4 3-4 4-2 6-2 3-2 1-2 5-3 0-5-6-5-5-11 2-4 4-2 6-2 4-2zM102 -48l6-2 4-2 5 4-2 6-7 6-6 0-2-6 2-6zM-148 -31l6 0 4 3 0 2 2 4 0 14-1 6-5 4-7-4-3-6-1-4 0-6 3-10zM242 -28l10-2 6 2 4 6 0 4-5 6-9 3-7-3-3-6 0-4 4-6zM68 -15l4-2 16 0 10 2 5 3 6 0 3-2 10-3 6 0 4 5 2 4 2 10-2 10-2 2-10 2-4 0-2 2 2 5 2 9 0 6-1 4 0 6 2 10-3 5-9 5-14 4-8 6-5 5-2 5-2 3-2 1-4 4-4 5-2 1-2 10 0 6 1 4 7 10 1 0 2 6-3 2-10-2-4-2-6-2-7-6-5-10-1-6 3-10 2-4 0-6-6-4-10-3-6-1-4 0-16 3-4-2-3-3 0-4 2-6 1 0 4-4 2 0 8-4 6-3 4-4 6-2 10-6 4-7 0-11 6 1 2 6 8 6 4 0 6-1 4-2 10-3 0-1 6-3 2-2 2-5 0-5-4-3-6-2-4-2-7-7-3-10-1 0-2-10zM-162 25l4 0 3 3 0 4-3 8 0 2-2 6-2 4 0 4-6-7-2-11 0-6 2-4 1 0zM-68 29l6 0 3 3 1 4 2 2-2 3-4-2-6-6 0-1zM-168 62l1 0 4 6 1 0 4 4 6 1 10 7 1 2 0 6-7 9-2 5-2 10-1 0 0 6-3 10-2 4-2 6-2 4-1 0-4 6 0 9-2 11 0 4 1 6-4 4-6-2-3-2-3-6 1-4 0-6-1-4-4-4-4-2-20 0-6-1-4 0-6-2-1-1-3-9-1-1-1-5 2-9 0-2 4-4 0-1 6-3 4-3 6-3 4-7 10-7 6-5 4-10 4-7 5-4 1-2 10-3zM178 60l4 0 3 2 3 6-4 4-2 1-4 0-3-5 1-6zM98 146l4-1 6 4 0 13-1 0-1 6 0 4-2 6-2 0-4 4-6 3-4 0-6-2 0-8 1-3 3-4 1-6 2-10 3-4 1 0zM-138 177l10 2 6-1 4 1 2 3-2 3-5 3-9-5-6-2-2-3zM-172 202l4-1 2 1 1 6-1 4-2 3-4 2-6-4 1-5 4-6zM-198 208l4 4-4 1-1-1zM-127 237l5-1 5 2-1 4-4 8-6 2-5-4 0-6 4-4zM-28 251l6-1 5 2 3 6-1 4-3 2-4 1-10 0-6-2-1-1 2-4 7-6z"/>
<path fill="#ec5211" d="M148 -165l4 3 2 4-1 6-6 1-2-1-3-5 0-5 1 0zM-142 -121l7 9 8 10 2 4-9 6-4 1-3 3-3 6 0 4-1 6-7 5-10 0-10 2-3-3-1-4 1-6 0-4 3-6 4-4 0-1 5-5 10-4 6-6 2-10zM188 -80l6 2 5 5 3 8 2 2-2 3-10 2-10-3-4-7 1-4 4-6zM-68 -71l6-1 4 4 1 0 0 5-5 7-6 2-3-4-1-4 2-6zM138 -58l5 0 5 3 1 3-1 2-6 3-10 0-1-5 1-5 1-1zM-68 -26l6 2 0 2-6 0zM248 -24l4-1 4 3 0 4-4 3-4 1-4-4 1-4zM-98 -18l1 0 2 6 0 4-2 6-5 2-2-2-1-6 3-9 2-1zM78 -13l4 0 10 2 6 3 4 6 1 4-1 6-4 4-6 1-4 0-6-2-5-3-5-10 0-7 5-3zM12 -8l2 0-1 6-5 4 0 1-5 5-1 0-4 4-6 1-2-5 2-6 8-4 2-2 6-2 3-2zM118 -8l4-3 6 4 0 7-6 3-4-2-3-3 2-6zM102 26l6-1 5 7-1 6-2 4-1 6 0 4-1 6-4 4-9 6-3 1-4 4-6 4 0 1-4 4 0 2-5 5-5 3 0 1-6 3-3 6 0 20-1 6-6 1-4-4-2-3-2-10 6-10 2-4-1-6-4-4-9-4-6-1-14-4-10 2-6-1 0-4 5-4 5-1 6-4 5-5 7-4 2-2 6-2 1-2 3-2 6-2 10 2 4 0 7-2 3-2 6-2 2-2 2 0 6-2 4-2 0-1 5-4 4-5zM-178 72l6-1 3 1 1 2 5 4 11 2 2 2 1 6-3 7-2 3-1 4 0 6-2 10-2 4-1 6-2 4-1 0-6 6-3 2-6 3-4 3-6 1-4-1-6 1-20 0-4-1-6-6-1-8 1-5 4-5 6-3 7-1 3-2 7-14 5-4 4-4 4-6 5-11 1 0 4-5z"/></g>
</g></g>
</g>
<g>
<circle cx="494.9" cy="327.9" r="48.7" fill="url(#rg)"/>
<path d="M488.5 290.7L489.6 289.1L490.8 287.6L492.1 286.3L493.4 285.1L494.9 284.1L496.4 283.4L498.0 282.9L499.6 282.7L501.1 282.7L502.7 283.0L504.3 283.4L505.9 283.9L507.4 284.4L508.9 285.1L510.4 285.9L511.7 286.7L513.1 287.7L514.4 288.7L515.6 289.7L516.7 290.9L517.8 292.1L518.7 293.3L519.6 294.6L520.5 296.0L521.2 297.4L521.8 298.8L522.4 300.3L522.9 301.7L523.2 303.3Z" fill="#646464" fill-opacity="0.24" stroke="#464646" stroke-opacity="0.55" stroke-width="0.7" stroke-linejoin="round"/>
<path d="M523.2 303.3L525.0 303.4L526.9 303.7L528.7 304.2L530.4 304.8L532.0 305.6L533.4 306.5L534.7 307.6L535.6 308.9L536.3 310.3L536.9 311.8L537.4 313.4L537.7 315.0L538.0 316.6L538.2 318.2L538.2 319.8L538.2 321.5L538.1 323.1L537.8 324.7L537.5 326.3L537.1 327.8L536.6 329.3L536.0 330.8L535.3 332.2L534.5 333.6L533.7 335.0L532.8 336.2L531.8 337.4L530.8 338.6L529.6 339.6Z" fill="#646464" fill-opacity="0.24" stroke="#464646" stroke-opacity="0.55" stroke-width="0.7" stroke-linejoin="round"/>
<path d="M529.6 339.6L530.4 341.3L531.0 343.1L531.6 344.9L531.9 346.7L532.0 348.4L531.9 350.1L531.6 351.7L531.0 353.2L530.1 354.5L529.1 355.8L527.9 357.0L526.8 358.1L525.5 359.1L524.2 360.1L522.8 360.9L521.4 361.7L519.9 362.4L518.4 363.0L516.8 363.5L515.3 363.9L513.7 364.3L512.1 364.5L510.6 364.6L509.0 364.6L507.4 364.6L505.8 364.4L504.3 364.2L502.8 363.9L501.3 363.3Z" fill="#646464" fill-opacity="0.24" stroke="#464646" stroke-opacity="0.55" stroke-width="0.7" stroke-linejoin="round"/>
<path d="M501.3 363.3L500.2 364.9L499.0 366.4L497.7 367.7L496.4 368.9L494.9 369.9L493.4 370.6L491.8 371.1L490.2 371.3L488.7 371.3L487.1 371.0L485.5 370.6L483.9 370.1L482.4 369.6L480.9 368.9L479.4 368.1L478.1 367.3L476.7 366.3L475.4 365.3L474.2 364.3L473.1 363.1L472.0 361.9L471.1 360.7L470.2 359.4L469.3 358.0L468.6 356.6L468.0 355.2L467.4 353.7L466.9 352.3L466.6 350.7Z" fill="#646464" fill-opacity="0.24" stroke="#464646" stroke-opacity="0.55" stroke-width="0.7" stroke-linejoin="round"/>
<path d="M466.6 350.7L464.8 350.6L462.9 350.3L461.1 349.8L459.4 349.2L457.8 348.4L456.4 347.5L455.1 346.4L454.2 345.1L453.5 343.7L452.9 342.2L452.4 340.6L452.1 339.0L451.8 337.4L451.6 335.8L451.6 334.2L451.6 332.5L451.7 330.9L452.0 329.3L452.3 327.7L452.7 326.2L453.2 324.7L453.8 323.2L454.5 321.8L455.3 320.4L456.1 319.0L457.0 317.8L458.0 316.6L459.0 315.4L460.2 314.4Z" fill="#646464" fill-opacity="0.24" stroke="#464646" stroke-opacity="0.55" stroke-width="0.7" stroke-linejoin="round"/>
<path d="M460.2 314.4L459.4 312.7L458.8 310.9L458.2 309.1L457.9 307.3L457.8 305.6L457.9 303.9L458.2 302.3L458.8 300.8L459.7 299.5L460.7 298.2L461.9 297.0L463.0 295.9L464.3 294.9L465.6 293.9L467.0 293.1L468.4 292.3L469.9 291.6L471.4 291.0L473.0 290.5L474.5 290.1L476.1 289.7L477.7 289.5L479.2 289.4L480.8 289.4L482.4 289.4L484.0 289.6L485.5 289.8L487.0 290.1L488.5 290.7Z" fill="#646464" fill-opacity="0.24" stroke="#464646" stroke-opacity="0.55" stroke-width="0.7" stroke-linejoin="round"/>
<circle cx="494.9" cy="327" r="37.4" fill="#544840"/>
<circle cx="494.9" cy="327" r="36.3" fill="#12b8f6"/>
<g clip-path="url(#c23)"><g filter="url(#soft)">
<g transform="translate(495 327.7) scale(0.1)"><path fill="#15e5f0" d="M-162 -388l260 0 0 7-1 3 0 6 1 0 2 4 2 2 7 4 9 2 4 0 6-1 4-6 6-3 4 0 6 2 10 10 4 6 10 10 6 3 11-3 3-3 6-2 4-1 4 0 6 2 10 2 6 2 5 4 5 5 0 1 4 2 6 1 4 0 10-2 10 0 8 3 8 8 3 8 1 4-1 6 0 4-3 10 4 6 6 0 10 3 4 3 10 2 6 0 5 2 5 1 5 3 5 5 0 1 4 4 0 1 6 8 4 15 6 9 3 7 3 10 1 6-1 4 1 6 5 10 8 3 0 274-6-1-4 0-10-2-6 0-4 6 3 4 3 10-1 6-1 0-1 4-4 6-5 4 0 11 3 9 0 10-2 10-1 6-4 9-6 5-1 0-3 6 0 11-6 4-4 0-2-1-4-4-4-5-2-1-4 0-4-1-16 0-5 1-5 3-4 7-1 0-3 16-3 10-3 5-4 5-2 1-2 9-2 5-5 5-5 3-6 3-4 4-1 0-3 4-2 4 0 2-2 4-1 6 0 4-1 6-6 7-4 3-9 4-1 2-8 4-8 0-4-2-6-1-4 7-1 6-5 9-5 11-5 4-4 4-4 2-2 0-4 2-6 5-5 13-221 0-4-3-4 3-17 0-1-6-2-4-1-6-2-4-2-10-1-6-4-4-10-3-6-3-4-4-1 0-5-5 0-1-10-2-10 2-14 0-6-1-4 0-14-3-6-4-7-6-5-6-4-1-4-2-6-1-11-10-3-4-3-2-13-2-5-2-7-6-8-3-5-1-5-3-6-7-1-6 2-10 0-4-1-6-4-4-4-7-6-6-2-3-6-4-6-6-6-5-4-6-6-5-2-4-5-4-7-10-2 0-7-6-11-3-6 0 0-106 9-5 3-6 0-4-1-6-5-4 0-1-6 0 0-221 6-1 0-3-6-1 0-42 6 0 10 2 7-3 3-2 4-4 10-3 6 1 4 2 6 1 4 0 2-5-1-6-1 0-2-4-2-6 0-10 4-7 4-3 2 0 4-3 5-1 5-2 10 0 6 1 6 1 4-2 2-4 6-4 2-2 8-4 6 0 0 1 6 8 0 1 4 6 6 4 4 1 6-5 1-6 0-4-1-7-2-3-2-6 0-4 1-6 7-6 6-2 7-6 2-6 1 0 4-8 10-5 6-1 4 0 0-1 6-1 4-4 6-5 4-10 1-5 0-10zM327 -202l-5 5-1 5 0 4 2 6 9 3 6 0 4-1 4-2 2-4 1-6-3-6-4-5-4-4-6 0-4 4zM-271 -182l0 4 3 4 6 2 5-1 2-5-1-4-2-2-4-2-6 1zM167 308l-1 4 2 3 4 3 6 1 1-1 2-6-3-5-6-1-4 1z"/>
<path fill="#14efc3" d="M-152 -388l245 0-2 10 0 6 2 4 5 5 0 1 4 2 9 2 1 1 6 1 4 2 5 1 11 0 5-1 2 2 3 1 4 5 4 4 5 4 4 6 3 2 4 8 6 6 4 1 6-2 4-11 4-4 6-4 6 0 10 2 4 2 6 1 7 3 7 4 6 1 14 3 6 2 11 10 1 6-3 14 1 6 4 6 5 4 1 0 4 4 0 1 6 3 4 1 16 0 0 1 4 0 8 4 2 4 10 12 4 4 2 4 0 2 4 9 6 6 1 5 0 4-1 3-6 0-4-5-6-5-4-2-6 2-4 3-6 7-1 3-3 4 0 2-2 4 0 4 1 6 1 0 4 5 6 3 4 1 6 0 10-3 4-4 3-2 3-4 4-1 3 5 4 4 4 6 7 4 5 6-3 4-6 10-3 6-1 0-4 6-5 4-1 0-4-6-10-10-6-2-4-2-1 0-4 4 2 6 7 6 6 3 0 1 4 4 2 0 4 3 4 7 0 2 3 4 2 4 1 0 4 8 6 5 2 3 8 5 0 167-9-2-1-1-6-1-10 0-10 3-2 3-3 10-3 16-5 10-3 4-1 6 1 4 0 10-2 6-2 0-4 2-10 2-2 0-4 5 3 5 2 6 1 0 1 4 0 6-3 4-6 6-8 3-4 1-8 0-2 1-6 1-5 4-5 7 0 3-2 4-2 10-1 0-2 6-10 10-3 4-1 6-2 4-1 4-6 5-3 1-1 2-6 2-4 5-2 1-4 5 0 1-4 4-3 6-1 4-2 4 0 2-4 2-6 2-4 0-16-3-4 1-6 0-8 2-6 6 0 4 2 6 3 4 2 6-3 4-4 8-11 8-5 2-3 2-1 5-1 1 0 10-3 10-2 4-1 6-209 0 0-6-1-4-3-3-6 1-4 0-6-1-3-3-2-4-2-6 0-10 1-4-1-6-6-4-1-2-5-2-9-2-2 0-9-4-5-4-10-3-6-1-5-2-4-6-1-4-4-3-6 7-4 4-6 1-10 0-4-1-7-3-3-4-2-1-4-5 0-1-4-3-11-6 0-1-5-4-4-5-10-3-10 0-6-2-4-5-6-3-10-2-5-6 0-10 1-4 0-13-1-3-5-4-8-6-2 0-4-4 0-1-6-4-3-5-2-6-2-4-2-6-5-3-6-2-11-9-4-6-5-4-4-6-10-10-6-4-4-2-6-1 0-78 6-2 4-4 4-3 2-6 0-7-1-3-5-6-10-2 0-204 6-1 10 0 6-1 4-5 1-5 0-6-1-4 0-6 2-4 0-10 3-6 3-4 6-4 10 0 10 2 6 0 5 2 5-2 7-8 3-6 3-4 3-6 4-3 5-2 3 5-2 6 1 4 3 2 4 1 6-1 1-2 0-10 3-4 1 0 5-5 0-1 4-4 2 0 4-4 4-1 10 0 1-1 5-1 4-5 4-4 2-4 2-6 0-14 2-6 6-5 4-5 4-4 4-6 2-2 5-2 0-1 11-2 10-6 4-4 10-7 0-2 2-4 1-4 0-10-1-6 0-10zM-274 -188l-4 4-3 6 3 6 6 4 4 3 6 1 4-1 6-4 2-3 1-6-3-9-6-4-4 0-6 1-4 2zM325 -118l-1 6 4 3 4-1 2-2-3-6-3-2zM337 -38l-5 5-2 5 2 4 6 2 4-2 3-4 0-4-3-5-4-1zM317 -18l1 2 0-3zM344 58l-2 2 0 5 6 2 3-5 1-4-4-4zM299 118l-4 4 1 6 6 7 6-5 1-2 0-6-1-5-6-1zM388 -124l0 8-2-2 0-4z"/>
<path fill="#12ed8b" d="M-128 -388l21 0 5 2 1-2 189 0 0 6-2 10 5 10 7 5 10 2 7 3 3 0 4 2 7 2 3 2 6 1 4 3 6 2 3 2 1 2 4 4 5 4 3 6 4 5 2 5 2 2 6 3 14 0 6-2 3-3 0-10 1-3 3-3 11 0 2 1 4 0 6 1 9 4 11 4 10 9 0 1 4 6 5 4 1 0 0 6 2 10 4 5 4 3 4 5 2 1 4 4 4 5 6 2 4 2 6 0 10 2 7 5 7 10 0 2 2 4 0 4-3 6-5 4-3 6-1 0-5 10-5 7-2 7-1 6 3 6 5 4 7 4 2 6 0 4-1 6 1 4 0 6 1 4-1 6-4 4-4 6-2 4 0 6 2 5 4 6 6 3 10 2 5-2 4-4 3-6 2-1 5 1 3 6 2 7 2 3 4 3 4 1 0 1 6 2 4 5 3 2 1 6-4 7-3 7 0 6 3 2 6 2 0 22-6 0-7 4-3 5 2 5 6 4 2 3 6 4 0 34-6 4 0 1-4 4 0 2-3 4-2 4 6 6 9 0 0 12-7-2-3-3-6-3-4-4-2-6-4-1-4-5-6-6-3-2-1-4-6 2 0 2-3 4-2 10-2 6-3 6-2 8 3 6 5 4 2 6 0 4-2 9-4 7-6 4 0 1-6 3-4-1-2-3-8-5-2 1-4 0-4 4-2 0-6 6-1 4 1 6 2 5 3 5 4 4 3 6 2 10 4 9 1 5-1 6-5 5-5 2-6 1-10 0-5 2-6 4-3 6-2 10-4 9 0 1-4 4 0 1-6 2-4-4-2-3-4-4-1-2-7-4-6-6-6 0 0 1 4 5 2 1 2 3 2 6 4 4 4 6 2 4 0 10-1 6-3 5-10 3-6 1-3 5-1 5-6 7-4 4-6 4-4 5-10 3-6 1-4 2-6 2-6 3-4 1-4 3-3 0-3 3-4 0-6-3-4-4 0-1-6-1-1 6 0 6-1 4 1 6 1 1 6 0 5-1 5-2 4 3 2 3 0 6-6 8-2 2-4 1-4 3-3 0-3 2-2 4-1 4 2 10 0 6-2 4-1 8-1 2-1 6-201 0 1-6-3-10-5-2-6 0-6-2-3-6-1 0 0-10 2-4 0-6-6-8-9-6-1-2-10-3-6-3-11-2-9-2-10-6-4-10-6-3-4-1-6 1-4 2-10 8-6 1-4-2-4-4-2-1-6-9-4-3-6-7-8-4-6-1-4-2-6-1-4-2-6-1-5-3-3-6-6-5-6-1-4 0-3-4-2-10 0-10-1-4-4-6-6-4-1 0-3-5-2-1-4-4-6-10-3-6-1 0-4-6-5-4-10-4-5-6-6-6-4-5-6-4-4-5-6-5-4-4-11-5-5-1 0-65 7-4 11-10 2-6 0-4-2-10-2-4-2-2-14 0 0-193 6 0 4-1 4 0 6-2 6-3 0-1 4-4 3-6 3-4 4-9 1-1 1-6 0-4-1-6 5-6 4-2 6 0 9 4 5 1 6-1 4-4 6-3 4-3 10-2 6 0 4-1 20 0 3-3-1-4-2-3-1-7 1-6 10-8 4-2 6-1 6-3 6-6 4-2 4-5 6-1 3-6 0-20 3-6 4-4 5-6 9-3 6 0 5-1 5-9 0-1 5-6 5-3 3-1 1-2 7-4 3-7 4-7 2-2 10-5 3-13 0-6zM-78 -358l0 2 6 0 0-3-6 1zM20 -332l-4 4 2 1 4-1 6-4 0-1-6 0zM-164 -312l-1 4 2 6 1 0 4 4 6 0 4-4-2-6-2-2-6-3-4-1zM-216 -242l-2 5 10 5 6-2 2-4-2-5-6-2-4 1zM-255 -222l3 5 4 0 1-1 0-4-5-3zM-273 -192l-5 2-3 2-4 6-2 4 0 6 5 6 4 4 6 2 4 2 0 1 6 0 10-5 7-10 1-6 0-4-2-6-6-9-6 0-10 2-4 2zM332 -48l-4 8-6 7 0 1-4 2-6 2-4 6-1 4 1 2 0 4 4 7 6 0 4-3 8-4 2-2 6 0 10-3 0-1 6-4 1-6 0-10 2-10-9-3-6 0-10 3zM-334 132l0 6 2 5 4 6 6 0 1-1 0-6-2-4-7-6-2 0zM-301 192l-3 6 1 4 5 3 6 0 4-2 3-5-2-6-5-1-6 0zM157 268l-3 4 4 5 0 1 14 3 10 0 6-3 0-6-10-3-5-1-5-2-6 0-4 1zM318 127l4-1 2 6-2 6-5 0-1-6 1-4z"/>
<path fill="#11ec52" d="M-118 -386l4 4 2 0 4 3 6 0 5-3 3-6 178 0-1 6-1 4 0 9 4 7 4 4 2 4 4 2 12 2 9 2 11 4 4 2 6 2 4 2 0 1 6 3 4 5 2 1 4 5 3 5 3 6 4 5 4 3 4 2 25 0 2-1 4-5 1 0 3-10 1-2 5-2 0-1 5 0 1 1 5 0 13 4 7 5 0 1 4 4 0 3 4 7-1 6 2 10 1 0 4 6 4 4 12 5 5 5 9 7 10 5 9 2 1 1 6 2 6 7 2 6 0 4-2 6-2 1-3 9-3 4-3 6-1 0-4 6-4 4-6 3-7 1-3 2-6 2-4-4-1 0 0 6 5 2 6 5 2 3 7 4 5 1 6 0 4 2 6 4 2 9 0 4 1 6-3 10-3 4-2 7-2 3 0 6 1 5 5 9 0 10-1 6 0 10 2 10 0 4 2 6-2 10-6 3-4-1-6 0-1 2 0 6 1 4 0 11 1 5 0 4 1 6 4 5 4 0 6-1 9-4 5-3 6 0 6-3 4-1 4-2 6-1 4 1 5 3 3 10-3 6-12 4-7 5 0 1-6 5-5 5-9 4-6 0-4 6 10 3 3 7 0 4-1 6-2 4-1 0-3 6-1 4 2 6 7 10 1 4-2 6-3 4-6 2-5-1-9-3-6 2-6 6-4 2-4 1-6 0-4-1-2 2 2 4 0 2 4 4 0 2 6 8 2 6 4 10 2 4 1 6 1 0 3 14-4 6-5 1-10 0-9 3-7 6-4 5-2 9-2 7-6 1-4-2 0-1-6-3-4-5-10-7-8 0-8 5-1 5 1 6 10 8 7 6 2 6 0 10-3 6-5 4-1 0-4 4-1 0-5 9-3 7-1 1-6 2-4-3 0-1-6-3-14 0-16-3-5 1-5 3-4 7-1 0-1 6 2 2 10 2 10 5 0 2-2 3-4 3-5 3-5 1-4-2-3-5-2-8-5-1-10 2-6 3-1 4 1 9 1 1 0 10-1 1-1 5-3 4-1 0-7 6-6 4-2 3 0 11 1 2 4 4 1 2 4 2 6-1 4 3 1 4-1 6-3 4 0 6 1 4 0 6-192 0 0-16-6-5-10-3-3-6 0-6 1-4 0-6-2-6-4-4-6-4 0-2-3-4-6-10-3-4-2-6-5-10-1-1-6-1-4 2-3 10-3 6-4 2-6-1-2-1-8-11-4-4-6-1-16 0-8 4-6 1-4-2-6-4-7-9-7-8-6-1-4 0-2-1-4 0-4-2-6-1-4-3-6-3 0-1-4-4-1 0-4-6-5-3-5-1-4-6 0-4 1-6 0-4-1-6-3-4-1-6 3-5 4-5 6-3 14 0 2-1-3-6-6 0-3 2-4 1-3-3-3 0-4-3-10-3-10 0-6 1-4 0-7-5-3-3-3-1-7-9-2-1-2-6-9-4-7-4-2-2-4-2-7-8-6-4-1-2-10-6-5-2 0-10-1-2 0-36 6-5 1-3 6-4 7-7 4-3 1-6 0-14-2-6-3-3-4-2-16 3 0-119 6-3 2-6-2-4-6-1 0-52 10 0 6 1 10-5 4-5 6-6 3-2 1-2 6 0 4 3 6-1 2-6-2-9-2-5 2-4 0-2 4-2 6-1 4-2 6-2 10-6 4-1 0-1 16-3 4-2 13 0 3 3 2 7-3 6-5 2-4 3-6 2-10 7-4 9-1 1 2 10 3 7 10 5 10 3 6 0 4-1 6-3 0-1 4-4 1 0 5-7 3-9 0-14-3-10 2-10 2-6 6-6 4-3 10 0 6 1 10 0 4-2 6-5 0-11-7-8-2-6 0-14-1-6 0-10 4-13 2-1 4-5 0-1 4-3 6-1 4 0 6 2 4 8 6 6 4 2 6 0 4-1 5-3 3-4-3-6-5-4-4-4-12-6-2-6 1-4 3-3 5-3 5 0 10-3 2-1 5-10 3-4 0-2 4-4 0-2 3-4 3-7 0-3 2-4zM-80 -368l-5 6-2 5 1 5 4 5 4 1 10-2 6-2 10 0 5-2 3-10-4-5-4-1-6 0-10-2-4 0-6 1zM16 -338l-7 6-3 4 1 6 4 4 1 2 6-1 0-1 14-7 6-3 0-5-4-5-2 0-4-2-6 0-4 2zM-13 -282l3 4 2 1 6-2 2-3-2-3-6 0-4 2zM263 -238l-2 6 1 4 0 6 6 8 5 2 1-6-3-10-2-4-1-6zM262 62l-2 6 2 1 6 1 4 0 6-1 4-7-4-2-6 0-10 2zM-343 122l-1 6 3 10 3 7 2 3 1 4 3 4 4 1 6-1 4-2 2-2 1-4-1-6-3-4-3-6-10-7-6-2 0-1-4 0zM-221 248l-2 4 1 6 4 6 6 1 4-4 1-3-2-10-3-4-6 1zM-218 -266l5 4 0 4-4 6-5 1-3-1 0-6 3-4zM372 17l6-1 4 2 0 4 1 1-5 4 0 1-6 3-3-3 1-6 2-4z"/>
<path fill="#0feb1a" d="M-88 -388l60 0 5 1 5-1 98 0-2 10-1 0 0 6 1 4 4 7 6 7 4 6 6 3 10 2 4 0 16 3 4 2 2 0 4 2 5 4 6 4 7 10 2 4 0 2 4 9 6 3 10 2 10 0 4 1 6 0 10-3 4-8 6-9 0-1 4-1 6 0 6 1 4 2 5 4 5 5 2 9-2 6 4 13 6 8 4 9 0 1 5 3-1 6-4 1-1 3-4 6-2 4-2 6 0 4 1 6 4 9 3 5 3 10 1 6 0 4 4 10 3 4 13 6 9 6 8 2 6 1 2 1 4 6 1 4 0 6-4 10-2 4-1 4-16 0-3 6 3 3 10 0 6 6 3 11 1 6-4 18-1 2-4 4-1 2-4 0-6-1-10 0-4 1-5 4-1 0-2 4-3 10 0 6 5 6 6 1 10-2 7 9 1 6 2 5 0 5 1 4 0 10 3 10 6 3 2-3 2 0 6-3 4-1 0-1 6 0 4 1 3 4-1 6-2 2-4 2 0 1-6 1-4 0-6-1-4 4-1 5 0 10-1 6-4 3-4 1-12 0-4 1-4 0-6 1-4 0-6 2-12 6-3 6 0 4 6 5 5 2 4 3 0 8 3 8 2 10 1 0 3 10 5 4 4 6 4 5 3 9 1 1 2 9 0 6 1 4-1 6-2 3-5 2-5 1-6 3 0 1-4 3-3 1-7 6-6 4-4 2-6-1 0-1-4-2-10-3-2 1-4 0-10 3-2 1-4 6-1 4 0 6 6 10 1 1 9 3 4 6 0 4-1 6-6 8-7 6-3 5-6 2-4-1-6 0-10 2-10 0-4-2-5 0-1-1-4 0-1 1-5 1-4 5-8 8-2 4-4 2-2 0-4 2-6 1-2 1-5 6-2 4 0 6 1 4 0 6-4 10-8 7-4 7-1 6 0 4 1 1 1 5 2 4 2 6 3 4 3 6 3 10 0 4 1 0 0 6-182 0 0-10-1-6-2-5-7-5-4-4-2-6 0-10-1-4-2-4 0-2-6-4-3-6-1 0-1-4-3-7-6-5-4-8-3-10-1-6-2-2-4 0-9 2-7 5 0 1-4 4 0 1-6 3-2-4-8-3-4-1-14 0-2-1-10 0 0 1-10 2-5-2-5-5-3-5 2-6 7-4 3-6-3-9-4-11-2-2-4-2-6 0-8 4-5 6 0 4 1 6 0 4-2 4-6 1-10-3-1-2-7-4-2-2-4-7-2-1-4-4-3-6-1-6 0-5-3-9-1-6 4-4 4-1 5 0 5 1 10 3 6-1 4-2-4-6-4-4-2-3 0-3-4-4 0-1-6-1-4 0-6 1-20-4-10-2-10 0-7-3-5-6-2-4 0-2 2-4 6-4 2-2 1-4 0-4-1-5-7-11-3-4-1 0-5-4-1-2-3-2-6-2-4-2-6 0-2 2-2 4 0 6 3 10 3 4-2 5-4-2-6-2-4-7-3-4-6-4-1-2-4-4-2-1-4-9 0-1-6-4 0-21 6-3 4-7 3-4 7-5 6-3 4-1 6 0 4-1 5-5 1-8-1-1-2-6-5-4-9-10-3-4-4-2-9 0-7 3-6 2 0-110 6-3 4-5 3-1 4-6 2-4 1-5 2-5-2-4 0-2-4-4 0-1-6-2-2 3-2 7-2 3-4 1 0-40 6 1 6 3 4 1 4 0 6-3 4-3 0-1 6-4 0-1 4-3 6 0 4 3 6 0 4-7 3-7 1-6-1-4 0-6 3-5 7-5 3 0 4-3 10-5 16-3 4-1 6 1-1 2-5 4 0 1-10 6-7 8-3 6 0 8 2 6 1 6 3 4 4 4 6 1 0 1 4 0 10 2 6 0 8-2 2-1 10-10 3-5 2-4 2-6 3-6 3-4 15-4 2-3 0-8-5-5-11 2-4-2 0-4 4-5 0-1 6-1 10 0 10-2 10 0 2-1 3-6 3-10 6-7 6-4 1-3-1-7-4-3-2-3-4-2-6 0 0-1-4-4-3-10 0-6 3-5 2-5 4-4 4-3 4-1 5 4 1 0 4 8 2 2 4 1 14 0 6-2 4-3 10-5 5-1 9-5 3-5-1-6-6-1-4 0-10 5-6 1-4-2-10-7 0-3-3-3 3-1 4 0 8-3 8-11 1-5 3-7 6-8 3-5 1-3 6-2 4 0 2 1 4 0 4 1 3-1 3-3 0-3 2-4 0-6zM-74 -378l-4 1-9 5-5 1-2 3-1 6 0 4 2 6 5 7 4 3 6 1 7-1 3-2 20 0 6-2 2-6 2-9 1-1 0-6-5-4-6-1-4 0-6-1-9-4-5 0zM17 -342l-5 2-3 2-1 2-6 5-1 3 1 7 5 9 2 4 0 6-2 4-5 5-4 1-20 0-2 4 1 6 1 0 4 7 3 3 7 2 6-1 2-1 2-3 5-4 5-3 10-2 6-2 4-6-1-6-7-4-2-2-1-4 1-5 5-5 5-2 9-2 1-2 5-4-2-4-5-6-8-5-4-1-6 0-4 1zM-35 -298l4 6 7 0-4-2-2-4-2-1zM87 -292l-1 4 2 2 4 2 3-4-3-7-4-2zM87 -262l-6 4-1 6 2 4 6-1 7-9 0-4-3-3-4 2zM-332 -147l-1 5 0 4 1 6 4 6 6 0 2-2 2-4 1 0 0-6-2-4-3-4-6-3zM81 -118l-3 2-3 4-1 4 1 6 3 4 4 3 6 2 0 1 10 7 4 0 3-3 3-5 4-9 0-6-4-9-6-4-4 0-16 3zM265 -98l-2 6 2 4 3 4 0 2 4 4 0 2 6 2 4-1 3-3 2-4-1-6-6-10-2-2-6-1-4 2zM-338 -82l3 4 3 2 4 1 2-3-2-5-4-3-6 2zM-83 -68l0 6 6 0 0-6-5-1zM126 -58l2 3 4 2 4-5-4-2-4 0zM-200 -32l0 4 2 2 6-1 2-5-2-3-6-1zM130 -22l3 0-1-2zM-347 -8l0 6 15 3 3-3-1-6-2-3-6-1-4 3zM-264 8l-1 4 0 10 2 6 1 0 4-4 3-6 0-6-1-4-2-2-4 0zM272 -258l6 0 4 2 6 2 1 2 9 4 2 0 2 2 10 6 4 2 2 2 1 4 0 4-1 6-2 4-1 6-7 10-6 3-10 2-4 0-6-6 0-25-4-14-3-6-3-4-1 0 0-6zM298 61l4-2 6 5 1 4 5 10 4 2 5 8 0 4-5 3-8-3-4 0-4 2-2 4-7 6-5 1-6-4-2-3-1-6 0-10 3-5 6-3 5-6 4-6z"/>
<path fill="#3ceb10" d="M-78 -388l4 0-3 1-3-1zM-68 -388l38 0-2 9-10 3-10-2-6-2-4-2 0-1-6-4-4-1zM12 -385l2-3 61 0-1 6-2 4-1 6 1 6 3 4 3 1 9 13 5 10 3 6 3 4 4-2 11-2 5-3 4-1 6 0 9 4 7 4 4 5 4 11 2 10 8 6 6 2 20 0 8 2 12 0 5-6 3-10 6-8 6-1 4 1 7 4 4 4 3 6-3 9 0 5 3 6 3 4 3 6 3 4 3 10-2 10-5 10-2 6 0 4 2 10 0 6 1 7 6 8 1 5 2 4 1 8 3 8 1 4-6 6-2 0-6 5-1 5 1 6 5 4 7 0 4-3 2-8 0-5-2-4 4-2 6 1 4 3 4 2 2 2 5 2 3 2 2 0 6 4 1 6 0 4-4 6-3 0-6 2-5 2-5 4-2 6 0 6-2 4-6 1-4 2-10 4-8 3 1 6 1 0 6 4 4 9 1 1 2 10-2 10-1 2 0 4-1 4 0 6 3 4 6 6 2 1 15 3 4 6 1 4 1 0 1 6 0 4 1 6 0 4-1 6 0 10 4 5 3 9 0 6-3 5-6 2-4 2-6 1-10 0-13 4-10 6-1 0-4 4-3 6 0 4 1 8 6 5 6 7 3 6 1 0 2 4 2 7 5 9 1 0 7 10 3 2 4 8 2 10-2 7 0 3-4 8-10 9-6 4-7 3-3 2-4 1-6-1-4-2-6-1-4 1 0 1-6 1-9 4-9 4-2 2-2 4-1 4 0 6 2 4 2 6 5 6 10 7 0 6-8 11-2 2-10 3-6 0-14 3-10-2-6-2-6 0-4 2-5 4-6 4-5 6-8 6-6 2-10 5-6 7-1 4 0 16-3 6-4 5-6 2-10-5-5 2-1 4 6 2 6 0 4 8 3 16 3 6 1 4 3 4 0 3 2 3 4 14 0 6-175 0 0-6 1-4-2-10-4-6-5-4-3-10-2-10 0-5-2-5-4-4-2-6-4-6-5-4-9-11-1-5 0-4 1-6 3-4 2-6-5-3-4 1-10 0-6-1-4 5-4 4-6 4-6 1-14 0-6 1-4 0-6-1 0-1-4-4-1 0-3-10-9-10-4-6-2-10-1-3-2-1-6-6-2-1-6-1-4 2 0 1-6 3-4 1-6 0-10-2-4 5-6-2 0-6 1-1 5-1 4-3 4-5 6-4 6-2 4-2 2-2 2-4 2-10 4-5 7-5 1-6-2-4 0-2-6-3 0-1-4-1-10 0-4 1-3 6 5 4 3 6-1 5-6 0 0-1-4-4 0-2-2-4-8-2-6 1-14 0-6-2-4 0-6-1-4 0 0-1-11-2-5-3-3-4 3-10 1-6-3-10-2-5-3-5-9-10-8-5-9-5-1 0-6-4-1 0-3-4-4-2 0-4-2-2-4 0-2 2 6 4 1 6-5 10-6 1-4-3-7-8-4-6-5-4 0-4 1-2 5-2 14-18 10-3 6 0 6-1 4-2 4-7 2-1 2-6 6-8 6-4 4-2-4-2-6 1-10 0-4-2-3-3-3-1-6-9-6-4-2-2-6-1-10 3-10 5 0-97 4-4 2-1 4-5 5-4 5-3 6-1 4-6 2-10 0-4-2-4 0-2-4-4-1 0-3-6-3-4 1-4 2-2 7-4 1-2 6-1 4 0 6 4 2 3 2 6 3 10 3 7 10-2 0-1 4-1 6-3 1-6 0-14-3-6-4-2-2-2-3-6 0-4 3-16 2-10 6-2 5 2 2 10 3 4 0 2 2 4 1 6 0 4 1 4 2 2 8 2 10 2 8 0 2 1 16-3 4-2 0-1 5-5 5-4 0-2 3-4 3-6 1-4 3-5 10-3 6 0 4-4 1-2 1-6 0-10 1-4 3-2 4-1 6 1 7-4 3-4 1-6 0-4 3-6 6-4 1 0 5-6 0-4-1-6-2-4-2-6 0-4 1-6 2-5 6-3 7-2 7 0 6-1 4-2 6-2 4-3 4-2 2 0 9-4 8-10 2-6-5-6-10-2-4 0-6-1-2-5 2-10 0-2 4-8 3-6 3-4 2 0 4-3 4 1 6 7 1 5 2 4 2 6 9 4 5 0 1 1 4 0 2-1 4 0 10-2 10 2 10 2 4 0 3-2 3-5-2-5 0-10 3-4 3-6 6-4 4-2 5-4 5-2 6 2 4 0 6-1 3-3zM22 -348l-4 2-6 2-10 7-4 5-2 4 1 6 1 0 4 14-1 6-3 3-5 1-5 0-6-2-10-7 0-1-4-4-2 0-4-4-4-3-3 1 0 20 1 6 4 4 3 6 9 4 0 1 6 4 0 1 4 4 0 1 6 2 4 0 6-1 4-2 14-10 6-1 8-3 2-3 6-5 1-2 1-6-2-7-3-3 0-4 3-2 4-4 6-2 4-2 0-1 6-2 4 1 4-4-2-4-2-1-4 0-6-1-5-4-5-2-4-4-9-4-7 0zM82 -308l-3 6 0 4-1 9 0 2 2 5 2 3 2 1 2 6-2 4-6 7-4 3-1 6 2 4 5 6 2 1 6 0 6-7 4-4 7-10 0-6-1-4 0-6 1-4 0-10 1-6-4-4-4-5-6-3-4-1-6 3zM-18 -128l0 2 2 4 4 1 2-1 1-6-3-3-6 2zM97 -128l-9 3-6 0-4 1-6 3-2 3-3 6 0 10 3 10 2 3 6 3 4 0 6 2 1 2 9 5 4 1 6-1 0-1 6-4 2-6 2-4 1-6 0-4-1-6-3-4-2-6-1 0-3-4-1-3-6-3-4 0zM-338 -112l-4 1-6 4-1 5 0 4-1 6 0 14 2 6 6 3 10 2 4 0 6-2 3-3 1-6-4-9-4-5-3-6-3-14-5 0-1-1zM-83 -78l-5 7-1 3 0 6 2 4 5 3 4 1 6-2 1-6-1-8-4-8-2-1-4 1zM127 -68l-5 2-4 8 2 6 8 7 4 2 6-3 4-4 3-2 1-6-2-4-6-3-10-3zM167 -48l-1 6 4 4 2 3 6 3 2 0 2-2 2-4 0-4-2-4 0-2-4-2-6 0-4 2zM-194 -42l-4 0-4 4-1 0-3 6 0 4 3 6 5 2 6 0 7-2 3-3 1-3 0-4-1-4-6-5-4-2zM-294 -38l-4 2-1 4 0 4 1 4 6 1 4-5 0-4 0-1-4-5zM71 -38l1 6 1 0 2-6-3-3zM124 -32l-2 1-2 3-1 6 0 4 3 6 6 2 10-2 10 0 0-7-10-13 0-1-6-4-4 1zM232 -32l0 5 6-2 1-3-1-2-6 1zM17 -22l1 2 4 2 3-4-3-4-4 2zM-344 -18l-4 2-14 3-3 5 1 6 6 7 6 2 4 0 2 1 4 0 14 3 6 0 4-3-1-6-2-4-2-6-7-10-2-1-6-1-4 2zM-262 -2l-6 4-3 10 1 6 0 10-2 9-7 11-2 4-1 6 4 3 6 1 4-1 3-3 1-6 0-10 2-1 1-3 9-11 1-5 2-4 0-6-3-10 0-2-6-4zM-214 88l6 8 2 2 8 5 6-1 1-4-1-6-6-5-4-2-6-1-4 1zM-288 92l-4 6-4 4-3 6 1 5 6 0 6-5 3-6 1 0 3-4 2-6-5-2-6 2zM22 118l-4 3-4 1-7 6 0 4 9 6 6 1 6-2 6-9 1-6-3-4-4-2-6 1zM227 142l0 6 1 0 4 8 6 5 4 1 6-4-6-10-4-6-6-2-4 2zM-184 222l2 2 2-2-2-2zM111 252l-2 6 3 1 6 0 5-1-4-6-7 0zM66 362l-4 3-2 3-1 4 1 6 2 3 6 1 4-2 2-2 3-6-1-4-3-6-5 0zM288 -248l4 2 6 2 4 4 3 2 5 10 1 6 0 10-3 5-6 3-4 1-6-1-5-8 0-11 1-6-4-13 2-6zM-382 -144l3 6-3 3-6 3 0-14zM292 -108l7 0 3 1 5 9 0 6-2 4-3 8-4 2-1 0-2-4-3-4 0-2-2-4-3-4 0-2-2-4 3-6zM288 86l4-2 4 4 0 4-4 5-4-1-2-4 1-4z"/>
<path fill="#74ed12" d="M-58 -388l24 0-3 6-5 2-6 0-5-2-5-5 0-1zM18 -383l1-5 49 0 0 5-3 5-1 6 0 4 1 6 3 1 5 3 5 4 4 6 0 2 2 4 0 4-2 6-4 4-4-4-2-1-3-5-7-2-4 1-11-3-9-7-6-2-10 0-4 1-10 5-6 4-4 2-7 1-3 6 2 4 2 6 2 4 2 6-1 4-3 2-4 1-6-2 0-1-6-4-3-6-1 0-1-4 0-6 1-4 1 0 6-6-1-4-1 0-5-9 0-4 1-3 5-4 4-2 6-2 3-2 2 0 9-4 2 0 4-2 5-4 4-4zM-118 -354l6-2 5 8 2 10 0 6-7 1-7-1-4-6 0-4 2-6 3-4zM-82 -333l4 0 6-1 10 0 5 2 0 4-1 1-1 5 1 5 5 9 1 1 1 5 0 4 1 6 0 10-1 4 3 4 6 1 4-1 6 1 4 4 2 1 3 6 0 4-2 6-3 2-3 7-1 5 4 6 9 0 5-6 0-4-2-10 4-4 1-2 9-1 4 1 7-4 4-6 9-6 10-6 4-2 6-6 2-4 1-6 0-4-1-6 1-4 3-2 4-4 6-1 4 1 0 1 6 0 6-1 0 6-2 10 1 4 0 6-1 4 0 4 6 11-3 5-3 3-1 3-3 4 0 6 5 10 5 4 4 4 6 0 8-8 4-6 2-2 6-3 7-5 1-4-1-6-2-4 0-6 4-9 5-5 1 0 2-6 7-2 6 0 7 2 3 2 4 4 6 3 4 1 10 0 6-1 10 0 6 1 4 2 3 4 1 4 0 11 2 5 4 6 4-3 2-9 2-4 2-2 1-4 2-4 1-5-1-5-2-6 0-4 1-6 3-4 5-2 6 2 4 2 2 2 2 6-4 9-1 1 0 4 3 6 5 4 3 4 0 2 3 4 3 10 0 6-2 2 0 2-3 6-1 4-1 0-2 10 1 6 0 14-1 6 3 6 8 8 1 5 2 5-1 8-6 6-4 6 0 2-2 4 2 5 4 6 6 3 4 0 6-1 4-3 0-1 6-4 4 0 6 1 5 2 2 2-3 5-7 5-3 1-5 3-3 6-3 10-3 2-6 2-4 2-6 0-4 1-6 4-2 3 1 6 12 10 3 4 1 6 0 10-3 10-2 4-4 4-10 0-6 1-5 5-5 10 0 6 5 3 5 0 6-1 3-2 4-6 7-9 6 1 5 4 5 3 4 2 11 4 0 1 5 5 2 9 0 10-2 11-2 5-3 4 5 2 5 4 2 4-1 6-6 3-6-1-1-2 0-10 1-6-11 0-5 6-2 4 0 10-2 2-2 4-8 4-10 5-3 5-2 6-2 4-2 6-1 0-4 4-2 0-4 5 1 5 5 4 4 0 6-1 4 0 6 3 4 4 1 0 3 6 2 1 1 3 4 6 5 5 4 6 6 7 1 6 0 6-2 4-5 7-3 3-1 4-2 2-4 2-4 0-1-2 1-6-5-10-1 0-4-4 0-1-4-5-5-4-1-2-10-3-6 0-5-1-5 4 0 3 6 8 0 1 4 4 0 2 6 7 0 1 4 6-1 4-4 6-9 4 0 1-6 1-4 2-6 1-4 1-4 0-1-6-1-4-4-7-6-3-4 2-2 2-2 10-2 3-5 3-5 2-3 2 0 6 2 10 5 10 6 3 6-2 4-4 6-5 5 2 4 6 1 0 1 4 3 6 6 5 2 5-2 5-7 5-9 1-4 1-6 0-4 1-6-1-4-2 0-1-6-1-4 0-6 3-4 3-2 0-4 3-4 1-6-2-4-2-6-5-4-1-6 0-10 3-4 3-2 0-1 6 3 4 4 4 6 1 1 5-3 6-5 4-3 6 0 16-1 4-5 3-4 0-6-1-7 2-5 5-2 5 4 6 10 2 4 2 2 2 2 8 2 10 1 0 2 6 3 5 1 5 2 4 1 6 0 4-1 6-22 0 3-10 1 0 0-6-1 0-3-10-1-2-4-2-2-2-4 0-6 2-6 4-5 10-1 6-2 5-3 5-109 0 0-16-3-10-1 0-3-4-5-10-1-6-1-4 0-6 6-12 0-9-6-4-10 0-10-3-4-6-1 0-2-6 0-4 5-10 5-6 5-4 0-6-2-1-6 0-6 1-4 2-10 0-13-12-9 0-6 6-1 4 4 6 1 5-6 2-4 0-6-1-4 1-4 3-7 0-2-6 0-4-5-6-8-3-7-7-2-4 0-6-1-4-4-7-6-3-4-4-7-6 0-10 1-6 3-4 3-2 5-8 1-6-4-10-2-4 0-10 1-6-1-2-6 1-5 7-15 5-4 3-6 3-4 3-6 1-4 0-6-2-4-3-6 2-4 2-5 0-5 0-7-4-4-10 0-6-2-4-2-6-5-10-6-9 0-1-6-4-8-4-2-2-4-1-4-3 0-2-4-4-1-4 0-6-1-4-4-1-10 0-5-5 3-4 6-2 10-2 6-3 4-3 0-1 6-7 4-8 6-3 4-1 11 4 3 6 2 1 5 8 3 5 0 6-4 5-4 7-6 5-2 7 2 6 0 5 7 5 9 2 4 0 6-1 4 1 6 0 5-2-5-8-2-2 2-6 2-4 1-6 0-4-3-4-6-1 0-1-6 0-4 1-1-1 0-4 2-1 2-5 7-3 7-1 9-4 0-2 2-4 1-6 0-4 1-6 4-4 9-16 1-4 0-10-3-10 1-6 4-5 2-9-2-7-6-2-5 3-5 9-2 7-2 3-6 4-7 7-1 6 1 4 0 6 1 4-2 10-3 6-3 4-2 0-4 4-4 1-6-1-4-6-3-2-1-6 0-4-2-11 1-5-1 0 0-4-2-6-4-4-3-6-1 0-6-10-8-8-6-2-4 1-6 3-4 1-6-2-4-3-6-1-4 3-3 4-2 5-1 0-2 5-2 2-6 2 0-50 6-4-1-6 1 0 3-4 2-6 5-4 4-1 6 2 2 3 0 6-2 5-3 5-1 4 4 3 10 2 4 0 6-2 4-3 14-4 6-3 4-7 1-6-5-9-4-11 0-4 1-6 3-3 6-1 13 0 1-5-8-15 2-10 0-6 2-1 4 2 6 1 4 0 6 1 20 0 4-1 10 0 5-2 4-4 1-6 4-4 5-10 1-4 6-5 4-1 6 1 6-1 4-5 2-11 2-6 6-3 0-1 4-1 6-4 3-5 1-4 0-5 2-5 4-4 1-2 3-1 6 1 4-1 1-3-5-10 0-2-2-3-2-11 0-4 2-6 6-6 6-1 4 0 10-2 6-2 7-3 10-6 3-1 4-3 0-1 6-6 2-3 3-10-1-6 6-3 7-1zM-16 -198l3 6 1 0 3-6-3-2zM-174 -172l-1 4 3 2 3-2-3-5zM24 -172l-1 4 5 2 1-2 0-4-1-1zM216 -162l-4 2-2 2-1 6 3 4 2 0 4 2 6-2 4-4 1-6-1-5-6-2-4 2zM-34 -158l-4 9 0 2 3 5 5 4 5 10 3 6 4 4 0 1 6 2 5-3 3-4 0-6-1-4-3-3-5-2 0-1-5-1-4-3 0-2-2-4 0-4-2-6-2-2-4 0zM-83 -142l-1 4 2 4 0 2 4 2 6 1 4 0 6-3 2-6-3-4-5-4-4-1-6 0-4 4zM69 -138l1 6-2 5-4 5-5 4-1 6 4 14 2 6 4 9 0 1 4 4 6 1 4 0 6 3 2 2 2 4 2 0 4 3 4-3 6-1 3 1 0 10 2 6 5 5 2 5 0 4-4 6-2 4-1 6 0 4 1 6 4 4 0 1 4 3 6 1 10 2 4 5 5 2 5 0 6-2 2-2 2-4-1-6-2-4-2-5-3-5-2-2-4-7-2-2-1-5 3-4 4 0 7 4 3 4 6 4 4 4 6 2 4 0 6-3 3-5 0-6-3-15-6-3-4-1-6 0-10 2-5-3-5-6-5-4-9-2-6-2-2 0-6-6 0-24-2-3 0-3-3-4-3-6-4-6-2-4-2-2-6-2-4 0-6 1-4 0-7-1-3-4-3-2-3-4zM205 -118l-3 3 0 3 6 1 4 0 6 1 8-2 2-3 0-4-6-2-14 3zM-163 -108l1 5 0-5zM-84 -82l-4 3-4 9-6 7-4 2-6-1-4 0-6 0-4 4 4 7 6 1 4 0 6-2 4-4 6-1 4 4 10 3 6 0 2-2 2-6 0-4-3-16-1-3-6-3-4 0zM76 -52l-4 1-6 9-3 10 1 4 4 4 4-1 6-4 2-3 3-6 3-4 2-4 0-2 3-4-3-3-10 2zM-194 -48l-4 1-9 9-3 6-1 4 3 8 6 3 14 4 2 1 3 4-2 6 3 4 2-4-2-6 0-4 4-7 6-7 1-2 0-4-1-5-6-7-6-4-8 0zM-298 -42l-4 4-2 10 1 6 5 6 6-1 7-5 3-11-2-5-8-5-6 0zM13 -28l-1 1-1 5 1 5 5 5 5 1 6-2 3-5 1-4-4-7-6-3-4 0zM-129 18l-1 4 2 6 9 4 7 5 0 1 4 4 2 0 4 2 2-6-2-6-6-6-4-5-6-5-4-2-6 2zM-233 72l-5 4 0 2-2 4 2 4 10 3 6 4 4 4 9 5 1 2 6 3 0 1 4 1 6-1 6-6 0-4-1-6-1 0-3-4-1-3-4-3-2 0-4-3-6-2-4-2-6 1-4 0-6-2-4-2zM12 108l-4 4-1 0-4 6-1 0-4 9-1 1 0 4 3 6 2 1 6 1 5 2 5 3 4 1 6-2 5-6 5-7 2-9-2-6-5-4-11-4-2 0-2-2-6 1zM-189 218l-2 4 2 6 1 1 6 1 7-2 3-4 0-2-6-7-4-1-6 2zM20 228l2 3 2-3-2-3zM37 252l0 6 1 3 2 1 3 6-5 0-6 2-4 4-3 4 1 4 6 2 6-1 10-5 1-6 0-4 4-6 1-4-2-2-2-4-8-3-4 3zM128 -330l10 2 4 6 1 4-1 2-4 2-6-1-4-2-6-1-2 6 0 4-2 4-6-1-4-3-4-4 2-6 6-2 6 0 2-2 3-6zM298 -232l0 4 8 10-1 6-3 2-4 1-6-3 0-9 2-1 3-6zM-312 -173l6 5 2 6-1 4 0 6-3 2-4-3-5-5-1 0-1-4 1-9 4-1zM-358 -135l6-1 4 2 2 2 1 4-3 5-4 0-6-2-2-7zM298 -101l3 3-2 6-2 0-3-6zM-342 17l4-1 6 0 4 2 5 4-4 6-5 2-6 0-4-2-3-6 1-4zM188 192l2 0-2 6-1-1-1-5z"/>
<path fill="#adee13" d="M-48 -388l8 0-2 3-6 0-3-3zM18 -375l4-2 6 1 9 4 5-2 6-1 4 1 2 2 2 4 1 6 3 10-2 5-6-3-10-2-4-3-6-1-4 0-6 1-6 3-4 1-4 3-3 0-3 2-4 0-6-1-7-5 3-3 1-3 3-1 13-9 3-1 5-3zM-78 -328l6-1 4 0 2 1 2 10 3 6 3 4 2 10-2 4-2 2-3 1-4 0-6 3 1 6 4 0 6 2 4 8 4 4 5 6 4 0 7-2 5 2 0 4-3 6-2 6 0 10 1 4 2 4-3 4-1 6 0 6 2 4 5 5 0 1 4 4 0 4 2 6 3 6 5-1 6-2 5-3 5-2 2-2 1-6-3-5-9-5-1 0-6-4-3-10 5-6 4-1 4-4 0-1 6-6 4-2 0-1 6-2 6-7 4-7 4-9 6-4 4-4 6-3 5-3 4-6 1 0 2-10 0-10 2-4 7-1 5 5 4 7 1 3-1 6 0 4-1 0-2 10-2 6-1 4 0 11 1 5 5 9 0 1 5 5 4 5 1 0 4 4 6 0 6-4 8-8 6-4 7-4 3 0 4-4 1 0 1-6 0-4-1-6 1-4 6-6 6-4 4-6 2-1 5 1 8 6 7 3 6-1 4 2 5 0-1 6 0 4 6 3 10 0 3 3 3 1 2 3 3 6 3 4 2 6 4 3 2-3 3-10 0-6 3-10 2-4 0-2 4-4 6-3 7 3 5 6 4 4 3 10-2 10-5 11-2 3-1 6 1 6 0 10-2 10 0 4 2 9 6 3 3 4 2 4-2 6-3 4 0 2-6 6-4 2-2-4-1-6-3-5-4-1-4 2-2 0-8 4-6 6-5 4 0 6 5 6 6 4 8 2 6-2 4-4 6-5 7 9 7 5 9 5 5 4 1 6 0 4-4 6-11 2-10 0-4-2-1-6-2-4-4-6-3-2-6 1-4 3-10 3-6 0-4 1-7 4 0 6 7 5 10 2 4 0 6 1 4 0 6 1 3 5 0 6 3 4 4 2 4 4 6 3 3 7 0 4-1 6-2 4 0 2-4 4-12 2-5 2-3 6-3 4-3 7-2 3-1 6 3 5 4 3 6 1 10-3 10-7 4-5 6-2 5 2 9 5 9 5 3 10 1 6 0 4-1 6-2 4-4 4-6 1 0 1-4 1-6 3-3 16-1 6-5 4-11 4-4 4-8 12-2 2-10 2-2 0-4 4-4 6 0 6 2 10-1 4 0 6-1 7-1 3 0 4-3 10-2 6 1 4-4 6-7 2-4 2 0 1-6 3-10 7-3 5-2 4-1 6-8 7-6 5 0 2-4 13-3 3 0 4 3 2 4 1 4 3 2 0 4 4 0 1 4 5 0 4-3 6-5 3-6 3-5 4-9 3-8-3-2-2-8-4-8-1-4 0-6 1-4 2-6 2-6 6-1 6 3 4 3 6 1 4-1 6-2 5 2 9 0 6-3 6-6 1-6 3-4 1-4 3-5 10 1 6 4 5 4 1 6 0 4 2 2 2 2 4 0 6 2 5 1 5 3 4 1 0 1 6 0 4-2 3-1-3-4-4-1-6-2-4-7-6-9-2-6 2-8 6-5 4-2 6-2 4-3 4 0 2-4 5-3 5-96 0 0-20-1-5-4-5-2-4 0-2-3-4-3-10 2-6 7-10 0-10-7-9-6-1-14 0-6-4-3-6 0-4 2-6 7-7 12-7-1-6-4-4-3-2-4-1-6 1-4 2-10 2-6-2-4-6-6-4 0-1-10 0-4 2-9 3-1 2-6 1-4 0-10 2-6 0-10-3-4-5-2-1 2-10 4-3 6-1 4 0 4-2 2 0 4-4 0-5-2-5-5-6-7-2-6 1-2 1-2 4-5 6-1 2-4 1-6-3-4-4-3-6 0-4 2-6 1 0 6-10 2-4 0-10-2-6 0-4 2-10 0-6-3-10-5-3-8 3-6 6-6 4 0 1-6 4 0 1-4 2-6 2-4 1-6 0-4-2-6-1-4 0-6 1-4 3-6 1-4-1-6-5-1-7-2-4-2-6-3-4-2-4 0-2-2-4 2-6 7 0 13 3 10 3 6 0 10-3 4-3 2-4-1-6-1 0-4-4-3-6 1-4 2-4 0-2 4-4-2-6-5-4-1-6 4-1 2-3 3-6 2-10 0-4 2-6 1 0 3-4 1-3 10-12 6-1 4 4 6 2 6-10 2-6-3-4-1-6-4-1-6 1-4 0-1 0-4-4 0-6 2-10 0-4-1-6-6-7-6-1-4 1-7 7-3 7-5 9-1 0-4 4-2 0-4 3-5 3-2 4 3 4 0 2 2 4 2 10-1 6-3 6-6 2-4-1-6-4-2-3-2-10 2-10 3-6 5-4 10-14 3-6 1-5 0-4-1-7-3-5-9-5-7-1-5 1-3 10-3 16-1 4-2 4-6-3 0-1-4-4 0-1-9-9-1-2-6-6-4-2 3-6 1 0 10-7 6-2 10-5 3-10 0-6-2-4-2-6-3-4 0-6 1-4 2-3 5-1 6 0 4 1 6-1 2-2 1-4-3-8-6-7-2-5 2-10 32 0 3-1 5 0 6 1 4 2 6 2 2 0 2 2 3-2 3-7 2-13 0-4 5-10 3-3 4-2 10 0 6-1 3-4 3-10 3-6 1 0 4-4 0-1 6-4 0-1 4-4 1 0 3-10 1-6 6-5 0 1 5 4 4 8 6 1 4-3 2 0 3-6 1 0 1-4-1-6-10-8-5-5-2-1-3-10-1-6 3-10 3-1 5-3 6 0 8-2 6 0 8-4 2 0 6-4 4-2 4-4 5-4 5-7 4-3 3-6 1-4 2-3 6-2 0-1zM-182 -178l0 1-6 3-2 6 1 6 3 4 4 3 4 1 6-2 12-6 3-6-2-4-3-4-6-3-10 0zM16 -178l-1 6 1 4 0 6-3 10-1 0 0 6 4 4 12 2 4 0 6 2 9 6 0 10-1 4 2 3 0 3 4 4 0 2 3 4 3 6 0 4 2 4 2 11 6 9 0 7-2 9-4 9-1 5-2 6 0 10 1 4 0 6 2 1 6 0 0-1 4-4 1-2 5-4 4-7 6-7 4-5 3-1 3-3 4-2 6 0 3 5 0 4-3 10-1 0-1 6 0 4 3 6 3 5 6 4 0 1 4 3 6 2 11 9 3 2 6 0 6-2 4 0 10-2 4 0 4-2 1-6-2-10 0-4 3-1 6-5 4-1 4-3 0-1 4-5 2-4-3-16-1-4-3-6-3-2-6-2-4-2-16-3 0-1-4-2-10-2-6-1-9-5-1 0-2-4-1-6 0-10 2-4 0-6-9-6-4-8-1 0-3-6-4-4-2-3-6-1-14 0-6-4-2-2-2-4-2-2-4-2-4-1-6 2-4 7 0 5-6 3-2-4-8-8-1-2-5-4-2-6 1-4 4-6 2-4-2-6-1-1-6-1-10 0-4 1zM102 -178l-1 6 0 4 1 4 6 6 4 2 6 0 4-2-3-10-3-4-2-6-2-2-4-2-6 4zM-36 -162l-2 1-2 3-2 6-4 5-6 2-6-2 0-1-9-4-5-3-10 2-1 1-5 1-7 3-3 8 0 14 2-2 4-1 5 1 9 3 14 3 2 0 4 4 6 3 4-1 10-10 6 0 13 14 7 1 4-2 5-5 1 0 2-4 0-10-3-6-9-4 0-1-6-4-4-11 0-2-6-6-4 0zM145 -118l2 6 5 3 6-2 0-8-5-2-5 2zM-172 -112l-1 4 1 6 3 4 1 3 6 2 4 0 6-4 0-8-1-3-5-5-4-2-6-1zM-33 -92l-3 4 0 10 3 5 5 0 6-2 4-4 2-3 0-6-6-5-6-2-4 1zM-192 -88l0 1-4 5-1 4 2 6 5 4 2 3 5 3-9 7-3 3-3 0-4 4-1 0-4 6-1 0-3 4-2 6-2 4 0 6 3 5 4 3 4 2 2 0 6 4 2 10 3 6 3 2 6 1 4-1 3-2 4-6 0-4-1-8 1-8 3-4 1 0 5-4 4 0 3-2-3-1-4-4-6-8-3-11-1-6 0-4 2-6 2-4 1 0 0-6-1 0-4-5-9-5-7-1zM-84 -88l-4 2-4 8 0 1-6 6-4 3-7 0-3 1-6 0-4 2-6 1-10 0-4 2 7 4 3 1 4 4 1 0 9 6 6 2 4 0 6-2 4-2 6-1 10 2 4 2 6 1 4-3 3-4 1-6-2-10 0-4-1-6-2-4-4-4-3-2-6 0zM32 -82l3 4 3 1 4 0-1-5-3-3-6 1zM212 -82l-6 4 1 6 7 0 4-5 0-2-6-4zM17 -38l-5 4 0 2-3 4-1 6 0 5 4 7 10 8 0 1 6-1 4-3 8-3 2 0 4-4-4-3 0-3-4-4 0-1-4-5-5-4-1-2-5-4-5 0zM-67 -28l-1 1 0 9 1 0 5 5 4-1 2-8 0-6-6-3zM-57 -8l-1 1 0 6 6 8 6-5 1-4-5-6-2-1zM-128 8l-6 4-3 6-1 0-2 4 0 6 5 4 7 3 6 2 7 5 5 10 0 10 1 6 7 4 4 0 6-6 0-6-1-2 0-6 2-10-1-5-2-5-8-10-6-4-1 0-3-4-6-4-4-2 0-1-6 0zM-184 22l-3 6 0 4 2 6 7 2 6-1 9-7 1-5-6-3-4-3-6-2-4 1zM-224 42l-3 6-1 0-4 8-6 6-2 6-2 3-2 1-4 5 0 1-4 4-2 0-3 6 5 2 4 3 6 1 4 0 10 2 2 2 14 9 0 1 4 3 6 3 4 0 6-2 8-4 3-6-1-7-1-3-3-4-3-6-3-3-6-3-6-4-8-4-1 0-5-5 0-9 2-6-2-4 0-2-4-4zM70 42l2 2 0-2zM88 58l4 8 6 2 4-3 2-3 1-4-3-3-4-2-6 1zM191 62l1 6-4 5-1 5 0 4 4 6 10 0 1-5-3-5-1-3-3-3-2-4 3-6-4-2zM-109 98l-2 4-1 6 1 5 3 5 6 1 4-1 5 0-1-6-3-4-1-6-4-8-6 1zM7 102l-5 5-10 19-1 6 1 6 6 4 10 3 12 7 2 2 6 0 5-7 2-5 3-4 5-10 1-6-2-6-4-5-6-3-8-6-6-2-6 0-4 2zM-80 108l-6 4-6 6 10 6 4 1 6-1 3-6 0-6-3-7-6 0zM-70 188l-2 4 0 1 4 5 7 0 3-3 1-3-1-4-4-4-6 1zM-18 202l0 3 2 3 4 1 3-1 0-6-3-2-6 2zM94 208l-3 4 1 6 6 1 2-1 3-6 0-4-1-3-4-1zM8 218l1 5 3 8 5 7 1 0 4 4 0 1 4 5 2 4 1 6-5 10-2 1-2 3-3 6 1 0 0 4 4 6 6 2 4 0 10-2 6-1 5-5 5-6 1-4 3-7 2-3 1-4-2-6-1 0-4-4 0-1-6-3-2-2-2 0-8-4-2-4-2-2-4-8 0-2-4-4-10-3-6 0zM-43 282l2 6 2 4 1 5 5 11 5 5 6 2 4-3-3-10-1-2-3-2-3-6-3-4-1-5-6-4-4 3zM-33 352l0 10 1 6 4 4 6-1 5-3 1-6-2-5-5-5-5-2-4 0zM228 -310l4 0 4 2 2 6-5 4-1 2-4 0-2-2-2-4 1-6zM-385 -48l7 2 10 2 10-2 10 2 5 2-5 5-4 2-6-1-4-2-6 0-11 10-3 6-6 4 0-30zM-322 62l4-2 6 0 3 2 1 2 4 4 2 4 0 5-6 7-8 8-2 4-1 6 1 6-2 4-2 1-6-1-8-4-5-6-1-4 1-6 3-4 2 0 7-6 2-4 2-10 2-6zM242 107l6 1 6 4 4 5 0 1 4 4 1 0 4 6 1 0 4 4 0 2 2 4 1 4-1 6-5 4-1 2-6 0-1-2-3-1-6-4-4-6-6-5-4-5-6-4-4-4-2-1 2-2 0-2 6-6 4-3 3-1zM202 153l6 0 10 8 3 7 1 4-4 7-10 2-6-1-3-2-2-6-2-4 1-6 3-4zM188 222l4 3 6 8 2 5-2 4-6 1-4 0-6-2-1-3 0-6 2-4 4-6z"/>
<path fill="#e5f015" d="M18 -370l4 0 4 2-1 6-7 4 0 1-6 1-4 2-4-4 4-5 5-5zM-78 -315l6 2 3 5-1 6-2 0-6 7-3 7-2 6-5 5-6 5-3 4 5 5 4 0 6-4 4-6 6-2 4 1 5 6 1 0 2 6 0 4 2 6 6 2 4 2 5 10 1 6 0 6-3 4-1 4 0 16-3 4-2 6 3 1 6 0 5 3 3 6 1 4 0 6-5 3-4 9-6 5-4 2-6-2-2-3-1-4 0-6 3-9 6-5 1-6-1-4-10-2-10 0-6 1-4 0-6 1-4 0-10 2-4 2-2 3 0 5 7 8 2 4-4 6-5 4-2 6 3 14 0 6-1 0 0 4-1 6 0 4 2 6 4 4 1 2 4-3 2-3 4-4 1-2 3-2 6-1 4 0 6 1 5 2 5 5 0 1 4 4 1 0 9 8 3 2 2 6 1 4 0 10 2 6 2 2 6 3 10 3 4 12 6 2 2-2 3-6-1-4-3-6 0-4 1-6 2-4 0-6-3-4-1-3-4-3-3-4 1-2 6-2 2-2 2 0 6-5 3-5 2-4 3-10 1-6 8 0 7 2 6 1 5 3 4 4 0 6-1 4 2 4 0 2 5 4 5 5 2 5 0 6-2 1-6-1-4-3-6-1-4 1-2 3-1 4 0 6 1 4 3 6 13 3 10 0 6 3 1 4 2 4 0 6-3 14-1 0-2 6-3 5-4 2-6-1-10-7-4-6-4-3-2-3-4-1-4 4-2 1-2 3-3 6-3 4-1 6 3 10 2 1 2 3 2 6 2 4 0 10 1 6 3 4 4 3 6 0 5-3 3-4 2-4 0-2 4-6 5-4 5-2 10-2 11 0 5-5 1-5 3-8 3-2 4-6 3-3 6 0 0 8-1 1 0 4 5 7 6 4 4 5 6 4 9 6 1 0 4 4 0 1 5 5 5 3 6-1 4-2 2 0 4-2 10 0 8 2 6-1 4-5 0-14 2-4 0-2 4-4 2 0 8-6 4 0 2 1 4 5 10 3 6 0 4-2 6-1 4-3 6-2 0-1 4-3 6-3 5 2 7 4 3 6 5 7 2 7-1 6-7 5-4 2-6 2 0 1-4 4-1 0-1 6 0 4-1 6-3 5-4 3-4 2-2 0-8 4-6 7-6 0-3-1-1-2-6-3 0-1-10-2-10 0-10 2-6 0-4 3-1 3 3 4 3 6 1 0 1 4 0 6 2 4 2 6 9 6 6 2 4 6 0 6-3 14-1 8-3 8-6 4-1 2-5 4-1 0-4 4 0 1-6 4 0 1-4 3-3 1-4 6-2 4-2 6-5 4-4 6 0 2-2 2-2 6-4 4-5 6 0 4 2 6 5 2 10 2 0 1 6 3 1 2 0 4-3 6-8 5-6 3-4 0-6-2-4-3-10-3-16-3-4 0-5 3-5 4-1 0-5 4-1 2-3 2-6 0-6-2-6-6-2-3-3-1-3-3-6-3-4-5-1-5-3-4-13-6-7-1-6 0-10-3-4-7-6-6-4-1-6 0-11 8 1 5 6 7 5 3 5 0 10-2 6 7 3 10 3 6 8 7 1 3 3 4 0 6-1 4-4 6-5 4-1 6 1 7 2 3 8 7 6 1 4 0 6-1 4-2 6-1 4-3 3-1 5-6 2-4 1 0 2-6 3-3 4-1 1 0 4 4-1 6 3 10 4 4 0 5-5 5-6 3-10 8-3 9 0 10 3 10-3 6-1 0-6 4-10 10-4 8-6 5-10 0-4 1-6 0-1 2-7 4-3 6-33 0 2-6 2-2 10-5 6-4 2-9-2-4 0-2-7-8-4-6-2-4-7-8-10-2-4 4 1 6 3 6 1 4 2 4 1 6 0 14-2 6-2 4 0 4-1 2-14 0-1-6 0-20-2-4-2-6-5-10-1-5 4-5 6-3 6-1 4 0-4-3-1-3-5-5-1-5-3-4 0-2-4-4-6-4-19 0-5-6-1-4 3-6 6-5 6-2 4 0 6-1 2-2 0-4-2-5-1 0-5-7-4-7-6-4-4 3-6 2-4 3-6 2-4-1-3-2-3-4-4-7-6 0-14 3-6 2-2 2-3 0-5 2-4 0-10 2-5 0-5 0-7-4 1-6 6-3 7-1 3-1 6-5 4-6 0-4-2-4-4-4-1-2-9-4-10 0-4 3-3 1-7 6-2 0-4-3-2-3 0-4 1-6 3-4 4-7 1-9-1-4 0-10 3-16 0-4-3-15-1 0-4-5 5-4 1-2 3-1 6-4 9-5 1 0 4-4 2-6-3-10-2-4-2-6-4-4-1-2-5-4-7-4-2-4-2-2 2-5 4-6 6-5 4-1 10 0 6-1 10-5 7-1 3-1 10 2 14 0 6 2 5 7 2 4 0 6-1 4 2 10-4 5 0 6 2 5-1 4 0 6-2 10 0 4 2 6 2 4 3 4 4 1 11 0 9 2 10 3 0 1 6 2 4-1 6-5 0-9-1-2 0-6-3-14-2-3-4-3-2 0-4 2-6 4-4 1-4-7-10-10 4-2 6-1 5-7 2-10 0-4 1-6 0-4-1-6-3-6-1-4-3-5-4-5-6-4 0-2-6-3 0-1-4-4-5-10-1-1-1-5-3-5-6 5 0 6-4 4 0 1-5 5-5 3-6 2-3-5-1-6-6-7-4 0-3-3-1-4 4-4 4 2 6 1 6-5 2-4-1-6-7-7-4-3-2 0-4-4-1 0-2-10 1-6 2-3 4-3 3 2 3 0 4 4 2 0 4 3 5 3 5 1 10 6 5 3 5 1 4 0 6-1 4-3 6-1 10 2 4 2 6 4 0 6-3 14 1 6 5 10 4 4 3 4 0 2 4 6 6 1 10-8 3-9-2-6-4-4-4-6-3-15-6-4-1 0-4-5 0-6 1 0 1-4 0-10-1-8-1-2 0-6-1-4-3-6-11-4-4 0 0-1-6 0-4 3-3 8-7 7-6 2-10 2-4 2-10 0-6-1-4-2-2 0-4-2-4 0-5-4 0-4 3-6 2-1 5-9 0-4-1-6-4-4 0-2-5-4-5-2-10-2-6 2-1 2 0 10-1 6-2 3-10 5-2 2-4 2-2 2-2 6 0 4 2 6 2 5 3 5-3 4-4 4-1 2-5 4-4 8-3 2-3 6-3 4-1 7-6 0-1-7-3-4-1 0-6-6-3-2-6-1-4 0-6 4-4 6-6 1-4-8-9-10-10-4-1-1-6-2-4-4-2-3-1-6 0-4 1-6-4-7-3-7 1-6 2-2 20 0 6-3 2-5 0-4-3-6-5-5-3-5-1-4 0-2 4-4 4 0 12 0 4-1 10 0 4 1 5 6 1 4 1 0 2 6 9 0 8-2 5-4-3-14 2-10 2-6-2-4 1-6 1 0 4-4 10 0 6 5 4 7 2 2 4 7 3 3 1 3 6 1 4-1 6-3 4-3 6-3 6-4 7 0 5 6 1 4-1 6 0 4 2 5 4 0 6-7 0-2 4-7 4-3 3-6-2-4-6-6-9-2-4 0-6-2-7-6-3-1-4-3-2 0-4-2-4 0-6 1-10 3-4-2 0-6 4-9 7-5 7-6 5-4 1-4 3 4 3 1 4 0 6-1 9-6 1 0 4-4 3 0 6-6 0-4-3-6-10-7-6-3-4-3-3-1-3-6-2-10 2-6 4-4 12-2 14 0 6 1 4 0 3-3 3-6 4-4 0-1 5-5 1 0 4-6 5-4 5-3 8-1zM-112 -238l0 1-10 2-4 3 0 4 2 6 2 0 4 4 0 1 6 3 4 4 6 5 4 1 3-4-2-10 0-4 2-10-2-6-5-2-6 1zM-238 -78l0 7 6 6 4 0 2-3 0-4-3-6-3-4-6 1zM197 22l1 2 0 4 3 4 1 4 6 3 4-4 4-7 0-6-4-2-4-1-6 1-4 2zM62 38l-2 4 1 6 1 2 6 3 10 3 6 6 3 6 1 0 4 4 6 1 9-5 5-8 3-2 4-6-1-2-6-1-4 0-6-1-7 0-7-2-10-10-6-2-10 3zM-155 68l3 2 4 1 3-3-3-5-4 0zM39 88l1 4 2 2 6 2 4-4-1-4-3-5-6 0zM5 98l-6 4-1 2-6 6-3 8-1 7-2 7 1 6 5 7 10 2 6 2 5 3 5 5 0 1 4 3 6-1 4-2 5-10 5-10 1 0 5-10 1-6-1-6-6-7-2-1-2-3-6-3-4-4-2 0-4-2-4-1-6 0-4 1zM-140 108l2 3 6-3 0-1-6-3zM-116 132l-6 2-10 6-6 1-1 1 1 6 6 1 4-1 6 0 4 1 6 3 6 6 8 7 6 0 4-1 6-3 2-3 0-6-2-3-6-2-9-9-5-9-6-1-4 1zM72 148l-5 4 5 3 3-3-3-5zM-68 178l-6 4-6 6-2 1-8-1-2-2-6-1-5 3 0 4 2 10 0 6 3 4 6 0 10-3 4-3 6-2 4 0 10-2 6-2 2-2 0-6-2-5-6-9-4-2-6 1zM98 198l-6 4-4 8-2 2-2 6 0 4 4 4 4 1 6 0 6-5 3-4 3-16 0-4-2-3-6 0zM-29 238l0 4 2 6 5 4 4 4 3 2 7 1 4-1 1-6-2-4-13-7-4-3 0-1-6-2zM-49 272l-3 6 3 10 3 4 2 6 2 2 0 2 2 6 2 4 1 0 5 5 0 1 4 3 5 1 5 2 6 0 6-2 4-2 4-1 6 2 6 11 2 10 2 5 4 7 6-1 3-5 3-6 1-4 0-10-1-6 0-4-3-6-3-3-6-2-4 0-6 2-4 2-4 1-2 2-4 0-2-2-4-1-3-3-3-6-4-5-4-9-1-6-2-4-3-3-6-3-4 0-4-1-6 1zM58 -299l2 1 2 6-4 7-2-3 0-4 1-6zM38 -274l4-2 6 1 4 7 2 10 2 6 2 4 2 6 8 5 4 5 6 6 4 3 6 0 7-5 7-3 6 1 4 2 6-2 4-10 6-5 2-3 2-10 0-8 2-2 4-1 4 0 6 1 4 0 0 1 6 1 4 0 5 4 5 3 6 1 4 0 6-1 5 1 5 4 0 2 3 4 1 5 3 5 2 6 5 2 4-2 2-3 0-3 2-4 0-6 1-4 0-6 1-6 2-4 4-5 4-2 6 1 4 5 2 1 3 6 1 5-1 5-2 4-2 7-3 3-2 6 0 4-1 0 0 6 1 0 0 9-2 5-2 10 0 6-2 5-4 5-6 2-5 2-5 3-2 3-8 3-1-3 1-2 4-4 2 0 3-4 1-5-4-6-6-1-8 2-2 0-8 4-1 6 2 10 3 6 6 4 0 4 1 6 3 3 0 2 6 5 8 4 1 0 3 6-8 5-10 0-6 1-5 4-2 4-1 6 0 4 4 3 4 2 10 2 11 3 0 6-7 4-4 5-4 11 0 3-6 3-10-3-3-3-1-5-1 0 0-5 2-10 2-6-1-4-2-1-6 0-3 5-3 6-1 4-4 6-9 2-10 0-5-2 0-6 5-10 6 1 4 2 6 1 6-8 1-6 0-10-1-4 0-6-2-2-4 0-6 1-10-3 0-1-4-3-6 2 0 2-4 8-6 1-7-9-5-6-2-1-6-1-10 0-6-2-4-5 0-1-4-4 0-1-5-3-13-6 5-10 2-6 1 0 5-5 5-2 4 0 6 1 4 3 2 3 3 16 1 0 4 6 4 4 6 4 2 0 4 2 10 3 2 1 2 3 2-9 0-10-2-5-4-6-4-3-5-10-1-6-6-3-14 0-3-1-2-6-1 0-4-5-6 1-4 4-1 0-5 7-4 5-9 4-11 0 0-1-6-2-10-2-4 0-6 1-4 0-6-2-3-4 1-6 4-4-1-6-5-1-5 1-5 0-8-4-2-4-2-2 0-4 2-1 4-4 10-5 0-1 10-3 6-5 2-7 4-10 6-10 5-4zM136 -202l2 5 4 1 4-2 2-2 0-4-6-3-4 3zM167 -142l-2 4 1 6 2 0 7-6 2-4-5-4-4 3zM-2 -184l4 0 6 4 0 2 3 10 0 6-3 9-6 9-4 0-6-1-4-3-4-4-5-10-1-6 0-4 5-6 9-4 2 0zM48 -162l4 0 3 4-3 2-4 1-3-3zM242 -136l10 3 6 5 2 6-2 5-6 1-6-2-4-2 0-2-3-10zM228 -74l4-2 6 0 4 4 2 4-1 6-1 0-4 4-4 0-6 2-7 8-3 8-3 2-2 6-5 2-3-7-3-5-1-6-2-4 0-6 1-4 2-2 6-1 4 0 6-1 4-2 5-4zM-322 -49l4-1 6 3 2 5 0 4-2 10-6 2-6-6-4-8 0-5 2-3zM-384 -32l-4 4 0-8zM-292 10l4 2 3 6 1 4-3 6-2 0-3-2-4-4 0-4 2-6zM-202 9l4 1 4 2 1 6-3 14-2 3-4 2-6-1-3-4-1-4 4-11 3-5zM-242 37l4-3 5 4 0 4-2 6-3 4-4 7-4 3-2 3-4-1-1-2 2-4 0-6 3-9 5-5zM-318 71l6-2 2 3-1 6-1 1-5-1-1-1 0-5zM-332 91l4-1 4 2 0 6-1 4-3 4-4-1-6-7 0-1 4-5zM-242 102l4-2 6 0 5 2 5 4 4 5 2 1 4 5 0 1 4 4 0 6-4 2-2 2-4 2-4 4-9 4-6 6-1 0-4 6-6 3-4 0-16-3-4 0-6 2-4 2-6 1-4-3-4-8-5-10-2-6 1-2 4-2 10 3 6 1 4 0 10 0 6-1 4 0 10 7 6 0 1-6-1-4 0-4-3-6-2-10 3-6zM242 117l6-1 4 2 6 4 5 6 5 4 2 6 0 4-2 5-6 1-4-2-4-4-2 0-7-10-4-4-1-6 2-5zM208 170l4 0 2 2-2 2-4 0-2-2z"/>
<path fill="#efc314" d="M-88 -303l4 5-1 6-3 4-4 4-6 2-4-6 2-4 2-6 6-4 3 0zM-152 -274l4-2 6-1 10 0 9 5 1 0 4 4 1 0 4 6 0 10-5 6-4 2-10 0-7-4-11-4-5-6-2-4 0-6 2-4zM232 -269l6 1 5 6 1 4 0 6-5 10-1 3-2 1-2 6-2 4-2 10-2 6-3 14-3 3-4-3-6-1-10 0-14 3-11-2-4 6 2 4 3 8 1 8 1 4 0 6-2 5-6 3-1 2-7 4-4 6-2 5-6 2-6-3-4-4-2-6 2-9 1-1 0-4-5-4-1-2-5-4-1 0-4-6-2-4 0-6 3-4 4 0 6 1 4 0 6-1 6-6 2-4-1-6-7-9-6 2-10 7-4 6 0 2-6 3-4-1-10 0-6-1-3-3-3-6-4-4 0-6 6-6 4-1 6 2 4 2 6 0 2-1 8-10 4-2 4 2 2 0 4 4 3 0 3 2 3-6-1-6-2-4 0-2-4-4 1-4 3-2 14-3 10 3 16 0 5 2 5 5 1 5 2 4 1 6 4 4 2 6 4 4 0 2 5 4 6 0 1-6-2-1-1-9 3-14 0-10 2-10 4-6zM32 -258l6-1 2 7-2 6-6-2-1-4 1-6zM-88 -254l6-2 5 1 0 3 2 4 1 6 2 0 4 3 6 1 4-1 6 1 3 6 2 5-1 0-3 9 0 6-2 4-5 4-4 2-4 0-12-4-8-6-2-2-2-8 2-6 2-10-7-9 3-5zM62 -230l6 1 6 7 4 4 2 6-2 5-4 5-5 4-1 2-6 3 0 1-10 2-8-2-6-3-6-1-4-2-2-4 0-6 1-4-1-6 2-2 5-2 15-3 4 5 6-3 2-5zM2 -223l6 0 4 1-4 0-4 4-6 3-6-2 0-1 6-4 1 0zM18 -223l4 0 0 1-9 0zM-128 -218l6 3 10 8 3 5 1 4-4 7-3 3-2 6 0 4-1 3-4 2-10-3-6-1-10-3-4-2 0-1-10-7-6 0-8 2-6 2-3-2 1-4 4-6 8-4 4 0 6 1 4-2 6-4 0-1 9-4 5-3 6-2 4 0zM-8 -178l6-1 4 3 3 4 2 4 0 6-5 9 0 1-4 3-6-1-4-2-5-10-1 0 0-6 2-4 4-4 3-2zM78 -178l4-1 6 3 2 8 1 6 7 7 4 7 1 1-5 3-6 0-5-4-9-11-6-4-1-5 1-5 4-5zM-48 -170l1 2-1 2-2-2zM-212 -161l4 0 6 3 4 7 6 8 3 5 2 11 0 9 1 6 0 4-3 6-3 3-6 3-8 8 0 10 1 6 3 5-1 5-5 5-4 9-1 0-3 6-5 4-1 2-6 0-1-2-9-4-4-3-10-2-6 2-4 3-4 0-2-1-4-5-10-8-4-2-2 0-4-3-3-1-3-4-1-6 1-8 0-3-2-5 0-4 2-1 6 4 4 1 6 0 4-4 1 0 3-6 2-1 4-9 0-2 3-2 3-4 5 4 5 3 4 2 6-2 4-6 6-2 0-1 4 0 6-1 4-3 1-6-4-14 1-6 2-4 0-2 3-4zM-244 -92l-1 4 2 10 0 6 1 0 3 10 7 4 4 1 1-1 5-1 3-3 0-6-2-4-2-6-5-6-2-4-2-2-4-2-2-2-4-1zM-162 -148l4-2 6 2 0 10 0 6 4 7 6 1 10-3 0-1 4-4 0-2 2-4 4-5 4-2 6 7-3 16 0 4 2 6 2 4 3 10 0 5 2 5-1 6-5 4-12 6-9 0-5-2-4-3-6-3-1-2 1-6 3-4 2-6 0-4-1-6-4-7-1-3-3-3-6-3-10-2-4-2-6-2-3-2 4-6 6-4 3-3 5-3zM188 -139l4-1 6 2 0 5-6 0-4-2-2-3zM-273 -133l5-1 6 1 1 1 0 4-1 4-6 1-10-3-1-2 2-4zM12 -129l6-2 6 3 1 6-3 2-3 8 0 14-1 6 1 4 0 6 2 4 1 8 6 6 14 0 6 1 4 2 3 3 2 6 0 4-1 6-6 10-2 1-6 0-4-2-5-5-1 0-2-4-2-7-5-9-4 0-1 1-6 2-4 7-1 6-5 7-1 3-3 4-1 6 1 0 1 4 3 6 3 4 3 6 1 4 0 10 3 15 6 5 4 0 6-1 4-2 6-2 4-5 2-4 2-6 2-1 4-5 9-4 11 0 6-1 5-3 5-5 7-1 7 2 5 4 1 0 4 4 1 0 7 6 8 5 4 5 10 8 6 0 5-4 9-2 10 2 6 1 4 2 6 2 0 1 4 4 1 0 1 5-2 5-4 3-10 2-6 0 0 1-10 3-5 7-5 4-7 0-3 3 0 4 6 4 4 0 6-5 4 0 6 2 2 2 8 13 1 3 3 4 1 0 13 10 1 6-3 10-4 4-3 6-1 4-4 4 0 2-3 4-3 6-8 8-4 2-2 0-4 2-7-2 3-16 0-4-2-2-5 2-2 10 2 10 2 4 0 6 1 4-1 6-1 2-3 2-4 10-3 6-8 4-2 6 0 4 2 6 2 4 6 3 10 3 4 4-4 7-6 3-10-3-4-3-6-1-10-5-2-2 0-6 2-4 0-4 4-6 5-10-1-6 0-4 1-6 4-4 4-6-1-1-6-1-7 2-7 6-7 4-3 6-6 7-1 3-3 4 0 2-7 8-3 4-6 2-4-8-6-5-10 7-4 3-6-2 0-1-10-2-4 0-6-1-4 0-5-1-11-7-4-6-6-5-4-1-6 0-4 2-6 2-4 2-6 1-5-4-4-4-3-10-3-6-5-2-10 0-4 2-2 0-4 4-1 2-3 2-6 0-2-2 1-6 7-2 4-3 3-5 2-9 5-4 6-2 4-2 6-2 0-1 4-4 0-6-3-4-5-10-1-6 0-10-3-10-2-2-6-3-4-3-4-2-2 0-2-4 0-16 2-4 0-2 2-4 0-4-1-6-1 0-4-8-6-7-3-5-1-3-2-1 2-4 0-2 4-4 0-1 6-1 4 0 6 1 6 5 2 10 2 3 4 2 6-3 4-5 2-1 4-4 4-6 1 0 3-6 1-4-2-6-4-4-5-6-2-4-2-10-4-8-4-2-2-5 1-5 0-10-1-2 0-14-2-10-2-2-10-5-10-2-6-5-1-6 0-4 1-2 6-3 4 0 6 1 8 8 3 6 3 4 1 0 5 4 4 6 1 6 0 10 5 5 4 3 4 2 2 0 4 4 1 0 2 6 3 5 4 5 6 1 4-3 3-4 3-2 1-2 1-6-3-9-1-5 1-6 3-10 0-4-5-10 3-3 0-3 4-4 0-1 7-9 2-6zM61 32l-5 6-1 4 0 10 3 6 10 0 4 1 6 3 4 6 6 6 4 2 6 1 4-1 5-4 1 0 5-5 4-5 1 0 4-4 2 0 4-4 2-6-2-3-6-3-11 0-3 1-6 0-10-2-4-3 0-1-6-4 0-1-10-2-10 2zM-44 62l1 6 5 2 6 1 0 1 4 6 2 4 1 6 3 6 4 2 6-3 0-1 4-3 4-1 6-6 1-4-1-1-1-5-3-7-3-3-3-1-5 1-9 5-6 0-4-2-2-3-4-2-4 0zM44 72l-2 1-5 5-5 7-1 3-3 3-10 0-6-1-9 2-5 4-12 6-3 10-1 6 0 4-1 6 0 4 1 7 5 9 5 2 6 0 9 2 5 5 1 0 5 6 4 2 6 0 5-3 5-4 3-6 1-4 1 0 3-6 3-4 3-11 1-5 0-4-1-8 1-2 5-5 2-5 0-6-2-4-1-6-5-9-4-2zM64 142l-2 1-5 5-1 4 2 6 4 3 6 1 4 2 6-1 3-5 0-11-3-6-6-1-4 1zM52 172l-1 6 0 4 3 6 4 4 4 5 6-2 1-3 3-4 1 0 2-6-2-4-11-7-4-2-6 2zM178 -126l0 6-5-2zM192 -95l6 1 1 2-1 7-4 7-2 2-4 1-3-3-1-4 1-6 3-4zM-158 -54l6-1 5 2 0 1 9 4 2 0 4 2 6 4 8 4 5 0 1 1 4 0 2-1 4 0 4-3 10 0 8 3 2 6 0 4-2 10-2 5-6 3-4 8-5 5-5 1-6-3-2-3-2-6-2-4-2-6-6-3-9 3-1 2-6-5-2-7-2-5-6-6-4-3-2 0-4-4-1-2 1-4zM212 -54l2 2-2 1-4-1zM248 -13l4 0 2 1 8 10 8 4-1 6-1 0-6 4-4 4-7 6 1 6 0 4-1 6-3 3-6 2-4 2-6 2-4 2-6 0-2-1-3-6 3-4 2-6 1 0 2-4 2-6-2-4-3-2-4-4-6-1-10 0-5-3-2-6 3-5 4-3 6-1 14 3 6-1 5-3 5-1 4-2 5-1zM-162 46l4-2 6 0 5 4-1 0-4 5-6 3-3 6-1 6 2 4 2 2 8 4 8 1 4-1 6 1 2 9-2 4-6 2-5 4-2 4-2 6 0 4 2 6 3 2 4 1 6-1 4 2-2 6-8 4-4 1-6 0 0-1-9-4-5-2-10 0-4 2 4 1 4 4 6 3 4 6 1 0 3 6 5 4 1 2 4 4 5 10 1 1 6 1 5-2 6-6 4 0 5 4 2 6 0 6-1 4 0 10-1 7-2 3-2 6 0 4 2 10 0 6 2 3 4 2 6 1 2 4 1 4-3 4-6 2-4-14-7-2-13 3-6 1-2 2-2 0-10 5-6 1-4 0-3-2 7-12 2-2 2-6-2-4-6-6-9-4-1-1-10-2-10 2-6 2-4 0-2-1 0-6 2-2 0-2 3-10 0-20 1-6 2-4 1-6 0-4 1-6 5-10 0-4 3-6 4-1 5-3 5-7 1-9-1-5-6-14-1-5-4-6-5-4-1 0-4-6 1-4 4-6 6-2 10 0 4-2 2 0zM-138 46l6-2 4 0 6 3 2 5 1 6-1 4 0 6-2 2-6 3-4 3-2-4-4-5-3-5-1-4 0-5 1-5zM-232 107l4 2 6 6 1 3 3 4-1 6-3 4-6 3-4-1-2-2-4-9 0-12 4-3zM252 126l6 3 4 3 2 6-2 3-4-1-6-5-2-7zM-268 137l6 0 0 1 8 4 5 6-3 1-6 0-4-1-10 0-6 1-4 2-6-2-1-1-1-6 2-2 6-1 10 0 4-1zM-62 207l4 0 6-1 4-2 6 0 5 4 4 4 1 9-1 1-3 10-1 5 0 5 1 6 4 4 4 6 6 9 0 1-8 0-2-1-6 0-10-2-4 0-6-1-4-2-6-4-5-6-2-4-2-10 0-16 1-4 3-6 5-3 5-1zM-12 225l4-1 6 1 4 7 1 0 0 6-5 3-9-3-4-6 0-4zM68 229l4-1 7 4 2 6-3 3-6 1-4-1-3-3 0-6zM-12 270l8 2 2 1 5 9 2 6 0 4-5 6-7 0-5-6-2-4 0-16zM-88 281l6-1 4 0 10 2 5 0 7 6 4 5 3 9 1 6-4 1-6-6 0-1-10-8-4-1-6 1-10 0-2-2-2-4 3-6zM68 286l5 7 1 5-2 0-4 4 0 1-6 3-4 6-1 0-2 6 0 4-1 6 0 4-2 6-4 4-6-3-2-11 0-10-2-10 0-6 4-1 10-5 5-4 5-3 3-1zM-2 336l4 0 6 6 2 6 2 4 1 0 1 6 0 4-3 6-3 3-6 3-4 3-3-5 0-10-2-10-1 0-2-10 2-4 2 0zM-52 350l5 2 2 6 0 10-3 4-3-4-1-6 0-4-1 0 0-6zM-18 381l6-1 5 2 0 6-18 0 5-6z"/>
<path fill="#ed8b12" d="M-148 -273l6-1 4 0 6 1 7 5 3 4 1 6-2 6-9 3-6-1-4-2-2 0-4-2-5-8 0-6 4-5zM232 -261l6 1 1 2 1 6-2 4 0 2-6 6-2-2-1-6 0-4 1-6zM158 -249l4-2 10 3 10-2 6 0 4 2 5 10 1 6 2 4 2 11 3 5 1 4-8 6-6 1-4 0-6-1-4-3-6-1-7-6-2-6-1 0-2-10-2-4 0-2-2-4-1-4 0-6zM-68 -233l6 2 6 3-1 6 0 4-1 1-1 5-3 2-6 0-4-2-2 0-4-3-4-7 4-7 8-3zM128 -219l4-1 1 3-5 5-1 0-5 4-4 2-6 1-5-3-1-4 6-2 6 0 8-4zM-142 -209l4-2 6-1 4 0 6 1 7 9 0 4-7 10-1 0-5 4-4 1-6 0-4-2-6-2 0-1-4-4 0-4 0-2 4-7 4-3zM42 -211l6 3 0 2-6 0-1-2zM162 -193l6 4 0 1 4 6 2 4 1 6 0 4-2 6-1 0-4 4 0 1-6 3-4 5-2 1-4 5-4-5 2-4 2-6 0-4-4-7-8-3-6-6-1-4 9-5 6-1 4-2 6-2 2 0zM-8 -174l6 0 4 6 1 0 0 6-1 0-4 8-6 0-4-4-2-4 0-6 4-4zM-208 -154l6 3 2 3 2 6 2 4 0 6-1 4 1 6 4 3 1 7-1 5-3 5-3 1-10 6-2 3-1 4 0 16-3 0-4-5-3-5-3-6-4-4-4-6-4-4 0-6 4-4 10-2 7-4 4-4 0-6-4-10-1-4 1-6 3-4 1 0zM-168 -133l6-3 0 4-6 0zM-138 -118l10-3 6 4 2 5 3 4 3 6 1 4 0 10-2 6-7 5-6 2-10-3-4-4 0-4 0-2 2-4 1-6 0-4-2-10 2-6zM-82 -108l4-4 7 4 2 6-3 1-7-1-4-6zM8 -84l5 2 2 4 1 6-1 4-3 3-4 1-5-4-1-7 5-7zM-258 -78l6-4 4 9 2 5 0 6 1 4-3 2-4 1-6 0-4-1-4-2-1-4 3-6 3-4 3-6zM-48 -59l6 0 5 1 5 5 4 7 6 7 3 7 1 7 1 3 3 4 9 6 3 1 5 9 2 10 0 14-3 5-10 0-1 1 0 4 1 6 2 4 0 6-2 1-1 3-3 4-10 5-6 0-10-6-4-2-6 2-2 3-1 4 2 6 14 10 3 4 2 10 2 7 3 3 2 6 0 4-1 6 0 4-1 6 0 4 1 6 2 4 2 10-2 4-6 1-10 3-8-2-1-6 5-9 1-5 0-6-1-4-1 0-3-6-2-1-2-9 1-4 0-6-1-4-3-6-5-5-13-9-3-6 0-4 1-6 1 0 3-4 1-4 2-2 3-10 5-1 6-4 4-9 1 0 3-6 2-1 4-6 6-4 5-3 1-6 0-4-2-4 0-2-4-4 0-1-7-4-3-5-3-16-5-10-1-4 2-6zM42 -58l4 0 2 1 3 5 1 4-1 6-3 5-6 1-4-2-4-4-1-6 1-4 4-5 0-1zM-138 -41l6 1 5 2 6 6-1 2-6 3-4 1-2-2-4-7-1-3zM-98 -35l6-1 4 1 3 3 1 4 0 6-4 3-4 2-10 7-4-2-2-2-1-4-2-4-1-5 0-1 4-2 6-2zM242 -8l6 0 10 10 0 7-6 5-4 2-6 1-4 0-6-2-7-7-1-6 4-2 4-4 6-2 4-2zM88 0l4-2 6 0 4 1 6 3 6 6 8 4 0 1 6 4 0 1 4 4 0 1 6 7 4 2 6-1 14-7 6 1 10 4 5 3 0 6-5 3-10 3-6 1-9 4-5 1-6-1-4-7-6-4-4-1-2 1-17 0-1-1-6 0-4-1-7-4-9-4-4-1-16 0 0 1-7 0-2-6-1 0 0-7 1-3 5-4 4-2 6-1 10 0 5-3zM-82 16l4-1 6 2 0 4-4 7-2 0-7-6 1-4zM232 32l6-4 4 0 3 4-3 6-10 2-4-2 4-6zM28 37l4-2 6-2 4 0 6 3 1 6 0 10-1 5-6 5-8 6-2 2 0 2-2 6-2 5-6 3-4 1-6-1-3-4 0-4-1-7-2-3-3-10 2-6 4-4 3-7 10 0 5-3zM-132 51l4-1 3 2 1 6-1 4-3 4-4-1-3-3 0-4 1-6zM-177 57l5 4 0 3-6 0-2-2 2-4zM128 62l4 1 10 15 6 3 4 1 6 0 4-1 6 1 4 4 1 2 10 10 7 4 2 6-4 6-6 0-5-2-5 0-4-1-4 1-2 2-4 1-2-3 2-4 0-7-2-3-4-4-4 0-6 1-4 4-4 3 1 6 7 6 6 2 4 0 3 2-3 4-6 6-3 4-2 10 0 6-3 11-6 5-10 0-10 3 0 1-4 2-6 1-4-1-6 0-3-2-3-6-1-4 0-10-1-6-6-8-6-3-7 1-3 0-1-4 0-6-1-4 1-6 7-4 3-6-4-10-2-4 0-16 1-4 6-2 6 4 4 6 2 2 4 1 4 2 6 0 9-3 5-6 6-5 4-4 3-1zM-168 76l3 2 3 0 4 2 6 2 0 1 5 5 0 4-5 16 0 6-6 3-4-2-4-7 0-6-2-5-3-15 1-4zM-182 139l4-1 6 1 6 3 4 8 0 2 2 6 2 4 0 3 2 3 4 3 5 1 5 2 4 3 6 1 10 0 3 4 1 6-2 10-2 4-1 0-5 9-4 1-6-1-7-3-5-6-2-5-6 1-4 4-6 1-24 0-6-3 0-10 1-2 0-16 4-14 1-1 2-9 3-6zM162 141l6-2 2 3-1 6-1 1-6 1-1-2 1-6zM-12 156l10-2 10 3 4 7 5 4 5 1 8-1 8-3 4-1 3 4 2 10 0 4 1 1 1 5 2 4 2 6-1 4-4 4-6 1-4-1-6 0-4 1-6 0-10-2-4-3-6-6-4-7-3-1-3-3-4-2-6 0-10 3-4 0-6-3 0-1 9-4 7-5 0-1 4-4 2-10zM132 181l5 1 0 6-5 5-4-5 3-6zM82 186l3 2 2 4-1 6-6 10-2 1-4-1-2-2 0-7 4-7 5-4zM-62 212l10-2 10 2 2 6 0 4-2 9-1 1-1 6 0 4 3 16-1 1-6 0-4-1-4 0-6-3-6-5 0-2-2-6 0-4 2-10 0-11 5-4z"/>
<path fill="#ec5211" d="M-148 -269l6-1 4 0 6 1 5 7-1 4-4 4-6 0-9-4-1 0-1-4 0-6zM183 -243l5 0 2 5-2 6 0 2-6-5-2-3 2-4zM-142 -203l4-3 6-1 4 1 6 3-2 5-4 5 0 1-4 2-6 1-6-3-2-6 2-4zM148 -183l10-2 4 1 7 6 1 6-2 6-6 2-5-4-9-9-2-1 1-4zM-8 -168l1 0 0 6-1 0 0-6zM-208 -145l3 3 0 4-3 2-1-6zM-202 -118l4 4 1 2-1 4-4 5-10 3-6 0-7-2 7-6 6-3 0-1 4-4 5-2zM-132 -109l4-1 4 2 2 2 4 8 0 6-3 10-7 2-7-2-1-6 3-10 0-10zM-38 -41l6-1 4 4 1 0 3 10 0 6-4 4-4 0-6-4-2-6 0-4 1-6zM-12 -5l4-1 6 2 2 12-2 8-6-2-5-6-2-6 0-4zM242 -4l6 2 3 4 0 6-3 2-6 1-9-3-1-6 6-4zM92 2l9 0 7 4 4 5 6 3 5 3 5 5 1 6-1 2-10 3-6-1-4-2-10-2-6 0-4-2-10-3-6 0-4 1-6-1-2-1-2-4 1-6 3-2 6-1 4 0 7-1 3-2 6-2 3-2zM-38 24l6 0 4 1 4 3 2 0 4 4 1 0 5 8 0 8-3 4-7 5-6-1-4-2-2-2-7-4-4-6 0-4 2-6 3-4zM162 31l7 1-1 5-1 1-11 0 2-2 1-4zM38 40l5 2 1 6-3 4-3 2-6-1-1-5 1-5 1-1zM-62 64l4 1 2 3 4 2 4 6 6 3 4 3 2 6 0 4-2 5-4-1-4-4-2-1-4-6-3-3-3-1-4-3 0-2-4-4 0-4zM118 72l4-4 6 0 4 4 0 1 8 9 1 6-9 7-3 7 0 6 2 4 1 5 3 5 2 6 1 0 0 18-2 6-3 6-5 2-6 0-10 2-4 2-6 1-4 0-6-2-2-5 0-10-2-9-5-7-1 0-3-4-1-5-1-1 0-4 5-10 0-4 0-2-4-9-1-1 1-4 4-2 10 0 10-2 4-2 2 0 4-4 1 0 4-6zM18 75l4-1 2 4-6 2-1-2zM-162 88l4 1 3 3 0 6-1 4-2 3-4-7-1-6zM-38 107l1 1 5 1 3 3-3 17-4-7-2-1-2-3 0-6 2-4zM-182 146l4-3 6 1 3 4 2 4 2 6 0 4 1 6-2 10 2 10-1 4-4 6-9 2-10 0-6-2-1-6 1-4 0-16 4-10 2-9 4-5zM-7 162l5-3 4 1 4 2 3 6 3 5 6 1 14-4 6 0 3 2 3 10 2 10-1 6-3 2-14 3-6 1-10-3-4-3 0-1-7-9-3-6-5-4-1 0-2-6 2-10zM-142 182l4 3 6 2 4 5-1 6-3 4-6 0-4-4-3-6-1-4 3-6zM-52 219l1 3-1 3-4-3zM-58 235l3 3 2 4-2 6-3 1-5-7 2-4z"/></g>
</g></g>
</g>
<rect x="189.4" y="427.6" width="222.2" height="20.5" fill="url(#cb)" stroke="#333" stroke-width="0.9"/>
<text x="179.4" y="466.2" font-size="13.5" textLength="20.2" lengthAdjust="spacingAndGlyphs">500</text>
<line x1="233.84" x2="233.84" y1="445.7" y2="448.1" stroke="#222" stroke-width="0.8"/>
<text x="218.84" y="466.2" font-size="13.5" textLength="28.4" lengthAdjust="spacingAndGlyphs">1000</text>
<line x1="278.28" x2="278.28" y1="445.7" y2="448.1" stroke="#222" stroke-width="0.8"/>
<text x="263.28" y="466.2" font-size="13.5" textLength="28.4" lengthAdjust="spacingAndGlyphs">1500</text>
<line x1="322.72" x2="322.72" y1="445.7" y2="448.1" stroke="#222" stroke-width="0.8"/>
<text x="309.32" y="466.2" font-size="13.5" textLength="27" lengthAdjust="spacingAndGlyphs">2000</text>
<line x1="367.16" x2="367.16" y1="445.7" y2="448.1" stroke="#222" stroke-width="0.8"/>
<text x="353.76" y="466.2" font-size="13.5" textLength="27" lengthAdjust="spacingAndGlyphs">2500</text>
<text x="398.2" y="466.2" font-size="13.5" textLength="27" lengthAdjust="spacingAndGlyphs">3000</text>
<text x="251.3" y="485.5" font-size="14" font-weight="bold" textLength="99.8" lengthAdjust="spacingAndGlyphs">Temperature (K)</text>
</svg></body></html>
